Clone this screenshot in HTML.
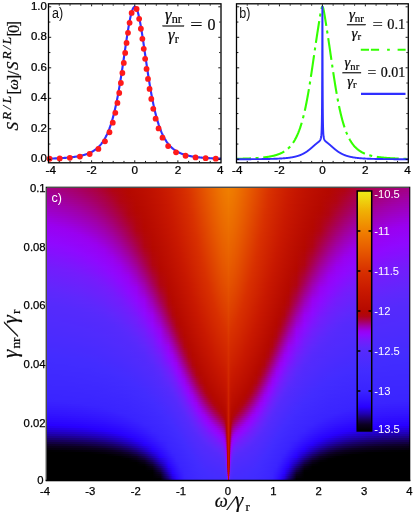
<!DOCTYPE html>
<html><head><meta charset="utf-8"><title>figure</title>
<style>html,body{margin:0;padding:0;background:#fff}body{width:415px;height:514px;position:relative;overflow:hidden}#hm{position:absolute;left:46.5px;top:187.5px;width:363.0px;height:293.0px;overflow:hidden}#hm div{width:100%}</style></head><body>
<div id="hm">
<div style="height:2px;background:linear-gradient(90deg,#a30088 0px,#a40087 1.5px,#a4007f 9.5px,#a50076 17.5px,#a6006b 25.5px,#a8005e 33.5px,#a90150 41.5px,#ab023f 49.5px,#ae032a 57.5px,#b00413 65.5px,#b20609 73.5px,#b50900 81.5px,#b80b00 89.5px,#bc0e00 97.5px,#c01200 105.5px,#c51600 113.5px,#cb1c00 121.5px,#cd2000 125.5px,#d02400 129.5px,#d32900 133.5px,#d62d00 137.5px,#d93400 141.5px,#dc3c00 145.5px,#df4400 149.5px,#e24c00 153.5px,#e55400 157.5px,#e65900 159.5px,#e75d00 161.5px,#e86100 163.5px,#e96500 165.5px,#ea6900 167.5px,#eb6d00 169.5px,#ec7100 171.5px,#ed7200 172.5px,#ed7400 173.5px,#ed7600 174.5px,#ee7700 175.5px,#ee7900 176.5px,#ef7a00 177.5px,#ef7b00 178px,#ef7b00 178.5px,#ef7c00 179px,#ef7c00 179.5px,#ef7d00 180px,#ef7d00 180.5px,#f07e00 181px,#f07f00 181.5px,#f07e00 182px,#ef7d00 182.5px,#ef7d00 183px,#ef7c00 183.5px,#ef7c00 184px,#ef7b00 184.5px,#ef7b00 185px,#ef7a00 185.5px,#ee7900 186.5px,#ee7700 187.5px,#ed7600 188.5px,#ed7400 189.5px,#ed7200 190.5px,#ec7100 191.5px,#eb6d00 193.5px,#ea6900 195.5px,#e96500 197.5px,#e86100 199.5px,#e75d00 201.5px,#e65900 203.5px,#e55400 205.5px,#e24c00 209.5px,#df4400 213.5px,#dc3c00 217.5px,#d93400 221.5px,#d62d00 225.5px,#d32900 229.5px,#d02400 233.5px,#cd2000 237.5px,#cb1c00 241.5px,#c51600 249.5px,#c01200 257.5px,#bc0e00 265.5px,#b80b00 273.5px,#b50900 281.5px,#b20609 289.5px,#b00413 297.5px,#ae032a 305.5px,#ab023f 313.5px,#a90150 321.5px,#a8005e 329.5px,#a6006b 337.5px,#a50076 345.5px,#a4007f 353.5px,#a40087 361.5px,#a30088 363px)"></div>
<div style="height:2px;background:linear-gradient(90deg,#a3008e 0px,#a3008d 1.5px,#a40085 9.5px,#a5007c 17.5px,#a60072 25.5px,#a70065 33.5px,#a90055 41.5px,#ab0144 49.5px,#ad022f 57.5px,#b00415 65.5px,#b2060a 73.5px,#b40800 81.5px,#b80b00 89.5px,#bb0e00 97.5px,#c01100 105.5px,#c51600 113.5px,#ca1c00 121.5px,#cd2000 125.5px,#d02400 129.5px,#d32800 133.5px,#d62d00 137.5px,#d93300 141.5px,#dc3b00 145.5px,#df4300 149.5px,#e24b00 153.5px,#e45400 157.5px,#e65800 159.5px,#e75c00 161.5px,#e86000 163.5px,#e96400 165.5px,#ea6800 167.5px,#eb6c00 169.5px,#ec7000 171.5px,#ec7200 172.5px,#ed7300 173.5px,#ed7500 174.5px,#ee7700 175.5px,#ee7800 176.5px,#ee7900 177.5px,#ee7a00 178px,#ef7a00 178.5px,#ef7b00 179px,#ef7b00 179.5px,#ef7c00 180px,#ef7d00 180.5px,#ef7e00 181px,#f07e00 181.5px,#ef7e00 182px,#ef7d00 182.5px,#ef7c00 183px,#ef7b00 183.5px,#ef7b00 184px,#ef7a00 184.5px,#ee7a00 185px,#ee7900 185.5px,#ee7800 186.5px,#ee7700 187.5px,#ed7500 188.5px,#ed7300 189.5px,#ec7200 190.5px,#ec7000 191.5px,#eb6c00 193.5px,#ea6800 195.5px,#e96400 197.5px,#e86000 199.5px,#e75c00 201.5px,#e65800 203.5px,#e45400 205.5px,#e24b00 209.5px,#df4300 213.5px,#dc3b00 217.5px,#d93300 221.5px,#d62d00 225.5px,#d32800 229.5px,#d02400 233.5px,#cd2000 237.5px,#ca1c00 241.5px,#c51600 249.5px,#c01100 257.5px,#bb0e00 265.5px,#b80b00 273.5px,#b40800 281.5px,#b2060a 289.5px,#b00415 297.5px,#ad022f 305.5px,#ab0144 313.5px,#a90055 321.5px,#a70065 329.5px,#a60072 337.5px,#a5007c 345.5px,#a40085 353.5px,#a3008d 361.5px,#a3008e 363px)"></div>
<div style="height:2px;background:linear-gradient(90deg,#a20094 0px,#a20093 1.5px,#a3008c 9.5px,#a40083 17.5px,#a50078 25.5px,#a6006b 33.5px,#a8005b 41.5px,#aa014a 49.5px,#ac0234 57.5px,#af041b 65.5px,#b2060c 73.5px,#b40800 81.5px,#b70b00 89.5px,#bb0e00 97.5px,#bf1100 105.5px,#c51500 113.5px,#ca1b00 121.5px,#cd1f00 125.5px,#d02400 129.5px,#d32800 133.5px,#d62d00 137.5px,#d93200 141.5px,#dc3a00 145.5px,#de4200 149.5px,#e14b00 153.5px,#e45300 157.5px,#e65700 159.5px,#e75b00 161.5px,#e85f00 163.5px,#e96300 165.5px,#ea6700 167.5px,#eb6b00 169.5px,#ec6f00 171.5px,#ec7100 172.5px,#ed7300 173.5px,#ed7400 174.5px,#ed7600 175.5px,#ee7700 176.5px,#ee7900 177.5px,#ee7900 178px,#ee7a00 178.5px,#ef7a00 179px,#ef7b00 179.5px,#ef7b00 180px,#ef7c00 180.5px,#ef7d00 181px,#ef7e00 181.5px,#ef7d00 182px,#ef7c00 182.5px,#ef7b00 183px,#ef7b00 183.5px,#ef7a00 184px,#ee7a00 184.5px,#ee7900 185px,#ee7900 185.5px,#ee7700 186.5px,#ed7600 187.5px,#ed7400 188.5px,#ed7300 189.5px,#ec7100 190.5px,#ec6f00 191.5px,#eb6b00 193.5px,#ea6700 195.5px,#e96300 197.5px,#e85f00 199.5px,#e75b00 201.5px,#e65700 203.5px,#e45300 205.5px,#e14b00 209.5px,#de4200 213.5px,#dc3a00 217.5px,#d93200 221.5px,#d62d00 225.5px,#d32800 229.5px,#d02400 233.5px,#cd1f00 237.5px,#ca1b00 241.5px,#c51500 249.5px,#bf1100 257.5px,#bb0e00 265.5px,#b70b00 273.5px,#b40800 281.5px,#b2060c 289.5px,#af041b 297.5px,#ac0234 305.5px,#aa014a 313.5px,#a8005b 321.5px,#a6006b 329.5px,#a50078 337.5px,#a40083 345.5px,#a3008c 353.5px,#a20093 361.5px,#a20094 363px)"></div>
<div style="height:2px;background:linear-gradient(90deg,#a2009b 0px,#a20099 1.5px,#a20092 9.5px,#a30089 17.5px,#a4007e 25.5px,#a60071 33.5px,#a70061 41.5px,#a9014f 49.5px,#ac023a 57.5px,#af0320 65.5px,#b1050e 73.5px,#b40802 81.5px,#b70a00 89.5px,#bb0d00 97.5px,#bf1100 105.5px,#c41500 113.5px,#ca1b00 121.5px,#cd1f00 125.5px,#cf2300 129.5px,#d22700 133.5px,#d52c00 137.5px,#d83100 141.5px,#db3900 145.5px,#de4200 149.5px,#e14a00 153.5px,#e45200 157.5px,#e55600 159.5px,#e75a00 161.5px,#e85f00 163.5px,#e96300 165.5px,#ea6700 167.5px,#eb6b00 169.5px,#ec6e00 171.5px,#ec7000 172.5px,#ec7200 173.5px,#ed7400 174.5px,#ed7500 175.5px,#ee7700 176.5px,#ee7800 177.5px,#ee7800 178px,#ee7900 178.5px,#ee7900 179px,#ee7a00 179.5px,#ef7a00 180px,#ef7b00 180.5px,#ef7c00 181px,#ef7d00 181.5px,#ef7c00 182px,#ef7b00 182.5px,#ef7a00 183px,#ee7a00 183.5px,#ee7900 184px,#ee7900 184.5px,#ee7800 185px,#ee7800 185.5px,#ee7700 186.5px,#ed7500 187.5px,#ed7400 188.5px,#ec7200 189.5px,#ec7000 190.5px,#ec6e00 191.5px,#eb6b00 193.5px,#ea6700 195.5px,#e96300 197.5px,#e85f00 199.5px,#e75a00 201.5px,#e55600 203.5px,#e45200 205.5px,#e14a00 209.5px,#de4200 213.5px,#db3900 217.5px,#d83100 221.5px,#d52c00 225.5px,#d22700 229.5px,#cf2300 233.5px,#cd1f00 237.5px,#ca1b00 241.5px,#c41500 249.5px,#bf1100 257.5px,#bb0d00 265.5px,#b70a00 273.5px,#b40802 281.5px,#b1050e 289.5px,#af0320 297.5px,#ac023a 305.5px,#a9014f 313.5px,#a70061 321.5px,#a60071 329.5px,#a4007e 337.5px,#a30089 345.5px,#a20092 353.5px,#a20099 361.5px,#a2009b 363px)"></div>
<div style="height:2px;background:linear-gradient(90deg,#a100a1 0px,#a100a0 1.5px,#a20098 9.5px,#a3008f 17.5px,#a40084 25.5px,#a50077 33.5px,#a70067 41.5px,#a90055 49.5px,#ab0240 57.5px,#ae0326 65.5px,#b10510 73.5px,#b30703 81.5px,#b60a00 89.5px,#ba0d00 97.5px,#bf1100 105.5px,#c41500 113.5px,#ca1a00 121.5px,#cc1e00 125.5px,#cf2300 129.5px,#d22700 133.5px,#d52c00 137.5px,#d83100 141.5px,#db3900 145.5px,#de4100 149.5px,#e14900 153.5px,#e45100 157.5px,#e55600 159.5px,#e65a00 161.5px,#e75e00 163.5px,#e86200 165.5px,#e96600 167.5px,#ea6a00 169.5px,#eb6e00 171.5px,#ec6f00 172.5px,#ec7100 173.5px,#ed7300 174.5px,#ed7400 175.5px,#ed7600 176.5px,#ee7700 177.5px,#ee7800 178px,#ee7800 178.5px,#ee7900 179px,#ee7900 179.5px,#ee7a00 180px,#ef7a00 180.5px,#ef7b00 181px,#ef7c00 181.5px,#ef7b00 182px,#ef7a00 182.5px,#ee7a00 183px,#ee7900 183.5px,#ee7900 184px,#ee7800 184.5px,#ee7800 185px,#ee7700 185.5px,#ed7600 186.5px,#ed7400 187.5px,#ed7300 188.5px,#ec7100 189.5px,#ec6f00 190.5px,#eb6e00 191.5px,#ea6a00 193.5px,#e96600 195.5px,#e86200 197.5px,#e75e00 199.5px,#e65a00 201.5px,#e55600 203.5px,#e45100 205.5px,#e14900 209.5px,#de4100 213.5px,#db3900 217.5px,#d83100 221.5px,#d52c00 225.5px,#d22700 229.5px,#cf2300 233.5px,#cc1e00 237.5px,#ca1a00 241.5px,#c41500 249.5px,#bf1100 257.5px,#ba0d00 265.5px,#b60a00 273.5px,#b30703 281.5px,#b10510 289.5px,#ae0326 297.5px,#ab0240 305.5px,#a90055 313.5px,#a70067 321.5px,#a50077 329.5px,#a40084 337.5px,#a3008f 345.5px,#a20098 353.5px,#a100a0 361.5px,#a100a1 363px)"></div>
<div style="height:2px;background:linear-gradient(90deg,#a000a7 0px,#a000a6 1.5px,#a1009e 9.5px,#a20095 17.5px,#a3008b 25.5px,#a4007e 33.5px,#a6006e 41.5px,#a8005a 49.5px,#aa0145 57.5px,#ad032b 65.5px,#b10511 73.5px,#b30705 81.5px,#b60a00 89.5px,#ba0d00 97.5px,#be1000 105.5px,#c41400 113.5px,#c91a00 121.5px,#cc1e00 125.5px,#cf2200 129.5px,#d22700 133.5px,#d52b00 137.5px,#d83000 141.5px,#db3800 145.5px,#de4000 149.5px,#e14800 153.5px,#e35100 157.5px,#e55500 159.5px,#e65900 161.5px,#e75d00 163.5px,#e86100 165.5px,#e96500 167.5px,#ea6900 169.5px,#eb6d00 171.5px,#ec6f00 172.5px,#ec7000 173.5px,#ec7200 174.5px,#ed7400 175.5px,#ed7500 176.5px,#ee7600 177.5px,#ee7700 178px,#ee7700 178.5px,#ee7800 179px,#ee7800 179.5px,#ee7900 180px,#ee7900 180.5px,#ef7b00 181px,#ef7b00 182px,#ee7900 182.5px,#ee7900 183px,#ee7800 183.5px,#ee7800 184px,#ee7700 184.5px,#ee7700 185px,#ee7600 185.5px,#ed7500 186.5px,#ed7400 187.5px,#ec7200 188.5px,#ec7000 189.5px,#ec6f00 190.5px,#eb6d00 191.5px,#ea6900 193.5px,#e96500 195.5px,#e86100 197.5px,#e75d00 199.5px,#e65900 201.5px,#e55500 203.5px,#e35100 205.5px,#e14800 209.5px,#de4000 213.5px,#db3800 217.5px,#d83000 221.5px,#d52b00 225.5px,#d22700 229.5px,#cf2200 233.5px,#cc1e00 237.5px,#c91a00 241.5px,#c41400 249.5px,#be1000 257.5px,#ba0d00 265.5px,#b60a00 273.5px,#b30705 281.5px,#b10511 289.5px,#ad032b 297.5px,#aa0145 305.5px,#a8005a 313.5px,#a6006e 321.5px,#a4007e 329.5px,#a3008b 337.5px,#a20095 345.5px,#a1009e 353.5px,#a000a6 361.5px,#a000a7 363px)"></div>
<div style="height:2px;background:linear-gradient(90deg,#a000ad 0px,#a000ac 1.5px,#a100a5 9.5px,#a1009c 17.5px,#a20091 25.5px,#a40084 33.5px,#a50074 41.5px,#a70061 49.5px,#aa014b 57.5px,#ad0231 65.5px,#b00413 73.5px,#b30707 81.5px,#b60900 89.5px,#b90c00 97.5px,#be1000 105.5px,#c31400 113.5px,#c91900 121.5px,#cc1d00 125.5px,#ce2200 129.5px,#d12600 133.5px,#d42b00 137.5px,#d82f00 141.5px,#da3700 145.5px,#dd3f00 149.5px,#e04800 153.5px,#e35000 157.5px,#e55400 159.5px,#e65800 161.5px,#e75c00 163.5px,#e86000 165.5px,#e96400 167.5px,#ea6800 169.5px,#eb6c00 171.5px,#eb6e00 172.5px,#ec7000 173.5px,#ec7100 174.5px,#ed7300 175.5px,#ed7400 176.5px,#ed7500 177.5px,#ee7600 178px,#ee7700 178.5px,#ee7700 179.5px,#ee7800 180px,#ee7900 180.5px,#ee7a00 181px,#ef7b00 181.5px,#ee7a00 182px,#ee7900 182.5px,#ee7800 183px,#ee7700 183.5px,#ee7700 184.5px,#ee7600 185px,#ed7500 185.5px,#ed7400 186.5px,#ed7300 187.5px,#ec7100 188.5px,#ec7000 189.5px,#eb6e00 190.5px,#eb6c00 191.5px,#ea6800 193.5px,#e96400 195.5px,#e86000 197.5px,#e75c00 199.5px,#e65800 201.5px,#e55400 203.5px,#e35000 205.5px,#e04800 209.5px,#dd3f00 213.5px,#da3700 217.5px,#d82f00 221.5px,#d42b00 225.5px,#d12600 229.5px,#ce2200 233.5px,#cc1d00 237.5px,#c91900 241.5px,#c31400 249.5px,#be1000 257.5px,#b90c00 265.5px,#b60900 273.5px,#b30707 281.5px,#b00413 289.5px,#ad0231 297.5px,#aa014b 305.5px,#a70061 313.5px,#a50074 321.5px,#a40084 329.5px,#a20091 337.5px,#a1009c 345.5px,#a100a5 353.5px,#a000ac 361.5px,#a000ad 363px)"></div>
<div style="height:2px;background:linear-gradient(90deg,#9f00b3 0px,#9f00b2 1.5px,#a000ab 9.5px,#a100a2 17.5px,#a20097 25.5px,#a3008a 33.5px,#a5007b 41.5px,#a70067 49.5px,#a90151 57.5px,#ac0237 65.5px,#b00417 73.5px,#b20609 81.5px,#b50900 89.5px,#b90c00 97.5px,#be1000 105.5px,#c31400 113.5px,#c91900 121.5px,#cb1d00 125.5px,#ce2100 129.5px,#d12600 133.5px,#d42a00 137.5px,#d72f00 141.5px,#da3600 145.5px,#dd3e00 149.5px,#e04700 153.5px,#e34f00 157.5px,#e45300 159.5px,#e65700 161.5px,#e75b00 163.5px,#e85f00 165.5px,#e96300 167.5px,#ea6700 169.5px,#eb6b00 171.5px,#eb6d00 172.5px,#ec6f00 173.5px,#ec7000 174.5px,#ec7200 175.5px,#ed7300 176.5px,#ed7500 177.5px,#ed7500 178px,#ed7600 178.5px,#ee7600 179px,#ee7700 179.5px,#ee7700 180px,#ee7800 180.5px,#ee7900 181px,#ee7a00 181.5px,#ee7900 182px,#ee7800 182.5px,#ee7700 183px,#ee7700 183.5px,#ee7600 184px,#ed7600 184.5px,#ed7500 185px,#ed7500 185.5px,#ed7300 186.5px,#ec7200 187.5px,#ec7000 188.5px,#ec6f00 189.5px,#eb6d00 190.5px,#eb6b00 191.5px,#ea6700 193.5px,#e96300 195.5px,#e85f00 197.5px,#e75b00 199.5px,#e65700 201.5px,#e45300 203.5px,#e34f00 205.5px,#e04700 209.5px,#dd3e00 213.5px,#da3600 217.5px,#d72f00 221.5px,#d42a00 225.5px,#d12600 229.5px,#ce2100 233.5px,#cb1d00 237.5px,#c91900 241.5px,#c31400 249.5px,#be1000 257.5px,#b90c00 265.5px,#b50900 273.5px,#b20609 281.5px,#b00417 289.5px,#ac0237 297.5px,#a90151 305.5px,#a70067 313.5px,#a5007b 321.5px,#a3008a 329.5px,#a20097 337.5px,#a100a2 345.5px,#a000ab 353.5px,#9f00b2 361.5px,#9f00b3 363px)"></div>
<div style="height:2px;background:linear-gradient(90deg,#9f00b8 0px,#9f00b7 1.5px,#9f00b1 9.5px,#a000a9 17.5px,#a1009e 25.5px,#a30091 33.5px,#a40081 41.5px,#a6006e 49.5px,#a80056 57.5px,#ab023c 65.5px,#af041d 73.5px,#b2060b 81.5px,#b50900 89.5px,#b90c00 97.5px,#bd0f00 105.5px,#c21300 113.5px,#c81800 121.5px,#cb1c00 125.5px,#ce2100 129.5px,#d12500 133.5px,#d42a00 137.5px,#d72e00 141.5px,#da3600 145.5px,#dd3e00 149.5px,#e04600 153.5px,#e34e00 157.5px,#e45200 159.5px,#e55600 161.5px,#e75b00 163.5px,#e85f00 165.5px,#e96300 167.5px,#ea6700 169.5px,#eb6a00 171.5px,#eb6c00 172.5px,#eb6e00 173.5px,#ec7000 174.5px,#ec7100 175.5px,#ed7300 176.5px,#ed7400 177.5px,#ed7400 178px,#ed7500 178.5px,#ed7500 179px,#ed7600 179.5px,#ee7600 180px,#ee7700 180.5px,#ee7800 181px,#ee7900 181.5px,#ee7800 182px,#ee7700 182.5px,#ee7600 183px,#ed7600 183.5px,#ed7500 184px,#ed7500 184.5px,#ed7400 185px,#ed7400 185.5px,#ed7300 186.5px,#ec7100 187.5px,#ec7000 188.5px,#eb6e00 189.5px,#eb6c00 190.5px,#eb6a00 191.5px,#ea6700 193.5px,#e96300 195.5px,#e85f00 197.5px,#e75b00 199.5px,#e55600 201.5px,#e45200 203.5px,#e34e00 205.5px,#e04600 209.5px,#dd3e00 213.5px,#da3600 217.5px,#d72e00 221.5px,#d42a00 225.5px,#d12500 229.5px,#ce2100 233.5px,#cb1c00 237.5px,#c81800 241.5px,#c21300 249.5px,#bd0f00 257.5px,#b90c00 265.5px,#b50900 273.5px,#b2060b 281.5px,#af041d 289.5px,#ab023c 297.5px,#a80056 305.5px,#a6006e 313.5px,#a40081 321.5px,#a30091 329.5px,#a1009e 337.5px,#a000a9 345.5px,#9f00b1 353.5px,#9f00b7 361.5px,#9f00b8 363px)"></div>
<div style="height:2px;background:linear-gradient(90deg,#9e00be 0px,#9e00bd 1.5px,#9f00b6 9.5px,#a000af 17.5px,#a100a5 25.5px,#a20098 33.5px,#a30088 41.5px,#a50074 49.5px,#a8005c 57.5px,#ab0142 65.5px,#ae0322 73.5px,#b2060c 81.5px,#b40800 89.5px,#b80b00 97.5px,#bd0f00 105.5px,#c21300 113.5px,#c81800 121.5px,#cb1c00 125.5px,#cd2000 129.5px,#d02500 133.5px,#d32900 137.5px,#d72e00 141.5px,#da3500 145.5px,#dd3d00 149.5px,#df4500 153.5px,#e24d00 157.5px,#e45200 159.5px,#e55600 161.5px,#e65a00 163.5px,#e75e00 165.5px,#e86200 167.5px,#e96600 169.5px,#ea6a00 171.5px,#eb6b00 172.5px,#eb6d00 173.5px,#ec6f00 174.5px,#ec7000 175.5px,#ec7200 176.5px,#ed7300 177.5px,#ed7400 178px,#ed7400 178.5px,#ed7500 179px,#ed7500 179.5px,#ed7600 180px,#ee7600 180.5px,#ee7700 181px,#ee7800 181.5px,#ee7700 182px,#ee7600 182.5px,#ed7600 183px,#ed7500 183.5px,#ed7500 184px,#ed7400 184.5px,#ed7400 185px,#ed7300 185.5px,#ec7200 186.5px,#ec7000 187.5px,#ec6f00 188.5px,#eb6d00 189.5px,#eb6b00 190.5px,#ea6a00 191.5px,#e96600 193.5px,#e86200 195.5px,#e75e00 197.5px,#e65a00 199.5px,#e55600 201.5px,#e45200 203.5px,#e24d00 205.5px,#df4500 209.5px,#dd3d00 213.5px,#da3500 217.5px,#d72e00 221.5px,#d32900 225.5px,#d02500 229.5px,#cd2000 233.5px,#cb1c00 237.5px,#c81800 241.5px,#c21300 249.5px,#bd0f00 257.5px,#b80b00 265.5px,#b40800 273.5px,#b2060c 281.5px,#ae0322 289.5px,#ab0142 297.5px,#a8005c 305.5px,#a50074 313.5px,#a30088 321.5px,#a20098 329.5px,#a100a5 337.5px,#a000af 345.5px,#9f00b6 353.5px,#9e00bd 361.5px,#9e00be 363px)"></div>
<div style="height:2px;background:linear-gradient(90deg,#9e00c4 0px,#9e00c3 1.5px,#9e00bc 9.5px,#9f00b4 17.5px,#a000ab 25.5px,#a1009e 33.5px,#a3008e 41.5px,#a5007b 49.5px,#a70063 57.5px,#aa0148 65.5px,#ae0328 73.5px,#b1050e 81.5px,#b40800 89.5px,#b80b00 97.5px,#bc0f00 105.5px,#c21300 113.5px,#c81800 121.5px,#ca1b00 125.5px,#cd2000 129.5px,#d02400 133.5px,#d32900 137.5px,#d62d00 141.5px,#d93400 145.5px,#dc3c00 149.5px,#df4400 153.5px,#e24d00 157.5px,#e35100 159.5px,#e55500 161.5px,#e65900 163.5px,#e75d00 165.5px,#e86100 167.5px,#e96500 169.5px,#ea6900 171.5px,#eb6b00 172.5px,#eb6c00 173.5px,#eb6e00 174.5px,#ec7000 175.5px,#ec7100 176.5px,#ed7200 177.5px,#ed7300 178px,#ed7300 178.5px,#ed7400 179px,#ed7400 179.5px,#ed7500 180px,#ed7500 180.5px,#ee7700 181px,#ee7700 182px,#ed7500 182.5px,#ed7500 183px,#ed7400 183.5px,#ed7400 184px,#ed7300 184.5px,#ed7300 185px,#ed7200 185.5px,#ec7100 186.5px,#ec7000 187.5px,#eb6e00 188.5px,#eb6c00 189.5px,#eb6b00 190.5px,#ea6900 191.5px,#e96500 193.5px,#e86100 195.5px,#e75d00 197.5px,#e65900 199.5px,#e55500 201.5px,#e35100 203.5px,#e24d00 205.5px,#df4400 209.5px,#dc3c00 213.5px,#d93400 217.5px,#d62d00 221.5px,#d32900 225.5px,#d02400 229.5px,#cd2000 233.5px,#ca1b00 237.5px,#c81800 241.5px,#c21300 249.5px,#bc0f00 257.5px,#b80b00 265.5px,#b40800 273.5px,#b1050e 281.5px,#ae0328 289.5px,#aa0148 297.5px,#a70063 305.5px,#a5007b 313.5px,#a3008e 321.5px,#a1009e 329.5px,#a000ab 337.5px,#9f00b4 345.5px,#9e00bc 353.5px,#9e00c3 361.5px,#9e00c4 363px)"></div>
<div style="height:2px;background:linear-gradient(90deg,#9d00c9 0px,#9d00c8 1.5px,#9e00c2 9.5px,#9f00ba 17.5px,#9f00b1 25.5px,#a100a5 33.5px,#a20095 41.5px,#a40082 49.5px,#a6006a 57.5px,#a9014e 65.5px,#ad032e 73.5px,#b10510 81.5px,#b40801 89.5px,#b70b00 97.5px,#bc0e00 105.5px,#c11300 113.5px,#c71700 121.5px,#ca1b00 125.5px,#cd1f00 129.5px,#d02400 133.5px,#d32800 137.5px,#d62d00 141.5px,#d93300 145.5px,#dc3b00 149.5px,#df4400 153.5px,#e24c00 157.5px,#e35000 159.5px,#e55400 161.5px,#e65800 163.5px,#e75c00 165.5px,#e86000 167.5px,#e96400 169.5px,#ea6800 171.5px,#ea6a00 172.5px,#eb6b00 173.5px,#eb6d00 174.5px,#ec6f00 175.5px,#ec7000 176.5px,#ec7100 177.5px,#ec7200 178px,#ed7200 178.5px,#ed7300 179px,#ed7300 179.5px,#ed7400 180px,#ed7500 180.5px,#ed7600 181px,#ee7700 181.5px,#ed7600 182px,#ed7500 182.5px,#ed7400 183px,#ed7300 183.5px,#ed7300 184px,#ed7200 184.5px,#ec7200 185px,#ec7100 185.5px,#ec7000 186.5px,#ec6f00 187.5px,#eb6d00 188.5px,#eb6b00 189.5px,#ea6a00 190.5px,#ea6800 191.5px,#e96400 193.5px,#e86000 195.5px,#e75c00 197.5px,#e65800 199.5px,#e55400 201.5px,#e35000 203.5px,#e24c00 205.5px,#df4400 209.5px,#dc3b00 213.5px,#d93300 217.5px,#d62d00 221.5px,#d32800 225.5px,#d02400 229.5px,#cd1f00 233.5px,#ca1b00 237.5px,#c71700 241.5px,#c11300 249.5px,#bc0e00 257.5px,#b70b00 265.5px,#b40801 273.5px,#b10510 281.5px,#ad032e 289.5px,#a9014e 297.5px,#a6006a 305.5px,#a40082 313.5px,#a20095 321.5px,#a100a5 329.5px,#9f00b1 337.5px,#9f00ba 345.5px,#9e00c2 353.5px,#9d00c8 361.5px,#9d00c9 363px)"></div>
<div style="height:2px;background:linear-gradient(90deg,#9d00cf 0px,#9d00ce 1.5px,#9d00c8 9.5px,#9e00c0 17.5px,#9f00b7 25.5px,#a000ab 33.5px,#a1009c 41.5px,#a30088 49.5px,#a60070 57.5px,#a90054 65.5px,#ac0234 73.5px,#b00412 81.5px,#b30703 89.5px,#b70a00 97.5px,#bc0e00 105.5px,#c11200 113.5px,#c71700 121.5px,#ca1a00 125.5px,#cc1f00 129.5px,#cf2300 133.5px,#d32800 137.5px,#d62d00 141.5px,#d93200 145.5px,#dc3a00 149.5px,#df4300 153.5px,#e14b00 157.5px,#e34f00 159.5px,#e45300 161.5px,#e65700 163.5px,#e75b00 165.5px,#e85f00 167.5px,#e96300 169.5px,#ea6700 171.5px,#ea6900 172.5px,#eb6b00 173.5px,#eb6c00 174.5px,#eb6e00 175.5px,#ec6f00 176.5px,#ec7100 177.5px,#ec7100 178px,#ec7200 178.5px,#ed7200 179px,#ed7300 179.5px,#ed7300 180px,#ed7400 180.5px,#ed7500 181px,#ed7600 181.5px,#ed7500 182px,#ed7400 182.5px,#ed7300 183px,#ed7300 183.5px,#ed7200 184px,#ec7200 184.5px,#ec7100 185px,#ec7100 185.5px,#ec6f00 186.5px,#eb6e00 187.5px,#eb6c00 188.5px,#eb6b00 189.5px,#ea6900 190.5px,#ea6700 191.5px,#e96300 193.5px,#e85f00 195.5px,#e75b00 197.5px,#e65700 199.5px,#e45300 201.5px,#e34f00 203.5px,#e14b00 205.5px,#df4300 209.5px,#dc3a00 213.5px,#d93200 217.5px,#d62d00 221.5px,#d32800 225.5px,#cf2300 229.5px,#cc1f00 233.5px,#ca1a00 237.5px,#c71700 241.5px,#c11200 249.5px,#bc0e00 257.5px,#b70a00 265.5px,#b30703 273.5px,#b00412 281.5px,#ac0234 289.5px,#a90054 297.5px,#a60070 305.5px,#a30088 313.5px,#a1009c 321.5px,#a000ab 329.5px,#9f00b7 337.5px,#9e00c0 345.5px,#9d00c8 353.5px,#9d00ce 361.5px,#9d00cf 363px)"></div>
<div style="height:2px;background:linear-gradient(90deg,#9c00d5 0px,#9c00d4 1.5px,#9d00cd 9.5px,#9e00c6 17.5px,#9e00bc 25.5px,#9f00b1 33.5px,#a100a2 41.5px,#a3008f 49.5px,#a50077 57.5px,#a8005a 65.5px,#ac023a 73.5px,#b00414 81.5px,#b30705 89.5px,#b70a00 97.5px,#bb0e00 105.5px,#c01200 113.5px,#c61700 121.5px,#c91a00 125.5px,#cc1e00 129.5px,#cf2300 133.5px,#d22700 137.5px,#d52c00 141.5px,#d83100 145.5px,#db3a00 149.5px,#de4200 153.5px,#e14a00 157.5px,#e34e00 159.5px,#e45200 161.5px,#e55600 163.5px,#e75b00 165.5px,#e85f00 167.5px,#e96200 169.5px,#ea6600 171.5px,#ea6800 172.5px,#ea6a00 173.5px,#eb6b00 174.5px,#eb6d00 175.5px,#ec6e00 176.5px,#ec7000 177.5px,#ec7000 178px,#ec7100 178.5px,#ec7100 179px,#ec7200 179.5px,#ed7200 180px,#ed7300 180.5px,#ed7400 181px,#ed7500 181.5px,#ed7400 182px,#ed7300 182.5px,#ed7200 183px,#ec7200 183.5px,#ec7100 184px,#ec7100 184.5px,#ec7000 185px,#ec7000 185.5px,#ec6e00 186.5px,#eb6d00 187.5px,#eb6b00 188.5px,#ea6a00 189.5px,#ea6800 190.5px,#ea6600 191.5px,#e96200 193.5px,#e85f00 195.5px,#e75b00 197.5px,#e55600 199.5px,#e45200 201.5px,#e34e00 203.5px,#e14a00 205.5px,#de4200 209.5px,#db3a00 213.5px,#d83100 217.5px,#d52c00 221.5px,#d22700 225.5px,#cf2300 229.5px,#cc1e00 233.5px,#c91a00 237.5px,#c61700 241.5px,#c01200 249.5px,#bb0e00 257.5px,#b70a00 265.5px,#b30705 273.5px,#b00414 281.5px,#ac023a 289.5px,#a8005a 297.5px,#a50077 305.5px,#a3008f 313.5px,#a100a2 321.5px,#9f00b1 329.5px,#9e00bc 337.5px,#9e00c6 345.5px,#9d00cd 353.5px,#9c00d4 361.5px,#9c00d5 363px)"></div>
<div style="height:2px;background:linear-gradient(90deg,#9c00db 0px,#9c00da 1.5px,#9c00d3 9.5px,#9d00cc 17.5px,#9e00c2 25.5px,#9f00b7 33.5px,#a000a9 41.5px,#a20096 49.5px,#a4007e 57.5px,#a70061 65.5px,#ab0140 73.5px,#af041a 81.5px,#b30707 89.5px,#b60a00 97.5px,#bb0d00 105.5px,#c01200 113.5px,#c61600 121.5px,#c91900 125.5px,#cc1e00 129.5px,#cf2200 133.5px,#d22700 137.5px,#d52c00 141.5px,#d83100 145.5px,#db3900 149.5px,#de4100 153.5px,#e14900 157.5px,#e24d00 159.5px,#e45200 161.5px,#e55600 163.5px,#e65a00 165.5px,#e75e00 167.5px,#e86200 169.5px,#e96500 171.5px,#ea6700 172.5px,#ea6900 173.5px,#eb6b00 174.5px,#eb6c00 175.5px,#eb6e00 176.5px,#ec6f00 177.5px,#ec6f00 178px,#ec7000 178.5px,#ec7000 179px,#ec7100 179.5px,#ec7100 180px,#ed7200 180.5px,#ed7300 181px,#ed7400 181.5px,#ed7300 182px,#ed7200 182.5px,#ec7100 183px,#ec7100 183.5px,#ec7000 184px,#ec7000 184.5px,#ec6f00 185px,#ec6f00 185.5px,#eb6e00 186.5px,#eb6c00 187.5px,#eb6b00 188.5px,#ea6900 189.5px,#ea6700 190.5px,#e96500 191.5px,#e86200 193.5px,#e75e00 195.5px,#e65a00 197.5px,#e55600 199.5px,#e45200 201.5px,#e24d00 203.5px,#e14900 205.5px,#de4100 209.5px,#db3900 213.5px,#d83100 217.5px,#d52c00 221.5px,#d22700 225.5px,#cf2200 229.5px,#cc1e00 233.5px,#c91900 237.5px,#c61600 241.5px,#c01200 249.5px,#bb0d00 257.5px,#b60a00 265.5px,#b30707 273.5px,#af041a 281.5px,#ab0140 289.5px,#a70061 297.5px,#a4007e 305.5px,#a20096 313.5px,#a000a9 321.5px,#9f00b7 329.5px,#9e00c2 337.5px,#9d00cc 345.5px,#9c00d3 353.5px,#9c00da 361.5px,#9c00db 363px)"></div>
<div style="height:2px;background:linear-gradient(90deg,#9b00e1 0px,#9b00e0 1.5px,#9c00d9 9.5px,#9d00d2 17.5px,#9d00c8 25.5px,#9e00bd 33.5px,#a000af 41.5px,#a1009d 49.5px,#a40085 57.5px,#a70068 65.5px,#aa0146 73.5px,#af0320 81.5px,#b20609 89.5px,#b60900 97.5px,#ba0d00 105.5px,#c01100 113.5px,#c51600 121.5px,#c91900 125.5px,#cb1d00 129.5px,#ce2200 133.5px,#d22600 137.5px,#d52b00 141.5px,#d83000 145.5px,#db3800 149.5px,#de4000 153.5px,#e14800 157.5px,#e24d00 159.5px,#e35100 161.5px,#e55500 163.5px,#e65900 165.5px,#e75d00 167.5px,#e86100 169.5px,#e96500 171.5px,#ea6600 172.5px,#ea6800 173.5px,#ea6a00 174.5px,#eb6b00 175.5px,#eb6d00 176.5px,#ec6e00 177.5px,#ec6f00 178px,#ec6f00 178.5px,#ec7000 179px,#ec7000 179.5px,#ec7100 180px,#ec7100 180.5px,#ed7300 181px,#ed7300 182px,#ec7100 182.5px,#ec7100 183px,#ec7000 183.5px,#ec7000 184px,#ec6f00 184.5px,#ec6f00 185px,#ec6e00 185.5px,#eb6d00 186.5px,#eb6b00 187.5px,#ea6a00 188.5px,#ea6800 189.5px,#ea6600 190.5px,#e96500 191.5px,#e86100 193.5px,#e75d00 195.5px,#e65900 197.5px,#e55500 199.5px,#e35100 201.5px,#e24d00 203.5px,#e14800 205.5px,#de4000 209.5px,#db3800 213.5px,#d83000 217.5px,#d52b00 221.5px,#d22600 225.5px,#ce2200 229.5px,#cb1d00 233.5px,#c91900 237.5px,#c51600 241.5px,#c01100 249.5px,#ba0d00 257.5px,#b60900 265.5px,#b20609 273.5px,#af0320 281.5px,#aa0146 289.5px,#a70068 297.5px,#a40085 305.5px,#a1009d 313.5px,#a000af 321.5px,#9e00bd 329.5px,#9d00c8 337.5px,#9d00d2 345.5px,#9c00d9 353.5px,#9b00e0 361.5px,#9b00e1 363px)"></div>
<div style="height:2px;background:linear-gradient(90deg,#9b00e7 0px,#9b00e6 1.5px,#9b00df 9.5px,#9c00d8 17.5px,#9d00ce 25.5px,#9e00c3 33.5px,#9f00b5 41.5px,#a100a4 49.5px,#a3008c 57.5px,#a6006f 65.5px,#aa014c 73.5px,#ae0326 81.5px,#b2060b 89.5px,#b50900 97.5px,#ba0d00 105.5px,#bf1100 113.5px,#c51600 121.5px,#c81800 125.5px,#cb1d00 129.5px,#ce2100 133.5px,#d12600 137.5px,#d42a00 141.5px,#d82f00 145.5px,#da3700 149.5px,#dd3f00 153.5px,#e04800 157.5px,#e24c00 159.5px,#e35000 161.5px,#e55400 163.5px,#e65800 165.5px,#e75c00 167.5px,#e86000 169.5px,#e96400 171.5px,#e96600 172.5px,#ea6700 173.5px,#ea6900 174.5px,#eb6a00 175.5px,#eb6c00 176.5px,#eb6d00 177.5px,#eb6e00 178px,#ec6e00 178.5px,#ec6f00 179px,#ec6f00 179.5px,#ec7000 180px,#ec7100 180.5px,#ec7200 181px,#ed7300 181.5px,#ec7200 182px,#ec7100 182.5px,#ec7000 183px,#ec6f00 183.5px,#ec6f00 184px,#ec6e00 184.5px,#eb6e00 185px,#eb6d00 185.5px,#eb6c00 186.5px,#eb6a00 187.5px,#ea6900 188.5px,#ea6700 189.5px,#e96600 190.5px,#e96400 191.5px,#e86000 193.5px,#e75c00 195.5px,#e65800 197.5px,#e55400 199.5px,#e35000 201.5px,#e24c00 203.5px,#e04800 205.5px,#dd3f00 209.5px,#da3700 213.5px,#d82f00 217.5px,#d42a00 221.5px,#d12600 225.5px,#ce2100 229.5px,#cb1d00 233.5px,#c81800 237.5px,#c51600 241.5px,#bf1100 249.5px,#ba0d00 257.5px,#b50900 265.5px,#b2060b 273.5px,#ae0326 281.5px,#aa014c 289.5px,#a6006f 297.5px,#a3008c 305.5px,#a100a4 313.5px,#9f00b5 321.5px,#9e00c3 329.5px,#9d00ce 337.5px,#9c00d8 345.5px,#9b00df 353.5px,#9b00e6 361.5px,#9b00e7 363px)"></div>
<div style="height:2px;background:linear-gradient(90deg,#9a00ed 0px,#9a00ec 1.5px,#9b00e5 9.5px,#9c00de 17.5px,#9c00d4 25.5px,#9d00c9 33.5px,#9e00bc 41.5px,#a000ab 49.5px,#a20093 57.5px,#a50076 65.5px,#a90053 73.5px,#ad032c 81.5px,#b1050d 89.5px,#b50900 97.5px,#b90c00 105.5px,#bf1100 113.5px,#c51500 121.5px,#c81800 125.5px,#cb1c00 129.5px,#ce2100 133.5px,#d12500 137.5px,#d42a00 141.5px,#d72f00 145.5px,#da3600 149.5px,#dd3e00 153.5px,#e04700 157.5px,#e14b00 159.5px,#e34f00 161.5px,#e45300 163.5px,#e65700 165.5px,#e75b00 167.5px,#e85f00 169.5px,#e96300 171.5px,#e96500 172.5px,#ea6600 173.5px,#ea6800 174.5px,#ea6a00 175.5px,#eb6b00 176.5px,#eb6c00 177.5px,#eb6d00 178px,#eb6d00 178.5px,#eb6e00 179px,#ec6e00 179.5px,#ec6f00 180px,#ec7000 180.5px,#ec7100 181px,#ec7200 181.5px,#ec7100 182px,#ec7000 182.5px,#ec6f00 183px,#ec6e00 183.5px,#eb6e00 184px,#eb6d00 184.5px,#eb6d00 185px,#eb6c00 185.5px,#eb6b00 186.5px,#ea6a00 187.5px,#ea6800 188.5px,#ea6600 189.5px,#e96500 190.5px,#e96300 191.5px,#e85f00 193.5px,#e75b00 195.5px,#e65700 197.5px,#e45300 199.5px,#e34f00 201.5px,#e14b00 203.5px,#e04700 205.5px,#dd3e00 209.5px,#da3600 213.5px,#d72f00 217.5px,#d42a00 221.5px,#d12500 225.5px,#ce2100 229.5px,#cb1c00 233.5px,#c81800 237.5px,#c51500 241.5px,#bf1100 249.5px,#b90c00 257.5px,#b50900 265.5px,#b1050d 273.5px,#ad032c 281.5px,#a90053 289.5px,#a50076 297.5px,#a20093 305.5px,#a000ab 313.5px,#9e00bc 321.5px,#9d00c9 329.5px,#9c00d4 337.5px,#9c00de 345.5px,#9b00e5 353.5px,#9a00ec 361.5px,#9a00ed 363px)"></div>
<div style="height:2px;background:linear-gradient(90deg,#9900f1 0px,#9a00f1 1.5px,#9a00eb 9.5px,#9b00e4 17.5px,#9c00db 25.5px,#9d00cf 33.5px,#9e00c2 41.5px,#9f00b1 49.5px,#a2009a 57.5px,#a5007d 65.5px,#a80059 73.5px,#ad0232 81.5px,#b1050f 89.5px,#b50800 97.5px,#b90c00 105.5px,#be1000 113.5px,#c41500 121.5px,#c71800 125.5px,#ca1c00 129.5px,#cd2000 133.5px,#d02500 137.5px,#d42900 141.5px,#d72e00 145.5px,#da3500 149.5px,#dd3e00 153.5px,#e04600 157.5px,#e14a00 159.5px,#e34e00 161.5px,#e45200 163.5px,#e55600 165.5px,#e75a00 167.5px,#e85e00 169.5px,#e86200 171.5px,#e96400 172.5px,#e96600 173.5px,#ea6700 174.5px,#ea6900 175.5px,#eb6a00 176.5px,#eb6b00 177.5px,#eb6c00 178px,#eb6d00 178.5px,#eb6d00 179px,#eb6e00 179.5px,#ec6e00 180px,#ec6f00 180.5px,#ec7000 181px,#ec7100 181.5px,#ec7000 182px,#ec6f00 182.5px,#ec6e00 183px,#eb6e00 183.5px,#eb6d00 184px,#eb6d00 184.5px,#eb6c00 185px,#eb6b00 185.5px,#eb6a00 186.5px,#ea6900 187.5px,#ea6700 188.5px,#e96600 189.5px,#e96400 190.5px,#e86200 191.5px,#e85e00 193.5px,#e75a00 195.5px,#e55600 197.5px,#e45200 199.5px,#e34e00 201.5px,#e14a00 203.5px,#e04600 205.5px,#dd3e00 209.5px,#da3500 213.5px,#d72e00 217.5px,#d42900 221.5px,#d02500 225.5px,#cd2000 229.5px,#ca1c00 233.5px,#c71800 237.5px,#c41500 241.5px,#be1000 249.5px,#b90c00 257.5px,#b50800 265.5px,#b1050f 273.5px,#ad0232 281.5px,#a80059 289.5px,#a5007d 297.5px,#a2009a 305.5px,#9f00b1 313.5px,#9e00c2 321.5px,#9d00cf 329.5px,#9c00db 337.5px,#9b00e4 345.5px,#9a00eb 353.5px,#9a00f1 361.5px,#9900f1 363px)"></div>
<div style="height:2px;background:linear-gradient(90deg,#9801f2 0px,#9901f2 1.5px,#9a00f0 9.5px,#9b00ea 17.5px,#9b00e1 25.5px,#9c00d6 33.5px,#9d00c8 41.5px,#9f00b7 49.5px,#a100a1 57.5px,#a40084 65.5px,#a70060 73.5px,#ac0239 81.5px,#b10511 89.5px,#b40800 97.5px,#b90c00 105.5px,#be1000 113.5px,#c41500 121.5px,#c71700 125.5px,#ca1b00 129.5px,#cd2000 133.5px,#d02400 137.5px,#d32900 141.5px,#d72e00 145.5px,#da3400 149.5px,#dc3d00 153.5px,#df4500 157.5px,#e14900 159.5px,#e24d00 161.5px,#e45100 163.5px,#e55500 165.5px,#e65900 167.5px,#e75d00 169.5px,#e86100 171.5px,#e96300 172.5px,#e96500 173.5px,#ea6600 174.5px,#ea6800 175.5px,#ea6900 176.5px,#eb6b00 177.5px,#eb6b00 178px,#eb6c00 178.5px,#eb6c00 179px,#eb6d00 179.5px,#eb6d00 180px,#eb6e00 180.5px,#ec6f00 181px,#ec7000 181.5px,#ec6f00 182px,#eb6e00 182.5px,#eb6d00 183px,#eb6d00 183.5px,#eb6c00 184px,#eb6c00 184.5px,#eb6b00 185px,#eb6b00 185.5px,#ea6900 186.5px,#ea6800 187.5px,#ea6600 188.5px,#e96500 189.5px,#e96300 190.5px,#e86100 191.5px,#e75d00 193.5px,#e65900 195.5px,#e55500 197.5px,#e45100 199.5px,#e24d00 201.5px,#e14900 203.5px,#df4500 205.5px,#dc3d00 209.5px,#da3400 213.5px,#d72e00 217.5px,#d32900 221.5px,#d02400 225.5px,#cd2000 229.5px,#ca1b00 233.5px,#c71700 237.5px,#c41500 241.5px,#be1000 249.5px,#b90c00 257.5px,#b40800 265.5px,#b10511 273.5px,#ac0239 281.5px,#a70060 289.5px,#a40084 297.5px,#a100a1 305.5px,#9f00b7 313.5px,#9d00c8 321.5px,#9c00d6 329.5px,#9b00e1 337.5px,#9b00ea 345.5px,#9a00f0 353.5px,#9901f2 361.5px,#9801f2 363px)"></div>
<div style="height:2px;background:linear-gradient(90deg,#9702f4 0px,#9702f4 1.5px,#9901f2 9.5px,#9a00f0 17.5px,#9b00e7 25.5px,#9c00dc 33.5px,#9d00ce 41.5px,#9e00bd 49.5px,#a000a8 57.5px,#a3008b 65.5px,#a70067 73.5px,#ab023f 81.5px,#b00413 89.5px,#b40801 97.5px,#b80b00 105.5px,#bd1000 113.5px,#c31400 121.5px,#c71700 125.5px,#ca1b00 129.5px,#cd1f00 133.5px,#d02400 137.5px,#d32800 141.5px,#d62d00 145.5px,#d93400 149.5px,#dc3c00 153.5px,#df4400 157.5px,#e04800 159.5px,#e24c00 161.5px,#e35000 163.5px,#e55500 165.5px,#e65900 167.5px,#e75c00 169.5px,#e86000 171.5px,#e96200 172.5px,#e96400 173.5px,#e96500 174.5px,#ea6700 175.5px,#ea6800 176.5px,#ea6a00 177.5px,#eb6a00 178px,#eb6b00 178.5px,#eb6b00 179px,#eb6c00 179.5px,#eb6c00 180px,#eb6d00 180.5px,#ec6e00 181px,#ec6f00 181.5px,#ec6e00 182px,#eb6d00 182.5px,#eb6c00 183px,#eb6c00 183.5px,#eb6b00 184px,#eb6b00 184.5px,#eb6a00 185px,#ea6a00 185.5px,#ea6800 186.5px,#ea6700 187.5px,#e96500 188.5px,#e96400 189.5px,#e96200 190.5px,#e86000 191.5px,#e75c00 193.5px,#e65900 195.5px,#e55500 197.5px,#e35000 199.5px,#e24c00 201.5px,#e04800 203.5px,#df4400 205.5px,#dc3c00 209.5px,#d93400 213.5px,#d62d00 217.5px,#d32800 221.5px,#d02400 225.5px,#cd1f00 229.5px,#ca1b00 233.5px,#c71700 237.5px,#c31400 241.5px,#bd1000 249.5px,#b80b00 257.5px,#b40801 265.5px,#b00413 273.5px,#ab023f 281.5px,#a70067 289.5px,#a3008b 297.5px,#a000a8 305.5px,#9e00bd 313.5px,#9d00ce 321.5px,#9c00dc 329.5px,#9b00e7 337.5px,#9a00f0 345.5px,#9901f2 353.5px,#9702f4 361.5px,#9702f4 363px)"></div>
<div style="height:2px;background:linear-gradient(90deg,#9603f6 0px,#9603f5 1.5px,#9802f4 9.5px,#9901f2 17.5px,#9a00ed 25.5px,#9b00e2 33.5px,#9c00d4 41.5px,#9e00c4 49.5px,#a000af 57.5px,#a20092 65.5px,#a6006f 73.5px,#aa0145 81.5px,#b00416 89.5px,#b30703 97.5px,#b80b00 105.5px,#bd0f00 113.5px,#c31400 121.5px,#c61700 125.5px,#c91a00 129.5px,#cc1e00 133.5px,#cf2300 137.5px,#d32800 141.5px,#d62d00 145.5px,#d93300 149.5px,#dc3b00 153.5px,#df4300 157.5px,#e04700 159.5px,#e24b00 161.5px,#e35000 163.5px,#e45400 165.5px,#e65800 167.5px,#e75c00 169.5px,#e85f00 171.5px,#e86100 172.5px,#e96300 173.5px,#e96500 174.5px,#ea6600 175.5px,#ea6800 176.5px,#ea6900 177.5px,#ea6900 178px,#ea6a00 178.5px,#eb6a00 179px,#eb6b00 179.5px,#eb6b00 180px,#eb6c00 180.5px,#eb6d00 181px,#ec6e00 181.5px,#eb6d00 182px,#eb6c00 182.5px,#eb6b00 183px,#eb6b00 183.5px,#eb6a00 184px,#ea6a00 184.5px,#ea6900 185px,#ea6900 185.5px,#ea6800 186.5px,#ea6600 187.5px,#e96500 188.5px,#e96300 189.5px,#e86100 190.5px,#e85f00 191.5px,#e75c00 193.5px,#e65800 195.5px,#e45400 197.5px,#e35000 199.5px,#e24b00 201.5px,#e04700 203.5px,#df4300 205.5px,#dc3b00 209.5px,#d93300 213.5px,#d62d00 217.5px,#d32800 221.5px,#cf2300 225.5px,#cc1e00 229.5px,#c91a00 233.5px,#c61700 237.5px,#c31400 241.5px,#bd0f00 249.5px,#b80b00 257.5px,#b30703 265.5px,#b00416 273.5px,#aa0145 281.5px,#a6006f 289.5px,#a20092 297.5px,#a000af 305.5px,#9e00c4 313.5px,#9c00d4 321.5px,#9b00e2 329.5px,#9a00ed 337.5px,#9901f2 345.5px,#9802f4 353.5px,#9603f5 361.5px,#9603f6 363px)"></div>
<div style="height:2px;background:linear-gradient(90deg,#9504f7 0px,#9504f7 1.5px,#9603f5 9.5px,#9802f3 17.5px,#9901f1 25.5px,#9b00e8 33.5px,#9c00db 41.5px,#9d00ca 49.5px,#9f00b5 57.5px,#a2009a 65.5px,#a50076 73.5px,#aa014c 81.5px,#af031d 89.5px,#b30705 97.5px,#b70b00 105.5px,#bd0f00 113.5px,#c31400 121.5px,#c61600 125.5px,#c91900 129.5px,#cc1e00 133.5px,#cf2300 137.5px,#d22700 141.5px,#d52c00 145.5px,#d93200 149.5px,#dc3a00 153.5px,#de4200 157.5px,#e04600 159.5px,#e14b00 161.5px,#e34f00 163.5px,#e45300 165.5px,#e65700 167.5px,#e75b00 169.5px,#e85e00 171.5px,#e86000 172.5px,#e86200 173.5px,#e96400 174.5px,#e96500 175.5px,#ea6700 176.5px,#ea6800 177.5px,#ea6800 178px,#ea6900 178.5px,#ea6a00 179px,#eb6a00 179.5px,#eb6b00 180px,#eb6b00 180.5px,#eb6d00 181px,#eb6d00 182px,#eb6b00 182.5px,#eb6b00 183px,#eb6a00 183.5px,#ea6a00 184px,#ea6900 184.5px,#ea6800 185px,#ea6800 185.5px,#ea6700 186.5px,#e96500 187.5px,#e96400 188.5px,#e86200 189.5px,#e86000 190.5px,#e85e00 191.5px,#e75b00 193.5px,#e65700 195.5px,#e45300 197.5px,#e34f00 199.5px,#e14b00 201.5px,#e04600 203.5px,#de4200 205.5px,#dc3a00 209.5px,#d93200 213.5px,#d52c00 217.5px,#d22700 221.5px,#cf2300 225.5px,#cc1e00 229.5px,#c91900 233.5px,#c61600 237.5px,#c31400 241.5px,#bd0f00 249.5px,#b70b00 257.5px,#b30705 265.5px,#af031d 273.5px,#aa014c 281.5px,#a50076 289.5px,#a2009a 297.5px,#9f00b5 305.5px,#9d00ca 313.5px,#9c00db 321.5px,#9b00e8 329.5px,#9901f1 337.5px,#9802f3 345.5px,#9603f5 353.5px,#9504f7 361.5px,#9504f7 363px)"></div>
<div style="height:2px;background:linear-gradient(90deg,#9405f9 0px,#9405f9 1.5px,#9504f7 9.5px,#9703f5 17.5px,#9801f3 25.5px,#9a00ef 33.5px,#9b00e1 41.5px,#9d00d1 49.5px,#9e00bc 57.5px,#a100a1 65.5px,#a4007d 73.5px,#a90052 81.5px,#ae0323 89.5px,#b30707 97.5px,#b70a00 105.5px,#bc0f00 113.5px,#c21300 121.5px,#c51600 125.5px,#c91900 129.5px,#cc1d00 133.5px,#cf2200 137.5px,#d22700 141.5px,#d52c00 145.5px,#d83100 149.5px,#db3900 153.5px,#de4100 157.5px,#e04600 159.5px,#e14a00 161.5px,#e24e00 163.5px,#e45200 165.5px,#e55600 167.5px,#e65a00 169.5px,#e75d00 171.5px,#e85f00 172.5px,#e86100 173.5px,#e96300 174.5px,#e96400 175.5px,#e96600 176.5px,#ea6700 177.5px,#ea6800 178px,#ea6800 178.5px,#ea6900 179px,#ea6900 179.5px,#ea6a00 180px,#eb6a00 180.5px,#eb6c00 181px,#eb6c00 182px,#eb6a00 182.5px,#ea6a00 183px,#ea6900 183.5px,#ea6900 184px,#ea6800 184.5px,#ea6800 185px,#ea6700 185.5px,#e96600 186.5px,#e96400 187.5px,#e96300 188.5px,#e86100 189.5px,#e85f00 190.5px,#e75d00 191.5px,#e65a00 193.5px,#e55600 195.5px,#e45200 197.5px,#e24e00 199.5px,#e14a00 201.5px,#e04600 203.5px,#de4100 205.5px,#db3900 209.5px,#d83100 213.5px,#d52c00 217.5px,#d22700 221.5px,#cf2200 225.5px,#cc1d00 229.5px,#c91900 233.5px,#c51600 237.5px,#c21300 241.5px,#bc0f00 249.5px,#b70a00 257.5px,#b30707 265.5px,#ae0323 273.5px,#a90052 281.5px,#a4007d 289.5px,#a100a1 297.5px,#9e00bc 305.5px,#9d00d1 313.5px,#9b00e1 321.5px,#9a00ef 329.5px,#9801f3 337.5px,#9703f5 345.5px,#9504f7 353.5px,#9405f9 361.5px,#9405f9 363px)"></div>
<div style="height:2px;background:linear-gradient(90deg,#9306fb 0px,#9306fb 1.5px,#9405f9 9.5px,#9504f7 17.5px,#9702f4 25.5px,#9901f1 33.5px,#9b00e8 41.5px,#9c00d7 49.5px,#9e00c2 57.5px,#a000a9 65.5px,#a40085 73.5px,#a80059 81.5px,#ad032a 89.5px,#b20609 97.5px,#b60a00 105.5px,#bc0e00 113.5px,#c21300 121.5px,#c51600 125.5px,#c81800 129.5px,#cb1d00 133.5px,#ce2100 137.5px,#d12600 141.5px,#d52b00 145.5px,#d83000 149.5px,#db3800 153.5px,#de4100 157.5px,#df4500 159.5px,#e14900 161.5px,#e24d00 163.5px,#e45100 165.5px,#e55500 167.5px,#e65900 169.5px,#e75d00 171.5px,#e85e00 172.5px,#e86000 173.5px,#e86200 174.5px,#e96300 175.5px,#e96500 176.5px,#ea6600 177.5px,#ea6700 178px,#ea6700 178.5px,#ea6800 179px,#ea6800 179.5px,#ea6900 180px,#ea6a00 180.5px,#eb6b00 181px,#eb6c00 181.5px,#eb6b00 182px,#ea6a00 182.5px,#ea6900 183px,#ea6800 183.5px,#ea6800 184px,#ea6700 184.5px,#ea6700 185px,#ea6600 185.5px,#e96500 186.5px,#e96300 187.5px,#e86200 188.5px,#e86000 189.5px,#e85e00 190.5px,#e75d00 191.5px,#e65900 193.5px,#e55500 195.5px,#e45100 197.5px,#e24d00 199.5px,#e14900 201.5px,#df4500 203.5px,#de4100 205.5px,#db3800 209.5px,#d83000 213.5px,#d52b00 217.5px,#d12600 221.5px,#ce2100 225.5px,#cb1d00 229.5px,#c81800 233.5px,#c51600 237.5px,#c21300 241.5px,#bc0e00 249.5px,#b60a00 257.5px,#b20609 265.5px,#ad032a 273.5px,#a80059 281.5px,#a40085 289.5px,#a000a9 297.5px,#9e00c2 305.5px,#9c00d7 313.5px,#9b00e8 321.5px,#9901f1 329.5px,#9702f4 337.5px,#9504f7 345.5px,#9405f9 353.5px,#9306fb 361.5px,#9306fb 363px)"></div>
<div style="height:2px;background:linear-gradient(90deg,#9207fd 0px,#9207fc 1.5px,#9306fb 9.5px,#9405f9 17.5px,#9603f6 25.5px,#9802f3 33.5px,#9a00ee 41.5px,#9c00de 49.5px,#9d00c9 57.5px,#a000af 65.5px,#a3008c 73.5px,#a70060 81.5px,#ad0231 89.5px,#b2060b 97.5px,#b60a00 105.5px,#bb0e00 113.5px,#c11300 121.5px,#c41500 125.5px,#c81800 129.5px,#cb1c00 133.5px,#ce2100 137.5px,#d12600 141.5px,#d42b00 145.5px,#d82f00 149.5px,#db3700 153.5px,#dd4000 157.5px,#df4400 159.5px,#e04800 161.5px,#e24c00 163.5px,#e35000 165.5px,#e55400 167.5px,#e65800 169.5px,#e75c00 171.5px,#e75d00 172.5px,#e85f00 173.5px,#e86100 174.5px,#e96200 175.5px,#e96400 176.5px,#e96500 177.5px,#e96600 178px,#ea6600 178.5px,#ea6700 179px,#ea6700 179.5px,#ea6800 180px,#ea6900 180.5px,#ea6a00 181px,#eb6b00 181.5px,#ea6a00 182px,#ea6900 182.5px,#ea6800 183px,#ea6700 183.5px,#ea6700 184px,#ea6600 184.5px,#e96600 185px,#e96500 185.5px,#e96400 186.5px,#e96200 187.5px,#e86100 188.5px,#e85f00 189.5px,#e75d00 190.5px,#e75c00 191.5px,#e65800 193.5px,#e55400 195.5px,#e35000 197.5px,#e24c00 199.5px,#e04800 201.5px,#df4400 203.5px,#dd4000 205.5px,#db3700 209.5px,#d82f00 213.5px,#d42b00 217.5px,#d12600 221.5px,#ce2100 225.5px,#cb1c00 229.5px,#c81800 233.5px,#c41500 237.5px,#c11300 241.5px,#bb0e00 249.5px,#b60a00 257.5px,#b2060b 265.5px,#ad0231 273.5px,#a70060 281.5px,#a3008c 289.5px,#a000af 297.5px,#9d00c9 305.5px,#9c00de 313.5px,#9a00ee 321.5px,#9802f3 329.5px,#9603f6 337.5px,#9405f9 345.5px,#9306fb 353.5px,#9207fc 361.5px,#9207fd 363px)"></div>
<div style="height:2px;background:linear-gradient(90deg,#9108fe 0px,#9107fe 1.5px,#9207fc 9.5px,#9305fa 17.5px,#9504f8 25.5px,#9703f5 33.5px,#9901f1 41.5px,#9b00e4 49.5px,#9d00d0 57.5px,#9f00b6 65.5px,#a20094 73.5px,#a70068 81.5px,#ac0237 89.5px,#b1050e 97.5px,#b60900 105.5px,#bb0d00 113.5px,#c11200 121.5px,#c41500 125.5px,#c71800 129.5px,#cb1c00 133.5px,#ce2000 137.5px,#d12500 141.5px,#d42a00 145.5px,#d72f00 149.5px,#da3600 153.5px,#dd3f00 157.5px,#df4300 159.5px,#e04700 161.5px,#e14b00 163.5px,#e34f00 165.5px,#e45300 167.5px,#e65700 169.5px,#e75b00 171.5px,#e75d00 172.5px,#e85e00 173.5px,#e86000 174.5px,#e86200 175.5px,#e96300 176.5px,#e96400 177.5px,#e96500 178px,#e96500 178.5px,#e96600 179px,#ea6600 179.5px,#ea6700 180px,#ea6800 180.5px,#ea6900 181px,#ea6a00 181.5px,#ea6900 182px,#ea6800 182.5px,#ea6700 183px,#ea6600 183.5px,#e96600 184px,#e96500 184.5px,#e96500 185px,#e96400 185.5px,#e96300 186.5px,#e86200 187.5px,#e86000 188.5px,#e85e00 189.5px,#e75d00 190.5px,#e75b00 191.5px,#e65700 193.5px,#e45300 195.5px,#e34f00 197.5px,#e14b00 199.5px,#e04700 201.5px,#df4300 203.5px,#dd3f00 205.5px,#da3600 209.5px,#d72f00 213.5px,#d42a00 217.5px,#d12500 221.5px,#ce2000 225.5px,#cb1c00 229.5px,#c71800 233.5px,#c41500 237.5px,#c11200 241.5px,#bb0d00 249.5px,#b60900 257.5px,#b1050e 265.5px,#ac0237 273.5px,#a70068 281.5px,#a20094 289.5px,#9f00b6 297.5px,#9d00d0 305.5px,#9b00e4 313.5px,#9901f1 321.5px,#9703f5 329.5px,#9504f8 337.5px,#9305fa 345.5px,#9207fc 353.5px,#9107fe 361.5px,#9108fe 363px)"></div>
<div style="height:2px;background:linear-gradient(90deg,#8f09ff 0px,#8f09ff 1.5px,#9107fe 9.5px,#9206fc 17.5px,#9405fa 25.5px,#9604f7 33.5px,#9802f3 41.5px,#9a00eb 49.5px,#9c00d6 57.5px,#9e00bd 65.5px,#a1009c 73.5px,#a60070 81.5px,#ab023e 89.5px,#b10510 97.5px,#b50900 105.5px,#ba0d00 113.5px,#c01200 121.5px,#c41400 125.5px,#c71700 129.5px,#ca1b00 133.5px,#cd2000 137.5px,#d02500 141.5px,#d42900 145.5px,#d72e00 149.5px,#da3500 153.5px,#dd3e00 157.5px,#de4200 159.5px,#e04600 161.5px,#e14a00 163.5px,#e34e00 165.5px,#e45200 167.5px,#e55600 169.5px,#e65a00 171.5px,#e75c00 172.5px,#e75d00 173.5px,#e85f00 174.5px,#e86100 175.5px,#e86200 176.5px,#e96300 177.5px,#e96400 178px,#e96400 178.5px,#e96500 179px,#e96500 179.5px,#e96600 180px,#ea6700 180.5px,#ea6800 181px,#ea6900 181.5px,#ea6800 182px,#ea6700 182.5px,#e96600 183px,#e96500 183.5px,#e96500 184px,#e96400 184.5px,#e96400 185px,#e96300 185.5px,#e86200 186.5px,#e86100 187.5px,#e85f00 188.5px,#e75d00 189.5px,#e75c00 190.5px,#e65a00 191.5px,#e55600 193.5px,#e45200 195.5px,#e34e00 197.5px,#e14a00 199.5px,#e04600 201.5px,#de4200 203.5px,#dd3e00 205.5px,#da3500 209.5px,#d72e00 213.5px,#d42900 217.5px,#d02500 221.5px,#cd2000 225.5px,#ca1b00 229.5px,#c71700 233.5px,#c41400 237.5px,#c01200 241.5px,#ba0d00 249.5px,#b50900 257.5px,#b10510 265.5px,#ab023e 273.5px,#a60070 281.5px,#a1009c 289.5px,#9e00bd 297.5px,#9c00d6 305.5px,#9a00eb 313.5px,#9802f3 321.5px,#9604f7 329.5px,#9405fa 337.5px,#9206fc 345.5px,#9107fe 353.5px,#8f09ff 361.5px,#8f09ff 363px)"></div>
<div style="height:2px;background:linear-gradient(90deg,#8d0aff 0px,#8d0aff 1.5px,#8f09ff 9.5px,#9107fe 17.5px,#9206fb 25.5px,#9404f8 33.5px,#9703f5 41.5px,#9a00f0 49.5px,#9c00dd 57.5px,#9e00c4 65.5px,#a100a3 73.5px,#a50077 81.5px,#aa0145 89.5px,#b00412 97.5px,#b50900 105.5px,#ba0d00 113.5px,#c01100 121.5px,#c31400 125.5px,#c71700 129.5px,#ca1b00 133.5px,#cd1f00 137.5px,#d02400 141.5px,#d32900 145.5px,#d72e00 149.5px,#da3500 153.5px,#dc3d00 157.5px,#de4100 159.5px,#df4500 161.5px,#e14900 163.5px,#e24d00 165.5px,#e45100 167.5px,#e55500 169.5px,#e65900 171.5px,#e75b00 172.5px,#e75c00 173.5px,#e85e00 174.5px,#e86000 175.5px,#e86100 176.5px,#e96200 177.5px,#e96300 178px,#e96300 178.5px,#e96400 179px,#e96400 179.5px,#e96500 180px,#e96600 180.5px,#ea6700 181px,#ea6800 181.5px,#ea6700 182px,#e96600 182.5px,#e96500 183px,#e96400 183.5px,#e96400 184px,#e96300 184.5px,#e96300 185px,#e96200 185.5px,#e86100 186.5px,#e86000 187.5px,#e85e00 188.5px,#e75c00 189.5px,#e75b00 190.5px,#e65900 191.5px,#e55500 193.5px,#e45100 195.5px,#e24d00 197.5px,#e14900 199.5px,#df4500 201.5px,#de4100 203.5px,#dc3d00 205.5px,#da3500 209.5px,#d72e00 213.5px,#d32900 217.5px,#d02400 221.5px,#cd1f00 225.5px,#ca1b00 229.5px,#c71700 233.5px,#c31400 237.5px,#c01100 241.5px,#ba0d00 249.5px,#b50900 257.5px,#b00412 265.5px,#aa0145 273.5px,#a50077 281.5px,#a100a3 289.5px,#9e00c4 297.5px,#9c00dd 305.5px,#9a00f0 313.5px,#9703f5 321.5px,#9404f8 329.5px,#9206fb 337.5px,#9107fe 345.5px,#8f09ff 353.5px,#8d0aff 361.5px,#8d0aff 363px)"></div>
<div style="height:2px;background:linear-gradient(90deg,#8a0cfe 0px,#8b0cfe 1.5px,#8d0aff 9.5px,#8f09ff 17.5px,#9107fd 25.5px,#9305fa 33.5px,#9604f7 41.5px,#9901f2 49.5px,#9b00e4 57.5px,#9d00ca 65.5px,#a000ab 73.5px,#a4007f 81.5px,#aa014c 89.5px,#b00414 97.5px,#b40800 105.5px,#b90c00 113.5px,#bf1100 121.5px,#c31400 125.5px,#c61600 129.5px,#c91a00 133.5px,#cc1f00 137.5px,#d02300 141.5px,#d32800 145.5px,#d62d00 149.5px,#d93400 153.5px,#dc3c00 157.5px,#de4000 159.5px,#df4400 161.5px,#e04800 163.5px,#e24c00 165.5px,#e35000 167.5px,#e55400 169.5px,#e65800 171.5px,#e65a00 172.5px,#e75b00 173.5px,#e75d00 174.5px,#e85f00 175.5px,#e86000 176.5px,#e86100 177.5px,#e86200 178px,#e96300 178.5px,#e96300 179px,#e96400 179.5px,#e96400 180px,#e96500 180.5px,#ea6600 181px,#ea6700 181.5px,#ea6600 182px,#e96500 182.5px,#e96400 183px,#e96400 183.5px,#e96300 184px,#e96300 184.5px,#e86200 185px,#e86100 185.5px,#e86000 186.5px,#e85f00 187.5px,#e75d00 188.5px,#e75b00 189.5px,#e65a00 190.5px,#e65800 191.5px,#e55400 193.5px,#e35000 195.5px,#e24c00 197.5px,#e04800 199.5px,#df4400 201.5px,#de4000 203.5px,#dc3c00 205.5px,#d93400 209.5px,#d62d00 213.5px,#d32800 217.5px,#d02300 221.5px,#cc1f00 225.5px,#c91a00 229.5px,#c61600 233.5px,#c31400 237.5px,#bf1100 241.5px,#b90c00 249.5px,#b40800 257.5px,#b00414 265.5px,#aa014c 273.5px,#a4007f 281.5px,#a000ab 289.5px,#9d00ca 297.5px,#9b00e4 305.5px,#9901f2 313.5px,#9604f7 321.5px,#9305fa 329.5px,#9107fd 337.5px,#8f09ff 345.5px,#8d0aff 353.5px,#8b0cfe 361.5px,#8a0cfe 363px)"></div>
<div style="height:2px;background:linear-gradient(90deg,#880efe 0px,#880dfe 1.5px,#8a0cfe 9.5px,#8d0aff 17.5px,#9008ff 25.5px,#9206fc 33.5px,#9405f8 41.5px,#9702f4 49.5px,#9a00eb 57.5px,#9d00d1 65.5px,#9f00b2 73.5px,#a30087 81.5px,#a90053 89.5px,#af041b 97.5px,#b40801 105.5px,#b90c00 113.5px,#bf1100 121.5px,#c21300 125.5px,#c61600 129.5px,#c91900 133.5px,#cc1e00 137.5px,#cf2300 141.5px,#d22800 145.5px,#d62d00 149.5px,#d93300 153.5px,#dc3b00 157.5px,#dd3f00 159.5px,#df4300 161.5px,#e04700 163.5px,#e24b00 165.5px,#e34f00 167.5px,#e45300 169.5px,#e65700 171.5px,#e65900 172.5px,#e75a00 173.5px,#e75c00 174.5px,#e75e00 175.5px,#e85f00 176.5px,#e86000 177.5px,#e86100 178px,#e86200 178.5px,#e96200 179px,#e96300 179.5px,#e96300 180px,#e96400 180.5px,#e96500 181px,#ea6600 181.5px,#e96500 182px,#e96400 182.5px,#e96300 183px,#e96300 183.5px,#e96200 184px,#e86200 184.5px,#e86100 185px,#e86000 185.5px,#e85f00 186.5px,#e75e00 187.5px,#e75c00 188.5px,#e75a00 189.5px,#e65900 190.5px,#e65700 191.5px,#e45300 193.5px,#e34f00 195.5px,#e24b00 197.5px,#e04700 199.5px,#df4300 201.5px,#dd3f00 203.5px,#dc3b00 205.5px,#d93300 209.5px,#d62d00 213.5px,#d22800 217.5px,#cf2300 221.5px,#cc1e00 225.5px,#c91900 229.5px,#c61600 233.5px,#c21300 237.5px,#bf1100 241.5px,#b90c00 249.5px,#b40801 257.5px,#af041b 265.5px,#a90053 273.5px,#a30087 281.5px,#9f00b2 289.5px,#9d00d1 297.5px,#9a00eb 305.5px,#9702f4 313.5px,#9405f8 321.5px,#9206fc 329.5px,#9008ff 337.5px,#8d0aff 345.5px,#8a0cfe 353.5px,#880dfe 361.5px,#880efe 363px)"></div>
<div style="height:2px;background:linear-gradient(90deg,#860ffe 0px,#860ffe 1.5px,#880efe 9.5px,#8b0cfe 17.5px,#8e0aff 25.5px,#9107fe 33.5px,#9305fa 41.5px,#9603f6 49.5px,#9a00f0 57.5px,#9c00d8 65.5px,#9f00b9 73.5px,#a3008f 81.5px,#a8005a 89.5px,#ae0322 97.5px,#b30703 105.5px,#b80c00 113.5px,#be1000 121.5px,#c21300 125.5px,#c51600 129.5px,#c91900 133.5px,#cc1e00 137.5px,#cf2200 141.5px,#d22700 145.5px,#d52c00 149.5px,#d93200 153.5px,#db3a00 157.5px,#dd3e00 159.5px,#de4200 161.5px,#e04600 163.5px,#e14a00 165.5px,#e34e00 167.5px,#e45200 169.5px,#e55600 171.5px,#e65800 172.5px,#e65900 173.5px,#e75b00 174.5px,#e75d00 175.5px,#e85e00 176.5px,#e85f00 177.5px,#e86000 178px,#e86100 178.5px,#e86100 179px,#e86200 179.5px,#e96200 180px,#e96300 180.5px,#e96400 181px,#e96500 181.5px,#e96400 182px,#e96300 182.5px,#e96200 183px,#e86200 183.5px,#e86100 184px,#e86100 184.5px,#e86000 185px,#e85f00 185.5px,#e85e00 186.5px,#e75d00 187.5px,#e75b00 188.5px,#e65900 189.5px,#e65800 190.5px,#e55600 191.5px,#e45200 193.5px,#e34e00 195.5px,#e14a00 197.5px,#e04600 199.5px,#de4200 201.5px,#dd3e00 203.5px,#db3a00 205.5px,#d93200 209.5px,#d52c00 213.5px,#d22700 217.5px,#cf2200 221.5px,#cc1e00 225.5px,#c91900 229.5px,#c51600 233.5px,#c21300 237.5px,#be1000 241.5px,#b80c00 249.5px,#b30703 257.5px,#ae0322 265.5px,#a8005a 273.5px,#a3008f 281.5px,#9f00b9 289.5px,#9c00d8 297.5px,#9a00f0 305.5px,#9603f6 313.5px,#9305fa 321.5px,#9107fe 329.5px,#8e0aff 337.5px,#8b0cfe 345.5px,#880efe 353.5px,#860ffe 361.5px,#860ffe 363px)"></div>
<div style="height:2px;background:linear-gradient(90deg,#8311fe 0px,#8411fe 1.5px,#860ffe 9.5px,#880dfe 17.5px,#8b0bff 25.5px,#8f09ff 33.5px,#9206fc 41.5px,#9504f8 49.5px,#9801f2 57.5px,#9b00df 65.5px,#9e00c0 73.5px,#a20097 81.5px,#a70062 89.5px,#ae0329 97.5px,#b30706 105.5px,#b80b00 113.5px,#be1000 121.5px,#c11300 125.5px,#c51500 129.5px,#c81800 133.5px,#cb1d00 137.5px,#ce2200 141.5px,#d22700 145.5px,#d52b00 149.5px,#d83100 153.5px,#db3900 157.5px,#dd3d00 159.5px,#de4100 161.5px,#df4500 163.5px,#e14900 165.5px,#e24d00 167.5px,#e45100 169.5px,#e55500 171.5px,#e65700 172.5px,#e65900 173.5px,#e75a00 174.5px,#e75c00 175.5px,#e75d00 176.5px,#e85e00 177.5px,#e85f00 178px,#e86000 178.5px,#e86000 179px,#e86100 179.5px,#e86100 180px,#e96200 180.5px,#e96300 181px,#e96400 181.5px,#e96300 182px,#e96200 182.5px,#e86100 183px,#e86100 183.5px,#e86000 184px,#e86000 184.5px,#e85f00 185px,#e85e00 185.5px,#e75d00 186.5px,#e75c00 187.5px,#e75a00 188.5px,#e65900 189.5px,#e65700 190.5px,#e55500 191.5px,#e45100 193.5px,#e24d00 195.5px,#e14900 197.5px,#df4500 199.5px,#de4100 201.5px,#dd3d00 203.5px,#db3900 205.5px,#d83100 209.5px,#d52b00 213.5px,#d22700 217.5px,#ce2200 221.5px,#cb1d00 225.5px,#c81800 229.5px,#c51500 233.5px,#c11300 237.5px,#be1000 241.5px,#b80b00 249.5px,#b30706 257.5px,#ae0329 265.5px,#a70062 273.5px,#a20097 281.5px,#9e00c0 289.5px,#9b00df 297.5px,#9801f2 305.5px,#9504f8 313.5px,#9206fc 321.5px,#8f09ff 329.5px,#8b0bff 337.5px,#880dfe 345.5px,#860ffe 353.5px,#8411fe 361.5px,#8311fe 363px)"></div>
<div style="height:2px;background:linear-gradient(90deg,#8113fd 0px,#8112fd 1.5px,#8411fe 9.5px,#860ffe 17.5px,#890dfe 25.5px,#8d0aff 33.5px,#9107fe 41.5px,#9405fa 49.5px,#9702f4 57.5px,#9b00e6 65.5px,#9e00c7 73.5px,#a1009f 81.5px,#a6006a 89.5px,#ad0230 97.5px,#b20608 105.5px,#b80b00 113.5px,#bd1000 121.5px,#c11200 125.5px,#c41500 129.5px,#c81800 133.5px,#cb1c00 137.5px,#ce2100 141.5px,#d12600 145.5px,#d52b00 149.5px,#d83000 153.5px,#db3800 157.5px,#dc3c00 159.5px,#de4000 161.5px,#df4400 163.5px,#e14800 165.5px,#e24c00 167.5px,#e35000 169.5px,#e55400 171.5px,#e55600 172.5px,#e65800 173.5px,#e65900 174.5px,#e75b00 175.5px,#e75c00 176.5px,#e75d00 177.5px,#e85e00 178px,#e85f00 178.5px,#e85f00 179px,#e86000 179.5px,#e86000 180px,#e86100 180.5px,#e96300 181px,#e96300 182px,#e86100 182.5px,#e86000 183px,#e86000 183.5px,#e85f00 184px,#e85f00 184.5px,#e85e00 185px,#e75d00 185.5px,#e75c00 186.5px,#e75b00 187.5px,#e65900 188.5px,#e65800 189.5px,#e55600 190.5px,#e55400 191.5px,#e35000 193.5px,#e24c00 195.5px,#e14800 197.5px,#df4400 199.5px,#de4000 201.5px,#dc3c00 203.5px,#db3800 205.5px,#d83000 209.5px,#d52b00 213.5px,#d12600 217.5px,#ce2100 221.5px,#cb1c00 225.5px,#c81800 229.5px,#c41500 233.5px,#c11200 237.5px,#bd1000 241.5px,#b80b00 249.5px,#b20608 257.5px,#ad0230 265.5px,#a6006a 273.5px,#a1009f 281.5px,#9e00c7 289.5px,#9b00e6 297.5px,#9702f4 305.5px,#9405fa 313.5px,#9107fe 321.5px,#8d0aff 329.5px,#890dfe 337.5px,#860ffe 345.5px,#8411fe 353.5px,#8112fd 361.5px,#8113fd 363px)"></div>
<div style="height:2px;background:linear-gradient(90deg,#7f14fd 0px,#7f14fd 1.5px,#8113fd 9.5px,#8411fe 17.5px,#870ffe 25.5px,#8a0cfe 33.5px,#8f09ff 41.5px,#9206fb 49.5px,#9603f6 57.5px,#9a00ed 65.5px,#9d00ce 73.5px,#a000a8 81.5px,#a60072 89.5px,#ac0237 97.5px,#b2060a 105.5px,#b70a00 113.5px,#bd0f00 121.5px,#c01200 125.5px,#c41500 129.5px,#c71700 133.5px,#cb1c00 137.5px,#ce2100 141.5px,#d12500 145.5px,#d42a00 149.5px,#d72f00 153.5px,#da3700 157.5px,#dc3b00 159.5px,#dd3f00 161.5px,#df4300 163.5px,#e04700 165.5px,#e24b00 167.5px,#e34f00 169.5px,#e45300 171.5px,#e55500 172.5px,#e55700 173.5px,#e65800 174.5px,#e65a00 175.5px,#e75b00 176.5px,#e75c00 177.5px,#e75d00 178px,#e75e00 178.5px,#e85e00 179px,#e85f00 179.5px,#e85f00 180px,#e86000 180.5px,#e86200 181px,#e96200 181.5px,#e86200 182px,#e86000 182.5px,#e85f00 183px,#e85f00 183.5px,#e85e00 184px,#e75e00 184.5px,#e75d00 185px,#e75c00 185.5px,#e75b00 186.5px,#e65a00 187.5px,#e65800 188.5px,#e55700 189.5px,#e55500 190.5px,#e45300 191.5px,#e34f00 193.5px,#e24b00 195.5px,#e04700 197.5px,#df4300 199.5px,#dd3f00 201.5px,#dc3b00 203.5px,#da3700 205.5px,#d72f00 209.5px,#d42a00 213.5px,#d12500 217.5px,#ce2100 221.5px,#cb1c00 225.5px,#c71700 229.5px,#c41500 233.5px,#c01200 237.5px,#bd0f00 241.5px,#b70a00 249.5px,#b2060a 257.5px,#ac0237 265.5px,#a60072 273.5px,#a000a8 281.5px,#9d00ce 289.5px,#9a00ed 297.5px,#9603f6 305.5px,#9206fb 313.5px,#8f09ff 321.5px,#8a0cfe 329.5px,#870ffe 337.5px,#8411fe 345.5px,#8113fd 353.5px,#7f14fd 361.5px,#7f14fd 363px)"></div>
<div style="height:2px;background:linear-gradient(90deg,#7c16fd 0px,#7d16fd 1.5px,#7f14fd 9.5px,#8113fd 17.5px,#8410fe 25.5px,#880efe 33.5px,#8d0aff 41.5px,#9107fd 49.5px,#9504f8 57.5px,#9901f1 65.5px,#9c00d5 73.5px,#a000af 81.5px,#a5007b 89.5px,#ab023e 97.5px,#b2060c 105.5px,#b70a00 113.5px,#bd0f00 121.5px,#c01100 125.5px,#c31400 129.5px,#c71700 133.5px,#ca1b00 137.5px,#cd2000 141.5px,#d12500 145.5px,#d42a00 149.5px,#d72f00 153.5px,#da3600 157.5px,#dc3a00 159.5px,#dd3e00 161.5px,#de4200 163.5px,#e04600 165.5px,#e14a00 167.5px,#e34e00 169.5px,#e45200 171.5px,#e55400 172.5px,#e55500 173.5px,#e65700 174.5px,#e65900 175.5px,#e75a00 176.5px,#e75b00 177.5px,#e75c00 178px,#e75d00 178.5px,#e75d00 179px,#e75e00 179.5px,#e85e00 180px,#e85f00 180.5px,#e86100 181px,#e86100 182px,#e85f00 182.5px,#e85e00 183px,#e75e00 183.5px,#e75d00 184px,#e75d00 184.5px,#e75c00 185px,#e75b00 185.5px,#e75a00 186.5px,#e65900 187.5px,#e65700 188.5px,#e55500 189.5px,#e55400 190.5px,#e45200 191.5px,#e34e00 193.5px,#e14a00 195.5px,#e04600 197.5px,#de4200 199.5px,#dd3e00 201.5px,#dc3a00 203.5px,#da3600 205.5px,#d72f00 209.5px,#d42a00 213.5px,#d12500 217.5px,#cd2000 221.5px,#ca1b00 225.5px,#c71700 229.5px,#c31400 233.5px,#c01100 237.5px,#bd0f00 241.5px,#b70a00 249.5px,#b2060c 257.5px,#ab023e 265.5px,#a5007b 273.5px,#a000af 281.5px,#9c00d5 289.5px,#9901f1 297.5px,#9504f8 305.5px,#9107fd 313.5px,#8d0aff 321.5px,#880efe 329.5px,#8410fe 337.5px,#8113fd 345.5px,#7f14fd 353.5px,#7d16fd 361.5px,#7c16fd 363px)"></div>
<div style="height:2px;background:linear-gradient(90deg,#7a18fd 0px,#7a17fd 1.5px,#7c16fd 9.5px,#7f14fd 17.5px,#8212fd 25.5px,#860ffe 33.5px,#8a0cfe 41.5px,#9008ff 49.5px,#9305fa 57.5px,#9802f3 65.5px,#9c00dd 73.5px,#9f00b6 81.5px,#a40083 89.5px,#aa0146 97.5px,#b1050f 105.5px,#b60a00 113.5px,#bc0e00 121.5px,#bf1100 125.5px,#c31400 129.5px,#c61700 133.5px,#ca1b00 137.5px,#cd1f00 141.5px,#d02400 145.5px,#d32900 149.5px,#d72e00 153.5px,#da3500 157.5px,#db3900 159.5px,#dd3d00 161.5px,#de4100 163.5px,#df4500 165.5px,#e14900 167.5px,#e24d00 169.5px,#e45100 171.5px,#e45300 172.5px,#e55400 173.5px,#e55600 174.5px,#e65800 175.5px,#e65900 176.5px,#e75a00 177.5px,#e75b00 178px,#e75c00 178.5px,#e75c00 179px,#e75d00 179.5px,#e75d00 180px,#e85e00 180.5px,#e86000 181px,#e86000 182px,#e85e00 182.5px,#e75d00 183px,#e75d00 183.5px,#e75c00 184px,#e75c00 184.5px,#e75b00 185px,#e75a00 185.5px,#e65900 186.5px,#e65800 187.5px,#e55600 188.5px,#e55400 189.5px,#e45300 190.5px,#e45100 191.5px,#e24d00 193.5px,#e14900 195.5px,#df4500 197.5px,#de4100 199.5px,#dd3d00 201.5px,#db3900 203.5px,#da3500 205.5px,#d72e00 209.5px,#d32900 213.5px,#d02400 217.5px,#cd1f00 221.5px,#ca1b00 225.5px,#c61700 229.5px,#c31400 233.5px,#bf1100 237.5px,#bc0e00 241.5px,#b60a00 249.5px,#b1050f 257.5px,#aa0146 265.5px,#a40083 273.5px,#9f00b6 281.5px,#9c00dd 289.5px,#9802f3 297.5px,#9305fa 305.5px,#9008ff 313.5px,#8a0cfe 321.5px,#860ffe 329.5px,#8212fd 337.5px,#7f14fd 345.5px,#7c16fd 353.5px,#7a17fd 361.5px,#7a18fd 363px)"></div>
<div style="height:2px;background:linear-gradient(90deg,#7819fc 0px,#7819fc 1.5px,#7a18fd 9.5px,#7c16fd 17.5px,#7f14fd 25.5px,#8311fe 33.5px,#880efe 41.5px,#8d0aff 49.5px,#9206fc 57.5px,#9703f5 65.5px,#9b00e4 73.5px,#9e00be 81.5px,#a3008b 89.5px,#a9014d 97.5px,#b10511 105.5px,#b60900 113.5px,#bc0e00 121.5px,#bf1100 125.5px,#c21300 129.5px,#c61600 133.5px,#c91a00 137.5px,#cc1f00 141.5px,#d02400 145.5px,#d32800 149.5px,#d62d00 153.5px,#d93400 157.5px,#db3800 159.5px,#dc3c00 161.5px,#de4000 163.5px,#df4400 165.5px,#e04800 167.5px,#e24c00 169.5px,#e35000 171.5px,#e45200 172.5px,#e45300 173.5px,#e55500 174.5px,#e65700 175.5px,#e65800 176.5px,#e65900 177.5px,#e65a00 178px,#e75b00 178.5px,#e75b00 179px,#e75c00 179.5px,#e75c00 180px,#e75d00 180.5px,#e85f00 181px,#e86000 181.5px,#e85f00 182px,#e75d00 182.5px,#e75c00 183px,#e75c00 183.5px,#e75b00 184px,#e75b00 184.5px,#e65a00 185px,#e65900 185.5px,#e65800 186.5px,#e65700 187.5px,#e55500 188.5px,#e45300 189.5px,#e45200 190.5px,#e35000 191.5px,#e24c00 193.5px,#e04800 195.5px,#df4400 197.5px,#de4000 199.5px,#dc3c00 201.5px,#db3800 203.5px,#d93400 205.5px,#d62d00 209.5px,#d32800 213.5px,#d02400 217.5px,#cc1f00 221.5px,#c91a00 225.5px,#c61600 229.5px,#c21300 233.5px,#bf1100 237.5px,#bc0e00 241.5px,#b60900 249.5px,#b10511 257.5px,#a9014d 265.5px,#a3008b 273.5px,#9e00be 281.5px,#9b00e4 289.5px,#9703f5 297.5px,#9206fc 305.5px,#8d0aff 313.5px,#880efe 321.5px,#8311fe 329.5px,#7f14fd 337.5px,#7c16fd 345.5px,#7a18fd 353.5px,#7819fc 361.5px,#7819fc 363px)"></div>
<div style="height:2px;background:linear-gradient(90deg,#751bfc 0px,#751bfc 1.5px,#7819fc 9.5px,#7a18fd 17.5px,#7d16fd 25.5px,#8113fd 33.5px,#8510fe 41.5px,#8b0cfe 49.5px,#9107fe 57.5px,#9504f7 65.5px,#9a00eb 73.5px,#9e00c5 81.5px,#a20094 89.5px,#a90055 97.5px,#b00413 105.5px,#b50900 113.5px,#bb0e00 121.5px,#be1000 125.5px,#c21300 129.5px,#c51600 133.5px,#c91900 137.5px,#cc1e00 141.5px,#cf2300 145.5px,#d32800 149.5px,#d62d00 153.5px,#d93300 157.5px,#da3700 159.5px,#dc3b00 161.5px,#dd3f00 163.5px,#df4300 165.5px,#e04700 167.5px,#e14b00 169.5px,#e34f00 171.5px,#e35100 172.5px,#e45200 173.5px,#e55400 174.5px,#e55600 175.5px,#e65700 176.5px,#e65800 177.5px,#e65900 178px,#e65a00 178.5px,#e75a00 179px,#e75b00 179.5px,#e75b00 180px,#e75c00 180.5px,#e75e00 181px,#e85f00 181.5px,#e75e00 182px,#e75c00 182.5px,#e75b00 183px,#e75b00 183.5px,#e75a00 184px,#e65a00 184.5px,#e65900 185px,#e65800 185.5px,#e65700 186.5px,#e55600 187.5px,#e55400 188.5px,#e45200 189.5px,#e35100 190.5px,#e34f00 191.5px,#e14b00 193.5px,#e04700 195.5px,#df4300 197.5px,#dd3f00 199.5px,#dc3b00 201.5px,#da3700 203.5px,#d93300 205.5px,#d62d00 209.5px,#d32800 213.5px,#cf2300 217.5px,#cc1e00 221.5px,#c91900 225.5px,#c51600 229.5px,#c21300 233.5px,#be1000 237.5px,#bb0e00 241.5px,#b50900 249.5px,#b00413 257.5px,#a90055 265.5px,#a20094 273.5px,#9e00c5 281.5px,#9a00eb 289.5px,#9504f7 297.5px,#9107fe 305.5px,#8b0cfe 313.5px,#8510fe 321.5px,#8113fd 329.5px,#7d16fd 337.5px,#7a18fd 345.5px,#7819fc 353.5px,#751bfc 361.5px,#751bfc 363px)"></div>
<div style="height:2px;background:linear-gradient(90deg,#731cfc 0px,#731cfc 1.5px,#751bfc 9.5px,#7819fc 17.5px,#7b17fd 25.5px,#7e15fd 33.5px,#8312fe 41.5px,#880efe 49.5px,#8f09ff 57.5px,#9405f9 65.5px,#9900f1 73.5px,#9d00cd 81.5px,#a1009d 89.5px,#a8005d 97.5px,#af041a 105.5px,#b50800 113.5px,#bb0d00 121.5px,#be1000 125.5px,#c11300 129.5px,#c51500 133.5px,#c81900 137.5px,#cc1d00 141.5px,#cf2200 145.5px,#d22700 149.5px,#d52c00 153.5px,#d93200 157.5px,#da3600 159.5px,#dc3a00 161.5px,#dd3e00 163.5px,#de4200 165.5px,#e04600 167.5px,#e14a00 169.5px,#e24e00 171.5px,#e35000 172.5px,#e45100 173.5px,#e45300 174.5px,#e55500 175.5px,#e55600 176.5px,#e65700 177.5px,#e65800 178px,#e65800 178.5px,#e65900 179px,#e65a00 179.5px,#e75a00 180px,#e75b00 180.5px,#e75d00 181px,#e75e00 181.5px,#e75d00 182px,#e75b00 182.5px,#e75a00 183px,#e65a00 183.5px,#e65900 184px,#e65800 184.5px,#e65800 185px,#e65700 185.5px,#e55600 186.5px,#e55500 187.5px,#e45300 188.5px,#e45100 189.5px,#e35000 190.5px,#e24e00 191.5px,#e14a00 193.5px,#e04600 195.5px,#de4200 197.5px,#dd3e00 199.5px,#dc3a00 201.5px,#da3600 203.5px,#d93200 205.5px,#d52c00 209.5px,#d22700 213.5px,#cf2200 217.5px,#cc1d00 221.5px,#c81900 225.5px,#c51500 229.5px,#c11300 233.5px,#be1000 237.5px,#bb0d00 241.5px,#b50800 249.5px,#af041a 257.5px,#a8005d 265.5px,#a1009d 273.5px,#9d00cd 281.5px,#9900f1 289.5px,#9405f9 297.5px,#8f09ff 305.5px,#880efe 313.5px,#8312fe 321.5px,#7e15fd 329.5px,#7b17fd 337.5px,#7819fc 345.5px,#751bfc 353.5px,#731cfc 361.5px,#731cfc 363px)"></div>
<div style="height:2px;background:linear-gradient(90deg,#721dfc 0px,#721dfc 1.5px,#731dfc 9.5px,#751bfc 17.5px,#7819fc 25.5px,#7c17fd 33.5px,#8013fd 41.5px,#860ffe 49.5px,#8d0aff 57.5px,#9306fb 65.5px,#9801f3 73.5px,#9c00d4 81.5px,#a000a5 89.5px,#a70065 97.5px,#ae0321 105.5px,#b40800 113.5px,#ba0d00 121.5px,#bd0f00 125.5px,#c11200 129.5px,#c41500 133.5px,#c81800 137.5px,#cb1d00 141.5px,#ce2200 145.5px,#d22700 149.5px,#d52c00 153.5px,#d83100 157.5px,#da3500 159.5px,#db3900 161.5px,#dd3d00 163.5px,#de4100 165.5px,#df4500 167.5px,#e14900 169.5px,#e24d00 171.5px,#e34f00 172.5px,#e35000 173.5px,#e45200 174.5px,#e45400 175.5px,#e55500 176.5px,#e55600 177.5px,#e65700 178px,#e65700 178.5px,#e65800 179px,#e65900 179.5px,#e65900 180px,#e75a00 180.5px,#e75c00 181px,#e75d00 181.5px,#e75c00 182px,#e75a00 182.5px,#e65900 183px,#e65900 183.5px,#e65800 184px,#e65700 184.5px,#e65700 185px,#e55600 185.5px,#e55500 186.5px,#e45400 187.5px,#e45200 188.5px,#e35000 189.5px,#e34f00 190.5px,#e24d00 191.5px,#e14900 193.5px,#df4500 195.5px,#de4100 197.5px,#dd3d00 199.5px,#db3900 201.5px,#da3500 203.5px,#d83100 205.5px,#d52c00 209.5px,#d22700 213.5px,#ce2200 217.5px,#cb1d00 221.5px,#c81800 225.5px,#c41500 229.5px,#c11200 233.5px,#bd0f00 237.5px,#ba0d00 241.5px,#b40800 249.5px,#ae0321 257.5px,#a70065 265.5px,#a000a5 273.5px,#9c00d4 281.5px,#9801f3 289.5px,#9306fb 297.5px,#8d0aff 305.5px,#860ffe 313.5px,#8013fd 321.5px,#7c17fd 329.5px,#7819fc 337.5px,#751bfc 345.5px,#731dfc 353.5px,#721dfc 361.5px,#721dfc 363px)"></div>
<div style="height:2px;background:linear-gradient(90deg,#701efc 0px,#701efc 1.5px,#711dfc 9.5px,#731dfc 17.5px,#761bfc 25.5px,#7918fd 33.5px,#7e15fd 41.5px,#8311fe 49.5px,#8a0cfe 57.5px,#9107fd 65.5px,#9703f5 73.5px,#9c00dc 81.5px,#a000ae 89.5px,#a6006e 97.5px,#ae0329 105.5px,#b40802 113.5px,#b90c00 121.5px,#bd0f00 125.5px,#c01200 129.5px,#c41500 133.5px,#c81800 137.5px,#cb1c00 141.5px,#ce2100 145.5px,#d12600 149.5px,#d52b00 153.5px,#d83000 157.5px,#d93400 159.5px,#db3800 161.5px,#dc3c00 163.5px,#de4000 165.5px,#df4400 167.5px,#e04800 169.5px,#e24c00 171.5px,#e24d00 172.5px,#e34f00 173.5px,#e45100 174.5px,#e45200 175.5px,#e55400 176.5px,#e55500 177.5px,#e55600 178px,#e55600 178.5px,#e65700 179px,#e65700 179.5px,#e65800 180px,#e65900 180.5px,#e75b00 181px,#e75c00 181.5px,#e75b00 182px,#e65900 182.5px,#e65800 183px,#e65700 183.5px,#e65700 184px,#e55600 184.5px,#e55600 185px,#e55500 185.5px,#e55400 186.5px,#e45200 187.5px,#e45100 188.5px,#e34f00 189.5px,#e24d00 190.5px,#e24c00 191.5px,#e04800 193.5px,#df4400 195.5px,#de4000 197.5px,#dc3c00 199.5px,#db3800 201.5px,#d93400 203.5px,#d83000 205.5px,#d52b00 209.5px,#d12600 213.5px,#ce2100 217.5px,#cb1c00 221.5px,#c81800 225.5px,#c41500 229.5px,#c01200 233.5px,#bd0f00 237.5px,#b90c00 241.5px,#b40802 249.5px,#ae0329 257.5px,#a6006e 265.5px,#a000ae 273.5px,#9c00dc 281.5px,#9703f5 289.5px,#9107fd 297.5px,#8a0cfe 305.5px,#8311fe 313.5px,#7e15fd 321.5px,#7918fd 329.5px,#761bfc 337.5px,#731dfc 345.5px,#711dfc 353.5px,#701efc 361.5px,#701efc 363px)"></div>
<div style="height:2px;background:linear-gradient(90deg,#6e1ffc 0px,#6e1ffc 1.5px,#701efc 9.5px,#711dfc 17.5px,#731cfc 25.5px,#771afc 33.5px,#7b17fd 41.5px,#8113fd 49.5px,#870efe 57.5px,#9008ff 65.5px,#9504f7 73.5px,#9b00e4 81.5px,#9f00b5 89.5px,#a50077 97.5px,#ad0231 105.5px,#b30705 113.5px,#b90c00 121.5px,#bc0f00 125.5px,#c01100 129.5px,#c31400 133.5px,#c71700 137.5px,#ca1c00 141.5px,#ce2000 145.5px,#d12500 149.5px,#d42a00 153.5px,#d72f00 157.5px,#d93300 159.5px,#da3700 161.5px,#dc3b00 163.5px,#dd3f00 165.5px,#df4300 167.5px,#e04700 169.5px,#e14b00 171.5px,#e24c00 172.5px,#e34e00 173.5px,#e35000 174.5px,#e45100 175.5px,#e45300 176.5px,#e55400 177.5px,#e55500 178px,#e55500 178.5px,#e55600 179px,#e55600 179.5px,#e65700 180px,#e65800 180.5px,#e65a00 181px,#e75b00 181.5px,#e65a00 182px,#e65800 182.5px,#e65700 183px,#e55600 183.5px,#e55600 184px,#e55500 184.5px,#e55500 185px,#e55400 185.5px,#e45300 186.5px,#e45100 187.5px,#e35000 188.5px,#e34e00 189.5px,#e24c00 190.5px,#e14b00 191.5px,#e04700 193.5px,#df4300 195.5px,#dd3f00 197.5px,#dc3b00 199.5px,#da3700 201.5px,#d93300 203.5px,#d72f00 205.5px,#d42a00 209.5px,#d12500 213.5px,#ce2000 217.5px,#ca1c00 221.5px,#c71700 225.5px,#c31400 229.5px,#c01100 233.5px,#bc0f00 237.5px,#b90c00 241.5px,#b30705 249.5px,#ad0231 257.5px,#a50077 265.5px,#9f00b5 273.5px,#9b00e4 281.5px,#9504f7 289.5px,#9008ff 297.5px,#870efe 305.5px,#8113fd 313.5px,#7b17fd 321.5px,#771afc 329.5px,#731cfc 337.5px,#711dfc 345.5px,#701efc 353.5px,#6e1ffc 361.5px,#6e1ffc 363px)"></div>
<div style="height:2px;background:linear-gradient(90deg,#6d20fc 0px,#6d20fc 1.5px,#6e1ffc 9.5px,#701efc 17.5px,#721dfc 25.5px,#741cfc 33.5px,#7819fc 41.5px,#7e15fd 49.5px,#8510fe 57.5px,#8d0aff 65.5px,#9405f9 73.5px,#9a00ec 81.5px,#9e00bd 89.5px,#a40080 97.5px,#ac0239 105.5px,#b30707 113.5px,#b80c00 121.5px,#bc0e00 125.5px,#bf1100 129.5px,#c31400 133.5px,#c61700 137.5px,#ca1b00 141.5px,#cd2000 145.5px,#d02500 149.5px,#d42a00 153.5px,#d72f00 157.5px,#d93200 159.5px,#da3600 161.5px,#db3a00 163.5px,#dd3e00 165.5px,#de4200 167.5px,#e04600 169.5px,#e14900 171.5px,#e24b00 172.5px,#e24d00 173.5px,#e34f00 174.5px,#e35000 175.5px,#e45200 176.5px,#e45300 177.5px,#e45400 178px,#e55400 178.5px,#e55500 179px,#e55500 179.5px,#e55600 180px,#e65700 180.5px,#e65900 181px,#e65a00 181.5px,#e65900 182px,#e65700 182.5px,#e55600 183px,#e55500 183.5px,#e55500 184px,#e55400 184.5px,#e45400 185px,#e45300 185.5px,#e45200 186.5px,#e35000 187.5px,#e34f00 188.5px,#e24d00 189.5px,#e24b00 190.5px,#e14900 191.5px,#e04600 193.5px,#de4200 195.5px,#dd3e00 197.5px,#db3a00 199.5px,#da3600 201.5px,#d93200 203.5px,#d72f00 205.5px,#d42a00 209.5px,#d02500 213.5px,#cd2000 217.5px,#ca1b00 221.5px,#c61700 225.5px,#c31400 229.5px,#bf1100 233.5px,#bc0e00 237.5px,#b80c00 241.5px,#b30707 249.5px,#ac0239 257.5px,#a40080 265.5px,#9e00bd 273.5px,#9a00ec 281.5px,#9405f9 289.5px,#8d0aff 297.5px,#8510fe 305.5px,#7e15fd 313.5px,#7819fc 321.5px,#741cfc 329.5px,#721dfc 337.5px,#701efc 345.5px,#6e1ffc 353.5px,#6d20fc 361.5px,#6d20fc 363px)"></div>
<div style="height:2px;background:linear-gradient(90deg,#6b21fc 0px,#6b21fc 1.5px,#6c20fc 9.5px,#6e1ffc 17.5px,#701efc 25.5px,#721dfc 33.5px,#761bfc 41.5px,#7b17fd 49.5px,#8212fe 57.5px,#8b0cfe 65.5px,#9306fb 73.5px,#9900f1 81.5px,#9e00c5 89.5px,#a30089 97.5px,#ab0141 105.5px,#b2060a 113.5px,#b80b00 121.5px,#bb0e00 125.5px,#bf1100 129.5px,#c21300 133.5px,#c61600 137.5px,#ca1a00 141.5px,#cd1f00 145.5px,#d02400 149.5px,#d32900 153.5px,#d72e00 157.5px,#d83100 159.5px,#da3500 161.5px,#db3900 163.5px,#dc3d00 165.5px,#de4100 167.5px,#df4500 169.5px,#e14800 171.5px,#e14a00 172.5px,#e24c00 173.5px,#e24e00 174.5px,#e34f00 175.5px,#e35100 176.5px,#e45200 177.5px,#e45300 178px,#e45300 178.5px,#e45400 179px,#e55400 179.5px,#e55500 180px,#e55600 180.5px,#e65800 181px,#e65800 182px,#e55600 182.5px,#e55500 183px,#e55400 183.5px,#e45400 184px,#e45300 184.5px,#e45300 185px,#e45200 185.5px,#e35100 186.5px,#e34f00 187.5px,#e24e00 188.5px,#e24c00 189.5px,#e14a00 190.5px,#e14800 191.5px,#df4500 193.5px,#de4100 195.5px,#dc3d00 197.5px,#db3900 199.5px,#da3500 201.5px,#d83100 203.5px,#d72e00 205.5px,#d32900 209.5px,#d02400 213.5px,#cd1f00 217.5px,#ca1a00 221.5px,#c61600 225.5px,#c21300 229.5px,#bf1100 233.5px,#bb0e00 237.5px,#b80b00 241.5px,#b2060a 249.5px,#ab0141 257.5px,#a30089 265.5px,#9e00c5 273.5px,#9900f1 281.5px,#9306fb 289.5px,#8b0cfe 297.5px,#8212fe 305.5px,#7b17fd 313.5px,#761bfc 321.5px,#721dfc 329.5px,#701efc 337.5px,#6e1ffc 345.5px,#6c20fc 353.5px,#6b21fc 361.5px,#6b21fc 363px)"></div>
<div style="height:2px;background:linear-gradient(90deg,#6922fc 0px,#6922fc 1.5px,#6b21fc 9.5px,#6c20fc 17.5px,#6e1ffc 25.5px,#711efc 33.5px,#731cfc 41.5px,#7919fd 49.5px,#7f14fd 57.5px,#880efe 65.5px,#9107fd 73.5px,#9802f3 81.5px,#9d00cd 89.5px,#a20092 97.5px,#aa0149 105.5px,#b2060c 113.5px,#b70b00 121.5px,#bb0d00 125.5px,#be1000 129.5px,#c21300 133.5px,#c51600 137.5px,#c91a00 141.5px,#cc1e00 145.5px,#d02300 149.5px,#d32800 153.5px,#d62d00 157.5px,#d83000 159.5px,#d93400 161.5px,#db3800 163.5px,#dc3c00 165.5px,#dd4000 167.5px,#df4400 169.5px,#e04700 171.5px,#e14900 172.5px,#e14b00 173.5px,#e24c00 174.5px,#e34e00 175.5px,#e34f00 176.5px,#e35100 177.5px,#e45100 178px,#e45200 178.5px,#e45300 179px,#e45300 179.5px,#e55400 180px,#e55500 180.5px,#e55600 181px,#e65700 181.5px,#e55600 182px,#e55500 182.5px,#e55400 183px,#e45300 183.5px,#e45300 184px,#e45200 184.5px,#e45100 185px,#e35100 185.5px,#e34f00 186.5px,#e34e00 187.5px,#e24c00 188.5px,#e14b00 189.5px,#e14900 190.5px,#e04700 191.5px,#df4400 193.5px,#dd4000 195.5px,#dc3c00 197.5px,#db3800 199.5px,#d93400 201.5px,#d83000 203.5px,#d62d00 205.5px,#d32800 209.5px,#d02300 213.5px,#cc1e00 217.5px,#c91a00 221.5px,#c51600 225.5px,#c21300 229.5px,#be1000 233.5px,#bb0d00 237.5px,#b70b00 241.5px,#b2060c 249.5px,#aa0149 257.5px,#a20092 265.5px,#9d00cd 273.5px,#9802f3 281.5px,#9107fd 289.5px,#880efe 297.5px,#7f14fd 305.5px,#7919fd 313.5px,#731cfc 321.5px,#711efc 329.5px,#6e1ffc 337.5px,#6c20fc 345.5px,#6b21fc 353.5px,#6922fc 361.5px,#6922fc 363px)"></div>
<div style="height:2px;background:linear-gradient(90deg,#6823fc 0px,#6823fc 1.5px,#6922fc 9.5px,#6b21fc 17.5px,#6d20fc 25.5px,#6f1ffc 33.5px,#721dfc 41.5px,#761bfc 49.5px,#7d16fd 57.5px,#8510fe 65.5px,#9008ff 73.5px,#9703f5 81.5px,#9c00d5 89.5px,#a1009b 97.5px,#a90151 105.5px,#b1050f 113.5px,#b70a00 121.5px,#ba0d00 125.5px,#be1000 129.5px,#c11300 133.5px,#c51600 137.5px,#c91900 141.5px,#cc1e00 145.5px,#cf2300 149.5px,#d22800 153.5px,#d62d00 157.5px,#d72f00 159.5px,#d93200 161.5px,#da3700 163.5px,#dc3b00 165.5px,#dd3f00 167.5px,#de4200 169.5px,#e04600 171.5px,#e04800 172.5px,#e14a00 173.5px,#e24b00 174.5px,#e24d00 175.5px,#e34e00 176.5px,#e35000 177.5px,#e35000 178px,#e35100 178.5px,#e45100 179px,#e45200 179.5px,#e45300 180px,#e55400 180.5px,#e55500 181px,#e55600 181.5px,#e55500 182px,#e55400 182.5px,#e45300 183px,#e45200 183.5px,#e45100 184px,#e35100 184.5px,#e35000 185px,#e35000 185.5px,#e34e00 186.5px,#e24d00 187.5px,#e24b00 188.5px,#e14a00 189.5px,#e04800 190.5px,#e04600 191.5px,#de4200 193.5px,#dd3f00 195.5px,#dc3b00 197.5px,#da3700 199.5px,#d93200 201.5px,#d72f00 203.5px,#d62d00 205.5px,#d22800 209.5px,#cf2300 213.5px,#cc1e00 217.5px,#c91900 221.5px,#c51600 225.5px,#c11300 229.5px,#be1000 233.5px,#ba0d00 237.5px,#b70a00 241.5px,#b1050f 249.5px,#a90151 257.5px,#a1009b 265.5px,#9c00d5 273.5px,#9703f5 281.5px,#9008ff 289.5px,#8510fe 297.5px,#7d16fd 305.5px,#761bfc 313.5px,#721dfc 321.5px,#6f1ffc 329.5px,#6d20fc 337.5px,#6b21fc 345.5px,#6922fc 353.5px,#6823fc 361.5px,#6823fc 363px)"></div>
<div style="height:2px;background:linear-gradient(90deg,#6624fc 0px,#6624fc 1.5px,#6723fc 9.5px,#6922fc 17.5px,#6b21fc 25.5px,#6d20fc 33.5px,#701efc 41.5px,#741cfc 49.5px,#7a18fd 57.5px,#8212fe 65.5px,#8d0aff 73.5px,#9504f7 81.5px,#9c00dd 89.5px,#a100a5 97.5px,#a80059 105.5px,#b10511 113.5px,#b60a00 121.5px,#ba0c00 125.5px,#bd0f00 129.5px,#c11200 133.5px,#c41500 137.5px,#c81800 141.5px,#cb1d00 145.5px,#cf2200 149.5px,#d22700 153.5px,#d52c00 157.5px,#d72e00 159.5px,#d83100 161.5px,#da3500 163.5px,#db3900 165.5px,#dd3d00 167.5px,#de4100 169.5px,#df4500 171.5px,#e04700 172.5px,#e14900 173.5px,#e14a00 174.5px,#e24c00 175.5px,#e24d00 176.5px,#e34f00 177.5px,#e34f00 178px,#e35000 178.5px,#e35000 179px,#e45100 179.5px,#e45200 180px,#e45300 180.5px,#e55400 181px,#e55500 181.5px,#e55400 182px,#e45300 182.5px,#e45200 183px,#e45100 183.5px,#e35000 184px,#e35000 184.5px,#e34f00 185px,#e34f00 185.5px,#e24d00 186.5px,#e24c00 187.5px,#e14a00 188.5px,#e14900 189.5px,#e04700 190.5px,#df4500 191.5px,#de4100 193.5px,#dd3d00 195.5px,#db3900 197.5px,#da3500 199.5px,#d83100 201.5px,#d72e00 203.5px,#d52c00 205.5px,#d22700 209.5px,#cf2200 213.5px,#cb1d00 217.5px,#c81800 221.5px,#c41500 225.5px,#c11200 229.5px,#bd0f00 233.5px,#ba0c00 237.5px,#b60a00 241.5px,#b10511 249.5px,#a80059 257.5px,#a100a5 265.5px,#9c00dd 273.5px,#9504f7 281.5px,#8d0aff 289.5px,#8212fe 297.5px,#7a18fd 305.5px,#741cfc 313.5px,#701efc 321.5px,#6d20fc 329.5px,#6b21fc 337.5px,#6922fc 345.5px,#6723fc 353.5px,#6624fc 361.5px,#6624fc 363px)"></div>
<div style="height:2px;background:linear-gradient(90deg,#6425fc 0px,#6425fc 1.5px,#6624fc 9.5px,#6723fc 17.5px,#6922fc 25.5px,#6b21fc 33.5px,#6e1ffc 41.5px,#721dfc 49.5px,#771afc 57.5px,#8014fd 65.5px,#8a0cfe 73.5px,#9405fa 81.5px,#9b00e5 89.5px,#a000ae 97.5px,#a70062 105.5px,#b00414 113.5px,#b60900 121.5px,#b90c00 125.5px,#bc0f00 129.5px,#c01200 133.5px,#c41500 137.5px,#c81800 141.5px,#cb1c00 145.5px,#ce2100 149.5px,#d22600 153.5px,#d52b00 157.5px,#d62e00 159.5px,#d83000 161.5px,#d93400 163.5px,#db3800 165.5px,#dc3c00 167.5px,#de4000 169.5px,#df4400 171.5px,#e04600 172.5px,#e04700 173.5px,#e14900 174.5px,#e14b00 175.5px,#e24c00 176.5px,#e24d00 177.5px,#e24e00 178px,#e34f00 178.5px,#e34f00 179px,#e35000 179.5px,#e35100 180px,#e45200 180.5px,#e45300 181px,#e55400 181.5px,#e45300 182px,#e45200 182.5px,#e35100 183px,#e35000 183.5px,#e34f00 184px,#e34f00 184.5px,#e24e00 185px,#e24d00 185.5px,#e24c00 186.5px,#e14b00 187.5px,#e14900 188.5px,#e04700 189.5px,#e04600 190.5px,#df4400 191.5px,#de4000 193.5px,#dc3c00 195.5px,#db3800 197.5px,#d93400 199.5px,#d83000 201.5px,#d62e00 203.5px,#d52b00 205.5px,#d22600 209.5px,#ce2100 213.5px,#cb1c00 217.5px,#c81800 221.5px,#c41500 225.5px,#c01200 229.5px,#bc0f00 233.5px,#b90c00 237.5px,#b60900 241.5px,#b00414 249.5px,#a70062 257.5px,#a000ae 265.5px,#9b00e5 273.5px,#9405fa 281.5px,#8a0cfe 289.5px,#8014fd 297.5px,#771afc 305.5px,#721dfc 313.5px,#6e1ffc 321.5px,#6b21fc 329.5px,#6922fc 337.5px,#6723fc 345.5px,#6624fc 353.5px,#6425fc 361.5px,#6425fc 363px)"></div>
<div style="height:2px;background:linear-gradient(90deg,#6226fc 0px,#6326fc 1.5px,#6425fc 9.5px,#6524fc 17.5px,#6723fc 25.5px,#6a22fc 33.5px,#6c20fc 41.5px,#701efc 49.5px,#751cfc 57.5px,#7d16fd 65.5px,#870efe 73.5px,#9206fc 81.5px,#9a00ee 89.5px,#9f00b6 97.5px,#a6006c 105.5px,#af041b 113.5px,#b50900 121.5px,#b80c00 125.5px,#bc0e00 129.5px,#c01100 133.5px,#c31400 137.5px,#c71700 141.5px,#cb1c00 145.5px,#ce2100 149.5px,#d12600 153.5px,#d42b00 157.5px,#d62d00 159.5px,#d82f00 161.5px,#d93300 163.5px,#da3700 165.5px,#dc3b00 167.5px,#dd3f00 169.5px,#df4300 171.5px,#df4400 172.5px,#e04600 173.5px,#e04800 174.5px,#e14900 175.5px,#e14b00 176.5px,#e24c00 177.5px,#e24d00 178px,#e24d00 178.5px,#e24e00 179px,#e34f00 179.5px,#e34f00 180px,#e35100 180.5px,#e45200 181px,#e45300 181.5px,#e45200 182px,#e35100 182.5px,#e34f00 183px,#e34f00 183.5px,#e24e00 184px,#e24d00 184.5px,#e24d00 185px,#e24c00 185.5px,#e14b00 186.5px,#e14900 187.5px,#e04800 188.5px,#e04600 189.5px,#df4400 190.5px,#df4300 191.5px,#dd3f00 193.5px,#dc3b00 195.5px,#da3700 197.5px,#d93300 199.5px,#d82f00 201.5px,#d62d00 203.5px,#d42b00 205.5px,#d12600 209.5px,#ce2100 213.5px,#cb1c00 217.5px,#c71700 221.5px,#c31400 225.5px,#c01100 229.5px,#bc0e00 233.5px,#b80c00 237.5px,#b50900 241.5px,#af041b 249.5px,#a6006c 257.5px,#9f00b6 265.5px,#9a00ee 273.5px,#9206fc 281.5px,#870efe 289.5px,#7d16fd 297.5px,#751cfc 305.5px,#701efc 313.5px,#6c20fc 321.5px,#6a22fc 329.5px,#6723fc 337.5px,#6524fc 345.5px,#6425fc 353.5px,#6326fc 361.5px,#6226fc 363px)"></div>
<div style="height:2px;background:linear-gradient(90deg,#6127fc 0px,#6126fc 1.5px,#6226fc 9.5px,#6425fc 17.5px,#6624fc 25.5px,#6823fc 33.5px,#6b21fc 41.5px,#6e1ffc 49.5px,#731dfc 57.5px,#7a18fd 65.5px,#8510fe 73.5px,#9107fe 81.5px,#9901f2 89.5px,#9e00be 97.5px,#a50075 105.5px,#ae0324 113.5px,#b50900 121.5px,#b80b00 125.5px,#bb0e00 129.5px,#bf1100 133.5px,#c31400 137.5px,#c71700 141.5px,#ca1b00 145.5px,#cd2000 149.5px,#d12500 153.5px,#d42a00 157.5px,#d62c00 159.5px,#d72f00 161.5px,#d93200 163.5px,#da3600 165.5px,#db3a00 167.5px,#dd3e00 169.5px,#de4200 171.5px,#df4300 172.5px,#df4500 173.5px,#e04700 174.5px,#e04800 175.5px,#e14a00 176.5px,#e14b00 177.5px,#e24c00 178px,#e24c00 178.5px,#e24d00 179px,#e24d00 179.5px,#e34e00 180px,#e34f00 180.5px,#e45100 181px,#e45200 181.5px,#e45100 182px,#e34f00 182.5px,#e34e00 183px,#e24d00 183.5px,#e24d00 184px,#e24c00 184.5px,#e24c00 185px,#e14b00 185.5px,#e14a00 186.5px,#e04800 187.5px,#e04700 188.5px,#df4500 189.5px,#df4300 190.5px,#de4200 191.5px,#dd3e00 193.5px,#db3a00 195.5px,#da3600 197.5px,#d93200 199.5px,#d72f00 201.5px,#d62c00 203.5px,#d42a00 205.5px,#d12500 209.5px,#cd2000 213.5px,#ca1b00 217.5px,#c71700 221.5px,#c31400 225.5px,#bf1100 229.5px,#bb0e00 233.5px,#b80b00 237.5px,#b50900 241.5px,#ae0324 249.5px,#a50075 257.5px,#9e00be 265.5px,#9901f2 273.5px,#9107fe 281.5px,#8510fe 289.5px,#7a18fd 297.5px,#731dfc 305.5px,#6e1ffc 313.5px,#6b21fc 321.5px,#6823fc 329.5px,#6624fc 337.5px,#6425fc 345.5px,#6226fc 353.5px,#6126fc 361.5px,#6127fc 363px)"></div>
<div style="height:2px;background:linear-gradient(90deg,#5f28fc 0px,#5f27fc 1.5px,#6027fc 9.5px,#6226fc 17.5px,#6425fc 25.5px,#6624fc 33.5px,#6922fc 41.5px,#6c20fc 49.5px,#711efc 57.5px,#771afc 65.5px,#8212fd 73.5px,#8e09ff 81.5px,#9702f4 89.5px,#9e00c7 97.5px,#a4007f 105.5px,#ad032c 113.5px,#b40800 121.5px,#b70b00 125.5px,#bb0d00 129.5px,#be1000 133.5px,#c21300 137.5px,#c61600 141.5px,#ca1a00 145.5px,#cd1f00 149.5px,#d02400 153.5px,#d32900 157.5px,#d52c00 159.5px,#d72e00 161.5px,#d83100 163.5px,#da3500 165.5px,#db3900 167.5px,#dc3d00 169.5px,#de4000 171.5px,#de4200 172.5px,#df4400 173.5px,#e04600 174.5px,#e04700 175.5px,#e14900 176.5px,#e14a00 177.5px,#e14a00 178px,#e14b00 178.5px,#e24c00 179px,#e24c00 179.5px,#e24d00 180px,#e34e00 180.5px,#e35000 181px,#e45100 181.5px,#e35000 182px,#e34e00 182.5px,#e24d00 183px,#e24c00 183.5px,#e24c00 184px,#e14b00 184.5px,#e14a00 185px,#e14a00 185.5px,#e14900 186.5px,#e04700 187.5px,#e04600 188.5px,#df4400 189.5px,#de4200 190.5px,#de4000 191.5px,#dc3d00 193.5px,#db3900 195.5px,#da3500 197.5px,#d83100 199.5px,#d72e00 201.5px,#d52c00 203.5px,#d32900 205.5px,#d02400 209.5px,#cd1f00 213.5px,#ca1a00 217.5px,#c61600 221.5px,#c21300 225.5px,#be1000 229.5px,#bb0d00 233.5px,#b70b00 237.5px,#b40800 241.5px,#ad032c 249.5px,#a4007f 257.5px,#9e00c7 265.5px,#9702f4 273.5px,#8e09ff 281.5px,#8212fd 289.5px,#771afc 297.5px,#711efc 305.5px,#6c20fc 313.5px,#6922fc 321.5px,#6624fc 329.5px,#6425fc 337.5px,#6226fc 345.5px,#6027fc 353.5px,#5f27fc 361.5px,#5f28fc 363px)"></div>
<div style="height:2px;background:linear-gradient(90deg,#5d28fc 0px,#5d28fc 1.5px,#5e28fc 9.5px,#6027fc 17.5px,#6226fc 25.5px,#6425fc 33.5px,#6723fc 41.5px,#6b21fc 49.5px,#6f1ffc 57.5px,#741cfc 65.5px,#7f14fd 73.5px,#8c0bff 81.5px,#9603f6 89.5px,#9d00cf 97.5px,#a30089 105.5px,#ac0235 113.5px,#b40802 121.5px,#b70a00 125.5px,#ba0d00 129.5px,#be1000 133.5px,#c21300 137.5px,#c51600 141.5px,#c91a00 145.5px,#cc1f00 149.5px,#d02400 153.5px,#d32800 157.5px,#d52b00 159.5px,#d62d00 161.5px,#d83000 163.5px,#d93400 165.5px,#db3800 167.5px,#dc3b00 169.5px,#dd3f00 171.5px,#de4100 172.5px,#df4300 173.5px,#df4400 174.5px,#e04600 175.5px,#e04700 176.5px,#e14900 177.5px,#e14900 178px,#e14a00 178.5px,#e14a00 179px,#e14b00 179.5px,#e24c00 180px,#e24d00 180.5px,#e34f00 181px,#e35000 181.5px,#e34f00 182px,#e24d00 182.5px,#e24c00 183px,#e14b00 183.5px,#e14a00 184px,#e14a00 184.5px,#e14900 185px,#e14900 185.5px,#e04700 186.5px,#e04600 187.5px,#df4400 188.5px,#df4300 189.5px,#de4100 190.5px,#dd3f00 191.5px,#dc3b00 193.5px,#db3800 195.5px,#d93400 197.5px,#d83000 199.5px,#d62d00 201.5px,#d52b00 203.5px,#d32800 205.5px,#d02400 209.5px,#cc1f00 213.5px,#c91a00 217.5px,#c51600 221.5px,#c21300 225.5px,#be1000 229.5px,#ba0d00 233.5px,#b70a00 237.5px,#b40802 241.5px,#ac0235 249.5px,#a30089 257.5px,#9d00cf 265.5px,#9603f6 273.5px,#8c0bff 281.5px,#7f14fd 289.5px,#741cfc 297.5px,#6f1ffc 305.5px,#6b21fc 313.5px,#6723fc 321.5px,#6425fc 329.5px,#6226fc 337.5px,#6027fc 345.5px,#5e28fc 353.5px,#5d28fc 361.5px,#5d28fc 363px)"></div>
<div style="height:2px;background:linear-gradient(90deg,#5c29fc 0px,#5c28fc 1.5px,#5d28fc 9.5px,#5e28fc 17.5px,#6027fc 25.5px,#6226fc 33.5px,#6524fc 41.5px,#6922fc 49.5px,#6d20fc 57.5px,#721dfc 65.5px,#7c16fd 73.5px,#890dfe 81.5px,#9405f8 89.5px,#9c00d8 97.5px,#a20093 105.5px,#ab023e 113.5px,#b30705 121.5px,#b60a00 125.5px,#ba0d00 129.5px,#bd0f00 133.5px,#c11200 137.5px,#c51500 141.5px,#c91900 145.5px,#cc1e00 149.5px,#cf2300 153.5px,#d22800 157.5px,#d42a00 159.5px,#d62d00 161.5px,#d72f00 163.5px,#d93200 165.5px,#da3600 167.5px,#dc3a00 169.5px,#dd3e00 171.5px,#de4000 172.5px,#de4100 173.5px,#df4300 174.5px,#df4500 175.5px,#e04600 176.5px,#e04700 177.5px,#e04800 178px,#e14900 178.5px,#e14900 179px,#e14a00 179.5px,#e14b00 180px,#e24c00 180.5px,#e24e00 181px,#e34f00 181.5px,#e24e00 182px,#e24c00 182.5px,#e14b00 183px,#e14a00 183.5px,#e14900 184px,#e14900 184.5px,#e04800 185px,#e04700 185.5px,#e04600 186.5px,#df4500 187.5px,#df4300 188.5px,#de4100 189.5px,#de4000 190.5px,#dd3e00 191.5px,#dc3a00 193.5px,#da3600 195.5px,#d93200 197.5px,#d72f00 199.5px,#d62d00 201.5px,#d42a00 203.5px,#d22800 205.5px,#cf2300 209.5px,#cc1e00 213.5px,#c91900 217.5px,#c51500 221.5px,#c11200 225.5px,#bd0f00 229.5px,#ba0d00 233.5px,#b60a00 237.5px,#b30705 241.5px,#ab023e 249.5px,#a20093 257.5px,#9c00d8 265.5px,#9405f8 273.5px,#890dfe 281.5px,#7c16fd 289.5px,#721dfc 297.5px,#6d20fc 305.5px,#6922fc 313.5px,#6524fc 321.5px,#6226fc 329.5px,#6027fc 337.5px,#5e28fc 345.5px,#5d28fc 353.5px,#5c28fc 361.5px,#5c29fc 363px)"></div>
<div style="height:2px;background:linear-gradient(90deg,#5b29fc 0px,#5b29fc 1.5px,#5c29fc 9.5px,#5d28fc 17.5px,#5e28fc 25.5px,#6027fc 33.5px,#6325fc 41.5px,#6723fc 49.5px,#6b21fc 57.5px,#711efc 65.5px,#7918fd 73.5px,#860ffe 81.5px,#9306fb 89.5px,#9b00e1 97.5px,#a1009d 105.5px,#aa0146 113.5px,#b20608 121.5px,#b60900 125.5px,#b90c00 129.5px,#bd0f00 133.5px,#c01200 137.5px,#c41500 141.5px,#c81800 145.5px,#cb1d00 149.5px,#cf2200 153.5px,#d22700 157.5px,#d42900 159.5px,#d52c00 161.5px,#d72e00 163.5px,#d83100 165.5px,#da3500 167.5px,#db3900 169.5px,#dc3d00 171.5px,#dd3e00 172.5px,#de4000 173.5px,#de4200 174.5px,#df4300 175.5px,#df4500 176.5px,#e04600 177.5px,#e04700 178px,#e04700 178.5px,#e04800 179px,#e14900 179.5px,#e14a00 180px,#e14b00 180.5px,#e24d00 181px,#e24e00 181.5px,#e24d00 182px,#e14b00 182.5px,#e14a00 183px,#e14900 183.5px,#e04800 184px,#e04700 184.5px,#e04700 185px,#e04600 185.5px,#df4500 186.5px,#df4300 187.5px,#de4200 188.5px,#de4000 189.5px,#dd3e00 190.5px,#dc3d00 191.5px,#db3900 193.5px,#da3500 195.5px,#d83100 197.5px,#d72e00 199.5px,#d52c00 201.5px,#d42900 203.5px,#d22700 205.5px,#cf2200 209.5px,#cb1d00 213.5px,#c81800 217.5px,#c41500 221.5px,#c01200 225.5px,#bd0f00 229.5px,#b90c00 233.5px,#b60900 237.5px,#b20608 241.5px,#aa0146 249.5px,#a1009d 257.5px,#9b00e1 265.5px,#9306fb 273.5px,#860ffe 281.5px,#7918fd 289.5px,#711efc 297.5px,#6b21fc 305.5px,#6723fc 313.5px,#6325fc 321.5px,#6027fc 329.5px,#5e28fc 337.5px,#5d28fc 345.5px,#5c29fc 353.5px,#5b29fc 361.5px,#5b29fc 363px)"></div>
<div style="height:2px;background:linear-gradient(90deg,#5929fc 0px,#5929fc 1.5px,#5a29fc 9.5px,#5b29fc 17.5px,#5d28fc 25.5px,#5f28fc 33.5px,#6126fc 41.5px,#6524fc 49.5px,#6922fc 57.5px,#6f1ffc 65.5px,#761bfc 73.5px,#8311fe 81.5px,#9107fd 89.5px,#9b00ea 97.5px,#a000a7 105.5px,#a9014f 113.5px,#b2060b 121.5px,#b50900 125.5px,#b80c00 129.5px,#bc0e00 133.5px,#c01100 137.5px,#c41500 141.5px,#c81800 145.5px,#cb1c00 149.5px,#ce2100 153.5px,#d12600 157.5px,#d32900 159.5px,#d52b00 161.5px,#d62e00 163.5px,#d83000 165.5px,#d93400 167.5px,#db3800 169.5px,#dc3b00 171.5px,#dd3d00 172.5px,#dd3f00 173.5px,#de4100 174.5px,#de4200 175.5px,#df4400 176.5px,#df4500 177.5px,#e04600 178px,#e04600 178.5px,#e04700 179px,#e04800 179.5px,#e14800 180px,#e14a00 180.5px,#e24c00 181px,#e24d00 181.5px,#e24c00 182px,#e14a00 182.5px,#e14800 183px,#e04800 183.5px,#e04700 184px,#e04600 184.5px,#e04600 185px,#df4500 185.5px,#df4400 186.5px,#de4200 187.5px,#de4100 188.5px,#dd3f00 189.5px,#dd3d00 190.5px,#dc3b00 191.5px,#db3800 193.5px,#d93400 195.5px,#d83000 197.5px,#d62e00 199.5px,#d52b00 201.5px,#d32900 203.5px,#d12600 205.5px,#ce2100 209.5px,#cb1c00 213.5px,#c81800 217.5px,#c41500 221.5px,#c01100 225.5px,#bc0e00 229.5px,#b80c00 233.5px,#b50900 237.5px,#b2060b 241.5px,#a9014f 249.5px,#a000a7 257.5px,#9b00ea 265.5px,#9107fd 273.5px,#8311fe 281.5px,#761bfc 289.5px,#6f1ffc 297.5px,#6922fc 305.5px,#6524fc 313.5px,#6126fc 321.5px,#5f28fc 329.5px,#5d28fc 337.5px,#5b29fc 345.5px,#5a29fc 353.5px,#5929fc 361.5px,#5929fc 363px)"></div>
<div style="height:2px;background:linear-gradient(90deg,#582afc 0px,#582afc 1.5px,#5929fc 9.5px,#5a29fc 17.5px,#5b29fc 25.5px,#5d28fc 33.5px,#5f27fc 41.5px,#6325fc 49.5px,#6723fc 57.5px,#6d20fc 65.5px,#731cfc 73.5px,#8014fd 81.5px,#8f08ff 89.5px,#9a00f1 97.5px,#9f00b0 105.5px,#a80058 113.5px,#b1050d 121.5px,#b40800 125.5px,#b80b00 129.5px,#bc0e00 133.5px,#bf1100 137.5px,#c31400 141.5px,#c71700 145.5px,#ca1c00 149.5px,#ce2100 153.5px,#d12600 157.5px,#d32800 159.5px,#d42a00 161.5px,#d62d00 163.5px,#d72f00 165.5px,#d93300 167.5px,#da3600 169.5px,#dc3a00 171.5px,#dc3c00 172.5px,#dd3e00 173.5px,#dd3f00 174.5px,#de4100 175.5px,#de4200 176.5px,#df4400 177.5px,#df4400 178px,#df4500 178.5px,#e04600 179px,#e04600 179.5px,#e04700 180px,#e14900 180.5px,#e14b00 181px,#e24c00 181.5px,#e14b00 182px,#e14900 182.5px,#e04700 183px,#e04600 183.5px,#e04600 184px,#df4500 184.5px,#df4400 185px,#df4400 185.5px,#de4200 186.5px,#de4100 187.5px,#dd3f00 188.5px,#dd3e00 189.5px,#dc3c00 190.5px,#dc3a00 191.5px,#da3600 193.5px,#d93300 195.5px,#d72f00 197.5px,#d62d00 199.5px,#d42a00 201.5px,#d32800 203.5px,#d12600 205.5px,#ce2100 209.5px,#ca1c00 213.5px,#c71700 217.5px,#c31400 221.5px,#bf1100 225.5px,#bc0e00 229.5px,#b80b00 233.5px,#b40800 237.5px,#b1050d 241.5px,#a80058 249.5px,#9f00b0 257.5px,#9a00f1 265.5px,#8f08ff 273.5px,#8014fd 281.5px,#731cfc 289.5px,#6d20fc 297.5px,#6723fc 305.5px,#6325fc 313.5px,#5f27fc 321.5px,#5d28fc 329.5px,#5b29fc 337.5px,#5a29fc 345.5px,#5929fc 353.5px,#582afc 361.5px,#582afc 363px)"></div>
<div style="height:2px;background:linear-gradient(90deg,#562afc 0px,#572afc 1.5px,#572afc 9.5px,#5929fc 17.5px,#5a29fc 25.5px,#5c29fc 33.5px,#5e28fc 41.5px,#6126fc 49.5px,#6524fc 57.5px,#6b21fc 65.5px,#711dfc 73.5px,#7d16fd 81.5px,#8c0bff 89.5px,#9802f3 97.5px,#9f00b9 105.5px,#a70062 113.5px,#b10510 121.5px,#b40801 125.5px,#b70b00 129.5px,#bb0e00 133.5px,#bf1100 137.5px,#c31400 141.5px,#c61700 145.5px,#ca1b00 149.5px,#cd2000 153.5px,#d12500 157.5px,#d22700 159.5px,#d42a00 161.5px,#d52c00 163.5px,#d72e00 165.5px,#d83100 167.5px,#da3500 169.5px,#db3900 171.5px,#dc3b00 172.5px,#dc3c00 173.5px,#dd3e00 174.5px,#dd4000 175.5px,#de4100 176.5px,#de4200 177.5px,#df4300 178px,#df4400 178.5px,#df4400 179px,#df4500 179.5px,#e04600 180px,#e04700 180.5px,#e14900 181px,#e14b00 181.5px,#e14900 182px,#e04700 182.5px,#e04600 183px,#df4500 183.5px,#df4400 184px,#df4400 184.5px,#df4300 185px,#de4200 185.5px,#de4100 186.5px,#dd4000 187.5px,#dd3e00 188.5px,#dc3c00 189.5px,#dc3b00 190.5px,#db3900 191.5px,#da3500 193.5px,#d83100 195.5px,#d72e00 197.5px,#d52c00 199.5px,#d42a00 201.5px,#d22700 203.5px,#d12500 205.5px,#cd2000 209.5px,#ca1b00 213.5px,#c61700 217.5px,#c31400 221.5px,#bf1100 225.5px,#bb0e00 229.5px,#b70b00 233.5px,#b40801 237.5px,#b10510 241.5px,#a70062 249.5px,#9f00b9 257.5px,#9802f3 265.5px,#8c0bff 273.5px,#7d16fd 281.5px,#711dfc 289.5px,#6b21fc 297.5px,#6524fc 305.5px,#6126fc 313.5px,#5e28fc 321.5px,#5c29fc 329.5px,#5a29fc 337.5px,#5929fc 345.5px,#572afc 353.5px,#572afc 361.5px,#562afc 363px)"></div>
<div style="height:2px;background:linear-gradient(90deg,#562afc 0px,#562afc 9.5px,#572afc 17.5px,#5929fc 25.5px,#5a29fc 33.5px,#5c28fc 41.5px,#5f27fc 49.5px,#6325fc 57.5px,#6922fc 65.5px,#6f1efc 73.5px,#7a18fd 81.5px,#890dfe 89.5px,#9603f6 97.5px,#9e00c2 105.5px,#a6006d 113.5px,#b00413 121.5px,#b30704 125.5px,#b70a00 129.5px,#ba0d00 133.5px,#be1000 137.5px,#c21300 141.5px,#c61600 145.5px,#c91a00 149.5px,#cd1f00 153.5px,#d02400 157.5px,#d22600 159.5px,#d32900 161.5px,#d52b00 163.5px,#d62e00 165.5px,#d83000 167.5px,#d93400 169.5px,#db3800 171.5px,#db3900 172.5px,#dc3b00 173.5px,#dc3d00 174.5px,#dd3e00 175.5px,#de4000 176.5px,#de4100 177.5px,#de4200 178px,#de4200 178.5px,#df4300 179px,#df4400 179.5px,#df4500 180px,#e04600 180.5px,#e04800 181px,#e14900 181.5px,#e04800 182px,#e04600 182.5px,#df4500 183px,#df4400 183.5px,#df4300 184px,#de4200 184.5px,#de4200 185px,#de4100 185.5px,#de4000 186.5px,#dd3e00 187.5px,#dc3d00 188.5px,#dc3b00 189.5px,#db3900 190.5px,#db3800 191.5px,#d93400 193.5px,#d83000 195.5px,#d62e00 197.5px,#d52b00 199.5px,#d32900 201.5px,#d22600 203.5px,#d02400 205.5px,#cd1f00 209.5px,#c91a00 213.5px,#c61600 217.5px,#c21300 221.5px,#be1000 225.5px,#ba0d00 229.5px,#b70a00 233.5px,#b30704 237.5px,#b00413 241.5px,#a6006d 249.5px,#9e00c2 257.5px,#9603f6 265.5px,#890dfe 273.5px,#7a18fd 281.5px,#6f1efc 289.5px,#6922fc 297.5px,#6325fc 305.5px,#5f27fc 313.5px,#5c28fc 321.5px,#5a29fc 329.5px,#5929fc 337.5px,#572afc 345.5px,#562afc 353.5px,#562afc 363px)"></div>
<div style="height:2px;background:linear-gradient(90deg,#552afc 0px,#552afc 9.5px,#562afc 17.5px,#572afc 25.5px,#5929fc 33.5px,#5b29fc 41.5px,#5d28fc 49.5px,#6126fc 57.5px,#6723fc 65.5px,#6d20fc 73.5px,#771afc 81.5px,#860ffe 89.5px,#9504f8 97.5px,#9d00cc 105.5px,#a50077 113.5px,#af041a 121.5px,#b30707 125.5px,#b60a00 129.5px,#ba0d00 133.5px,#bd1000 137.5px,#c11300 141.5px,#c51600 145.5px,#c91900 149.5px,#cc1e00 153.5px,#cf2300 157.5px,#d12600 159.5px,#d32800 161.5px,#d42b00 163.5px,#d62d00 165.5px,#d82f00 167.5px,#d93300 169.5px,#da3600 171.5px,#db3800 172.5px,#db3a00 173.5px,#dc3c00 174.5px,#dd3d00 175.5px,#dd3f00 176.5px,#de4000 177.5px,#de4100 178px,#de4100 178.5px,#de4200 179px,#de4300 179.5px,#df4400 180px,#df4500 180.5px,#e04700 181px,#e14800 181.5px,#e04700 182px,#df4500 182.5px,#df4400 183px,#de4300 183.5px,#de4200 184px,#de4100 184.5px,#de4100 185px,#de4000 185.5px,#dd3f00 186.5px,#dd3d00 187.5px,#dc3c00 188.5px,#db3a00 189.5px,#db3800 190.5px,#da3600 191.5px,#d93300 193.5px,#d82f00 195.5px,#d62d00 197.5px,#d42b00 199.5px,#d32800 201.5px,#d12600 203.5px,#cf2300 205.5px,#cc1e00 209.5px,#c91900 213.5px,#c51600 217.5px,#c11300 221.5px,#bd1000 225.5px,#ba0d00 229.5px,#b60a00 233.5px,#b30707 237.5px,#af041a 241.5px,#a50077 249.5px,#9d00cc 257.5px,#9504f8 265.5px,#860ffe 273.5px,#771afc 281.5px,#6d20fc 289.5px,#6723fc 297.5px,#6126fc 305.5px,#5d28fc 313.5px,#5b29fc 321.5px,#5929fc 329.5px,#572afc 337.5px,#562afc 345.5px,#552afc 353.5px,#552afc 363px)"></div>
<div style="height:2px;background:linear-gradient(90deg,#542afc 0px,#542afc 1.5px,#552afc 9.5px,#552afc 17.5px,#562afc 25.5px,#572afc 33.5px,#5929fc 41.5px,#5c29fc 49.5px,#5f27fc 57.5px,#6524fc 65.5px,#6b21fc 73.5px,#741cfc 81.5px,#8311fe 89.5px,#9306fb 97.5px,#9c00d5 105.5px,#a40082 113.5px,#ae0323 121.5px,#b20609 125.5px,#b50900 129.5px,#b90c00 133.5px,#bd0f00 137.5px,#c11200 141.5px,#c51500 145.5px,#c81900 149.5px,#cc1e00 153.5px,#cf2200 157.5px,#d12500 159.5px,#d22700 161.5px,#d42a00 163.5px,#d52c00 165.5px,#d72e00 167.5px,#d83100 169.5px,#da3500 171.5px,#da3700 172.5px,#db3900 173.5px,#dc3a00 174.5px,#dc3c00 175.5px,#dd3d00 176.5px,#dd3f00 177.5px,#dd3f00 178px,#de4000 178.5px,#de4100 179px,#de4100 179.5px,#de4200 180px,#df4400 180.5px,#e04600 181px,#e04700 181.5px,#e04600 182px,#df4400 182.5px,#de4200 183px,#de4100 183.5px,#de4100 184px,#de4000 184.5px,#dd3f00 185px,#dd3f00 185.5px,#dd3d00 186.5px,#dc3c00 187.5px,#dc3a00 188.5px,#db3900 189.5px,#da3700 190.5px,#da3500 191.5px,#d83100 193.5px,#d72e00 195.5px,#d52c00 197.5px,#d42a00 199.5px,#d22700 201.5px,#d12500 203.5px,#cf2200 205.5px,#cc1e00 209.5px,#c81900 213.5px,#c51500 217.5px,#c11200 221.5px,#bd0f00 225.5px,#b90c00 229.5px,#b50900 233.5px,#b20609 237.5px,#ae0323 241.5px,#a40082 249.5px,#9c00d5 257.5px,#9306fb 265.5px,#8311fe 273.5px,#741cfc 281.5px,#6b21fc 289.5px,#6524fc 297.5px,#5f27fc 305.5px,#5c29fc 313.5px,#5929fc 321.5px,#572afc 329.5px,#562afc 337.5px,#552afc 345.5px,#552afc 353.5px,#542afc 361.5px,#542afc 363px)"></div>
<div style="height:2px;background:linear-gradient(90deg,#542afc 0px,#542afc 9.5px,#552afc 17.5px,#552afc 25.5px,#562afc 33.5px,#582afc 41.5px,#5a29fc 49.5px,#5e28fc 57.5px,#6325fc 65.5px,#6922fc 73.5px,#721dfc 81.5px,#8014fd 89.5px,#9107fd 97.5px,#9b00df 105.5px,#a3008d 113.5px,#ad032d 121.5px,#b2060c 125.5px,#b50900 129.5px,#b80c00 133.5px,#bc0f00 137.5px,#c01200 141.5px,#c41500 145.5px,#c81800 149.5px,#cb1d00 153.5px,#ce2200 157.5px,#d02400 159.5px,#d22700 161.5px,#d32900 163.5px,#d52b00 165.5px,#d62e00 167.5px,#d83000 169.5px,#d93400 171.5px,#da3600 172.5px,#db3700 173.5px,#db3900 174.5px,#dc3a00 175.5px,#dc3c00 176.5px,#dd3d00 177.5px,#dd3e00 178px,#dd3f00 178.5px,#dd3f00 179px,#de4000 179.5px,#de4100 180px,#de4300 180.5px,#df4500 181px,#e04600 181.5px,#df4500 182px,#de4300 182.5px,#de4100 183px,#de4000 183.5px,#dd3f00 184px,#dd3f00 184.5px,#dd3e00 185px,#dd3d00 185.5px,#dc3c00 186.5px,#dc3a00 187.5px,#db3900 188.5px,#db3700 189.5px,#da3600 190.5px,#d93400 191.5px,#d83000 193.5px,#d62e00 195.5px,#d52b00 197.5px,#d32900 199.5px,#d22700 201.5px,#d02400 203.5px,#ce2200 205.5px,#cb1d00 209.5px,#c81800 213.5px,#c41500 217.5px,#c01200 221.5px,#bc0f00 225.5px,#b80c00 229.5px,#b50900 233.5px,#b2060c 237.5px,#ad032d 241.5px,#a3008d 249.5px,#9b00df 257.5px,#9107fd 265.5px,#8014fd 273.5px,#721dfc 281.5px,#6922fc 289.5px,#6325fc 297.5px,#5e28fc 305.5px,#5a29fc 313.5px,#582afc 321.5px,#562afc 329.5px,#552afc 337.5px,#552afc 345.5px,#542afc 353.5px,#542afc 363px)"></div>
<div style="height:2px;background:linear-gradient(90deg,#532afc 0px,#532afc 1.5px,#542afc 9.5px,#542afc 17.5px,#552afc 25.5px,#552afc 33.5px,#562afc 41.5px,#5929fc 49.5px,#5c28fc 57.5px,#6127fc 65.5px,#6723fc 73.5px,#6f1efc 81.5px,#7c16fd 89.5px,#8f09ff 97.5px,#9b00e8 105.5px,#a20098 113.5px,#ac0236 121.5px,#b1050f 125.5px,#b40800 129.5px,#b80b00 133.5px,#bc0e00 137.5px,#bf1100 141.5px,#c31400 145.5px,#c71700 149.5px,#cb1c00 153.5px,#ce2100 157.5px,#d02300 159.5px,#d12600 161.5px,#d32800 163.5px,#d42b00 165.5px,#d62d00 167.5px,#d72f00 169.5px,#d93200 171.5px,#d93400 172.5px,#da3600 173.5px,#db3800 174.5px,#db3900 175.5px,#dc3b00 176.5px,#dc3c00 177.5px,#dc3d00 178px,#dd3d00 178.5px,#dd3e00 179px,#dd3f00 179.5px,#de4000 180px,#de4100 180.5px,#df4400 181px,#df4500 181.5px,#df4400 182px,#de4100 182.5px,#de4000 183px,#dd3f00 183.5px,#dd3e00 184px,#dd3d00 184.5px,#dc3d00 185px,#dc3c00 185.5px,#dc3b00 186.5px,#db3900 187.5px,#db3800 188.5px,#da3600 189.5px,#d93400 190.5px,#d93200 191.5px,#d72f00 193.5px,#d62d00 195.5px,#d42b00 197.5px,#d32800 199.5px,#d12600 201.5px,#d02300 203.5px,#ce2100 205.5px,#cb1c00 209.5px,#c71700 213.5px,#c31400 217.5px,#bf1100 221.5px,#bc0e00 225.5px,#b80b00 229.5px,#b40800 233.5px,#b1050f 237.5px,#ac0236 241.5px,#a20098 249.5px,#9b00e8 257.5px,#8f09ff 265.5px,#7c16fd 273.5px,#6f1efc 281.5px,#6723fc 289.5px,#6127fc 297.5px,#5c28fc 305.5px,#5929fc 313.5px,#562afc 321.5px,#552afc 329.5px,#552afc 337.5px,#542afc 345.5px,#542afc 353.5px,#532afc 361.5px,#532afc 363px)"></div>
<div style="height:2px;background:linear-gradient(90deg,#522afd 0px,#522afd 1.5px,#532afc 9.5px,#532afc 17.5px,#542afc 25.5px,#552afc 33.5px,#562afc 41.5px,#572afc 49.5px,#5a29fc 57.5px,#5f28fc 65.5px,#6524fc 73.5px,#6d20fc 81.5px,#7918fd 89.5px,#8c0bff 97.5px,#9a00f0 105.5px,#a100a3 113.5px,#ab0140 121.5px,#b00412 125.5px,#b40802 129.5px,#b70b00 133.5px,#bb0e00 137.5px,#bf1100 141.5px,#c31400 145.5px,#c71700 149.5px,#ca1b00 153.5px,#cd2000 157.5px,#cf2300 159.5px,#d12500 161.5px,#d22700 163.5px,#d42a00 165.5px,#d52c00 167.5px,#d72e00 169.5px,#d83100 171.5px,#d93300 172.5px,#da3500 173.5px,#da3600 174.5px,#db3800 175.5px,#db3900 176.5px,#dc3b00 177.5px,#dc3b00 178px,#dc3c00 178.5px,#dc3d00 179px,#dd3d00 179.5px,#dd3e00 180px,#de4000 180.5px,#de4200 181px,#df4400 181.5px,#de4200 182px,#de4000 182.5px,#dd3e00 183px,#dd3d00 183.5px,#dc3d00 184px,#dc3c00 184.5px,#dc3b00 185px,#dc3b00 185.5px,#db3900 186.5px,#db3800 187.5px,#da3600 188.5px,#da3500 189.5px,#d93300 190.5px,#d83100 191.5px,#d72e00 193.5px,#d52c00 195.5px,#d42a00 197.5px,#d22700 199.5px,#d12500 201.5px,#cf2300 203.5px,#cd2000 205.5px,#ca1b00 209.5px,#c71700 213.5px,#c31400 217.5px,#bf1100 221.5px,#bb0e00 225.5px,#b70b00 229.5px,#b40802 233.5px,#b00412 237.5px,#ab0140 241.5px,#a100a3 249.5px,#9a00f0 257.5px,#8c0bff 265.5px,#7918fd 273.5px,#6d20fc 281.5px,#6524fc 289.5px,#5f28fc 297.5px,#5a29fc 305.5px,#572afc 313.5px,#562afc 321.5px,#552afc 329.5px,#542afc 337.5px,#532afc 345.5px,#532afc 353.5px,#522afd 361.5px,#522afd 363px)"></div>
<div style="height:2px;background:linear-gradient(90deg,#522afd 0px,#522afd 9.5px,#532afc 17.5px,#532afc 25.5px,#542afc 33.5px,#552afc 41.5px,#562afc 49.5px,#5929fc 57.5px,#5d28fc 65.5px,#6325fc 73.5px,#6b21fc 81.5px,#761bfc 89.5px,#890dfe 97.5px,#9802f3 105.5px,#a000ae 113.5px,#aa014a 121.5px,#af0418 125.5px,#b30705 129.5px,#b70a00 133.5px,#ba0d00 137.5px,#be1000 141.5px,#c21300 145.5px,#c61600 149.5px,#ca1a00 153.5px,#cd1f00 157.5px,#ce2200 159.5px,#d02400 161.5px,#d22700 163.5px,#d32900 165.5px,#d52b00 167.5px,#d62e00 169.5px,#d83000 171.5px,#d93100 172.5px,#d93300 173.5px,#da3500 174.5px,#da3600 175.5px,#db3800 176.5px,#db3900 177.5px,#db3a00 178px,#dc3b00 178.5px,#dc3b00 179px,#dc3c00 179.5px,#dd3d00 180px,#dd3f00 180.5px,#de4100 181px,#df4300 181.5px,#de4100 182px,#dd3f00 182.5px,#dd3d00 183px,#dc3c00 183.5px,#dc3b00 184px,#dc3b00 184.5px,#db3a00 185px,#db3900 185.5px,#db3800 186.5px,#da3600 187.5px,#da3500 188.5px,#d93300 189.5px,#d93100 190.5px,#d83000 191.5px,#d62e00 193.5px,#d52b00 195.5px,#d32900 197.5px,#d22700 199.5px,#d02400 201.5px,#ce2200 203.5px,#cd1f00 205.5px,#ca1a00 209.5px,#c61600 213.5px,#c21300 217.5px,#be1000 221.5px,#ba0d00 225.5px,#b70a00 229.5px,#b30705 233.5px,#af0418 237.5px,#aa014a 241.5px,#a000ae 249.5px,#9802f3 257.5px,#890dfe 265.5px,#761bfc 273.5px,#6b21fc 281.5px,#6325fc 289.5px,#5d28fc 297.5px,#5929fc 305.5px,#562afc 313.5px,#552afc 321.5px,#542afc 329.5px,#532afc 337.5px,#532afc 345.5px,#522afd 353.5px,#522afd 363px)"></div>
<div style="height:2px;background:linear-gradient(90deg,#512afd 0px,#512afd 1.5px,#522afd 9.5px,#522afd 17.5px,#532afd 25.5px,#532afc 33.5px,#542afc 41.5px,#552afc 49.5px,#572afc 57.5px,#5b29fc 65.5px,#6126fc 73.5px,#6922fc 81.5px,#731dfc 89.5px,#8510fe 97.5px,#9603f6 105.5px,#9f00b8 113.5px,#a90054 121.5px,#ae0322 125.5px,#b20608 129.5px,#b60900 133.5px,#ba0d00 137.5px,#be1000 141.5px,#c11300 145.5px,#c51600 149.5px,#c91a00 153.5px,#cc1e00 157.5px,#ce2100 159.5px,#d02300 161.5px,#d12600 163.5px,#d32800 165.5px,#d42a00 167.5px,#d62d00 169.5px,#d72f00 171.5px,#d83000 172.5px,#d93200 173.5px,#d93300 174.5px,#da3500 175.5px,#da3600 176.5px,#db3800 177.5px,#db3900 178px,#db3900 178.5px,#db3a00 179px,#dc3b00 179.5px,#dc3c00 180px,#dd3e00 180.5px,#de4000 181px,#de4100 181.5px,#de4000 182px,#dd3e00 182.5px,#dc3c00 183px,#dc3b00 183.5px,#db3a00 184px,#db3900 184.5px,#db3900 185px,#db3800 185.5px,#da3600 186.5px,#da3500 187.5px,#d93300 188.5px,#d93200 189.5px,#d83000 190.5px,#d72f00 191.5px,#d62d00 193.5px,#d42a00 195.5px,#d32800 197.5px,#d12600 199.5px,#d02300 201.5px,#ce2100 203.5px,#cc1e00 205.5px,#c91a00 209.5px,#c51600 213.5px,#c11300 217.5px,#be1000 221.5px,#ba0d00 225.5px,#b60900 229.5px,#b20608 233.5px,#ae0322 237.5px,#a90054 241.5px,#9f00b8 249.5px,#9603f6 257.5px,#8510fe 265.5px,#731dfc 273.5px,#6922fc 281.5px,#6126fc 289.5px,#5b29fc 297.5px,#572afc 305.5px,#552afc 313.5px,#542afc 321.5px,#532afc 329.5px,#532afd 337.5px,#522afd 345.5px,#522afd 353.5px,#512afd 361.5px,#512afd 363px)"></div>
<div style="height:2px;background:linear-gradient(90deg,#502bfd 0px,#512bfd 1.5px,#512bfd 9.5px,#512afd 17.5px,#522afd 25.5px,#532afd 33.5px,#542afc 41.5px,#552afc 49.5px,#562afc 57.5px,#5a29fc 65.5px,#5f28fc 73.5px,#6723fc 81.5px,#711efc 89.5px,#8212fd 97.5px,#9404f8 105.5px,#9e00c2 113.5px,#a8005e 121.5px,#ad032c 125.5px,#b2060b 129.5px,#b50900 133.5px,#b90c00 137.5px,#bd0f00 141.5px,#c11200 145.5px,#c51500 149.5px,#c91900 153.5px,#cc1e00 157.5px,#cd2000 159.5px,#cf2200 161.5px,#d12500 163.5px,#d22700 165.5px,#d42a00 167.5px,#d52c00 169.5px,#d72e00 171.5px,#d72f00 172.5px,#d83000 173.5px,#d93200 174.5px,#d93400 175.5px,#da3500 176.5px,#da3600 177.5px,#da3700 178px,#db3800 178.5px,#db3900 179px,#db3900 179.5px,#dc3b00 180px,#dc3c00 180.5px,#dd3f00 181px,#de4000 181.5px,#dd3f00 182px,#dc3c00 182.5px,#dc3b00 183px,#db3900 183.5px,#db3900 184px,#db3800 184.5px,#da3700 185px,#da3600 185.5px,#da3500 186.5px,#d93400 187.5px,#d93200 188.5px,#d83000 189.5px,#d72f00 190.5px,#d72e00 191.5px,#d52c00 193.5px,#d42a00 195.5px,#d22700 197.5px,#d12500 199.5px,#cf2200 201.5px,#cd2000 203.5px,#cc1e00 205.5px,#c91900 209.5px,#c51500 213.5px,#c11200 217.5px,#bd0f00 221.5px,#b90c00 225.5px,#b50900 229.5px,#b2060b 233.5px,#ad032c 237.5px,#a8005e 241.5px,#9e00c2 249.5px,#9404f8 257.5px,#8212fd 265.5px,#711efc 273.5px,#6723fc 281.5px,#5f28fc 289.5px,#5a29fc 297.5px,#562afc 305.5px,#552afc 313.5px,#542afc 321.5px,#532afd 329.5px,#522afd 337.5px,#512afd 345.5px,#512bfd 353.5px,#512bfd 361.5px,#502bfd 363px)"></div>
<div style="height:2px;background:linear-gradient(90deg,#502bfd 0px,#502bfd 9.5px,#512bfd 17.5px,#512afd 25.5px,#522afd 33.5px,#532afc 41.5px,#542afc 49.5px,#552afc 57.5px,#5829fc 65.5px,#5d28fc 73.5px,#6524fc 81.5px,#6f1ffc 89.5px,#7f14fd 97.5px,#9306fb 105.5px,#9d00cc 113.5px,#a6006a 121.5px,#ac0236 125.5px,#b1050e 129.5px,#b50800 133.5px,#b80b00 137.5px,#bc0f00 141.5px,#c01200 145.5px,#c41500 149.5px,#c81800 153.5px,#cb1d00 157.5px,#cd1f00 159.5px,#ce2200 161.5px,#d02400 163.5px,#d22600 165.5px,#d32900 167.5px,#d52b00 169.5px,#d62d00 171.5px,#d72e00 172.5px,#d82f00 173.5px,#d83100 174.5px,#d93200 175.5px,#d93400 176.5px,#da3500 177.5px,#da3600 178px,#da3600 178.5px,#da3700 179px,#db3800 179.5px,#db3900 180px,#dc3b00 180.5px,#dd3e00 181px,#dd3f00 181.5px,#dd3e00 182px,#dc3b00 182.5px,#db3900 183px,#db3800 183.5px,#da3700 184px,#da3600 184.5px,#da3600 185px,#da3500 185.5px,#d93400 186.5px,#d93200 187.5px,#d83100 188.5px,#d82f00 189.5px,#d72e00 190.5px,#d62d00 191.5px,#d52b00 193.5px,#d32900 195.5px,#d22600 197.5px,#d02400 199.5px,#ce2200 201.5px,#cd1f00 203.5px,#cb1d00 205.5px,#c81800 209.5px,#c41500 213.5px,#c01200 217.5px,#bc0f00 221.5px,#b80b00 225.5px,#b50800 229.5px,#b1050e 233.5px,#ac0236 237.5px,#a6006a 241.5px,#9d00cc 249.5px,#9306fb 257.5px,#7f14fd 265.5px,#6f1ffc 273.5px,#6524fc 281.5px,#5d28fc 289.5px,#5829fc 297.5px,#552afc 305.5px,#542afc 313.5px,#532afc 321.5px,#522afd 329.5px,#512afd 337.5px,#512bfd 345.5px,#502bfd 353.5px,#502bfd 363px)"></div>
<div style="height:2px;background:linear-gradient(90deg,#4f2bfd 0px,#4f2bfd 1.5px,#502bfd 9.5px,#502bfd 17.5px,#512bfd 25.5px,#512afd 33.5px,#522afd 41.5px,#532afc 49.5px,#552afc 57.5px,#562afc 65.5px,#5b29fc 73.5px,#6226fc 81.5px,#6c20fc 89.5px,#7b17fd 97.5px,#9107fe 105.5px,#9c00d6 113.5px,#a50075 121.5px,#ab0140 125.5px,#b00412 129.5px,#b40801 133.5px,#b80b00 137.5px,#bc0e00 141.5px,#bf1100 145.5px,#c31400 149.5px,#c71700 153.5px,#cb1c00 157.5px,#cc1e00 159.5px,#ce2100 161.5px,#cf2300 163.5px,#d12600 165.5px,#d32800 167.5px,#d42a00 169.5px,#d62c00 171.5px,#d62d00 172.5px,#d72f00 173.5px,#d83000 174.5px,#d83100 175.5px,#d93200 176.5px,#d93400 177.5px,#da3400 178px,#da3500 178.5px,#da3600 179px,#da3700 179.5px,#db3800 180px,#db3a00 180.5px,#dc3c00 181px,#dd3e00 181.5px,#dc3c00 182px,#db3a00 182.5px,#db3800 183px,#da3700 183.5px,#da3600 184px,#da3500 184.5px,#da3400 185px,#d93400 185.5px,#d93200 186.5px,#d83100 187.5px,#d83000 188.5px,#d72f00 189.5px,#d62d00 190.5px,#d62c00 191.5px,#d42a00 193.5px,#d32800 195.5px,#d12600 197.5px,#cf2300 199.5px,#ce2100 201.5px,#cc1e00 203.5px,#cb1c00 205.5px,#c71700 209.5px,#c31400 213.5px,#bf1100 217.5px,#bc0e00 221.5px,#b80b00 225.5px,#b40801 229.5px,#b00412 233.5px,#ab0140 237.5px,#a50075 241.5px,#9c00d6 249.5px,#9107fe 257.5px,#7b17fd 265.5px,#6c20fc 273.5px,#6226fc 281.5px,#5b29fc 289.5px,#562afc 297.5px,#552afc 305.5px,#532afc 313.5px,#522afd 321.5px,#512afd 329.5px,#512bfd 337.5px,#502bfd 345.5px,#502bfd 353.5px,#4f2bfd 361.5px,#4f2bfd 363px)"></div>
<div style="height:2px;background:linear-gradient(90deg,#4e2bfd 0px,#4f2bfd 1.5px,#4f2bfd 17.5px,#502bfd 25.5px,#512bfd 33.5px,#512afd 41.5px,#532afd 49.5px,#542afc 57.5px,#552afc 65.5px,#5a29fc 73.5px,#6027fc 81.5px,#6a21fc 89.5px,#7819fc 97.5px,#8e09ff 105.5px,#9b00e0 113.5px,#a40081 121.5px,#aa014b 125.5px,#b00417 129.5px,#b30704 133.5px,#b70a00 137.5px,#bb0d00 141.5px,#bf1100 145.5px,#c31400 149.5px,#c71700 153.5px,#ca1b00 157.5px,#cc1e00 159.5px,#cd2000 161.5px,#cf2200 163.5px,#d02500 165.5px,#d22700 167.5px,#d42900 169.5px,#d52c00 171.5px,#d62d00 172.5px,#d62e00 173.5px,#d72f00 174.5px,#d83000 175.5px,#d83100 176.5px,#d93200 177.5px,#d93300 178px,#d93400 178.5px,#da3400 179px,#da3500 179.5px,#da3600 180px,#db3800 180.5px,#dc3b00 181px,#dc3d00 181.5px,#dc3b00 182px,#db3800 182.5px,#da3600 183px,#da3500 183.5px,#da3400 184px,#d93400 184.5px,#d93300 185px,#d93200 185.5px,#d83100 186.5px,#d83000 187.5px,#d72f00 188.5px,#d62e00 189.5px,#d62d00 190.5px,#d52c00 191.5px,#d42900 193.5px,#d22700 195.5px,#d02500 197.5px,#cf2200 199.5px,#cd2000 201.5px,#cc1e00 203.5px,#ca1b00 205.5px,#c71700 209.5px,#c31400 213.5px,#bf1100 217.5px,#bb0d00 221.5px,#b70a00 225.5px,#b30704 229.5px,#b00417 233.5px,#aa014b 237.5px,#a40081 241.5px,#9b00e0 249.5px,#8e09ff 257.5px,#7819fc 265.5px,#6a21fc 273.5px,#6027fc 281.5px,#5a29fc 289.5px,#552afc 297.5px,#542afc 305.5px,#532afd 313.5px,#512afd 321.5px,#512bfd 329.5px,#502bfd 337.5px,#4f2bfd 345.5px,#4f2bfd 361.5px,#4e2bfd 363px)"></div>
<div style="height:2px;background:linear-gradient(90deg,#4e2bfd 0px,#4e2bfd 9.5px,#4f2bfd 17.5px,#4f2bfd 25.5px,#502bfd 33.5px,#512bfd 41.5px,#522afd 49.5px,#532afc 57.5px,#552afc 65.5px,#582afc 73.5px,#5e28fc 81.5px,#6823fc 89.5px,#741cfc 97.5px,#8a0cfe 105.5px,#9a00eb 113.5px,#a3008d 121.5px,#a90055 125.5px,#af0321 129.5px,#b30707 133.5px,#b60a00 137.5px,#ba0d00 141.5px,#be1000 145.5px,#c21300 149.5px,#c61600 153.5px,#c91a00 157.5px,#cb1d00 159.5px,#cd1f00 161.5px,#ce2100 163.5px,#d02400 165.5px,#d12600 167.5px,#d32800 169.5px,#d42b00 171.5px,#d52c00 172.5px,#d62d00 173.5px,#d62e00 174.5px,#d72f00 175.5px,#d83000 176.5px,#d83100 177.5px,#d83100 178px,#d93200 178.5px,#d93300 179px,#d93400 179.5px,#da3500 180px,#db3700 180.5px,#dc3a00 181px,#dc3c00 181.5px,#dc3a00 182px,#db3700 182.5px,#da3500 183px,#d93400 183.5px,#d93300 184px,#d93200 184.5px,#d83100 185px,#d83100 185.5px,#d83000 186.5px,#d72f00 187.5px,#d62e00 188.5px,#d62d00 189.5px,#d52c00 190.5px,#d42b00 191.5px,#d32800 193.5px,#d12600 195.5px,#d02400 197.5px,#ce2100 199.5px,#cd1f00 201.5px,#cb1d00 203.5px,#c91a00 205.5px,#c61600 209.5px,#c21300 213.5px,#be1000 217.5px,#ba0d00 221.5px,#b60a00 225.5px,#b30707 229.5px,#af0321 233.5px,#a90055 237.5px,#a3008d 241.5px,#9a00eb 249.5px,#8a0cfe 257.5px,#741cfc 265.5px,#6823fc 273.5px,#5e28fc 281.5px,#582afc 289.5px,#552afc 297.5px,#532afc 305.5px,#522afd 313.5px,#512bfd 321.5px,#502bfd 329.5px,#4f2bfd 337.5px,#4f2bfd 345.5px,#4e2bfd 353.5px,#4e2bfd 363px)"></div>
<div style="height:2px;background:linear-gradient(90deg,#4d2bfd 0px,#4d2bfd 9.5px,#4e2bfd 17.5px,#4f2bfd 25.5px,#4f2bfd 33.5px,#502bfd 41.5px,#512afd 49.5px,#522afd 57.5px,#542afc 65.5px,#562afc 73.5px,#5c28fc 81.5px,#6624fc 89.5px,#721dfc 97.5px,#870ffe 105.5px,#9901f1 113.5px,#a20099 121.5px,#a70060 125.5px,#ad032b 129.5px,#b2060a 133.5px,#b60900 137.5px,#b90c00 141.5px,#bd0f00 145.5px,#c11300 149.5px,#c51600 153.5px,#c91900 157.5px,#cb1c00 159.5px,#cc1e00 161.5px,#ce2100 163.5px,#cf2300 165.5px,#d12500 167.5px,#d22800 169.5px,#d42a00 171.5px,#d52b00 172.5px,#d52c00 173.5px,#d62d00 174.5px,#d72e00 175.5px,#d72f00 176.5px,#d83000 177.5px,#d83000 178px,#d83100 178.5px,#d83100 179px,#d93200 179.5px,#d93400 180px,#da3600 180.5px,#db3900 181px,#dc3b00 181.5px,#db3900 182px,#da3600 182.5px,#d93400 183px,#d93200 183.5px,#d83100 184px,#d83100 184.5px,#d83000 185px,#d83000 185.5px,#d72f00 186.5px,#d72e00 187.5px,#d62d00 188.5px,#d52c00 189.5px,#d52b00 190.5px,#d42a00 191.5px,#d22800 193.5px,#d12500 195.5px,#cf2300 197.5px,#ce2100 199.5px,#cc1e00 201.5px,#cb1c00 203.5px,#c91900 205.5px,#c51600 209.5px,#c11300 213.5px,#bd0f00 217.5px,#b90c00 221.5px,#b60900 225.5px,#b2060a 229.5px,#ad032b 233.5px,#a70060 237.5px,#a20099 241.5px,#9901f1 249.5px,#870ffe 257.5px,#721dfc 265.5px,#6624fc 273.5px,#5c28fc 281.5px,#562afc 289.5px,#542afc 297.5px,#522afd 305.5px,#512afd 313.5px,#502bfd 321.5px,#4f2bfd 329.5px,#4f2bfd 337.5px,#4e2bfd 345.5px,#4d2bfd 353.5px,#4d2bfd 363px)"></div>
<div style="height:2px;background:linear-gradient(90deg,#4c2bfd 0px,#4c2bfd 1.5px,#4d2bfd 9.5px,#4d2bfd 17.5px,#4e2bfd 25.5px,#4e2bfd 33.5px,#4f2bfd 41.5px,#502bfd 49.5px,#522afd 57.5px,#532afc 65.5px,#552afc 73.5px,#5a29fc 81.5px,#6325fc 89.5px,#6f1ffc 97.5px,#8311fe 105.5px,#9702f4 113.5px,#a000a5 121.5px,#a6006d 125.5px,#ac0236 129.5px,#b1050e 133.5px,#b50900 137.5px,#b90c00 141.5px,#bd0f00 145.5px,#c11200 149.5px,#c41500 153.5px,#c81800 157.5px,#ca1b00 159.5px,#cc1d00 161.5px,#cd2000 163.5px,#cf2200 165.5px,#d02400 167.5px,#d22700 169.5px,#d32900 171.5px,#d42a00 172.5px,#d52b00 173.5px,#d52c00 174.5px,#d62d00 175.5px,#d72e00 176.5px,#d72f00 177.5px,#d72f00 178px,#d82f00 178.5px,#d83000 179px,#d83100 179.5px,#d93200 180px,#da3500 180.5px,#db3800 181px,#db3900 181.5px,#db3800 182px,#da3500 182.5px,#d93200 183px,#d83100 183.5px,#d83000 184px,#d82f00 184.5px,#d72f00 185px,#d72f00 185.5px,#d72e00 186.5px,#d62d00 187.5px,#d52c00 188.5px,#d52b00 189.5px,#d42a00 190.5px,#d32900 191.5px,#d22700 193.5px,#d02400 195.5px,#cf2200 197.5px,#cd2000 199.5px,#cc1d00 201.5px,#ca1b00 203.5px,#c81800 205.5px,#c41500 209.5px,#c11200 213.5px,#bd0f00 217.5px,#b90c00 221.5px,#b50900 225.5px,#b1050e 229.5px,#ac0236 233.5px,#a6006d 237.5px,#a000a5 241.5px,#9702f4 249.5px,#8311fe 257.5px,#6f1ffc 265.5px,#6325fc 273.5px,#5a29fc 281.5px,#552afc 289.5px,#532afc 297.5px,#522afd 305.5px,#502bfd 313.5px,#4f2bfd 321.5px,#4e2bfd 329.5px,#4e2bfd 337.5px,#4d2bfd 345.5px,#4d2bfd 353.5px,#4c2bfd 361.5px,#4c2bfd 363px)"></div>
<div style="height:2px;background:linear-gradient(90deg,#4c2bfe 0px,#4c2bfe 1.5px,#4c2bfd 9.5px,#4d2bfd 17.5px,#4d2bfd 25.5px,#4e2bfd 33.5px,#4f2bfd 41.5px,#502bfd 49.5px,#512bfd 57.5px,#532afd 65.5px,#552afc 73.5px,#5929fc 81.5px,#6126fc 89.5px,#6d20fc 97.5px,#7f14fd 105.5px,#9504f7 113.5px,#9f00b1 121.5px,#a50079 125.5px,#ab0141 129.5px,#b10511 133.5px,#b40800 137.5px,#b80b00 141.5px,#bc0e00 145.5px,#c01100 149.5px,#c41500 153.5px,#c81800 157.5px,#c91a00 159.5px,#cb1c00 161.5px,#cc1f00 163.5px,#ce2100 165.5px,#d02300 167.5px,#d12600 169.5px,#d32800 171.5px,#d32900 172.5px,#d42a00 173.5px,#d52b00 174.5px,#d52c00 175.5px,#d62d00 176.5px,#d62e00 177.5px,#d72e00 178px,#d72f00 178.5px,#d72f00 179px,#d83000 179.5px,#d83100 180px,#d93300 180.5px,#da3600 181px,#db3800 181.5px,#da3600 182px,#d93300 182.5px,#d83100 183px,#d83000 183.5px,#d72f00 184px,#d72f00 184.5px,#d72e00 185px,#d62e00 185.5px,#d62d00 186.5px,#d52c00 187.5px,#d52b00 188.5px,#d42a00 189.5px,#d32900 190.5px,#d32800 191.5px,#d12600 193.5px,#d02300 195.5px,#ce2100 197.5px,#cc1f00 199.5px,#cb1c00 201.5px,#c91a00 203.5px,#c81800 205.5px,#c41500 209.5px,#c01100 213.5px,#bc0e00 217.5px,#b80b00 221.5px,#b40800 225.5px,#b10511 229.5px,#ab0141 233.5px,#a50079 237.5px,#9f00b1 241.5px,#9504f7 249.5px,#7f14fd 257.5px,#6d20fc 265.5px,#6126fc 273.5px,#5929fc 281.5px,#552afc 289.5px,#532afd 297.5px,#512bfd 305.5px,#502bfd 313.5px,#4f2bfd 321.5px,#4e2bfd 329.5px,#4d2bfd 337.5px,#4d2bfd 345.5px,#4c2bfd 353.5px,#4c2bfe 361.5px,#4c2bfe 363px)"></div>
<div style="height:2px;background:linear-gradient(90deg,#4b2bfe 0px,#4b2bfe 9.5px,#4c2bfe 17.5px,#4c2bfd 25.5px,#4d2bfd 33.5px,#4e2bfd 41.5px,#4f2bfd 49.5px,#502bfd 57.5px,#522afd 65.5px,#542afc 73.5px,#572afc 81.5px,#5e28fc 89.5px,#6a21fc 97.5px,#7c16fd 105.5px,#9305fa 113.5px,#9e00bc 121.5px,#a40085 125.5px,#aa014c 129.5px,#b00415 133.5px,#b30703 137.5px,#b70b00 141.5px,#bb0e00 145.5px,#bf1100 149.5px,#c31400 153.5px,#c71700 157.5px,#c91900 159.5px,#ca1b00 161.5px,#cc1e00 163.5px,#cd2000 165.5px,#cf2200 167.5px,#d12500 169.5px,#d22700 171.5px,#d32800 172.5px,#d32900 173.5px,#d42a00 174.5px,#d52b00 175.5px,#d52c00 176.5px,#d62d00 177.5px,#d62d00 178px,#d62e00 178.5px,#d72e00 179px,#d72f00 179.5px,#d83000 180px,#d93200 180.5px,#da3500 181px,#da3700 181.5px,#da3500 182px,#d93200 182.5px,#d83000 183px,#d72f00 183.5px,#d72e00 184px,#d62e00 184.5px,#d62d00 185px,#d62d00 185.5px,#d52c00 186.5px,#d52b00 187.5px,#d42a00 188.5px,#d32900 189.5px,#d32800 190.5px,#d22700 191.5px,#d12500 193.5px,#cf2200 195.5px,#cd2000 197.5px,#cc1e00 199.5px,#ca1b00 201.5px,#c91900 203.5px,#c71700 205.5px,#c31400 209.5px,#bf1100 213.5px,#bb0e00 217.5px,#b70b00 221.5px,#b30703 225.5px,#b00415 229.5px,#aa014c 233.5px,#a40085 237.5px,#9e00bc 241.5px,#9305fa 249.5px,#7c16fd 257.5px,#6a21fc 265.5px,#5e28fc 273.5px,#572afc 281.5px,#542afc 289.5px,#522afd 297.5px,#502bfd 305.5px,#4f2bfd 313.5px,#4e2bfd 321.5px,#4d2bfd 329.5px,#4c2bfd 337.5px,#4c2bfe 345.5px,#4b2bfe 353.5px,#4b2bfe 363px)"></div>
<div style="height:2px;background:linear-gradient(90deg,#4a2bfe 0px,#4a2bfe 1.5px,#4b2bfe 9.5px,#4b2bfe 17.5px,#4c2bfe 25.5px,#4c2bfd 33.5px,#4d2bfd 41.5px,#4e2bfd 49.5px,#4f2bfd 57.5px,#512afd 65.5px,#532afc 73.5px,#562afc 81.5px,#5c28fc 89.5px,#6823fc 97.5px,#7819fc 105.5px,#9107fd 113.5px,#9e00c7 121.5px,#a20092 125.5px,#a80057 129.5px,#af0320 133.5px,#b30706 137.5px,#b70a00 141.5px,#ba0d00 145.5px,#be1000 149.5px,#c21300 153.5px,#c61700 157.5px,#c81800 159.5px,#ca1b00 161.5px,#cb1d00 163.5px,#cd1f00 165.5px,#ce2200 167.5px,#d02400 169.5px,#d12600 171.5px,#d22700 172.5px,#d32800 173.5px,#d32900 174.5px,#d42a00 175.5px,#d52b00 176.5px,#d52c00 177.5px,#d62c00 178px,#d62d00 178.5px,#d62d00 179px,#d72e00 179.5px,#d72f00 180px,#d83100 180.5px,#d93400 181px,#da3600 181.5px,#d93400 182px,#d83100 182.5px,#d72f00 183px,#d72e00 183.5px,#d62d00 184px,#d62d00 184.5px,#d62c00 185px,#d52c00 185.5px,#d52b00 186.5px,#d42a00 187.5px,#d32900 188.5px,#d32800 189.5px,#d22700 190.5px,#d12600 191.5px,#d02400 193.5px,#ce2200 195.5px,#cd1f00 197.5px,#cb1d00 199.5px,#ca1b00 201.5px,#c81800 203.5px,#c61700 205.5px,#c21300 209.5px,#be1000 213.5px,#ba0d00 217.5px,#b70a00 221.5px,#b30706 225.5px,#af0320 229.5px,#a80057 233.5px,#a20092 237.5px,#9e00c7 241.5px,#9107fd 249.5px,#7819fc 257.5px,#6823fc 265.5px,#5c28fc 273.5px,#562afc 281.5px,#532afc 289.5px,#512afd 297.5px,#4f2bfd 305.5px,#4e2bfd 313.5px,#4d2bfd 321.5px,#4c2bfd 329.5px,#4c2bfe 337.5px,#4b2bfe 345.5px,#4b2bfe 353.5px,#4a2bfe 361.5px,#4a2bfe 363px)"></div>
<div style="height:2px;background:linear-gradient(90deg,#492bfe 0px,#4a2bfe 1.5px,#4a2bfe 17.5px,#4b2bfe 25.5px,#4c2bfe 33.5px,#4c2bfd 41.5px,#4d2bfd 49.5px,#4f2bfd 57.5px,#502bfd 65.5px,#522afd 73.5px,#552afc 81.5px,#5b29fc 89.5px,#6624fc 97.5px,#741cfc 105.5px,#8f09ff 113.5px,#9d00d2 121.5px,#a1009f 125.5px,#a70063 129.5px,#ad032b 133.5px,#b2060a 137.5px,#b60900 141.5px,#ba0d00 145.5px,#be1000 149.5px,#c21300 153.5px,#c51600 157.5px,#c71700 159.5px,#c91a00 161.5px,#cb1c00 163.5px,#cc1e00 165.5px,#ce2100 167.5px,#cf2300 169.5px,#d12500 171.5px,#d12600 172.5px,#d22700 173.5px,#d32800 174.5px,#d32900 175.5px,#d42a00 176.5px,#d52b00 177.5px,#d52b00 178px,#d52c00 178.5px,#d62c00 179px,#d62d00 179.5px,#d72e00 180px,#d83000 180.5px,#d93300 181px,#da3500 181.5px,#d93300 182px,#d83000 182.5px,#d72e00 183px,#d62d00 183.5px,#d62c00 184px,#d52c00 184.5px,#d52b00 185px,#d52b00 185.5px,#d42a00 186.5px,#d32900 187.5px,#d32800 188.5px,#d22700 189.5px,#d12600 190.5px,#d12500 191.5px,#cf2300 193.5px,#ce2100 195.5px,#cc1e00 197.5px,#cb1c00 199.5px,#c91a00 201.5px,#c71700 203.5px,#c51600 205.5px,#c21300 209.5px,#be1000 213.5px,#ba0d00 217.5px,#b60900 221.5px,#b2060a 225.5px,#ad032b 229.5px,#a70063 233.5px,#a1009f 237.5px,#9d00d2 241.5px,#8f09ff 249.5px,#741cfc 257.5px,#6624fc 265.5px,#5b29fc 273.5px,#552afc 281.5px,#522afd 289.5px,#502bfd 297.5px,#4f2bfd 305.5px,#4d2bfd 313.5px,#4c2bfd 321.5px,#4c2bfe 329.5px,#4b2bfe 337.5px,#4a2bfe 345.5px,#4a2bfe 361.5px,#492bfe 363px)"></div>
<div style="height:2px;background:linear-gradient(90deg,#492bfe 0px,#492bfe 9.5px,#4a2bfe 17.5px,#4a2bfe 25.5px,#4b2bfe 33.5px,#4c2bfe 41.5px,#4d2bfd 49.5px,#4e2bfd 57.5px,#502bfd 65.5px,#522afd 73.5px,#542afc 81.5px,#5929fc 89.5px,#6325fc 97.5px,#721dfc 105.5px,#8b0cfe 113.5px,#9c00dd 121.5px,#a000ac 125.5px,#a60070 129.5px,#ac0236 133.5px,#b1050d 137.5px,#b50900 141.5px,#b90c00 145.5px,#bd0f00 149.5px,#c11200 153.5px,#c51500 157.5px,#c71700 159.5px,#c81900 161.5px,#ca1b00 163.5px,#cc1d00 165.5px,#cd2000 167.5px,#cf2200 169.5px,#d02400 171.5px,#d12500 172.5px,#d12600 173.5px,#d22700 174.5px,#d32800 175.5px,#d32900 176.5px,#d42a00 177.5px,#d42a00 178px,#d52b00 178.5px,#d52b00 179px,#d52c00 179.5px,#d62d00 180px,#d72f00 180.5px,#d93200 181px,#d93400 181.5px,#d93200 182px,#d72f00 182.5px,#d62d00 183px,#d52c00 183.5px,#d52b00 184px,#d52b00 184.5px,#d42a00 185px,#d42a00 185.5px,#d32900 186.5px,#d32800 187.5px,#d22700 188.5px,#d12600 189.5px,#d12500 190.5px,#d02400 191.5px,#cf2200 193.5px,#cd2000 195.5px,#cc1d00 197.5px,#ca1b00 199.5px,#c81900 201.5px,#c71700 203.5px,#c51500 205.5px,#c11200 209.5px,#bd0f00 213.5px,#b90c00 217.5px,#b50900 221.5px,#b1050d 225.5px,#ac0236 229.5px,#a60070 233.5px,#a000ac 237.5px,#9c00dd 241.5px,#8b0cfe 249.5px,#721dfc 257.5px,#6325fc 265.5px,#5929fc 273.5px,#542afc 281.5px,#522afd 289.5px,#502bfd 297.5px,#4e2bfd 305.5px,#4d2bfd 313.5px,#4c2bfe 321.5px,#4b2bfe 329.5px,#4a2bfe 337.5px,#4a2bfe 345.5px,#492bfe 353.5px,#492bfe 363px)"></div>
<div style="height:2px;background:linear-gradient(90deg,#482bfe 0px,#482bfe 9.5px,#492bfe 17.5px,#492bfe 25.5px,#4a2bfe 33.5px,#4b2bfe 41.5px,#4c2bfe 49.5px,#4d2bfd 57.5px,#4f2bfd 65.5px,#512bfd 73.5px,#532afc 81.5px,#572afc 89.5px,#6127fc 97.5px,#6f1ffc 105.5px,#870ffe 113.5px,#9b00e9 121.5px,#9f00b7 125.5px,#a5007d 129.5px,#ab0142 133.5px,#b10510 137.5px,#b40800 141.5px,#b80b00 145.5px,#bc0f00 149.5px,#c01200 153.5px,#c41500 157.5px,#c61600 159.5px,#c81800 161.5px,#c91a00 163.5px,#cb1c00 165.5px,#cc1f00 167.5px,#ce2100 169.5px,#cf2300 171.5px,#d02400 172.5px,#d12500 173.5px,#d12600 174.5px,#d22700 175.5px,#d32800 176.5px,#d32900 177.5px,#d42900 178px,#d42a00 178.5px,#d42a00 179px,#d52b00 179.5px,#d52c00 180px,#d72e00 180.5px,#d83000 181px,#d93200 181.5px,#d83000 182px,#d72e00 182.5px,#d52c00 183px,#d52b00 183.5px,#d42a00 184px,#d42a00 184.5px,#d42900 185px,#d32900 185.5px,#d32800 186.5px,#d22700 187.5px,#d12600 188.5px,#d12500 189.5px,#d02400 190.5px,#cf2300 191.5px,#ce2100 193.5px,#cc1f00 195.5px,#cb1c00 197.5px,#c91a00 199.5px,#c81800 201.5px,#c61600 203.5px,#c41500 205.5px,#c01200 209.5px,#bc0f00 213.5px,#b80b00 217.5px,#b40800 221.5px,#b10510 225.5px,#ab0142 229.5px,#a5007d 233.5px,#9f00b7 237.5px,#9b00e9 241.5px,#870ffe 249.5px,#6f1ffc 257.5px,#6127fc 265.5px,#572afc 273.5px,#532afc 281.5px,#512bfd 289.5px,#4f2bfd 297.5px,#4d2bfd 305.5px,#4c2bfe 313.5px,#4b2bfe 321.5px,#4a2bfe 329.5px,#492bfe 337.5px,#492bfe 345.5px,#482bfe 353.5px,#482bfe 363px)"></div>
<div style="height:2px;background:linear-gradient(90deg,#472bfe 0px,#472bfe 1.5px,#482bfe 9.5px,#482bfe 17.5px,#492bfe 25.5px,#492bfe 33.5px,#4a2bfe 41.5px,#4b2bfe 49.5px,#4c2bfd 57.5px,#4e2bfd 65.5px,#502bfd 73.5px,#522afd 81.5px,#562afc 89.5px,#5e28fc 97.5px,#6c20fc 105.5px,#8311fe 113.5px,#9901f1 121.5px,#9e00c3 125.5px,#a3008a 129.5px,#a9014d 133.5px,#b00414 137.5px,#b40802 141.5px,#b70b00 145.5px,#bb0e00 149.5px,#bf1100 153.5px,#c31400 157.5px,#c51600 159.5px,#c71700 161.5px,#c91900 163.5px,#ca1b00 165.5px,#cc1e00 167.5px,#cd2000 169.5px,#cf2200 171.5px,#cf2300 172.5px,#d02400 173.5px,#d12500 174.5px,#d12600 175.5px,#d22700 176.5px,#d32800 177.5px,#d32800 178px,#d32900 178.5px,#d42a00 179px,#d42a00 179.5px,#d52b00 180px,#d62d00 180.5px,#d82f00 181px,#d83100 181.5px,#d82f00 182px,#d62d00 182.5px,#d52b00 183px,#d42a00 183.5px,#d42a00 184px,#d32900 184.5px,#d32800 185px,#d32800 185.5px,#d22700 186.5px,#d12600 187.5px,#d12500 188.5px,#d02400 189.5px,#cf2300 190.5px,#cf2200 191.5px,#cd2000 193.5px,#cc1e00 195.5px,#ca1b00 197.5px,#c91900 199.5px,#c71700 201.5px,#c51600 203.5px,#c31400 205.5px,#bf1100 209.5px,#bb0e00 213.5px,#b70b00 217.5px,#b40802 221.5px,#b00414 225.5px,#a9014d 229.5px,#a3008a 233.5px,#9e00c3 237.5px,#9901f1 241.5px,#8311fe 249.5px,#6c20fc 257.5px,#5e28fc 265.5px,#562afc 273.5px,#522afd 281.5px,#502bfd 289.5px,#4e2bfd 297.5px,#4c2bfd 305.5px,#4b2bfe 313.5px,#4a2bfe 321.5px,#492bfe 329.5px,#492bfe 337.5px,#482bfe 345.5px,#482bfe 353.5px,#472bfe 361.5px,#472bfe 363px)"></div>
<div style="height:2px;background:linear-gradient(90deg,#462cfe 0px,#462cfe 1.5px,#472cfe 9.5px,#472bfe 17.5px,#482bfe 25.5px,#482bfe 33.5px,#492bfe 41.5px,#4a2bfe 49.5px,#4c2bfe 57.5px,#4d2bfd 65.5px,#4f2bfd 73.5px,#522afd 81.5px,#552afc 89.5px,#5c28fc 97.5px,#6a22fc 105.5px,#7f14fd 113.5px,#9702f4 121.5px,#9d00ce 125.5px,#a20097 129.5px,#a80059 133.5px,#af0320 137.5px,#b30706 141.5px,#b70a00 145.5px,#bb0d00 149.5px,#bf1000 153.5px,#c21300 157.5px,#c41500 159.5px,#c61700 161.5px,#c81800 163.5px,#ca1a00 165.5px,#cb1d00 167.5px,#cd1f00 169.5px,#ce2100 171.5px,#cf2200 172.5px,#cf2300 173.5px,#d02400 174.5px,#d12500 175.5px,#d12600 176.5px,#d22700 177.5px,#d22700 178px,#d32800 178.5px,#d32900 179px,#d42900 179.5px,#d42a00 180px,#d62c00 180.5px,#d72f00 181px,#d83000 181.5px,#d72f00 182px,#d62c00 182.5px,#d42a00 183px,#d42900 183.5px,#d32900 184px,#d32800 184.5px,#d22700 185px,#d22700 185.5px,#d12600 186.5px,#d12500 187.5px,#d02400 188.5px,#cf2300 189.5px,#cf2200 190.5px,#ce2100 191.5px,#cd1f00 193.5px,#cb1d00 195.5px,#ca1a00 197.5px,#c81800 199.5px,#c61700 201.5px,#c41500 203.5px,#c21300 205.5px,#bf1000 209.5px,#bb0d00 213.5px,#b70a00 217.5px,#b30706 221.5px,#af0320 225.5px,#a80059 229.5px,#a20097 233.5px,#9d00ce 237.5px,#9702f4 241.5px,#7f14fd 249.5px,#6a22fc 257.5px,#5c28fc 265.5px,#552afc 273.5px,#522afd 281.5px,#4f2bfd 289.5px,#4d2bfd 297.5px,#4c2bfe 305.5px,#4a2bfe 313.5px,#492bfe 321.5px,#482bfe 329.5px,#482bfe 337.5px,#472bfe 345.5px,#472cfe 353.5px,#462cfe 361.5px,#462cfe 363px)"></div>
<div style="height:2px;background:linear-gradient(90deg,#462cfe 0px,#462cfe 17.5px,#472cfe 25.5px,#482bfe 33.5px,#482bfe 41.5px,#492bfe 49.5px,#4b2bfe 57.5px,#4c2bfd 65.5px,#4e2bfd 73.5px,#512bfd 81.5px,#542afc 89.5px,#5a29fc 97.5px,#6723fc 105.5px,#7b17fd 113.5px,#9504f8 121.5px,#9c00da 125.5px,#a100a5 129.5px,#a70066 133.5px,#ad032c 137.5px,#b20609 141.5px,#b60a00 145.5px,#ba0d00 149.5px,#be1000 153.5px,#c21300 157.5px,#c31400 159.5px,#c51600 161.5px,#c71700 163.5px,#c91900 165.5px,#ca1c00 167.5px,#cc1e00 169.5px,#cd2000 171.5px,#ce2100 172.5px,#cf2200 173.5px,#cf2300 174.5px,#d02400 175.5px,#d12500 176.5px,#d12600 177.5px,#d22600 178px,#d22700 178.5px,#d22800 179px,#d32800 179.5px,#d42a00 180px,#d52b00 180.5px,#d72e00 181px,#d82f00 181.5px,#d72e00 182px,#d52b00 182.5px,#d42a00 183px,#d32800 183.5px,#d22800 184px,#d22700 184.5px,#d22600 185px,#d12600 185.5px,#d12500 186.5px,#d02400 187.5px,#cf2300 188.5px,#cf2200 189.5px,#ce2100 190.5px,#cd2000 191.5px,#cc1e00 193.5px,#ca1c00 195.5px,#c91900 197.5px,#c71700 199.5px,#c51600 201.5px,#c31400 203.5px,#c21300 205.5px,#be1000 209.5px,#ba0d00 213.5px,#b60a00 217.5px,#b20609 221.5px,#ad032c 225.5px,#a70066 229.5px,#a100a5 233.5px,#9c00da 237.5px,#9504f8 241.5px,#7b17fd 249.5px,#6723fc 257.5px,#5a29fc 265.5px,#542afc 273.5px,#512bfd 281.5px,#4e2bfd 289.5px,#4c2bfd 297.5px,#4b2bfe 305.5px,#492bfe 313.5px,#482bfe 321.5px,#482bfe 329.5px,#472cfe 337.5px,#462cfe 345.5px,#462cfe 363px)"></div>
<div style="height:2px;background:linear-gradient(90deg,#452cff 0px,#452cff 9.5px,#462cfe 17.5px,#462cfe 25.5px,#472cfe 33.5px,#482bfe 41.5px,#492bfe 49.5px,#4a2bfe 57.5px,#4c2bfe 65.5px,#4e2bfd 73.5px,#502bfd 81.5px,#532afc 89.5px,#5829fc 97.5px,#6524fc 105.5px,#771afc 113.5px,#9306fb 121.5px,#9b00e6 125.5px,#9f00b2 129.5px,#a50074 133.5px,#ac0237 137.5px,#b1050d 141.5px,#b50900 145.5px,#b90c00 149.5px,#bd0f00 153.5px,#c11200 157.5px,#c31400 159.5px,#c51500 161.5px,#c61700 163.5px,#c81800 165.5px,#ca1b00 167.5px,#cb1d00 169.5px,#cd1f00 171.5px,#cd2000 172.5px,#ce2100 173.5px,#cf2200 174.5px,#cf2300 175.5px,#d02400 176.5px,#d12500 177.5px,#d12500 178px,#d12600 178.5px,#d22700 179px,#d22700 179.5px,#d32900 180px,#d42b00 180.5px,#d62d00 181px,#d72f00 181.5px,#d62d00 182px,#d42b00 182.5px,#d32900 183px,#d22700 183.5px,#d22700 184px,#d12600 184.5px,#d12500 185px,#d12500 185.5px,#d02400 186.5px,#cf2300 187.5px,#cf2200 188.5px,#ce2100 189.5px,#cd2000 190.5px,#cd1f00 191.5px,#cb1d00 193.5px,#ca1b00 195.5px,#c81800 197.5px,#c61700 199.5px,#c51500 201.5px,#c31400 203.5px,#c11200 205.5px,#bd0f00 209.5px,#b90c00 213.5px,#b50900 217.5px,#b1050d 221.5px,#ac0237 225.5px,#a50074 229.5px,#9f00b2 233.5px,#9b00e6 237.5px,#9306fb 241.5px,#771afc 249.5px,#6524fc 257.5px,#5829fc 265.5px,#532afc 273.5px,#502bfd 281.5px,#4e2bfd 289.5px,#4c2bfe 297.5px,#4a2bfe 305.5px,#492bfe 313.5px,#482bfe 321.5px,#472cfe 329.5px,#462cfe 337.5px,#462cfe 345.5px,#452cff 353.5px,#452cff 363px)"></div>
<div style="height:2px;background:linear-gradient(90deg,#442cff 0px,#442cff 9.5px,#452cff 17.5px,#452cfe 25.5px,#462cfe 33.5px,#472cfe 41.5px,#482bfe 49.5px,#492bfe 57.5px,#4b2bfe 65.5px,#4d2bfd 73.5px,#4f2bfd 81.5px,#522afd 89.5px,#562afc 97.5px,#6226fc 105.5px,#731dfc 113.5px,#9107fe 121.5px,#9a00f1 125.5px,#9e00be 129.5px,#a40081 133.5px,#ab0143 137.5px,#b10511 141.5px,#b40800 145.5px,#b80b00 149.5px,#bc0f00 153.5px,#c01200 157.5px,#c21300 159.5px,#c41500 161.5px,#c61600 163.5px,#c71800 165.5px,#c91a00 167.5px,#cb1c00 169.5px,#cc1e00 171.5px,#cd1f00 172.5px,#cd2000 173.5px,#ce2100 174.5px,#cf2200 175.5px,#cf2300 176.5px,#d02400 177.5px,#d02400 178px,#d12500 178.5px,#d12600 179px,#d22600 179.5px,#d22800 180px,#d42a00 180.5px,#d62d00 181px,#d72e00 181.5px,#d62d00 182px,#d42a00 182.5px,#d22800 183px,#d22600 183.5px,#d12600 184px,#d12500 184.5px,#d02400 185px,#d02400 185.5px,#cf2300 186.5px,#cf2200 187.5px,#ce2100 188.5px,#cd2000 189.5px,#cd1f00 190.5px,#cc1e00 191.5px,#cb1c00 193.5px,#c91a00 195.5px,#c71800 197.5px,#c61600 199.5px,#c41500 201.5px,#c21300 203.5px,#c01200 205.5px,#bc0f00 209.5px,#b80b00 213.5px,#b40800 217.5px,#b10511 221.5px,#ab0143 225.5px,#a40081 229.5px,#9e00be 233.5px,#9a00f1 237.5px,#9107fe 241.5px,#731dfc 249.5px,#6226fc 257.5px,#562afc 265.5px,#522afd 273.5px,#4f2bfd 281.5px,#4d2bfd 289.5px,#4b2bfe 297.5px,#492bfe 305.5px,#482bfe 313.5px,#472cfe 321.5px,#462cfe 329.5px,#452cfe 337.5px,#452cff 345.5px,#442cff 353.5px,#442cff 363px)"></div>
<div style="height:2px;background:linear-gradient(90deg,#432cff 0px,#432cff 1.5px,#442cff 9.5px,#442cff 17.5px,#452cff 25.5px,#452cff 33.5px,#462cfe 41.5px,#472cfe 49.5px,#482bfe 57.5px,#4a2bfe 65.5px,#4c2bfe 73.5px,#4e2bfd 81.5px,#512afd 89.5px,#552afc 97.5px,#5f27fc 105.5px,#701efc 113.5px,#8d0aff 121.5px,#9702f4 125.5px,#9d00ca 129.5px,#a3008f 133.5px,#a90150 137.5px,#b00415 141.5px,#b40802 145.5px,#b70b00 149.5px,#bb0e00 153.5px,#bf1100 157.5px,#c11200 159.5px,#c31400 161.5px,#c51500 163.5px,#c71700 165.5px,#c81900 167.5px,#ca1b00 169.5px,#cb1d00 171.5px,#cc1e00 172.5px,#cd1f00 173.5px,#cd2000 174.5px,#ce2100 175.5px,#cf2200 176.5px,#cf2300 177.5px,#d02300 178px,#d02400 178.5px,#d02500 179px,#d12500 179.5px,#d22700 180px,#d32900 180.5px,#d52c00 181px,#d62d00 181.5px,#d52c00 182px,#d32900 182.5px,#d22700 183px,#d12500 183.5px,#d02500 184px,#d02400 184.5px,#d02300 185px,#cf2300 185.5px,#cf2200 186.5px,#ce2100 187.5px,#cd2000 188.5px,#cd1f00 189.5px,#cc1e00 190.5px,#cb1d00 191.5px,#ca1b00 193.5px,#c81900 195.5px,#c71700 197.5px,#c51500 199.5px,#c31400 201.5px,#c11200 203.5px,#bf1100 205.5px,#bb0e00 209.5px,#b70b00 213.5px,#b40802 217.5px,#b00415 221.5px,#a90150 225.5px,#a3008f 229.5px,#9d00ca 233.5px,#9702f4 237.5px,#8d0aff 241.5px,#701efc 249.5px,#5f27fc 257.5px,#552afc 265.5px,#512afd 273.5px,#4e2bfd 281.5px,#4c2bfe 289.5px,#4a2bfe 297.5px,#482bfe 305.5px,#472cfe 313.5px,#462cfe 321.5px,#452cff 329.5px,#452cff 337.5px,#442cff 345.5px,#442cff 353.5px,#432cff 361.5px,#432cff 363px)"></div>
<div style="height:2px;background:linear-gradient(90deg,#422cff 0px,#422cff 1.5px,#432cff 9.5px,#432cff 17.5px,#442cff 25.5px,#442cff 33.5px,#452cff 41.5px,#462cfe 49.5px,#472bfe 57.5px,#492bfe 65.5px,#4b2bfe 73.5px,#4d2bfd 81.5px,#512bfd 89.5px,#542afc 97.5px,#5d28fc 105.5px,#6d20fc 113.5px,#890dfe 121.5px,#9504f7 125.5px,#9c00d7 129.5px,#a1009e 133.5px,#a8005c 137.5px,#ae0322 141.5px,#b30706 145.5px,#b70a00 149.5px,#ba0d00 153.5px,#be1000 157.5px,#c01200 159.5px,#c21300 161.5px,#c41500 163.5px,#c61600 165.5px,#c81800 167.5px,#c91a00 169.5px,#cb1c00 171.5px,#cb1d00 172.5px,#cc1e00 173.5px,#cd1f00 174.5px,#cd2000 175.5px,#ce2100 176.5px,#cf2200 177.5px,#cf2200 178px,#cf2300 178.5px,#d02400 179px,#d02500 179.5px,#d12600 180px,#d32800 180.5px,#d52b00 181px,#d62d00 181.5px,#d52b00 182px,#d32800 182.5px,#d12600 183px,#d02500 183.5px,#d02400 184px,#cf2300 184.5px,#cf2200 185px,#cf2200 185.5px,#ce2100 186.5px,#cd2000 187.5px,#cd1f00 188.5px,#cc1e00 189.5px,#cb1d00 190.5px,#cb1c00 191.5px,#c91a00 193.5px,#c81800 195.5px,#c61600 197.5px,#c41500 199.5px,#c21300 201.5px,#c01200 203.5px,#be1000 205.5px,#ba0d00 209.5px,#b70a00 213.5px,#b30706 217.5px,#ae0322 221.5px,#a8005c 225.5px,#a1009e 229.5px,#9c00d7 233.5px,#9504f7 237.5px,#890dfe 241.5px,#6d20fc 249.5px,#5d28fc 257.5px,#542afc 265.5px,#512bfd 273.5px,#4d2bfd 281.5px,#4b2bfe 289.5px,#492bfe 297.5px,#472bfe 305.5px,#462cfe 313.5px,#452cff 321.5px,#442cff 329.5px,#442cff 337.5px,#432cff 345.5px,#432cff 353.5px,#422cff 361.5px,#422cff 363px)"></div>
<div style="height:2px;background:linear-gradient(90deg,#422cff 0px,#422cff 17.5px,#432cff 25.5px,#432cff 33.5px,#442cff 41.5px,#452cff 49.5px,#472cfe 57.5px,#482bfe 65.5px,#4a2bfe 73.5px,#4d2bfd 81.5px,#502bfd 89.5px,#532afc 97.5px,#5b29fc 105.5px,#6b21fc 113.5px,#8410fe 121.5px,#9306fb 125.5px,#9b00e3 129.5px,#a000ac 133.5px,#a6006b 137.5px,#ad032e 141.5px,#b2060a 145.5px,#b60900 149.5px,#ba0d00 153.5px,#bd1000 157.5px,#bf1100 159.5px,#c11300 161.5px,#c31400 163.5px,#c51600 165.5px,#c71700 167.5px,#c81900 169.5px,#ca1b00 171.5px,#cb1c00 172.5px,#cb1d00 173.5px,#cc1e00 174.5px,#cd1f00 175.5px,#cd2000 176.5px,#ce2100 177.5px,#ce2100 178px,#cf2200 178.5px,#cf2300 179px,#d02400 179.5px,#d12500 180px,#d22700 180.5px,#d42a00 181px,#d52c00 181.5px,#d42a00 182px,#d22700 182.5px,#d12500 183px,#d02400 183.5px,#cf2300 184px,#cf2200 184.5px,#ce2100 185px,#ce2100 185.5px,#cd2000 186.5px,#cd1f00 187.5px,#cc1e00 188.5px,#cb1d00 189.5px,#cb1c00 190.5px,#ca1b00 191.5px,#c81900 193.5px,#c71700 195.5px,#c51600 197.5px,#c31400 199.5px,#c11300 201.5px,#bf1100 203.5px,#bd1000 205.5px,#ba0d00 209.5px,#b60900 213.5px,#b2060a 217.5px,#ad032e 221.5px,#a6006b 225.5px,#a000ac 229.5px,#9b00e3 233.5px,#9306fb 237.5px,#8410fe 241.5px,#6b21fc 249.5px,#5b29fc 257.5px,#532afc 265.5px,#502bfd 273.5px,#4d2bfd 281.5px,#4a2bfe 289.5px,#482bfe 297.5px,#472cfe 305.5px,#452cff 313.5px,#442cff 321.5px,#432cff 329.5px,#432cff 337.5px,#422cff 345.5px,#422cff 363px)"></div>
<div style="height:2px;background:linear-gradient(90deg,#412bff 0px,#412bff 1.5px,#422cff 9.5px,#422cff 25.5px,#432cff 33.5px,#432cff 41.5px,#442cff 49.5px,#462cfe 57.5px,#472bfe 65.5px,#492bfe 73.5px,#4c2bfe 81.5px,#4f2bfd 89.5px,#522afd 97.5px,#5929fc 105.5px,#6823fc 113.5px,#8013fd 121.5px,#9108fe 125.5px,#9a00f0 129.5px,#9f00b8 133.5px,#a50079 137.5px,#ac023b 141.5px,#b1050e 145.5px,#b50900 149.5px,#b90c00 153.5px,#bd0f00 157.5px,#be1000 159.5px,#c01200 161.5px,#c21300 163.5px,#c41500 165.5px,#c61600 167.5px,#c81800 169.5px,#c91a00 171.5px,#ca1b00 172.5px,#cb1c00 173.5px,#cb1d00 174.5px,#cc1e00 175.5px,#cc1f00 176.5px,#cd2000 177.5px,#cd2000 178px,#ce2100 178.5px,#ce2200 179px,#cf2300 179.5px,#d02400 180px,#d22600 180.5px,#d42a00 181px,#d52b00 181.5px,#d42a00 182px,#d22600 182.5px,#d02400 183px,#cf2300 183.5px,#ce2200 184px,#ce2100 184.5px,#cd2000 185px,#cd2000 185.5px,#cc1f00 186.5px,#cc1e00 187.5px,#cb1d00 188.5px,#cb1c00 189.5px,#ca1b00 190.5px,#c91a00 191.5px,#c81800 193.5px,#c61600 195.5px,#c41500 197.5px,#c21300 199.5px,#c01200 201.5px,#be1000 203.5px,#bd0f00 205.5px,#b90c00 209.5px,#b50900 213.5px,#b1050e 217.5px,#ac023b 221.5px,#a50079 225.5px,#9f00b8 229.5px,#9a00f0 233.5px,#9108fe 237.5px,#8013fd 241.5px,#6823fc 249.5px,#5929fc 257.5px,#522afd 265.5px,#4f2bfd 273.5px,#4c2bfe 281.5px,#492bfe 289.5px,#472bfe 297.5px,#462cfe 305.5px,#442cff 313.5px,#432cff 321.5px,#432cff 329.5px,#422cff 337.5px,#422cff 353.5px,#412bff 361.5px,#412bff 363px)"></div>
<div style="height:2px;background:linear-gradient(90deg,#412bff 0px,#412bff 17.5px,#422cff 25.5px,#422cff 33.5px,#432cff 41.5px,#432cff 49.5px,#452cff 57.5px,#462cfe 65.5px,#482bfe 73.5px,#4b2bfe 81.5px,#4e2bfd 89.5px,#522afd 97.5px,#562afc 105.5px,#6524fc 113.5px,#7c17fd 121.5px,#8d0aff 125.5px,#9802f3 129.5px,#9e00c5 133.5px,#a30088 137.5px,#aa0147 141.5px,#b00412 145.5px,#b40800 149.5px,#b80b00 153.5px,#bc0e00 157.5px,#be1000 159.5px,#bf1100 161.5px,#c11300 163.5px,#c31400 165.5px,#c51600 167.5px,#c71700 169.5px,#c81900 171.5px,#c91a00 172.5px,#ca1b00 173.5px,#ca1c00 174.5px,#cb1d00 175.5px,#cc1e00 176.5px,#cc1f00 177.5px,#cd1f00 178px,#cd2000 178.5px,#ce2000 179px,#ce2100 179.5px,#cf2300 180px,#d12600 180.5px,#d32900 181px,#d52b00 181.5px,#d32900 182px,#d12600 182.5px,#cf2300 183px,#ce2100 183.5px,#ce2000 184px,#cd2000 184.5px,#cd1f00 185px,#cc1f00 185.5px,#cc1e00 186.5px,#cb1d00 187.5px,#ca1c00 188.5px,#ca1b00 189.5px,#c91a00 190.5px,#c81900 191.5px,#c71700 193.5px,#c51600 195.5px,#c31400 197.5px,#c11300 199.5px,#bf1100 201.5px,#be1000 203.5px,#bc0e00 205.5px,#b80b00 209.5px,#b40800 213.5px,#b00412 217.5px,#aa0147 221.5px,#a30088 225.5px,#9e00c5 229.5px,#9802f3 233.5px,#8d0aff 237.5px,#7c17fd 241.5px,#6524fc 249.5px,#562afc 257.5px,#522afd 265.5px,#4e2bfd 273.5px,#4b2bfe 281.5px,#482bfe 289.5px,#462cfe 297.5px,#452cff 305.5px,#432cff 313.5px,#432cff 321.5px,#422cff 329.5px,#422cff 337.5px,#412bff 345.5px,#412bff 363px)"></div>
<div style="height:2px;background:linear-gradient(90deg,#412bff 0px,#412bff 25.5px,#422cff 33.5px,#422cff 41.5px,#432cff 49.5px,#442cff 57.5px,#452cfe 65.5px,#472bfe 73.5px,#4a2bfe 81.5px,#4d2bfd 89.5px,#512bfd 97.5px,#552afc 105.5px,#6226fc 113.5px,#771afc 121.5px,#880efe 125.5px,#9504f7 129.5px,#9d00d2 133.5px,#a20096 137.5px,#a90054 141.5px,#af041a 145.5px,#b30704 149.5px,#b70a00 153.5px,#bb0d00 157.5px,#bd0f00 159.5px,#bf1000 161.5px,#c01200 163.5px,#c21300 165.5px,#c41500 167.5px,#c61600 169.5px,#c81800 171.5px,#c81800 172.5px,#c91900 173.5px,#ca1b00 174.5px,#ca1b00 175.5px,#cb1c00 176.5px,#cc1d00 177.5px,#cc1e00 178px,#cc1f00 178.5px,#cd1f00 179px,#ce2000 179.5px,#cf2200 180px,#d12500 180.5px,#d32800 181px,#d42a00 181.5px,#d32800 182px,#d12500 182.5px,#cf2200 183px,#ce2000 183.5px,#cd1f00 184px,#cc1f00 184.5px,#cc1e00 185px,#cc1d00 185.5px,#cb1c00 186.5px,#ca1b00 187.5px,#ca1b00 188.5px,#c91900 189.5px,#c81800 190.5px,#c81800 191.5px,#c61600 193.5px,#c41500 195.5px,#c21300 197.5px,#c01200 199.5px,#bf1000 201.5px,#bd0f00 203.5px,#bb0d00 205.5px,#b70a00 209.5px,#b30704 213.5px,#af041a 217.5px,#a90054 221.5px,#a20096 225.5px,#9d00d2 229.5px,#9504f7 233.5px,#880efe 237.5px,#771afc 241.5px,#6226fc 249.5px,#552afc 257.5px,#512bfd 265.5px,#4d2bfd 273.5px,#4a2bfe 281.5px,#472bfe 289.5px,#452cfe 297.5px,#442cff 305.5px,#432cff 313.5px,#422cff 321.5px,#422cff 329.5px,#412bff 337.5px,#412bff 363px)"></div>
<div style="height:2px;background:linear-gradient(90deg,#402aff 0px,#402aff 1.5px,#412bff 9.5px,#412bff 41.5px,#422cff 49.5px,#432cff 57.5px,#442cff 65.5px,#462cfe 73.5px,#492bfe 81.5px,#4c2bfe 89.5px,#502bfd 97.5px,#542afc 105.5px,#5f28fc 113.5px,#731dfc 121.5px,#8411fe 125.5px,#9306fa 129.5px,#9b00e0 133.5px,#a000a6 137.5px,#a70063 141.5px,#ae0327 145.5px,#b20608 149.5px,#b60a00 153.5px,#ba0d00 157.5px,#bc0e00 159.5px,#be1000 161.5px,#bf1100 163.5px,#c11300 165.5px,#c31400 167.5px,#c51500 169.5px,#c71700 171.5px,#c71800 172.5px,#c81800 173.5px,#c91900 174.5px,#ca1a00 175.5px,#ca1b00 176.5px,#cb1c00 177.5px,#cb1d00 178px,#cc1e00 178.5px,#cc1e00 179px,#cd1f00 179.5px,#ce2100 180px,#d02400 180.5px,#d22800 181px,#d42a00 181.5px,#d22800 182px,#d02400 182.5px,#ce2100 183px,#cd1f00 183.5px,#cc1e00 184px,#cc1e00 184.5px,#cb1d00 185px,#cb1c00 185.5px,#ca1b00 186.5px,#ca1a00 187.5px,#c91900 188.5px,#c81800 189.5px,#c71800 190.5px,#c71700 191.5px,#c51500 193.5px,#c31400 195.5px,#c11300 197.5px,#bf1100 199.5px,#be1000 201.5px,#bc0e00 203.5px,#ba0d00 205.5px,#b60a00 209.5px,#b20608 213.5px,#ae0327 217.5px,#a70063 221.5px,#a000a6 225.5px,#9b00e0 229.5px,#9306fa 233.5px,#8411fe 237.5px,#731dfc 241.5px,#5f28fc 249.5px,#542afc 257.5px,#502bfd 265.5px,#4c2bfe 273.5px,#492bfe 281.5px,#462cfe 289.5px,#442cff 297.5px,#432cff 305.5px,#422cff 313.5px,#412bff 321.5px,#412bff 353.5px,#402aff 361.5px,#402aff 363px)"></div>
<div style="height:2px;background:linear-gradient(90deg,#402aff 0px,#402aff 17.5px,#412bff 25.5px,#412bff 41.5px,#422cff 49.5px,#422cff 57.5px,#442cff 65.5px,#452cfe 73.5px,#482bfe 81.5px,#4b2bfe 89.5px,#4f2bfd 97.5px,#532afc 105.5px,#5c28fc 113.5px,#701efc 121.5px,#7f14fd 125.5px,#9108fe 129.5px,#9a00ed 133.5px,#9f00b3 137.5px,#a60072 141.5px,#ac0234 145.5px,#b2060c 149.5px,#b50900 153.5px,#b90c00 157.5px,#bb0e00 159.5px,#bd0f00 161.5px,#bf1000 163.5px,#c01200 165.5px,#c21300 167.5px,#c41500 169.5px,#c61600 171.5px,#c71700 172.5px,#c71700 173.5px,#c81800 174.5px,#c91900 175.5px,#c91a00 176.5px,#ca1b00 177.5px,#ca1c00 178px,#cb1c00 178.5px,#cb1d00 179px,#cc1e00 179.5px,#cd2000 180px,#cf2300 180.5px,#d22700 181px,#d32900 181.5px,#d22700 182px,#cf2300 182.5px,#cd2000 183px,#cc1e00 183.5px,#cb1d00 184px,#cb1c00 184.5px,#ca1c00 185px,#ca1b00 185.5px,#c91a00 186.5px,#c91900 187.5px,#c81800 188.5px,#c71700 189.5px,#c71700 190.5px,#c61600 191.5px,#c41500 193.5px,#c21300 195.5px,#c01200 197.5px,#bf1000 199.5px,#bd0f00 201.5px,#bb0e00 203.5px,#b90c00 205.5px,#b50900 209.5px,#b2060c 213.5px,#ac0234 217.5px,#a60072 221.5px,#9f00b3 225.5px,#9a00ed 229.5px,#9108fe 233.5px,#7f14fd 237.5px,#701efc 241.5px,#5c28fc 249.5px,#532afc 257.5px,#4f2bfd 265.5px,#4b2bfe 273.5px,#482bfe 281.5px,#452cfe 289.5px,#442cff 297.5px,#422cff 305.5px,#422cff 313.5px,#412bff 321.5px,#412bff 337.5px,#402aff 345.5px,#402aff 363px)"></div>
<div style="height:2px;background:linear-gradient(90deg,#402aff 0px,#402aff 33.5px,#412bff 41.5px,#412bff 49.5px,#422cff 57.5px,#432cff 65.5px,#452cff 73.5px,#472cfe 81.5px,#4a2bfe 89.5px,#4e2bfd 97.5px,#522afd 105.5px,#5a29fc 113.5px,#6d20fc 121.5px,#7a17fd 125.5px,#8d0aff 129.5px,#9802f3 133.5px,#9e00c1 137.5px,#a40081 141.5px,#ab0141 145.5px,#b10510 149.5px,#b40800 153.5px,#b80b00 157.5px,#ba0d00 159.5px,#bc0e00 161.5px,#be1000 163.5px,#bf1100 165.5px,#c11300 167.5px,#c31400 169.5px,#c51500 171.5px,#c61600 172.5px,#c61700 173.5px,#c71700 174.5px,#c81800 175.5px,#c91900 176.5px,#c91a00 177.5px,#ca1b00 178px,#ca1b00 178.5px,#cb1c00 179px,#cc1d00 179.5px,#cd1f00 180px,#cf2200 180.5px,#d22600 181px,#d32800 181.5px,#d22600 182px,#cf2200 182.5px,#cd1f00 183px,#cc1d00 183.5px,#cb1c00 184px,#ca1b00 184.5px,#ca1b00 185px,#c91a00 185.5px,#c91900 186.5px,#c81800 187.5px,#c71700 188.5px,#c61700 189.5px,#c61600 190.5px,#c51500 191.5px,#c31400 193.5px,#c11300 195.5px,#bf1100 197.5px,#be1000 199.5px,#bc0e00 201.5px,#ba0d00 203.5px,#b80b00 205.5px,#b40800 209.5px,#b10510 213.5px,#ab0141 217.5px,#a40081 221.5px,#9e00c1 225.5px,#9802f3 229.5px,#8d0aff 233.5px,#7a17fd 237.5px,#6d20fc 241.5px,#5a29fc 249.5px,#522afd 257.5px,#4e2bfd 265.5px,#4a2bfe 273.5px,#472cfe 281.5px,#452cff 289.5px,#432cff 297.5px,#422cff 305.5px,#412bff 313.5px,#412bff 321.5px,#402aff 329.5px,#402aff 363px)"></div>
<div style="height:2px;background:linear-gradient(90deg,#3f29ff 0px,#3f29ff 9.5px,#402aff 17.5px,#402aff 41.5px,#412bff 49.5px,#412bff 57.5px,#422cff 65.5px,#442cff 73.5px,#462cfe 81.5px,#492bfe 89.5px,#4d2bfd 97.5px,#512afd 105.5px,#582afc 113.5px,#6a22fc 121.5px,#761bfc 125.5px,#880efe 129.5px,#9603f7 133.5px,#9d00cf 137.5px,#a30091 141.5px,#a9014f 145.5px,#b00415 149.5px,#b30703 153.5px,#b70b00 157.5px,#b90c00 159.5px,#bb0d00 161.5px,#bd0f00 163.5px,#be1000 165.5px,#c01200 167.5px,#c21300 169.5px,#c41500 171.5px,#c51500 172.5px,#c51600 173.5px,#c61700 174.5px,#c71700 175.5px,#c81800 176.5px,#c91900 177.5px,#c91900 178px,#c91a00 178.5px,#ca1b00 179px,#cb1c00 179.5px,#cc1e00 180px,#ce2100 180.5px,#d12600 181px,#d22800 181.5px,#d12600 182px,#ce2100 182.5px,#cc1e00 183px,#cb1c00 183.5px,#ca1b00 184px,#c91a00 184.5px,#c91900 185px,#c91900 185.5px,#c81800 186.5px,#c71700 187.5px,#c61700 188.5px,#c51600 189.5px,#c51500 190.5px,#c41500 191.5px,#c21300 193.5px,#c01200 195.5px,#be1000 197.5px,#bd0f00 199.5px,#bb0d00 201.5px,#b90c00 203.5px,#b70b00 205.5px,#b30703 209.5px,#b00415 213.5px,#a9014f 217.5px,#a30091 221.5px,#9d00cf 225.5px,#9603f7 229.5px,#880efe 233.5px,#761bfc 237.5px,#6a22fc 241.5px,#582afc 249.5px,#512afd 257.5px,#4d2bfd 265.5px,#492bfe 273.5px,#462cfe 281.5px,#442cff 289.5px,#422cff 297.5px,#412bff 305.5px,#412bff 313.5px,#402aff 321.5px,#402aff 345.5px,#3f29ff 353.5px,#3f29ff 363px)"></div>
<div style="height:2px;background:linear-gradient(90deg,#3f29ff 0px,#3f29ff 25.5px,#402aff 33.5px,#402aff 49.5px,#412bff 57.5px,#412bff 65.5px,#432cff 73.5px,#452cff 81.5px,#482bfe 89.5px,#4c2bfe 97.5px,#502bfd 105.5px,#562afc 113.5px,#6723fc 121.5px,#721dfc 125.5px,#8311fe 129.5px,#9305fa 133.5px,#9c00dc 137.5px,#a100a0 141.5px,#a8005d 145.5px,#ae0323 149.5px,#b30707 153.5px,#b60a00 157.5px,#b80b00 159.5px,#ba0d00 161.5px,#bc0e00 163.5px,#be1000 165.5px,#bf1100 167.5px,#c11200 169.5px,#c31400 171.5px,#c41400 172.5px,#c41500 173.5px,#c51600 174.5px,#c61600 175.5px,#c71700 176.5px,#c81800 177.5px,#c81800 178px,#c91900 178.5px,#c91a00 179px,#ca1b00 179.5px,#cc1d00 180px,#ce2100 180.5px,#d12500 181px,#d22700 181.5px,#d12500 182px,#ce2100 182.5px,#cc1d00 183px,#ca1b00 183.5px,#c91a00 184px,#c91900 184.5px,#c81800 185px,#c81800 185.5px,#c71700 186.5px,#c61600 187.5px,#c51600 188.5px,#c41500 189.5px,#c41400 190.5px,#c31400 191.5px,#c11200 193.5px,#bf1100 195.5px,#be1000 197.5px,#bc0e00 199.5px,#ba0d00 201.5px,#b80b00 203.5px,#b60a00 205.5px,#b30707 209.5px,#ae0323 213.5px,#a8005d 217.5px,#a100a0 221.5px,#9c00dc 225.5px,#9305fa 229.5px,#8311fe 233.5px,#721dfc 237.5px,#6723fc 241.5px,#562afc 249.5px,#502bfd 257.5px,#4c2bfe 265.5px,#482bfe 273.5px,#452cff 281.5px,#432cff 289.5px,#412bff 297.5px,#412bff 305.5px,#402aff 313.5px,#402aff 329.5px,#3f29ff 337.5px,#3f29ff 363px)"></div>
<div style="height:2px;background:linear-gradient(90deg,#3f29ff 0px,#3f29ff 33.5px,#402aff 41.5px,#402aff 57.5px,#412bff 65.5px,#422cff 73.5px,#442cff 81.5px,#472bfe 89.5px,#4b2bfe 97.5px,#4f2bfd 105.5px,#552afc 113.5px,#6425fc 121.5px,#6f1ffc 125.5px,#7e15fd 129.5px,#9107fe 133.5px,#9a00ea 137.5px,#a000b0 141.5px,#a6006d 145.5px,#ad0231 149.5px,#b2060b 153.5px,#b50900 157.5px,#b70a00 159.5px,#b90c00 161.5px,#bb0d00 163.5px,#bd0f00 165.5px,#be1000 167.5px,#c01200 169.5px,#c21300 171.5px,#c31400 172.5px,#c31400 173.5px,#c41500 174.5px,#c51600 175.5px,#c61600 176.5px,#c71700 177.5px,#c71700 178px,#c81800 178.5px,#c81900 179px,#c91a00 179.5px,#cb1c00 180px,#cd2000 180.5px,#d02400 181px,#d22700 181.5px,#d02400 182px,#cd2000 182.5px,#cb1c00 183px,#c91a00 183.5px,#c81900 184px,#c81800 184.5px,#c71700 185px,#c71700 185.5px,#c61600 186.5px,#c51600 187.5px,#c41500 188.5px,#c31400 189.5px,#c31400 190.5px,#c21300 191.5px,#c01200 193.5px,#be1000 195.5px,#bd0f00 197.5px,#bb0d00 199.5px,#b90c00 201.5px,#b70a00 203.5px,#b50900 205.5px,#b2060b 209.5px,#ad0231 213.5px,#a6006d 217.5px,#a000b0 221.5px,#9a00ea 225.5px,#9107fe 229.5px,#7e15fd 233.5px,#6f1ffc 237.5px,#6425fc 241.5px,#552afc 249.5px,#4f2bfd 257.5px,#4b2bfe 265.5px,#472bfe 273.5px,#442cff 281.5px,#422cff 289.5px,#412bff 297.5px,#402aff 305.5px,#402aff 321.5px,#3f29ff 329.5px,#3f29ff 363px)"></div>
<div style="height:2px;background:linear-gradient(90deg,#3e28ff 0px,#3e28ff 17.5px,#3f29ff 25.5px,#3f29ff 41.5px,#402aff 49.5px,#402aff 57.5px,#412bff 65.5px,#412bff 73.5px,#432cff 81.5px,#462cfe 89.5px,#4a2bfe 97.5px,#4e2bfd 105.5px,#542afc 113.5px,#6027fc 121.5px,#6c21fc 125.5px,#7918fd 129.5px,#8c0bff 133.5px,#9801f2 137.5px,#9e00be 141.5px,#a4007d 145.5px,#ab023f 149.5px,#b10510 153.5px,#b40800 157.5px,#b60a00 159.5px,#b80b00 161.5px,#ba0d00 163.5px,#bc0e00 165.5px,#bd0f00 167.5px,#bf1100 169.5px,#c11200 171.5px,#c21300 172.5px,#c21400 173.5px,#c31400 174.5px,#c41500 175.5px,#c51500 176.5px,#c61600 177.5px,#c61700 178px,#c71700 178.5px,#c81800 179px,#c91900 179.5px,#ca1b00 180px,#cd1f00 180.5px,#d02400 181px,#d12600 181.5px,#d02400 182px,#cd1f00 182.5px,#ca1b00 183px,#c91900 183.5px,#c81800 184px,#c71700 184.5px,#c61700 185px,#c61600 185.5px,#c51500 186.5px,#c41500 187.5px,#c31400 188.5px,#c21400 189.5px,#c21300 190.5px,#c11200 191.5px,#bf1100 193.5px,#bd0f00 195.5px,#bc0e00 197.5px,#ba0d00 199.5px,#b80b00 201.5px,#b60a00 203.5px,#b40800 205.5px,#b10510 209.5px,#ab023f 213.5px,#a4007d 217.5px,#9e00be 221.5px,#9801f2 225.5px,#8c0bff 229.5px,#7918fd 233.5px,#6c21fc 237.5px,#6027fc 241.5px,#542afc 249.5px,#4e2bfd 257.5px,#4a2bfe 265.5px,#462cfe 273.5px,#432cff 281.5px,#412bff 289.5px,#412bff 297.5px,#402aff 305.5px,#402aff 313.5px,#3f29ff 321.5px,#3f29ff 337.5px,#3e28ff 345.5px,#3e28ff 363px)"></div>
<div style="height:2px;background:linear-gradient(90deg,#3e28ff 0px,#3e28ff 25.5px,#3f29ff 33.5px,#3f29ff 49.5px,#402aff 57.5px,#402aff 65.5px,#412bff 73.5px,#422cff 81.5px,#452cff 89.5px,#492bfe 97.5px,#4d2bfd 105.5px,#532afc 113.5px,#5d28fc 121.5px,#6822fc 125.5px,#741cfc 129.5px,#870efe 133.5px,#9603f6 137.5px,#9d00cc 141.5px,#a3008e 145.5px,#a9014d 149.5px,#b00415 153.5px,#b30703 157.5px,#b50900 159.5px,#b70a00 161.5px,#b90c00 163.5px,#bb0d00 165.5px,#bc0f00 167.5px,#be1000 169.5px,#c01100 171.5px,#c11200 172.5px,#c11300 173.5px,#c21300 174.5px,#c31400 175.5px,#c41500 176.5px,#c51500 177.5px,#c51600 178px,#c61600 178.5px,#c71700 179px,#c81800 179.5px,#ca1a00 180px,#cc1e00 180.5px,#cf2300 181px,#d12600 181.5px,#cf2300 182px,#cc1e00 182.5px,#ca1a00 183px,#c81800 183.5px,#c71700 184px,#c61600 184.5px,#c51600 185px,#c51500 185.5px,#c41500 186.5px,#c31400 187.5px,#c21300 188.5px,#c11300 189.5px,#c11200 190.5px,#c01100 191.5px,#be1000 193.5px,#bc0f00 195.5px,#bb0d00 197.5px,#b90c00 199.5px,#b70a00 201.5px,#b50900 203.5px,#b30703 205.5px,#b00415 209.5px,#a9014d 213.5px,#a3008e 217.5px,#9d00cc 221.5px,#9603f6 225.5px,#870efe 229.5px,#741cfc 233.5px,#6822fc 237.5px,#5d28fc 241.5px,#532afc 249.5px,#4d2bfd 257.5px,#492bfe 265.5px,#452cff 273.5px,#422cff 281.5px,#412bff 289.5px,#402aff 297.5px,#402aff 305.5px,#3f29ff 313.5px,#3f29ff 329.5px,#3e28ff 337.5px,#3e28ff 363px)"></div>
<div style="height:2px;background:linear-gradient(90deg,#3d27ff 0px,#3d27ff 1.5px,#3e28ff 9.5px,#3e28ff 41.5px,#3f29ff 49.5px,#3f29ff 57.5px,#402aff 65.5px,#412bff 73.5px,#422cff 81.5px,#442cff 89.5px,#482bfe 97.5px,#4c2bfd 105.5px,#522afd 113.5px,#5b29fc 121.5px,#6524fc 125.5px,#711efc 129.5px,#8312fe 133.5px,#9305fa 137.5px,#9c00db 141.5px,#a1009e 145.5px,#a8005c 149.5px,#ae0324 153.5px,#b20608 157.5px,#b40800 159.5px,#b60a00 161.5px,#b80b00 163.5px,#b90c00 165.5px,#bb0e00 167.5px,#bd0f00 169.5px,#bf1100 171.5px,#bf1100 172.5px,#c01200 173.5px,#c11200 174.5px,#c21300 175.5px,#c31400 176.5px,#c41500 177.5px,#c41500 178px,#c51600 178.5px,#c61600 179px,#c71700 179.5px,#c91900 180px,#cc1d00 180.5px,#cf2200 181px,#d12500 181.5px,#cf2200 182px,#cc1d00 182.5px,#c91900 183px,#c71700 183.5px,#c61600 184px,#c51600 184.5px,#c41500 185px,#c41500 185.5px,#c31400 186.5px,#c21300 187.5px,#c11200 188.5px,#c01200 189.5px,#bf1100 190.5px,#bf1100 191.5px,#bd0f00 193.5px,#bb0e00 195.5px,#b90c00 197.5px,#b80b00 199.5px,#b60a00 201.5px,#b40800 203.5px,#b20608 205.5px,#ae0324 209.5px,#a8005c 213.5px,#a1009e 217.5px,#9c00db 221.5px,#9305fa 225.5px,#8312fe 229.5px,#711efc 233.5px,#6524fc 237.5px,#5b29fc 241.5px,#522afd 249.5px,#4c2bfd 257.5px,#482bfe 265.5px,#442cff 273.5px,#422cff 281.5px,#412bff 289.5px,#402aff 297.5px,#3f29ff 305.5px,#3f29ff 313.5px,#3e28ff 321.5px,#3e28ff 353.5px,#3d27ff 361.5px,#3d27ff 363px)"></div>
<div style="height:2px;background:linear-gradient(90deg,#3d27ff 0px,#3d27ff 25.5px,#3e28ff 33.5px,#3e28ff 49.5px,#3f29ff 57.5px,#3f29ff 65.5px,#402aff 73.5px,#412bff 81.5px,#432cff 89.5px,#472cfe 97.5px,#4b2bfe 105.5px,#512bfd 113.5px,#5829fc 121.5px,#6226fc 125.5px,#6e1ffc 129.5px,#7d15fd 133.5px,#9107fe 137.5px,#9b00e9 141.5px,#a000af 145.5px,#a6006d 149.5px,#ad0233 153.5px,#b2060c 157.5px,#b30704 159.5px,#b50900 161.5px,#b70a00 163.5px,#b80c00 165.5px,#ba0d00 167.5px,#bc0e00 169.5px,#be1000 171.5px,#be1000 172.5px,#bf1100 173.5px,#c01200 174.5px,#c11200 175.5px,#c21300 176.5px,#c31400 177.5px,#c31400 178px,#c41500 178.5px,#c51500 179px,#c61700 179.5px,#c81800 180px,#cb1d00 180.5px,#cf2200 181px,#d02500 181.5px,#cf2200 182px,#cb1d00 182.5px,#c81800 183px,#c61700 183.5px,#c51500 184px,#c41500 184.5px,#c31400 185px,#c31400 185.5px,#c21300 186.5px,#c11200 187.5px,#c01200 188.5px,#bf1100 189.5px,#be1000 190.5px,#be1000 191.5px,#bc0e00 193.5px,#ba0d00 195.5px,#b80c00 197.5px,#b70a00 199.5px,#b50900 201.5px,#b30704 203.5px,#b2060c 205.5px,#ad0233 209.5px,#a6006d 213.5px,#a000af 217.5px,#9b00e9 221.5px,#9107fe 225.5px,#7d15fd 229.5px,#6e1ffc 233.5px,#6226fc 237.5px,#5829fc 241.5px,#512bfd 249.5px,#4b2bfe 257.5px,#472cfe 265.5px,#432cff 273.5px,#412bff 281.5px,#402aff 289.5px,#3f29ff 297.5px,#3f29ff 305.5px,#3e28ff 313.5px,#3e28ff 329.5px,#3d27ff 337.5px,#3d27ff 363px)"></div>
<div style="height:2px;background:linear-gradient(90deg,#3d27ff 0px,#3d27ff 33.5px,#3e28ff 41.5px,#3e28ff 57.5px,#3f29ff 65.5px,#402aff 73.5px,#412bff 81.5px,#422cff 89.5px,#452cfe 97.5px,#4a2bfe 105.5px,#4f2bfd 113.5px,#562afc 121.5px,#5e28fc 125.5px,#6a21fc 129.5px,#7819fc 133.5px,#8c0bff 137.5px,#9901f2 141.5px,#9e00be 145.5px,#a4007e 149.5px,#ab0142 153.5px,#b10511 157.5px,#b20609 159.5px,#b40801 161.5px,#b60900 163.5px,#b70b00 165.5px,#b90c00 167.5px,#bb0d00 169.5px,#bd0f00 171.5px,#bd0f00 172.5px,#be1000 173.5px,#bf1100 174.5px,#c01100 175.5px,#c11200 176.5px,#c21300 177.5px,#c21300 178px,#c31400 178.5px,#c41500 179px,#c51600 179.5px,#c71800 180px,#ca1c00 180.5px,#ce2100 181px,#d02400 181.5px,#ce2100 182px,#ca1c00 182.5px,#c71800 183px,#c51600 183.5px,#c41500 184px,#c31400 184.5px,#c21300 185px,#c21300 185.5px,#c11200 186.5px,#c01100 187.5px,#bf1100 188.5px,#be1000 189.5px,#bd0f00 190.5px,#bd0f00 191.5px,#bb0d00 193.5px,#b90c00 195.5px,#b70b00 197.5px,#b60900 199.5px,#b40801 201.5px,#b20609 203.5px,#b10511 205.5px,#ab0142 209.5px,#a4007e 213.5px,#9e00be 217.5px,#9901f2 221.5px,#8c0bff 225.5px,#7819fc 229.5px,#6a21fc 233.5px,#5e28fc 237.5px,#562afc 241.5px,#4f2bfd 249.5px,#4a2bfe 257.5px,#452cfe 265.5px,#422cff 273.5px,#412bff 281.5px,#402aff 289.5px,#3f29ff 297.5px,#3e28ff 305.5px,#3e28ff 321.5px,#3d27ff 329.5px,#3d27ff 363px)"></div>
<div style="height:2px;background:linear-gradient(90deg,#3c26ff 0px,#3c26ff 17.5px,#3d27ff 25.5px,#3d27ff 49.5px,#3e28ff 57.5px,#3f29ff 65.5px,#3f29ff 73.5px,#402aff 81.5px,#412bff 89.5px,#442cff 97.5px,#492bfe 105.5px,#4e2bfd 113.5px,#552afc 121.5px,#5c29fc 125.5px,#6723fc 129.5px,#731cfc 133.5px,#870efe 137.5px,#9603f6 141.5px,#9d00cd 145.5px,#a30090 149.5px,#a90151 153.5px,#af041b 157.5px,#b1050e 159.5px,#b30706 161.5px,#b50800 163.5px,#b60a00 165.5px,#b80b00 167.5px,#ba0d00 169.5px,#bb0e00 171.5px,#bc0f00 172.5px,#bd0f00 173.5px,#be1000 174.5px,#bf1100 175.5px,#c01100 176.5px,#c11200 177.5px,#c11300 178px,#c21300 178.5px,#c31400 179px,#c41500 179.5px,#c71700 180px,#ca1b00 180.5px,#ce2100 181px,#d02400 181.5px,#ce2100 182px,#ca1b00 182.5px,#c71700 183px,#c41500 183.5px,#c31400 184px,#c21300 184.5px,#c11300 185px,#c11200 185.5px,#c01100 186.5px,#bf1100 187.5px,#be1000 188.5px,#bd0f00 189.5px,#bc0f00 190.5px,#bb0e00 191.5px,#ba0d00 193.5px,#b80b00 195.5px,#b60a00 197.5px,#b50800 199.5px,#b30706 201.5px,#b1050e 203.5px,#af041b 205.5px,#a90151 209.5px,#a30090 213.5px,#9d00cd 217.5px,#9603f6 221.5px,#870efe 225.5px,#731cfc 229.5px,#6723fc 233.5px,#5c29fc 237.5px,#552afc 241.5px,#4e2bfd 249.5px,#492bfe 257.5px,#442cff 265.5px,#412bff 273.5px,#402aff 281.5px,#3f29ff 289.5px,#3f29ff 297.5px,#3e28ff 305.5px,#3d27ff 313.5px,#3d27ff 337.5px,#3c26ff 345.5px,#3c26ff 363px)"></div>
<div style="height:2px;background:linear-gradient(90deg,#3c26ff 0px,#3c26ff 33.5px,#3d27ff 41.5px,#3d27ff 49.5px,#3e28ff 57.5px,#3e28ff 65.5px,#3f29ff 73.5px,#402aff 81.5px,#412bff 89.5px,#432cff 97.5px,#482bfe 105.5px,#4d2bfd 113.5px,#542afc 121.5px,#5929fc 125.5px,#6325fc 129.5px,#701efc 133.5px,#8212fd 137.5px,#9306fa 141.5px,#9c00dc 145.5px,#a100a1 149.5px,#a70061 153.5px,#ad032a 157.5px,#b00413 159.5px,#b2060b 161.5px,#b40802 163.5px,#b50900 165.5px,#b70a00 167.5px,#b90c00 169.5px,#ba0d00 171.5px,#bb0e00 172.5px,#bc0e00 173.5px,#bd0f00 174.5px,#be1000 175.5px,#be1000 176.5px,#bf1100 177.5px,#c01200 178px,#c11200 178.5px,#c21300 179px,#c31400 179.5px,#c61600 180px,#c91a00 180.5px,#cd2000 181px,#cf2300 181.5px,#cd2000 182px,#c91a00 182.5px,#c61600 183px,#c31400 183.5px,#c21300 184px,#c11200 184.5px,#c01200 185px,#bf1100 185.5px,#be1000 186.5px,#be1000 187.5px,#bd0f00 188.5px,#bc0e00 189.5px,#bb0e00 190.5px,#ba0d00 191.5px,#b90c00 193.5px,#b70a00 195.5px,#b50900 197.5px,#b40802 199.5px,#b2060b 201.5px,#b00413 203.5px,#ad032a 205.5px,#a70061 209.5px,#a100a1 213.5px,#9c00dc 217.5px,#9306fa 221.5px,#8212fd 225.5px,#701efc 229.5px,#6325fc 233.5px,#5929fc 237.5px,#542afc 241.5px,#4d2bfd 249.5px,#482bfe 257.5px,#432cff 265.5px,#412bff 273.5px,#402aff 281.5px,#3f29ff 289.5px,#3e28ff 297.5px,#3e28ff 305.5px,#3d27ff 313.5px,#3d27ff 321.5px,#3c26ff 329.5px,#3c26ff 363px)"></div>
<div style="height:2px;background:linear-gradient(90deg,#3b25ff 0px,#3b25ff 9.5px,#3c26ff 17.5px,#3c26ff 41.5px,#3d27ff 49.5px,#3d27ff 57.5px,#3e28ff 65.5px,#3e28ff 73.5px,#3f29ff 81.5px,#412bff 89.5px,#422cff 97.5px,#472cfe 105.5px,#4c2bfd 113.5px,#532afd 121.5px,#572afc 125.5px,#6027fc 129.5px,#6d20fc 133.5px,#7c16fd 137.5px,#9008ff 141.5px,#9a00eb 145.5px,#9f00b2 149.5px,#a50073 153.5px,#ac023a 157.5px,#af0320 159.5px,#b10510 161.5px,#b20608 163.5px,#b40800 165.5px,#b60900 167.5px,#b70b00 169.5px,#b90c00 171.5px,#ba0d00 172.5px,#bb0d00 173.5px,#bc0e00 174.5px,#bc0f00 175.5px,#bd0f00 176.5px,#be1000 177.5px,#bf1100 178px,#c01100 178.5px,#c11200 179px,#c31400 179.5px,#c51600 180px,#c91900 180.5px,#cd2000 181px,#cf2300 181.5px,#cd2000 182px,#c91900 182.5px,#c51600 183px,#c31400 183.5px,#c11200 184px,#c01100 184.5px,#bf1100 185px,#be1000 185.5px,#bd0f00 186.5px,#bc0f00 187.5px,#bc0e00 188.5px,#bb0d00 189.5px,#ba0d00 190.5px,#b90c00 191.5px,#b70b00 193.5px,#b60900 195.5px,#b40800 197.5px,#b20608 199.5px,#b10510 201.5px,#af0320 203.5px,#ac023a 205.5px,#a50073 209.5px,#9f00b2 213.5px,#9a00eb 217.5px,#9008ff 221.5px,#7c16fd 225.5px,#6d20fc 229.5px,#6027fc 233.5px,#572afc 237.5px,#532afd 241.5px,#4c2bfd 249.5px,#472cfe 257.5px,#422cff 265.5px,#412bff 273.5px,#3f29ff 281.5px,#3e28ff 289.5px,#3e28ff 297.5px,#3d27ff 305.5px,#3d27ff 313.5px,#3c26ff 321.5px,#3c26ff 345.5px,#3b25ff 353.5px,#3b25ff 363px)"></div>
<div style="height:2px;background:linear-gradient(90deg,#3b25ff 0px,#3b25ff 25.5px,#3c26ff 33.5px,#3c26ff 49.5px,#3d27ff 57.5px,#3d27ff 65.5px,#3e28ff 73.5px,#3f29ff 81.5px,#402aff 89.5px,#422cff 97.5px,#452cfe 105.5px,#4b2bfe 113.5px,#512afd 121.5px,#552afc 125.5px,#5d28fc 129.5px,#6922fc 133.5px,#771afc 137.5px,#8b0bfe 141.5px,#9802f3 145.5px,#9e00c2 149.5px,#a40086 153.5px,#aa014a 157.5px,#ad0230 159.5px,#b00416 161.5px,#b1050d 163.5px,#b30705 165.5px,#b50900 167.5px,#b60a00 169.5px,#b80b00 171.5px,#b90c00 172.5px,#ba0d00 173.5px,#ba0d00 174.5px,#bb0e00 175.5px,#bc0f00 176.5px,#bd0f00 177.5px,#be1000 178px,#bf1100 178.5px,#c01200 179px,#c21300 179.5px,#c41500 180px,#c81900 180.5px,#cd1f00 181px,#cf2200 181.5px,#cd1f00 182px,#c81900 182.5px,#c41500 183px,#c21300 183.5px,#c01200 184px,#bf1100 184.5px,#be1000 185px,#bd0f00 185.5px,#bc0f00 186.5px,#bb0e00 187.5px,#ba0d00 188.5px,#ba0d00 189.5px,#b90c00 190.5px,#b80b00 191.5px,#b60a00 193.5px,#b50900 195.5px,#b30705 197.5px,#b1050d 199.5px,#b00416 201.5px,#ad0230 203.5px,#aa014a 205.5px,#a40086 209.5px,#9e00c2 213.5px,#9802f3 217.5px,#8b0bfe 221.5px,#771afc 225.5px,#6922fc 229.5px,#5d28fc 233.5px,#552afc 237.5px,#512afd 241.5px,#4b2bfe 249.5px,#452cfe 257.5px,#422cff 265.5px,#402aff 273.5px,#3f29ff 281.5px,#3e28ff 289.5px,#3d27ff 297.5px,#3d27ff 305.5px,#3c26ff 313.5px,#3c26ff 329.5px,#3b25ff 337.5px,#3b25ff 363px)"></div>
<div style="height:2px;background:linear-gradient(90deg,#3a24ff 0px,#3a24ff 1.5px,#3b25ff 9.5px,#3b25ff 41.5px,#3c26ff 49.5px,#3c26ff 57.5px,#3d27ff 65.5px,#3d27ff 73.5px,#3e28ff 81.5px,#402aff 89.5px,#412bff 97.5px,#442cff 105.5px,#4a2bfe 113.5px,#502bfd 121.5px,#542afc 125.5px,#5a29fc 129.5px,#6524fc 133.5px,#721dfc 137.5px,#860ffe 141.5px,#9504f7 145.5px,#9d00d2 149.5px,#a20098 153.5px,#a8005b 157.5px,#ab0141 159.5px,#ae0327 161.5px,#b00412 163.5px,#b2060a 165.5px,#b40802 167.5px,#b50900 169.5px,#b70a00 171.5px,#b80b00 172.5px,#b80c00 173.5px,#b90c00 174.5px,#ba0d00 175.5px,#bb0e00 176.5px,#bc0f00 177.5px,#bd0f00 178px,#be1000 178.5px,#bf1100 179px,#c11200 179.5px,#c31400 180px,#c81800 180.5px,#cc1e00 181px,#cf2200 181.5px,#cc1e00 182px,#c81800 182.5px,#c31400 183px,#c11200 183.5px,#bf1100 184px,#be1000 184.5px,#bd0f00 185px,#bc0f00 185.5px,#bb0e00 186.5px,#ba0d00 187.5px,#b90c00 188.5px,#b80c00 189.5px,#b80b00 190.5px,#b70a00 191.5px,#b50900 193.5px,#b40802 195.5px,#b2060a 197.5px,#b00412 199.5px,#ae0327 201.5px,#ab0141 203.5px,#a8005b 205.5px,#a20098 209.5px,#9d00d2 213.5px,#9504f7 217.5px,#860ffe 221.5px,#721dfc 225.5px,#6524fc 229.5px,#5a29fc 233.5px,#542afc 237.5px,#502bfd 241.5px,#4a2bfe 249.5px,#442cff 257.5px,#412bff 265.5px,#402aff 273.5px,#3e28ff 281.5px,#3d27ff 289.5px,#3d27ff 297.5px,#3c26ff 305.5px,#3c26ff 313.5px,#3b25ff 321.5px,#3b25ff 353.5px,#3a24ff 361.5px,#3a24ff 363px)"></div>
<div style="height:2px;background:linear-gradient(90deg,#3a24ff 0px,#3a24ff 25.5px,#3b25ff 33.5px,#3b25ff 49.5px,#3c26ff 57.5px,#3c26ff 65.5px,#3d27ff 73.5px,#3e28ff 81.5px,#3f29ff 89.5px,#412bff 97.5px,#432cff 105.5px,#492bfe 113.5px,#4f2bfd 121.5px,#532afc 125.5px,#572afc 129.5px,#6226fc 133.5px,#6f1ffc 137.5px,#8013fd 141.5px,#9206fc 145.5px,#9b00e2 149.5px,#a000ab 153.5px,#a6006e 157.5px,#a90052 159.5px,#ac0238 161.5px,#af031f 163.5px,#b1050f 165.5px,#b20608 167.5px,#b40800 169.5px,#b60900 171.5px,#b60a00 172.5px,#b70b00 173.5px,#b80b00 174.5px,#b90c00 175.5px,#ba0d00 176.5px,#bb0e00 177.5px,#bc0e00 178px,#bd0f00 178.5px,#be1000 179px,#c01100 179.5px,#c31400 180px,#c71700 180.5px,#cc1e00 181px,#ce2100 181.5px,#cc1e00 182px,#c71700 182.5px,#c31400 183px,#c01100 183.5px,#be1000 184px,#bd0f00 184.5px,#bc0e00 185px,#bb0e00 185.5px,#ba0d00 186.5px,#b90c00 187.5px,#b80b00 188.5px,#b70b00 189.5px,#b60a00 190.5px,#b60900 191.5px,#b40800 193.5px,#b20608 195.5px,#b1050f 197.5px,#af031f 199.5px,#ac0238 201.5px,#a90052 203.5px,#a6006e 205.5px,#a000ab 209.5px,#9b00e2 213.5px,#9206fc 217.5px,#8013fd 221.5px,#6f1ffc 225.5px,#6226fc 229.5px,#572afc 233.5px,#532afc 237.5px,#4f2bfd 241.5px,#492bfe 249.5px,#432cff 257.5px,#412bff 265.5px,#3f29ff 273.5px,#3e28ff 281.5px,#3d27ff 289.5px,#3c26ff 297.5px,#3c26ff 305.5px,#3b25ff 313.5px,#3b25ff 329.5px,#3a24ff 337.5px,#3a24ff 363px)"></div>
<div style="height:2px;background:linear-gradient(90deg,#3921ff 0px,#3921ff 1.5px,#3922ff 9.5px,#3923ff 17.5px,#3a24ff 25.5px,#3a24ff 41.5px,#3b25ff 49.5px,#3b25ff 57.5px,#3c26ff 65.5px,#3d27ff 73.5px,#3d27ff 81.5px,#3f29ff 89.5px,#402aff 97.5px,#422cff 105.5px,#472bfe 113.5px,#4e2bfd 121.5px,#522afd 125.5px,#552afc 129.5px,#5e28fc 133.5px,#6b21fc 137.5px,#7b17fd 141.5px,#8f09ff 145.5px,#9a00f1 149.5px,#9f00bb 153.5px,#a40081 157.5px,#a70064 159.5px,#aa0149 161.5px,#ad0230 163.5px,#b00417 165.5px,#b1050d 167.5px,#b30706 169.5px,#b40800 171.5px,#b50900 172.5px,#b60a00 173.5px,#b70a00 174.5px,#b80b00 175.5px,#b90c00 176.5px,#ba0d00 177.5px,#bb0d00 178px,#bc0e00 178.5px,#bd0f00 179px,#bf1100 179.5px,#c21300 180px,#c71700 180.5px,#cc1d00 181px,#ce2100 181.5px,#cc1d00 182px,#c71700 182.5px,#c21300 183px,#bf1100 183.5px,#bd0f00 184px,#bc0e00 184.5px,#bb0d00 185px,#ba0d00 185.5px,#b90c00 186.5px,#b80b00 187.5px,#b70a00 188.5px,#b60a00 189.5px,#b50900 190.5px,#b40800 191.5px,#b30706 193.5px,#b1050d 195.5px,#b00417 197.5px,#ad0230 199.5px,#aa0149 201.5px,#a70064 203.5px,#a40081 205.5px,#9f00bb 209.5px,#9a00f1 213.5px,#8f09ff 217.5px,#7b17fd 221.5px,#6b21fc 225.5px,#5e28fc 229.5px,#552afc 233.5px,#522afd 237.5px,#4e2bfd 241.5px,#472bfe 249.5px,#422cff 257.5px,#402aff 265.5px,#3f29ff 273.5px,#3d27ff 281.5px,#3d27ff 289.5px,#3c26ff 297.5px,#3b25ff 305.5px,#3b25ff 313.5px,#3a24ff 321.5px,#3a24ff 337.5px,#3923ff 345.5px,#3922ff 353.5px,#3921ff 361.5px,#3921ff 363px)"></div>
<div style="height:2px;background:linear-gradient(90deg,#371fff 0px,#381fff 1.5px,#3820ff 9.5px,#3820ff 17.5px,#3921ff 25.5px,#3922ff 33.5px,#3a24ff 41.5px,#3a24ff 49.5px,#3b25ff 57.5px,#3b25ff 65.5px,#3c26ff 73.5px,#3d27ff 81.5px,#3e28ff 89.5px,#402aff 97.5px,#412bff 105.5px,#462cfe 113.5px,#4d2bfd 121.5px,#502bfd 125.5px,#542afc 129.5px,#5b29fc 133.5px,#6823fc 137.5px,#751bfc 141.5px,#890dfe 145.5px,#9703f5 149.5px,#9d00cc 153.5px,#a20095 157.5px,#a50078 159.5px,#a8005b 161.5px,#ab0142 163.5px,#ae0329 165.5px,#b00413 167.5px,#b2060b 169.5px,#b30704 171.5px,#b40800 172.5px,#b50900 173.5px,#b60900 174.5px,#b70a00 175.5px,#b70b00 176.5px,#b90c00 177.5px,#b90c00 178px,#ba0d00 178.5px,#bc0e00 179px,#be1000 179.5px,#c11200 180px,#c61600 180.5px,#cb1d00 181px,#ce2100 181.5px,#cb1d00 182px,#c61600 182.5px,#c11200 183px,#be1000 183.5px,#bc0e00 184px,#ba0d00 184.5px,#b90c00 185px,#b90c00 185.5px,#b70b00 186.5px,#b70a00 187.5px,#b60900 188.5px,#b50900 189.5px,#b40800 190.5px,#b30704 191.5px,#b2060b 193.5px,#b00413 195.5px,#ae0329 197.5px,#ab0142 199.5px,#a8005b 201.5px,#a50078 203.5px,#a20095 205.5px,#9d00cc 209.5px,#9703f5 213.5px,#890dfe 217.5px,#751bfc 221.5px,#6823fc 225.5px,#5b29fc 229.5px,#542afc 233.5px,#502bfd 237.5px,#4d2bfd 241.5px,#462cfe 249.5px,#412bff 257.5px,#402aff 265.5px,#3e28ff 273.5px,#3d27ff 281.5px,#3c26ff 289.5px,#3b25ff 297.5px,#3b25ff 305.5px,#3a24ff 313.5px,#3a24ff 321.5px,#3922ff 329.5px,#3921ff 337.5px,#3820ff 345.5px,#3820ff 353.5px,#381fff 361.5px,#371fff 363px)"></div>
<div style="height:2px;background:linear-gradient(90deg,#361dff 0px,#361dff 1.5px,#371dff 9.5px,#371eff 17.5px,#371fff 25.5px,#3820ff 33.5px,#3921ff 41.5px,#3923ff 49.5px,#3a24ff 57.5px,#3b25ff 65.5px,#3c26ff 73.5px,#3c26ff 81.5px,#3e28ff 89.5px,#3f29ff 97.5px,#412bff 105.5px,#452cff 113.5px,#4b2bfe 121.5px,#4f2bfd 125.5px,#532afc 129.5px,#5929fc 133.5px,#6425fc 137.5px,#711efc 141.5px,#8411fe 145.5px,#9405fa 149.5px,#9c00dd 153.5px,#a000a9 157.5px,#a3008c 159.5px,#a6006f 161.5px,#a90054 163.5px,#ac023b 165.5px,#ae0323 167.5px,#b10511 169.5px,#b20609 171.5px,#b30706 172.5px,#b40802 173.5px,#b40800 174.5px,#b50900 175.5px,#b60a00 176.5px,#b70b00 177.5px,#b80b00 178px,#b90c00 178.5px,#bb0d00 179px,#bd0f00 179.5px,#c01200 180px,#c51600 180.5px,#cb1c00 181px,#cd2000 181.5px,#cb1c00 182px,#c51600 182.5px,#c01200 183px,#bd0f00 183.5px,#bb0d00 184px,#b90c00 184.5px,#b80b00 185px,#b70b00 185.5px,#b60a00 186.5px,#b50900 187.5px,#b40800 188.5px,#b40802 189.5px,#b30706 190.5px,#b20609 191.5px,#b10511 193.5px,#ae0323 195.5px,#ac023b 197.5px,#a90054 199.5px,#a6006f 201.5px,#a3008c 203.5px,#a000a9 205.5px,#9c00dd 209.5px,#9405fa 213.5px,#8411fe 217.5px,#711efc 221.5px,#6425fc 225.5px,#5929fc 229.5px,#532afc 233.5px,#4f2bfd 237.5px,#4b2bfe 241.5px,#452cff 249.5px,#412bff 257.5px,#3f29ff 265.5px,#3e28ff 273.5px,#3c26ff 281.5px,#3c26ff 289.5px,#3b25ff 297.5px,#3a24ff 305.5px,#3923ff 313.5px,#3921ff 321.5px,#3820ff 329.5px,#371fff 337.5px,#371eff 345.5px,#371dff 353.5px,#361dff 361.5px,#361dff 363px)"></div>
<div style="height:2px;background:linear-gradient(90deg,#351aff 0px,#351aff 1.5px,#351bff 9.5px,#361bff 17.5px,#361cff 25.5px,#371dff 33.5px,#371fff 41.5px,#3820ff 49.5px,#3923ff 57.5px,#3a24ff 65.5px,#3b25ff 73.5px,#3c26ff 81.5px,#3d27ff 89.5px,#3f29ff 97.5px,#402aff 105.5px,#442cff 113.5px,#4a2bfe 121.5px,#4e2bfd 125.5px,#522afd 129.5px,#562afc 133.5px,#6027fc 137.5px,#6d20fc 141.5px,#7e15fd 145.5px,#9108fe 149.5px,#9a00ee 153.5px,#9f00ba 157.5px,#a100a0 159.5px,#a40084 161.5px,#a70068 163.5px,#a9014e 165.5px,#ac0235 167.5px,#af031d 169.5px,#b1050f 171.5px,#b2060c 172.5px,#b20608 173.5px,#b30704 174.5px,#b40800 175.5px,#b50900 176.5px,#b60a00 177.5px,#b70a00 178px,#b80b00 178.5px,#ba0c00 179px,#bc0e00 179.5px,#bf1100 180px,#c51500 180.5px,#cb1c00 181px,#cd2000 181.5px,#cb1c00 182px,#c51500 182.5px,#bf1100 183px,#bc0e00 183.5px,#ba0c00 184px,#b80b00 184.5px,#b70a00 185px,#b60a00 185.5px,#b50900 186.5px,#b40800 187.5px,#b30704 188.5px,#b20608 189.5px,#b2060c 190.5px,#b1050f 191.5px,#af031d 193.5px,#ac0235 195.5px,#a9014e 197.5px,#a70068 199.5px,#a40084 201.5px,#a100a0 203.5px,#9f00ba 205.5px,#9a00ee 209.5px,#9108fe 213.5px,#7e15fd 217.5px,#6d20fc 221.5px,#6027fc 225.5px,#562afc 229.5px,#522afd 233.5px,#4e2bfd 237.5px,#4a2bfe 241.5px,#442cff 249.5px,#402aff 257.5px,#3f29ff 265.5px,#3d27ff 273.5px,#3c26ff 281.5px,#3b25ff 289.5px,#3a24ff 297.5px,#3923ff 305.5px,#3820ff 313.5px,#371fff 321.5px,#371dff 329.5px,#361cff 337.5px,#361bff 345.5px,#351bff 353.5px,#351aff 361.5px,#351aff 363px)"></div>
<div style="height:2px;background:linear-gradient(90deg,#3418ff 0px,#3418ff 9.5px,#3419ff 17.5px,#351aff 25.5px,#351bff 33.5px,#361cff 41.5px,#371eff 49.5px,#3820ff 57.5px,#3923ff 65.5px,#3a24ff 73.5px,#3b25ff 81.5px,#3d27ff 89.5px,#3e28ff 97.5px,#402aff 105.5px,#422cff 113.5px,#492bfe 121.5px,#4d2bfd 125.5px,#512bfd 129.5px,#552afc 133.5px,#5d28fc 137.5px,#6a22fc 141.5px,#7819fc 145.5px,#8b0bfe 149.5px,#9702f4 153.5px,#9d00cc 157.5px,#9f00b3 159.5px,#a20098 161.5px,#a5007d 163.5px,#a70061 165.5px,#aa0148 167.5px,#ad0230 169.5px,#af0418 171.5px,#b00412 172.5px,#b1050e 173.5px,#b2060a 174.5px,#b30706 175.5px,#b40801 176.5px,#b50900 177.5px,#b60900 178px,#b70a00 178.5px,#b90c00 179px,#bb0d00 179.5px,#be1000 180px,#c41500 180.5px,#ca1b00 181px,#cd2000 181.5px,#ca1b00 182px,#c41500 182.5px,#be1000 183px,#bb0d00 183.5px,#b90c00 184px,#b70a00 184.5px,#b60900 185px,#b50900 185.5px,#b40801 186.5px,#b30706 187.5px,#b2060a 188.5px,#b1050e 189.5px,#b00412 190.5px,#af0418 191.5px,#ad0230 193.5px,#aa0148 195.5px,#a70061 197.5px,#a5007d 199.5px,#a20098 201.5px,#9f00b3 203.5px,#9d00cc 205.5px,#9702f4 209.5px,#8b0bfe 213.5px,#7819fc 217.5px,#6a22fc 221.5px,#5d28fc 225.5px,#552afc 229.5px,#512bfd 233.5px,#4d2bfd 237.5px,#492bfe 241.5px,#422cff 249.5px,#402aff 257.5px,#3e28ff 265.5px,#3d27ff 273.5px,#3b25ff 281.5px,#3a24ff 289.5px,#3923ff 297.5px,#3820ff 305.5px,#371eff 313.5px,#361cff 321.5px,#351bff 329.5px,#351aff 337.5px,#3419ff 345.5px,#3418ff 353.5px,#3418ff 363px)"></div>
<div style="height:2px;background:linear-gradient(90deg,#3315ff 0px,#3315ff 1.5px,#3316ff 9.5px,#3316ff 17.5px,#3417ff 25.5px,#3418ff 33.5px,#351aff 41.5px,#361bff 49.5px,#371dff 57.5px,#3820ff 65.5px,#3a24ff 73.5px,#3b25ff 81.5px,#3c26ff 89.5px,#3e28ff 97.5px,#3f29ff 105.5px,#422cff 113.5px,#482bfe 121.5px,#4b2bfe 125.5px,#4f2bfd 129.5px,#532afc 133.5px,#5a29fc 137.5px,#6624fc 141.5px,#731dfc 145.5px,#8510fe 149.5px,#9405f9 153.5px,#9c00de 157.5px,#9e00c6 159.5px,#a000ad 161.5px,#a20092 163.5px,#a50077 165.5px,#a8005c 167.5px,#ab0144 169.5px,#ad032c 171.5px,#af0320 172.5px,#b00414 173.5px,#b10510 174.5px,#b2060c 175.5px,#b30707 176.5px,#b40801 177.5px,#b50900 178px,#b60900 178.5px,#b70b00 179px,#ba0d00 179.5px,#be1000 180px,#c31400 180.5px,#ca1b00 181px,#cd1f00 181.5px,#ca1b00 182px,#c31400 182.5px,#be1000 183px,#ba0d00 183.5px,#b70b00 184px,#b60900 184.5px,#b50900 185px,#b40801 185.5px,#b30707 186.5px,#b2060c 187.5px,#b10510 188.5px,#b00414 189.5px,#af0320 190.5px,#ad032c 191.5px,#ab0144 193.5px,#a8005c 195.5px,#a50077 197.5px,#a20092 199.5px,#a000ad 201.5px,#9e00c6 203.5px,#9c00de 205.5px,#9405f9 209.5px,#8510fe 213.5px,#731dfc 217.5px,#6624fc 221.5px,#5a29fc 225.5px,#532afc 229.5px,#4f2bfd 233.5px,#4b2bfe 237.5px,#482bfe 241.5px,#422cff 249.5px,#3f29ff 257.5px,#3e28ff 265.5px,#3c26ff 273.5px,#3b25ff 281.5px,#3a24ff 289.5px,#3820ff 297.5px,#371dff 305.5px,#361bff 313.5px,#351aff 321.5px,#3418ff 329.5px,#3417ff 337.5px,#3316ff 345.5px,#3316ff 353.5px,#3315ff 361.5px,#3315ff 363px)"></div>
<div style="height:2px;background:linear-gradient(90deg,#3112ff 0px,#3112ff 1.5px,#3113ff 9.5px,#3214ff 17.5px,#3215ff 25.5px,#3316ff 33.5px,#3317ff 41.5px,#3419ff 49.5px,#351bff 57.5px,#371dff 65.5px,#3921ff 73.5px,#3a24ff 81.5px,#3b25ff 89.5px,#3d27ff 97.5px,#3f29ff 105.5px,#412bff 113.5px,#462cfe 121.5px,#4a2bfe 125.5px,#4e2bfd 129.5px,#522afd 133.5px,#572afc 137.5px,#6226fc 141.5px,#6f1ffc 145.5px,#7f14fd 149.5px,#9107fe 153.5px,#9a00f0 157.5px,#9c00d8 159.5px,#9e00c0 161.5px,#a000a8 163.5px,#a3008d 165.5px,#a60072 167.5px,#a80058 169.5px,#ab0140 171.5px,#ac0234 172.5px,#ae0328 173.5px,#af041b 174.5px,#b00412 175.5px,#b1050d 176.5px,#b30707 177.5px,#b30703 178px,#b50800 178.5px,#b60a00 179px,#b90c00 179.5px,#bd0f00 180px,#c31400 180.5px,#ca1b00 181px,#cd1f00 181.5px,#ca1b00 182px,#c31400 182.5px,#bd0f00 183px,#b90c00 183.5px,#b60a00 184px,#b50800 184.5px,#b30703 185px,#b30707 185.5px,#b1050d 186.5px,#b00412 187.5px,#af041b 188.5px,#ae0328 189.5px,#ac0234 190.5px,#ab0140 191.5px,#a80058 193.5px,#a60072 195.5px,#a3008d 197.5px,#a000a8 199.5px,#9e00c0 201.5px,#9c00d8 203.5px,#9a00f0 205.5px,#9107fe 209.5px,#7f14fd 213.5px,#6f1ffc 217.5px,#6226fc 221.5px,#572afc 225.5px,#522afd 229.5px,#4e2bfd 233.5px,#4a2bfe 237.5px,#462cfe 241.5px,#412bff 249.5px,#3f29ff 257.5px,#3d27ff 265.5px,#3b25ff 273.5px,#3a24ff 281.5px,#3921ff 289.5px,#371dff 297.5px,#351bff 305.5px,#3419ff 313.5px,#3317ff 321.5px,#3316ff 329.5px,#3215ff 337.5px,#3214ff 345.5px,#3113ff 353.5px,#3112ff 361.5px,#3112ff 363px)"></div>
<div style="height:2px;background:linear-gradient(90deg,#2f0fff 0px,#2f0fff 1.5px,#300fff 9.5px,#3010ff 17.5px,#3111ff 25.5px,#3113ff 33.5px,#3214ff 41.5px,#3316ff 49.5px,#3418ff 57.5px,#351bff 65.5px,#371eff 73.5px,#3923ff 81.5px,#3b25ff 89.5px,#3c26ff 97.5px,#3e28ff 105.5px,#402aff 113.5px,#452cff 121.5px,#492bfe 125.5px,#4d2bfd 129.5px,#512bfd 133.5px,#552afc 137.5px,#5e28fc 141.5px,#6b21fc 145.5px,#7918fd 149.5px,#8b0bff 153.5px,#9703f5 157.5px,#9a00eb 159.5px,#9c00d3 161.5px,#9f00bb 163.5px,#a100a3 165.5px,#a30089 167.5px,#a6006e 169.5px,#a90054 171.5px,#aa0148 172.5px,#ab023c 173.5px,#ad022f 174.5px,#ae0322 175.5px,#b00413 176.5px,#b1050d 177.5px,#b20609 178px,#b30703 178.5px,#b50900 179px,#b80b00 179.5px,#bc0e00 180px,#c21300 180.5px,#c91a00 181px,#cc1f00 181.5px,#c91a00 182px,#c21300 182.5px,#bc0e00 183px,#b80b00 183.5px,#b50900 184px,#b30703 184.5px,#b20609 185px,#b1050d 185.5px,#b00413 186.5px,#ae0322 187.5px,#ad022f 188.5px,#ab023c 189.5px,#aa0148 190.5px,#a90054 191.5px,#a6006e 193.5px,#a30089 195.5px,#a100a3 197.5px,#9f00bb 199.5px,#9c00d3 201.5px,#9a00eb 203.5px,#9703f5 205.5px,#8b0bff 209.5px,#7918fd 213.5px,#6b21fc 217.5px,#5e28fc 221.5px,#552afc 225.5px,#512bfd 229.5px,#4d2bfd 233.5px,#492bfe 237.5px,#452cff 241.5px,#402aff 249.5px,#3e28ff 257.5px,#3c26ff 265.5px,#3b25ff 273.5px,#3923ff 281.5px,#371eff 289.5px,#351bff 297.5px,#3418ff 305.5px,#3316ff 313.5px,#3214ff 321.5px,#3113ff 329.5px,#3111ff 337.5px,#3010ff 345.5px,#300fff 353.5px,#2f0fff 361.5px,#2f0fff 363px)"></div>
<div style="height:2px;background:linear-gradient(90deg,#2e0bff 0px,#2e0bff 1.5px,#2e0cff 9.5px,#2e0dff 17.5px,#2f0eff 25.5px,#300fff 33.5px,#3011ff 41.5px,#3113ff 49.5px,#3315ff 57.5px,#3418ff 65.5px,#361bff 73.5px,#3820ff 81.5px,#3a24ff 89.5px,#3c26ff 97.5px,#3e28ff 105.5px,#402aff 113.5px,#442cff 121.5px,#472bfe 125.5px,#4b2bfe 129.5px,#502bfd 133.5px,#542afc 137.5px,#5b29fc 141.5px,#6723fc 145.5px,#741cfc 149.5px,#8510fe 153.5px,#9305fa 157.5px,#9802f4 159.5px,#9b00e6 161.5px,#9d00cf 163.5px,#9f00b8 165.5px,#a100a0 167.5px,#a40085 169.5px,#a6006b 171.5px,#a8005d 172.5px,#a90151 173.5px,#ab0144 174.5px,#ac0236 175.5px,#ae0326 176.5px,#b00413 177.5px,#b1050e 178px,#b20608 178.5px,#b40800 179px,#b70a00 179.5px,#bb0e00 180px,#c21300 180.5px,#c91a00 181px,#cc1e00 181.5px,#c91a00 182px,#c21300 182.5px,#bb0e00 183px,#b70a00 183.5px,#b40800 184px,#b20608 184.5px,#b1050e 185px,#b00413 185.5px,#ae0326 186.5px,#ac0236 187.5px,#ab0144 188.5px,#a90151 189.5px,#a8005d 190.5px,#a6006b 191.5px,#a40085 193.5px,#a100a0 195.5px,#9f00b8 197.5px,#9d00cf 199.5px,#9b00e6 201.5px,#9802f4 203.5px,#9305fa 205.5px,#8510fe 209.5px,#741cfc 213.5px,#6723fc 217.5px,#5b29fc 221.5px,#542afc 225.5px,#502bfd 229.5px,#4b2bfe 233.5px,#472bfe 237.5px,#442cff 241.5px,#402aff 249.5px,#3e28ff 257.5px,#3c26ff 265.5px,#3a24ff 273.5px,#3820ff 281.5px,#361bff 289.5px,#3418ff 297.5px,#3315ff 305.5px,#3113ff 313.5px,#3011ff 321.5px,#300fff 329.5px,#2f0eff 337.5px,#2e0dff 345.5px,#2e0cff 353.5px,#2e0bff 361.5px,#2e0bff 363px)"></div>
<div style="height:2px;background:linear-gradient(90deg,#2c08ff 0px,#2c08ff 1.5px,#2c09ff 9.5px,#2d09ff 17.5px,#2d0aff 25.5px,#2e0cff 33.5px,#2f0dff 41.5px,#300fff 49.5px,#3112ff 57.5px,#3315ff 65.5px,#3419ff 73.5px,#371dff 81.5px,#3923ff 89.5px,#3b25ff 97.5px,#3d27ff 105.5px,#3f29ff 113.5px,#422cff 121.5px,#462cfe 125.5px,#4a2bfe 129.5px,#4e2bfd 133.5px,#532afd 137.5px,#5829fc 141.5px,#6325fc 145.5px,#6f1efc 149.5px,#7f14fd 153.5px,#9008ff 157.5px,#9405f9 159.5px,#9801f3 161.5px,#9b00e3 163.5px,#9d00cc 165.5px,#9f00b5 167.5px,#a1009d 169.5px,#a40083 171.5px,#a50075 172.5px,#a70067 173.5px,#a80059 174.5px,#aa014b 175.5px,#ac023a 176.5px,#ae0325 177.5px,#b00415 178px,#b1050e 178.5px,#b30705 179px,#b60900 179.5px,#ba0d00 180px,#c11200 180.5px,#c91900 181px,#cc1e00 181.5px,#c91900 182px,#c11200 182.5px,#ba0d00 183px,#b60900 183.5px,#b30705 184px,#b1050e 184.5px,#b00415 185px,#ae0325 185.5px,#ac023a 186.5px,#aa014b 187.5px,#a80059 188.5px,#a70067 189.5px,#a50075 190.5px,#a40083 191.5px,#a1009d 193.5px,#9f00b5 195.5px,#9d00cc 197.5px,#9b00e3 199.5px,#9801f3 201.5px,#9405f9 203.5px,#9008ff 205.5px,#7f14fd 209.5px,#6f1efc 213.5px,#6325fc 217.5px,#5829fc 221.5px,#532afd 225.5px,#4e2bfd 229.5px,#4a2bfe 233.5px,#462cfe 237.5px,#422cff 241.5px,#3f29ff 249.5px,#3d27ff 257.5px,#3b25ff 265.5px,#3923ff 273.5px,#371dff 281.5px,#3419ff 289.5px,#3315ff 297.5px,#3112ff 305.5px,#300fff 313.5px,#2f0dff 321.5px,#2e0cff 329.5px,#2d0aff 337.5px,#2d09ff 345.5px,#2c09ff 353.5px,#2c08ff 361.5px,#2c08ff 363px)"></div>
<div style="height:2px;background:linear-gradient(90deg,#2a04ff 0px,#2a04ff 1.5px,#2a05ff 9.5px,#2b06ff 17.5px,#2b07ff 25.5px,#2c08ff 33.5px,#2d0aff 41.5px,#2e0cff 49.5px,#2f0eff 57.5px,#3112ff 65.5px,#3316ff 73.5px,#351aff 81.5px,#3820ff 89.5px,#3b25ff 97.5px,#3d27ff 105.5px,#3f29ff 113.5px,#422cff 121.5px,#452cff 125.5px,#492bfe 129.5px,#4d2bfd 133.5px,#512afd 137.5px,#562afc 141.5px,#5f27fc 145.5px,#6b21fc 149.5px,#7919fc 153.5px,#890dfe 157.5px,#9107fe 159.5px,#9504f8 161.5px,#9901f2 163.5px,#9b00e0 165.5px,#9d00ca 167.5px,#9f00b4 169.5px,#a2009b 171.5px,#a3008d 172.5px,#a40080 173.5px,#a60071 174.5px,#a70061 175.5px,#a9014f 176.5px,#ac0239 177.5px,#ae0329 178px,#b00414 178.5px,#b2060b 179px,#b50900 179.5px,#b90c00 180px,#c01200 180.5px,#c91900 181px,#cc1e00 181.5px,#c91900 182px,#c01200 182.5px,#b90c00 183px,#b50900 183.5px,#b2060b 184px,#b00414 184.5px,#ae0329 185px,#ac0239 185.5px,#a9014f 186.5px,#a70061 187.5px,#a60071 188.5px,#a40080 189.5px,#a3008d 190.5px,#a2009b 191.5px,#9f00b4 193.5px,#9d00ca 195.5px,#9b00e0 197.5px,#9901f2 199.5px,#9504f8 201.5px,#9107fe 203.5px,#890dfe 205.5px,#7919fc 209.5px,#6b21fc 213.5px,#5f27fc 217.5px,#562afc 221.5px,#512afd 225.5px,#4d2bfd 229.5px,#492bfe 233.5px,#452cff 237.5px,#422cff 241.5px,#3f29ff 249.5px,#3d27ff 257.5px,#3b25ff 265.5px,#3820ff 273.5px,#351aff 281.5px,#3316ff 289.5px,#3112ff 297.5px,#2f0eff 305.5px,#2e0cff 313.5px,#2d0aff 321.5px,#2c08ff 329.5px,#2b07ff 337.5px,#2b06ff 345.5px,#2a05ff 353.5px,#2a04ff 361.5px,#2a04ff 363px)"></div>
<div style="height:2px;background:linear-gradient(90deg,#2801ff 0px,#2801ff 1.5px,#2901ff 9.5px,#2902ff 17.5px,#2903ff 25.5px,#2a04ff 33.5px,#2b06ff 41.5px,#2c08ff 49.5px,#2d0aff 57.5px,#2f0eff 65.5px,#3112ff 73.5px,#3417ff 81.5px,#361dff 89.5px,#3a24ff 97.5px,#3c26ff 105.5px,#3e28ff 113.5px,#412bff 121.5px,#432cff 125.5px,#472bfe 129.5px,#4c2bfe 133.5px,#502bfd 137.5px,#542afc 141.5px,#5c29fc 145.5px,#6723fc 149.5px,#731dfc 153.5px,#8311fe 157.5px,#8b0cfe 159.5px,#9107fd 161.5px,#9504f7 163.5px,#9901f1 165.5px,#9b00df 167.5px,#9d00c9 169.5px,#9f00b2 171.5px,#a000a6 172.5px,#a20098 173.5px,#a3008a 174.5px,#a50079 175.5px,#a70066 176.5px,#a9014d 177.5px,#ab023d 178px,#ae0327 178.5px,#b10510 179px,#b40802 179.5px,#b90c00 180px,#c01100 180.5px,#c81800 181px,#cc1d00 181.5px,#c81800 182px,#c01100 182.5px,#b90c00 183px,#b40802 183.5px,#b10510 184px,#ae0327 184.5px,#ab023d 185px,#a9014d 185.5px,#a70066 186.5px,#a50079 187.5px,#a3008a 188.5px,#a20098 189.5px,#a000a6 190.5px,#9f00b2 191.5px,#9d00c9 193.5px,#9b00df 195.5px,#9901f1 197.5px,#9504f7 199.5px,#9107fd 201.5px,#8b0cfe 203.5px,#8311fe 205.5px,#731dfc 209.5px,#6723fc 213.5px,#5c29fc 217.5px,#542afc 221.5px,#502bfd 225.5px,#4c2bfe 229.5px,#472bfe 233.5px,#432cff 237.5px,#412bff 241.5px,#3e28ff 249.5px,#3c26ff 257.5px,#3a24ff 265.5px,#361dff 273.5px,#3417ff 281.5px,#3112ff 289.5px,#2f0eff 297.5px,#2d0aff 305.5px,#2c08ff 313.5px,#2b06ff 321.5px,#2a04ff 329.5px,#2903ff 337.5px,#2902ff 345.5px,#2901ff 353.5px,#2801ff 361.5px,#2801ff 363px)"></div>
<div style="height:2px;background:linear-gradient(90deg,#2600f0 0px,#2600f0 1.5px,#2700f3 9.5px,#2700f7 17.5px,#2800fb 25.5px,#2800ff 33.5px,#2902ff 41.5px,#2a04ff 49.5px,#2b07ff 57.5px,#2d0aff 65.5px,#2f0eff 73.5px,#3214ff 81.5px,#351aff 89.5px,#3921ff 97.5px,#3b25ff 105.5px,#3e28ff 113.5px,#402aff 121.5px,#422cff 125.5px,#462cfe 129.5px,#4a2bfe 133.5px,#4f2bfd 137.5px,#532afc 141.5px,#5929fc 145.5px,#6325fc 149.5px,#6f1ffc 153.5px,#7c16fd 157.5px,#8411fe 159.5px,#8b0bff 161.5px,#9207fd 163.5px,#9504f7 165.5px,#9901f1 167.5px,#9c00de 169.5px,#9d00c8 171.5px,#9e00bd 172.5px,#9f00b1 173.5px,#a100a3 174.5px,#a20092 175.5px,#a4007e 176.5px,#a70063 177.5px,#a90151 178px,#ac023a 178.5px,#af041a 179px,#b30707 179.5px,#b80b00 180px,#bf1100 180.5px,#c81800 181px,#cb1d00 181.5px,#c81800 182px,#bf1100 182.5px,#b80b00 183px,#b30707 183.5px,#af041a 184px,#ac023a 184.5px,#a90151 185px,#a70063 185.5px,#a4007e 186.5px,#a20092 187.5px,#a100a3 188.5px,#9f00b1 189.5px,#9e00bd 190.5px,#9d00c8 191.5px,#9c00de 193.5px,#9901f1 195.5px,#9504f7 197.5px,#9207fd 199.5px,#8b0bff 201.5px,#8411fe 203.5px,#7c16fd 205.5px,#6f1ffc 209.5px,#6325fc 213.5px,#5929fc 217.5px,#532afc 221.5px,#4f2bfd 225.5px,#4a2bfe 229.5px,#462cfe 233.5px,#422cff 237.5px,#402aff 241.5px,#3e28ff 249.5px,#3b25ff 257.5px,#3921ff 265.5px,#351aff 273.5px,#3214ff 281.5px,#2f0eff 289.5px,#2d0aff 297.5px,#2b07ff 305.5px,#2a04ff 313.5px,#2902ff 321.5px,#2800ff 329.5px,#2800fb 337.5px,#2700f7 345.5px,#2700f3 353.5px,#2600f0 361.5px,#2600f0 363px)"></div>
<div style="height:2px;background:linear-gradient(90deg,#2400de 0px,#2400de 1.5px,#2500e1 9.5px,#2500e5 17.5px,#2600e9 25.5px,#2600ef 33.5px,#2700f6 41.5px,#2800ff 49.5px,#2903ff 57.5px,#2b06ff 65.5px,#2d0aff 73.5px,#3010ff 81.5px,#3317ff 89.5px,#371eff 97.5px,#3b25ff 105.5px,#3d27ff 113.5px,#402aff 121.5px,#412bff 125.5px,#452cff 129.5px,#492bfe 133.5px,#4d2bfd 137.5px,#522afd 141.5px,#562afc 145.5px,#5f27fc 149.5px,#6a21fc 153.5px,#751bfc 157.5px,#7d16fd 159.5px,#8410fe 161.5px,#8c0bff 163.5px,#9207fd 165.5px,#9504f7 167.5px,#9901f1 169.5px,#9c00de 171.5px,#9c00d3 172.5px,#9e00c7 173.5px,#9f00ba 174.5px,#a000ab 175.5px,#a20097 176.5px,#a5007b 177.5px,#a70067 178px,#a9014e 178.5px,#ad032c 179px,#b2060c 179.5px,#b70a00 180px,#bf1000 180.5px,#c81800 181px,#cb1d00 181.5px,#c81800 182px,#bf1000 182.5px,#b70a00 183px,#b2060c 183.5px,#ad032c 184px,#a9014e 184.5px,#a70067 185px,#a5007b 185.5px,#a20097 186.5px,#a000ab 187.5px,#9f00ba 188.5px,#9e00c7 189.5px,#9c00d3 190.5px,#9c00de 191.5px,#9901f1 193.5px,#9504f7 195.5px,#9207fd 197.5px,#8c0bff 199.5px,#8410fe 201.5px,#7d16fd 203.5px,#751bfc 205.5px,#6a21fc 209.5px,#5f27fc 213.5px,#562afc 217.5px,#522afd 221.5px,#4d2bfd 225.5px,#492bfe 229.5px,#452cff 233.5px,#412bff 237.5px,#402aff 241.5px,#3d27ff 249.5px,#3b25ff 257.5px,#371eff 265.5px,#3317ff 273.5px,#3010ff 281.5px,#2d0aff 289.5px,#2b06ff 297.5px,#2903ff 305.5px,#2800ff 313.5px,#2700f6 321.5px,#2600ef 329.5px,#2600e9 337.5px,#2500e5 345.5px,#2500e1 353.5px,#2400de 361.5px,#2400de 363px)"></div>
<div style="height:2px;background:linear-gradient(90deg,#2200cb 0px,#2300cc 1.5px,#2300ce 9.5px,#2300d2 17.5px,#2400d6 25.5px,#2400dc 33.5px,#2500e3 41.5px,#2600ed 49.5px,#2700f9 57.5px,#2902ff 65.5px,#2b06ff 73.5px,#2e0cff 81.5px,#3213ff 89.5px,#351bff 97.5px,#3a24ff 105.5px,#3c26ff 113.5px,#3f29ff 121.5px,#412bff 125.5px,#432cff 129.5px,#482bfe 133.5px,#4c2bfe 137.5px,#502bfd 141.5px,#552afc 145.5px,#5c29fc 149.5px,#6624fc 153.5px,#701efc 157.5px,#761afc 159.5px,#7d15fd 161.5px,#8510fe 163.5px,#8c0bff 165.5px,#9207fd 167.5px,#9504f7 169.5px,#9901f1 171.5px,#9b00ea 172.5px,#9c00de 173.5px,#9d00d1 174.5px,#9e00c2 175.5px,#a000b0 176.5px,#a20093 177.5px,#a4007f 178px,#a70063 178.5px,#ab023e 179px,#b10511 179.5px,#b60900 180px,#be1000 180.5px,#c71700 181px,#cb1c00 181.5px,#c71700 182px,#be1000 182.5px,#b60900 183px,#b10511 183.5px,#ab023e 184px,#a70063 184.5px,#a4007f 185px,#a20093 185.5px,#a000b0 186.5px,#9e00c2 187.5px,#9d00d1 188.5px,#9c00de 189.5px,#9b00ea 190.5px,#9901f1 191.5px,#9504f7 193.5px,#9207fd 195.5px,#8c0bff 197.5px,#8510fe 199.5px,#7d15fd 201.5px,#761afc 203.5px,#701efc 205.5px,#6624fc 209.5px,#5c29fc 213.5px,#552afc 217.5px,#502bfd 221.5px,#4c2bfe 225.5px,#482bfe 229.5px,#432cff 233.5px,#412bff 237.5px,#3f29ff 241.5px,#3c26ff 249.5px,#3a24ff 257.5px,#351bff 265.5px,#3213ff 273.5px,#2e0cff 281.5px,#2b06ff 289.5px,#2902ff 297.5px,#2700f9 305.5px,#2600ed 313.5px,#2500e3 321.5px,#2400dc 329.5px,#2400d6 337.5px,#2300d2 345.5px,#2300ce 353.5px,#2300cc 361.5px,#2200cb 363px)"></div>
<div style="height:2px;background:linear-gradient(90deg,#2000b8 0px,#2000b8 1.5px,#2100bb 9.5px,#2100bf 17.5px,#2200c3 25.5px,#2200c9 33.5px,#2300d0 41.5px,#2400d9 49.5px,#2500e5 57.5px,#2700f5 65.5px,#2902ff 73.5px,#2c08ff 81.5px,#300fff 89.5px,#3418ff 97.5px,#3921ff 105.5px,#3c26ff 113.5px,#3f29ff 121.5px,#402aff 125.5px,#422cff 129.5px,#462cfe 133.5px,#4b2bfe 137.5px,#4f2bfd 141.5px,#532afc 145.5px,#5929fc 149.5px,#6226fc 153.5px,#6c20fc 157.5px,#711efc 159.5px,#761afc 161.5px,#7d15fd 163.5px,#8410fe 165.5px,#8b0bff 167.5px,#9107fd 169.5px,#9504f7 171.5px,#9702f4 172.5px,#9901f1 173.5px,#9b00e8 174.5px,#9c00d9 175.5px,#9e00c6 176.5px,#a000ac 177.5px,#a20097 178px,#a50079 178.5px,#a90151 179px,#af041a 179.5px,#b50900 180px,#bd0f00 180.5px,#c71700 181px,#cb1c00 181.5px,#c71700 182px,#bd0f00 182.5px,#b50900 183px,#af041a 183.5px,#a90151 184px,#a50079 184.5px,#a20097 185px,#a000ac 185.5px,#9e00c6 186.5px,#9c00d9 187.5px,#9b00e8 188.5px,#9901f1 189.5px,#9702f4 190.5px,#9504f7 191.5px,#9107fd 193.5px,#8b0bff 195.5px,#8410fe 197.5px,#7d15fd 199.5px,#761afc 201.5px,#711efc 203.5px,#6c20fc 205.5px,#6226fc 209.5px,#5929fc 213.5px,#532afc 217.5px,#4f2bfd 221.5px,#4b2bfe 225.5px,#462cfe 229.5px,#422cff 233.5px,#402aff 237.5px,#3f29ff 241.5px,#3c26ff 249.5px,#3921ff 257.5px,#3418ff 265.5px,#300fff 273.5px,#2c08ff 281.5px,#2902ff 289.5px,#2700f5 297.5px,#2500e5 305.5px,#2400d9 313.5px,#2300d0 321.5px,#2200c9 329.5px,#2200c3 337.5px,#2100bf 345.5px,#2100bb 353.5px,#2000b8 361.5px,#2000b8 363px)"></div>
<div style="height:2px;background:linear-gradient(90deg,#1e00a1 0px,#1e00a1 1.5px,#1e00a5 9.5px,#1f00a9 17.5px,#1f00ae 25.5px,#2000b5 33.5px,#2100bc 41.5px,#2200c5 49.5px,#2300d2 57.5px,#2500e1 65.5px,#2700f6 73.5px,#2a04ff 81.5px,#2d0bff 89.5px,#3214ff 97.5px,#371eff 105.5px,#3b25ff 113.5px,#3e28ff 121.5px,#402aff 125.5px,#412bff 129.5px,#452cff 133.5px,#492bfe 137.5px,#4e2bfd 141.5px,#522afd 145.5px,#562afc 149.5px,#5e28fc 153.5px,#6823fc 157.5px,#6c20fc 159.5px,#711efc 161.5px,#761afc 163.5px,#7d16fd 165.5px,#8411fe 167.5px,#8b0cfe 169.5px,#9107fe 171.5px,#9306fb 172.5px,#9504f7 173.5px,#9702f4 174.5px,#9a00f0 175.5px,#9c00dd 176.5px,#9e00c2 177.5px,#a000ae 178px,#a30091 178.5px,#a70065 179px,#ad032b 179.5px,#b40800 180px,#bd0f00 180.5px,#c61700 181px,#ca1c00 181.5px,#c61700 182px,#bd0f00 182.5px,#b40800 183px,#ad032b 183.5px,#a70065 184px,#a30091 184.5px,#a000ae 185px,#9e00c2 185.5px,#9c00dd 186.5px,#9a00f0 187.5px,#9702f4 188.5px,#9504f7 189.5px,#9306fb 190.5px,#9107fe 191.5px,#8b0cfe 193.5px,#8411fe 195.5px,#7d16fd 197.5px,#761afc 199.5px,#711efc 201.5px,#6c20fc 203.5px,#6823fc 205.5px,#5e28fc 209.5px,#562afc 213.5px,#522afd 217.5px,#4e2bfd 221.5px,#492bfe 225.5px,#452cff 229.5px,#412bff 233.5px,#402aff 237.5px,#3e28ff 241.5px,#3b25ff 249.5px,#371eff 257.5px,#3214ff 265.5px,#2d0bff 273.5px,#2a04ff 281.5px,#2700f6 289.5px,#2500e1 297.5px,#2300d2 305.5px,#2200c5 313.5px,#2100bc 321.5px,#2000b5 329.5px,#1f00ae 337.5px,#1f00a9 345.5px,#1e00a5 353.5px,#1e00a1 361.5px,#1e00a1 363px)"></div>
<div style="height:2px;background:linear-gradient(90deg,#1c0088 0px,#1c0088 1.5px,#1c008c 9.5px,#1c0090 17.5px,#1d0095 25.5px,#1e009c 33.5px,#1f00a5 41.5px,#2000b0 49.5px,#2100bd 57.5px,#2300cd 65.5px,#2500e1 73.5px,#2800fc 81.5px,#2b07ff 89.5px,#3010ff 97.5px,#351bff 105.5px,#3a24ff 113.5px,#3d27ff 121.5px,#3f29ff 125.5px,#412bff 129.5px,#432cff 133.5px,#482bfe 137.5px,#4c2bfd 141.5px,#502bfd 145.5px,#542afc 149.5px,#5a29fc 153.5px,#6325fc 157.5px,#6823fc 159.5px,#6c20fc 161.5px,#711efc 163.5px,#751bfc 165.5px,#7c16fd 167.5px,#8311fe 169.5px,#8a0cfe 171.5px,#8e0aff 172.5px,#9107fe 173.5px,#9305fa 174.5px,#9603f6 175.5px,#9901f1 176.5px,#9c00d8 177.5px,#9e00c4 178px,#a000a8 178.5px,#a5007b 179px,#ab023c 179.5px,#b30704 180px,#bc0e00 180.5px,#c61600 181px,#ca1b00 181.5px,#c61600 182px,#bc0e00 182.5px,#b30704 183px,#ab023c 183.5px,#a5007b 184px,#a000a8 184.5px,#9e00c4 185px,#9c00d8 185.5px,#9901f1 186.5px,#9603f6 187.5px,#9305fa 188.5px,#9107fe 189.5px,#8e0aff 190.5px,#8a0cfe 191.5px,#8311fe 193.5px,#7c16fd 195.5px,#751bfc 197.5px,#711efc 199.5px,#6c20fc 201.5px,#6823fc 203.5px,#6325fc 205.5px,#5a29fc 209.5px,#542afc 213.5px,#502bfd 217.5px,#4c2bfd 221.5px,#482bfe 225.5px,#432cff 229.5px,#412bff 233.5px,#3f29ff 237.5px,#3d27ff 241.5px,#3a24ff 249.5px,#351bff 257.5px,#3010ff 265.5px,#2b07ff 273.5px,#2800fc 281.5px,#2500e1 289.5px,#2300cd 297.5px,#2100bd 305.5px,#2000b0 313.5px,#1f00a5 321.5px,#1e009c 329.5px,#1d0095 337.5px,#1c0090 345.5px,#1c008c 353.5px,#1c0088 361.5px,#1c0088 363px)"></div>
<div style="height:2px;background:linear-gradient(90deg,#19006e 0px,#19006f 1.5px,#190072 9.5px,#1a0076 17.5px,#1a007c 25.5px,#1b0083 33.5px,#1c008b 41.5px,#1d0097 49.5px,#1f00a5 57.5px,#2000b8 65.5px,#2300cc 73.5px,#2500e7 81.5px,#2902ff 89.5px,#2e0cff 97.5px,#3417ff 105.5px,#3a23ff 113.5px,#3d27ff 121.5px,#3e28ff 125.5px,#402aff 129.5px,#422cff 133.5px,#462cfe 137.5px,#4b2bfe 141.5px,#4f2bfd 145.5px,#532afc 149.5px,#572afc 153.5px,#5f28fc 157.5px,#6325fc 159.5px,#6823fc 161.5px,#6c20fc 163.5px,#701efc 165.5px,#741cfc 167.5px,#7b17fd 169.5px,#8212fd 171.5px,#860ffe 172.5px,#8a0dfe 173.5px,#8e09ff 174.5px,#9207fd 175.5px,#9504f7 176.5px,#9a00ef 177.5px,#9c00da 178px,#9e00bd 178.5px,#a20091 179px,#a9014d 179.5px,#b20609 180px,#bb0e00 180.5px,#c61600 181px,#ca1b00 181.5px,#c61600 182px,#bb0e00 182.5px,#b20609 183px,#a9014d 183.5px,#a20091 184px,#9e00bd 184.5px,#9c00da 185px,#9a00ef 185.5px,#9504f7 186.5px,#9207fd 187.5px,#8e09ff 188.5px,#8a0dfe 189.5px,#860ffe 190.5px,#8212fd 191.5px,#7b17fd 193.5px,#741cfc 195.5px,#701efc 197.5px,#6c20fc 199.5px,#6823fc 201.5px,#6325fc 203.5px,#5f28fc 205.5px,#572afc 209.5px,#532afc 213.5px,#4f2bfd 217.5px,#4b2bfe 221.5px,#462cfe 225.5px,#422cff 229.5px,#402aff 233.5px,#3e28ff 237.5px,#3d27ff 241.5px,#3a23ff 249.5px,#3417ff 257.5px,#2e0cff 265.5px,#2902ff 273.5px,#2500e7 281.5px,#2300cc 289.5px,#2000b8 297.5px,#1f00a5 305.5px,#1d0097 313.5px,#1c008b 321.5px,#1b0083 329.5px,#1a007c 337.5px,#1a0076 345.5px,#190072 353.5px,#19006f 361.5px,#19006e 363px)"></div>
<div style="height:2px;background:linear-gradient(90deg,#160057 0px,#160057 1.5px,#16005a 9.5px,#17005d 17.5px,#180062 25.5px,#180068 33.5px,#190071 41.5px,#1a007c 49.5px,#1c008b 57.5px,#1e009e 65.5px,#2000b7 73.5px,#2300d1 81.5px,#2700f4 89.5px,#2c07ff 97.5px,#3214ff 105.5px,#3820ff 113.5px,#3c26ff 121.5px,#3e28ff 125.5px,#402aff 129.5px,#412bff 133.5px,#452cff 137.5px,#4a2bfe 141.5px,#4e2bfd 145.5px,#522afd 149.5px,#552afc 153.5px,#5b29fc 157.5px,#5f28fc 159.5px,#6325fc 161.5px,#6723fc 163.5px,#6b21fc 165.5px,#6f1ffc 167.5px,#731cfc 169.5px,#7a18fd 171.5px,#7d15fd 172.5px,#8112fd 173.5px,#860ffe 174.5px,#8b0cfe 175.5px,#9107fe 176.5px,#9603f6 177.5px,#9a00f0 178px,#9d00d2 178.5px,#a000a8 179px,#a70060 179.5px,#b1050d 180px,#bb0d00 180.5px,#c51600 181px,#ca1b00 181.5px,#c51600 182px,#bb0d00 182.5px,#b1050d 183px,#a70060 183.5px,#a000a8 184px,#9d00d2 184.5px,#9a00f0 185px,#9603f6 185.5px,#9107fe 186.5px,#8b0cfe 187.5px,#860ffe 188.5px,#8112fd 189.5px,#7d15fd 190.5px,#7a18fd 191.5px,#731cfc 193.5px,#6f1ffc 195.5px,#6b21fc 197.5px,#6723fc 199.5px,#6325fc 201.5px,#5f28fc 203.5px,#5b29fc 205.5px,#552afc 209.5px,#522afd 213.5px,#4e2bfd 217.5px,#4a2bfe 221.5px,#452cff 225.5px,#412bff 229.5px,#402aff 233.5px,#3e28ff 237.5px,#3c26ff 241.5px,#3820ff 249.5px,#3214ff 257.5px,#2c07ff 265.5px,#2700f4 273.5px,#2300d1 281.5px,#2000b7 289.5px,#1e009e 297.5px,#1c008b 305.5px,#1a007c 313.5px,#190071 321.5px,#180068 329.5px,#180062 337.5px,#17005d 345.5px,#16005a 353.5px,#160057 361.5px,#160057 363px)"></div>
<div style="height:2px;background:linear-gradient(90deg,#110040 0px,#120040 1.5px,#120043 9.5px,#130047 17.5px,#13004b 25.5px,#140051 33.5px,#160058 41.5px,#170061 49.5px,#19006f 57.5px,#1b0083 65.5px,#1e009c 73.5px,#2100bb 81.5px,#2500de 89.5px,#2903ff 97.5px,#300fff 105.5px,#361cff 113.5px,#3b25ff 121.5px,#3d27ff 125.5px,#3f29ff 129.5px,#412bff 133.5px,#442cff 137.5px,#482bfe 141.5px,#4c2bfd 145.5px,#502bfd 149.5px,#542afc 153.5px,#582afc 157.5px,#5b29fc 159.5px,#5e28fc 161.5px,#6226fc 163.5px,#6624fc 165.5px,#6a21fc 167.5px,#6e1ffc 169.5px,#721dfc 171.5px,#751bfc 172.5px,#7918fd 173.5px,#7d15fd 174.5px,#8311fe 175.5px,#8a0dfe 176.5px,#9206fc 177.5px,#9603f6 178px,#9b00e8 178.5px,#9e00bc 179px,#a50074 179.5px,#b00412 180px,#ba0d00 180.5px,#c51600 181px,#ca1a00 181.5px,#c51600 182px,#ba0d00 182.5px,#b00412 183px,#a50074 183.5px,#9e00bc 184px,#9b00e8 184.5px,#9603f6 185px,#9206fc 185.5px,#8a0dfe 186.5px,#8311fe 187.5px,#7d15fd 188.5px,#7918fd 189.5px,#751bfc 190.5px,#721dfc 191.5px,#6e1ffc 193.5px,#6a21fc 195.5px,#6624fc 197.5px,#6226fc 199.5px,#5e28fc 201.5px,#5b29fc 203.5px,#582afc 205.5px,#542afc 209.5px,#502bfd 213.5px,#4c2bfd 217.5px,#482bfe 221.5px,#442cff 225.5px,#412bff 229.5px,#3f29ff 233.5px,#3d27ff 237.5px,#3b25ff 241.5px,#361cff 249.5px,#300fff 257.5px,#2903ff 265.5px,#2500de 273.5px,#2100bb 281.5px,#1e009c 289.5px,#1b0083 297.5px,#19006f 305.5px,#170061 313.5px,#160058 321.5px,#140051 329.5px,#13004b 337.5px,#130047 345.5px,#120043 353.5px,#120040 361.5px,#110040 363px)"></div>
<div style="height:2px;background:linear-gradient(90deg,#0d0028 0px,#0d0029 1.5px,#0e002c 9.5px,#0e002f 17.5px,#0f0033 25.5px,#100039 33.5px,#120040 41.5px,#13004a 49.5px,#150056 57.5px,#180066 65.5px,#1b0080 73.5px,#1e00a1 81.5px,#2200c8 89.5px,#2700f6 97.5px,#2d0bff 105.5px,#3519ff 113.5px,#3b25ff 121.5px,#3d27ff 125.5px,#3e28ff 129.5px,#402aff 133.5px,#422cff 137.5px,#472cfe 141.5px,#4b2bfe 145.5px,#4f2bfd 149.5px,#522afd 153.5px,#552afc 157.5px,#582afc 159.5px,#5b29fc 161.5px,#5d28fc 163.5px,#6126fc 165.5px,#6524fc 167.5px,#6922fc 169.5px,#6d20fc 171.5px,#6f1ffc 172.5px,#721dfc 173.5px,#751bfc 174.5px,#7a17fd 175.5px,#8112fd 176.5px,#8c0bff 177.5px,#9206fc 178px,#9802f4 178.5px,#9d00d0 179px,#a30089 179.5px,#af041c 180px,#b90c00 180.5px,#c51500 181px,#c91a00 181.5px,#c51500 182px,#b90c00 182.5px,#af041c 183px,#a30089 183.5px,#9d00d0 184px,#9802f4 184.5px,#9206fc 185px,#8c0bff 185.5px,#8112fd 186.5px,#7a17fd 187.5px,#751bfc 188.5px,#721dfc 189.5px,#6f1ffc 190.5px,#6d20fc 191.5px,#6922fc 193.5px,#6524fc 195.5px,#6126fc 197.5px,#5d28fc 199.5px,#5b29fc 201.5px,#582afc 203.5px,#552afc 205.5px,#522afd 209.5px,#4f2bfd 213.5px,#4b2bfe 217.5px,#472cfe 221.5px,#422cff 225.5px,#402aff 229.5px,#3e28ff 233.5px,#3d27ff 237.5px,#3b25ff 241.5px,#3519ff 249.5px,#2d0bff 257.5px,#2700f6 265.5px,#2200c8 273.5px,#1e00a1 281.5px,#1b0080 289.5px,#180066 297.5px,#150056 305.5px,#13004a 313.5px,#120040 321.5px,#100039 329.5px,#0f0033 337.5px,#0e002f 345.5px,#0e002c 353.5px,#0d0029 361.5px,#0d0028 363px)"></div>
<div style="height:2px;background:linear-gradient(90deg,#09001a 0px,#09001a 1.5px,#0a001b 9.5px,#0a001d 17.5px,#0b001f 25.5px,#0c0021 33.5px,#0d0028 41.5px,#0f0031 49.5px,#11003e 57.5px,#14004e 65.5px,#180063 73.5px,#1b0084 81.5px,#2000b0 89.5px,#2500df 97.5px,#2b06ff 105.5px,#3316ff 113.5px,#3a24ff 121.5px,#3c26ff 125.5px,#3e28ff 129.5px,#402aff 133.5px,#422cff 137.5px,#452cfe 141.5px,#4a2bfe 145.5px,#4e2bfd 149.5px,#512bfd 153.5px,#542afc 157.5px,#552afc 159.5px,#572afc 161.5px,#5a29fc 163.5px,#5d28fc 165.5px,#6027fc 167.5px,#6425fc 169.5px,#6823fc 171.5px,#6a22fc 172.5px,#6c20fc 173.5px,#6f1ffc 174.5px,#731dfc 175.5px,#7918fd 176.5px,#8411fe 177.5px,#8c0bff 178px,#9405fa 178.5px,#9b00e5 179px,#a1009e 179.5px,#ad032b 180px,#b90c00 180.5px,#c41500 181px,#c91a00 181.5px,#c41500 182px,#b90c00 182.5px,#ad032b 183px,#a1009e 183.5px,#9b00e5 184px,#9405fa 184.5px,#8c0bff 185px,#8411fe 185.5px,#7918fd 186.5px,#731dfc 187.5px,#6f1ffc 188.5px,#6c20fc 189.5px,#6a22fc 190.5px,#6823fc 191.5px,#6425fc 193.5px,#6027fc 195.5px,#5d28fc 197.5px,#5a29fc 199.5px,#572afc 201.5px,#552afc 203.5px,#542afc 205.5px,#512bfd 209.5px,#4e2bfd 213.5px,#4a2bfe 217.5px,#452cfe 221.5px,#422cff 225.5px,#402aff 229.5px,#3e28ff 233.5px,#3c26ff 237.5px,#3a24ff 241.5px,#3316ff 249.5px,#2b06ff 257.5px,#2500df 265.5px,#2000b0 273.5px,#1b0084 281.5px,#180063 289.5px,#14004e 297.5px,#11003e 305.5px,#0f0031 313.5px,#0d0028 321.5px,#0c0021 329.5px,#0b001f 337.5px,#0a001d 345.5px,#0a001b 353.5px,#09001a 361.5px,#09001a 363px)"></div>
<div style="height:2px;background:linear-gradient(90deg,#05000e 0px,#05000e 1.5px,#060010 9.5px,#060011 17.5px,#070013 25.5px,#080016 33.5px,#090019 41.5px,#0a001e 49.5px,#0c0025 57.5px,#0f0035 65.5px,#13004a 73.5px,#180067 81.5px,#1d0093 89.5px,#2200c8 97.5px,#2901ff 105.5px,#3111ff 113.5px,#3922ff 121.5px,#3b25ff 125.5px,#3d27ff 129.5px,#3f29ff 133.5px,#412bff 137.5px,#442cff 141.5px,#482bfe 145.5px,#4c2bfd 149.5px,#502bfd 153.5px,#522afd 157.5px,#542afc 159.5px,#552afc 161.5px,#562afc 163.5px,#5929fc 165.5px,#5c29fc 167.5px,#5e28fc 169.5px,#6226fc 171.5px,#6424fc 172.5px,#6723fc 173.5px,#6a22fc 174.5px,#6d20fc 175.5px,#721dfc 176.5px,#7c16fd 177.5px,#8411fe 178px,#8f08ff 178.5px,#9801f3 179px,#9f00b2 179.5px,#ac023b 180px,#b80b00 180.5px,#c41500 181px,#c91900 181.5px,#c41500 182px,#b80b00 182.5px,#ac023b 183px,#9f00b2 183.5px,#9801f3 184px,#8f08ff 184.5px,#8411fe 185px,#7c16fd 185.5px,#721dfc 186.5px,#6d20fc 187.5px,#6a22fc 188.5px,#6723fc 189.5px,#6424fc 190.5px,#6226fc 191.5px,#5e28fc 193.5px,#5c29fc 195.5px,#5929fc 197.5px,#562afc 199.5px,#552afc 201.5px,#542afc 203.5px,#522afd 205.5px,#502bfd 209.5px,#4c2bfd 213.5px,#482bfe 217.5px,#442cff 221.5px,#412bff 225.5px,#3f29ff 229.5px,#3d27ff 233.5px,#3b25ff 237.5px,#3922ff 241.5px,#3111ff 249.5px,#2901ff 257.5px,#2200c8 265.5px,#1d0093 273.5px,#180067 281.5px,#13004a 289.5px,#0f0035 297.5px,#0c0025 305.5px,#0a001e 313.5px,#090019 321.5px,#080016 329.5px,#070013 337.5px,#060011 345.5px,#060010 353.5px,#05000e 361.5px,#05000e 363px)"></div>
<div style="height:2px;background:linear-gradient(90deg,#010002 0px,#010002 1.5px,#010004 9.5px,#020005 17.5px,#030007 25.5px,#04000a 33.5px,#05000d 41.5px,#060012 49.5px,#080017 57.5px,#0b001f 65.5px,#0f0031 73.5px,#14004d 81.5px,#1a0075 89.5px,#2000b0 97.5px,#2600ee 105.5px,#2e0dff 113.5px,#371eff 121.5px,#3b25ff 125.5px,#3d27ff 129.5px,#3e28ff 133.5px,#402aff 137.5px,#432cff 141.5px,#472bfe 145.5px,#4b2bfe 149.5px,#4e2bfd 153.5px,#512afd 157.5px,#522afd 159.5px,#532afc 161.5px,#552afc 163.5px,#562afc 165.5px,#582afc 167.5px,#5a29fc 169.5px,#5d28fc 171.5px,#5f27fc 172.5px,#6126fc 173.5px,#6425fc 174.5px,#6823fc 175.5px,#6c20fc 176.5px,#741cfc 177.5px,#7c16fd 178px,#880efe 178.5px,#9404f8 179px,#9e00c5 179.5px,#aa014b 180px,#b70a00 180.5px,#c31400 181px,#c91900 181.5px,#c31400 182px,#b70a00 182.5px,#aa014b 183px,#9e00c5 183.5px,#9404f8 184px,#880efe 184.5px,#7c16fd 185px,#741cfc 185.5px,#6c20fc 186.5px,#6823fc 187.5px,#6425fc 188.5px,#6126fc 189.5px,#5f27fc 190.5px,#5d28fc 191.5px,#5a29fc 193.5px,#582afc 195.5px,#562afc 197.5px,#552afc 199.5px,#532afc 201.5px,#522afd 203.5px,#512afd 205.5px,#4e2bfd 209.5px,#4b2bfe 213.5px,#472bfe 217.5px,#432cff 221.5px,#402aff 225.5px,#3e28ff 229.5px,#3d27ff 233.5px,#3b25ff 237.5px,#371eff 241.5px,#2e0dff 249.5px,#2600ee 257.5px,#2000b0 265.5px,#1a0075 273.5px,#14004d 281.5px,#0f0031 289.5px,#0b001f 297.5px,#080017 305.5px,#060012 313.5px,#05000d 321.5px,#04000a 329.5px,#030007 337.5px,#020005 345.5px,#010004 353.5px,#010002 361.5px,#010002 363px)"></div>
<div style="height:2px;background:linear-gradient(90deg,#000000 0px,#000000 33.5px,#000001 41.5px,#020005 49.5px,#04000b 57.5px,#070013 65.5px,#0a001c 73.5px,#0f0033 81.5px,#160059 89.5px,#1d0092 97.5px,#2400d7 105.5px,#2c08ff 113.5px,#351bff 121.5px,#3a24ff 125.5px,#3c26ff 129.5px,#3e28ff 133.5px,#402aff 137.5px,#422cff 141.5px,#462cfe 145.5px,#4a2bfe 149.5px,#4d2bfd 153.5px,#502bfd 157.5px,#512bfd 159.5px,#522afd 161.5px,#532afc 163.5px,#542afc 165.5px,#552afc 167.5px,#562afc 169.5px,#5929fc 171.5px,#5b29fc 172.5px,#5c28fc 173.5px,#5f28fc 174.5px,#6226fc 175.5px,#6723fc 176.5px,#6e1ffc 177.5px,#741cfc 178px,#8013fd 178.5px,#9108fe 179px,#9c00d9 179.5px,#a8005c 180px,#b60a00 180.5px,#c31400 181px,#c81900 181.5px,#c31400 182px,#b60a00 182.5px,#a8005c 183px,#9c00d9 183.5px,#9108fe 184px,#8013fd 184.5px,#741cfc 185px,#6e1ffc 185.5px,#6723fc 186.5px,#6226fc 187.5px,#5f28fc 188.5px,#5c28fc 189.5px,#5b29fc 190.5px,#5929fc 191.5px,#562afc 193.5px,#552afc 195.5px,#542afc 197.5px,#532afc 199.5px,#522afd 201.5px,#512bfd 203.5px,#502bfd 205.5px,#4d2bfd 209.5px,#4a2bfe 213.5px,#462cfe 217.5px,#422cff 221.5px,#402aff 225.5px,#3e28ff 229.5px,#3c26ff 233.5px,#3a24ff 237.5px,#351bff 241.5px,#2c08ff 249.5px,#2400d7 257.5px,#1d0092 265.5px,#160059 273.5px,#0f0033 281.5px,#0a001c 289.5px,#070013 297.5px,#04000b 305.5px,#020005 313.5px,#000001 321.5px,#000000 329.5px,#000000 363px)"></div>
<div style="height:2px;background:linear-gradient(90deg,#000000 0px,#000000 57.5px,#020006 65.5px,#060010 73.5px,#0a001d 81.5px,#11003e 89.5px,#1a0073 97.5px,#2100bf 105.5px,#2a04ff 113.5px,#3418ff 121.5px,#3821ff 125.5px,#3b25ff 129.5px,#3d27ff 133.5px,#3f29ff 137.5px,#412bff 141.5px,#442cff 145.5px,#482bfe 149.5px,#4c2bfe 153.5px,#4e2bfd 157.5px,#4f2bfd 159.5px,#502bfd 161.5px,#522afd 163.5px,#532afd 165.5px,#542afc 167.5px,#552afc 169.5px,#562afc 171.5px,#572afc 172.5px,#5829fc 173.5px,#5a29fc 174.5px,#5d28fc 175.5px,#6126fc 176.5px,#6922fc 177.5px,#6f1ffc 178px,#7819fc 178.5px,#8a0dfe 179px,#9a00ed 179.5px,#a60070 180px,#b50900 180.5px,#c21300 181px,#c81800 181.5px,#c21300 182px,#b50900 182.5px,#a60070 183px,#9a00ed 183.5px,#8a0dfe 184px,#7819fc 184.5px,#6f1ffc 185px,#6922fc 185.5px,#6126fc 186.5px,#5d28fc 187.5px,#5a29fc 188.5px,#5829fc 189.5px,#572afc 190.5px,#562afc 191.5px,#552afc 193.5px,#542afc 195.5px,#532afd 197.5px,#522afd 199.5px,#502bfd 201.5px,#4f2bfd 203.5px,#4e2bfd 205.5px,#4c2bfe 209.5px,#482bfe 213.5px,#442cff 217.5px,#412bff 221.5px,#3f29ff 225.5px,#3d27ff 229.5px,#3b25ff 233.5px,#3821ff 237.5px,#3418ff 241.5px,#2a04ff 249.5px,#2100bf 257.5px,#1a0073 265.5px,#11003e 273.5px,#0a001d 281.5px,#060010 289.5px,#020006 297.5px,#000000 305.5px,#000000 363px)"></div>
<div style="height:2px;background:linear-gradient(90deg,#000000 0px,#000000 65.5px,#010003 73.5px,#060011 81.5px,#0c0023 89.5px,#160057 97.5px,#1e00a4 105.5px,#2700fa 113.5px,#3214ff 121.5px,#371eff 125.5px,#3b25ff 129.5px,#3d27ff 133.5px,#3f29ff 137.5px,#412bff 141.5px,#432cff 145.5px,#472cfe 149.5px,#4a2bfe 153.5px,#4d2bfd 157.5px,#4e2bfd 159.5px,#4f2bfd 161.5px,#502bfd 163.5px,#512bfd 165.5px,#522afd 167.5px,#532afc 169.5px,#542afc 171.5px,#552afc 172.5px,#552afc 173.5px,#562afc 174.5px,#5929fc 175.5px,#5c28fc 176.5px,#6425fc 177.5px,#6922fc 178px,#711dfc 178.5px,#8212fd 179px,#9703f5 179.5px,#a40084 180px,#b40800 180.5px,#c21300 181px,#c81800 181.5px,#c21300 182px,#b40800 182.5px,#a40084 183px,#9703f5 183.5px,#8212fd 184px,#711dfc 184.5px,#6922fc 185px,#6425fc 185.5px,#5c28fc 186.5px,#5929fc 187.5px,#562afc 188.5px,#552afc 189.5px,#552afc 190.5px,#542afc 191.5px,#532afc 193.5px,#522afd 195.5px,#512bfd 197.5px,#502bfd 199.5px,#4f2bfd 201.5px,#4e2bfd 203.5px,#4d2bfd 205.5px,#4a2bfe 209.5px,#472cfe 213.5px,#432cff 217.5px,#412bff 221.5px,#3f29ff 225.5px,#3d27ff 229.5px,#3b25ff 233.5px,#371eff 237.5px,#3214ff 241.5px,#2700fa 249.5px,#1e00a4 257.5px,#160057 265.5px,#0c0023 273.5px,#060011 281.5px,#010003 289.5px,#000000 297.5px,#000000 363px)"></div>
<div style="height:2px;background:linear-gradient(90deg,#000000 0px,#000000 73.5px,#010003 81.5px,#080016 89.5px,#11003c 97.5px,#1b0086 105.5px,#2500e3 113.5px,#3010ff 121.5px,#351aff 125.5px,#3a24ff 129.5px,#3c26ff 133.5px,#3e28ff 137.5px,#402aff 141.5px,#422cff 145.5px,#462cfe 149.5px,#492bfe 153.5px,#4c2bfe 157.5px,#4d2bfd 159.5px,#4e2bfd 161.5px,#4f2bfd 163.5px,#4f2bfd 165.5px,#502bfd 167.5px,#512afd 169.5px,#522afd 171.5px,#532afc 172.5px,#542afc 173.5px,#542afc 174.5px,#552afc 175.5px,#5829fc 176.5px,#5e28fc 177.5px,#6425fc 178px,#6c20fc 178.5px,#7a18fd 179px,#9306fb 179.5px,#a2009a 180px,#b40802 180.5px,#c11300 181px,#c81800 181.5px,#c11300 182px,#b40802 182.5px,#a2009a 183px,#9306fb 183.5px,#7a18fd 184px,#6c20fc 184.5px,#6425fc 185px,#5e28fc 185.5px,#5829fc 186.5px,#552afc 187.5px,#542afc 188.5px,#542afc 189.5px,#532afc 190.5px,#522afd 191.5px,#512afd 193.5px,#502bfd 195.5px,#4f2bfd 197.5px,#4f2bfd 199.5px,#4e2bfd 201.5px,#4d2bfd 203.5px,#4c2bfe 205.5px,#492bfe 209.5px,#462cfe 213.5px,#422cff 217.5px,#402aff 221.5px,#3e28ff 225.5px,#3c26ff 229.5px,#3a24ff 233.5px,#351aff 237.5px,#3010ff 241.5px,#2500e3 249.5px,#1b0086 257.5px,#11003c 265.5px,#080016 273.5px,#010003 281.5px,#000000 289.5px,#000000 363px)"></div>
<div style="height:2px;background:linear-gradient(90deg,#000000 0px,#000000 81.5px,#030008 89.5px,#0c0021 97.5px,#180067 105.5px,#2300cc 113.5px,#2e0cff 121.5px,#3417ff 125.5px,#3922ff 129.5px,#3c26ff 133.5px,#3e28ff 137.5px,#402aff 141.5px,#412bff 145.5px,#442cff 149.5px,#482bfe 153.5px,#4a2bfe 157.5px,#4b2bfe 159.5px,#4c2bfd 161.5px,#4d2bfd 163.5px,#4e2bfd 165.5px,#4f2bfd 167.5px,#502bfd 169.5px,#512bfd 171.5px,#512afd 172.5px,#522afd 173.5px,#532afd 174.5px,#542afc 175.5px,#552afc 176.5px,#5a29fc 177.5px,#5e28fc 178px,#6723fc 178.5px,#731dfc 179px,#8e0aff 179.5px,#9f00b0 180px,#b30707 180.5px,#c11200 181px,#c71700 181.5px,#c11200 182px,#b30707 182.5px,#9f00b0 183px,#8e0aff 183.5px,#731dfc 184px,#6723fc 184.5px,#5e28fc 185px,#5a29fc 185.5px,#552afc 186.5px,#542afc 187.5px,#532afd 188.5px,#522afd 189.5px,#512afd 190.5px,#512bfd 191.5px,#502bfd 193.5px,#4f2bfd 195.5px,#4e2bfd 197.5px,#4d2bfd 199.5px,#4c2bfd 201.5px,#4b2bfe 203.5px,#4a2bfe 205.5px,#482bfe 209.5px,#442cff 213.5px,#412bff 217.5px,#402aff 221.5px,#3e28ff 225.5px,#3c26ff 229.5px,#3922ff 233.5px,#3417ff 237.5px,#2e0cff 241.5px,#2300cc 249.5px,#180067 257.5px,#0c0021 265.5px,#030008 273.5px,#000000 281.5px,#000000 363px)"></div>
<div style="height:2px;background:linear-gradient(90deg,#000000 0px,#000000 89.5px,#070014 97.5px,#14004c 105.5px,#2000b5 113.5px,#2c07ff 121.5px,#3214ff 125.5px,#371fff 129.5px,#3b25ff 133.5px,#3d27ff 137.5px,#3f29ff 141.5px,#412bff 145.5px,#432cff 149.5px,#462cfe 153.5px,#492bfe 157.5px,#4a2bfe 159.5px,#4b2bfe 161.5px,#4c2bfe 163.5px,#4d2bfd 165.5px,#4d2bfd 167.5px,#4e2bfd 169.5px,#4f2bfd 171.5px,#4f2bfd 172.5px,#502bfd 173.5px,#512bfd 174.5px,#522afd 175.5px,#532afc 176.5px,#562afc 177.5px,#5a29fc 178px,#6126fc 178.5px,#6d20fc 179px,#860ffe 179.5px,#9e00c6 180px,#b2060c 180.5px,#c01200 181px,#c71700 181.5px,#c01200 182px,#b2060c 182.5px,#9e00c6 183px,#860ffe 183.5px,#6d20fc 184px,#6126fc 184.5px,#5a29fc 185px,#562afc 185.5px,#532afc 186.5px,#522afd 187.5px,#512bfd 188.5px,#502bfd 189.5px,#4f2bfd 190.5px,#4f2bfd 191.5px,#4e2bfd 193.5px,#4d2bfd 195.5px,#4d2bfd 197.5px,#4c2bfe 199.5px,#4b2bfe 201.5px,#4a2bfe 203.5px,#492bfe 205.5px,#462cfe 209.5px,#432cff 213.5px,#412bff 217.5px,#3f29ff 221.5px,#3d27ff 225.5px,#3b25ff 229.5px,#371fff 233.5px,#3214ff 237.5px,#2c07ff 241.5px,#2000b5 249.5px,#14004c 257.5px,#070014 265.5px,#000000 273.5px,#000000 363px)"></div>
<div style="height:2px;background:linear-gradient(90deg,#000000 0px,#000000 89.5px,#020007 97.5px,#0f0032 105.5px,#1d0099 113.5px,#2903ff 121.5px,#3010ff 125.5px,#361cff 129.5px,#3b25ff 133.5px,#3d27ff 137.5px,#3f29ff 141.5px,#402aff 145.5px,#422cff 149.5px,#452cff 153.5px,#482bfe 157.5px,#492bfe 159.5px,#4a2bfe 161.5px,#4a2bfe 163.5px,#4b2bfe 165.5px,#4c2bfe 167.5px,#4d2bfd 169.5px,#4d2bfd 171.5px,#4e2bfd 172.5px,#4e2bfd 173.5px,#4f2bfd 174.5px,#502bfd 175.5px,#522afd 176.5px,#542afc 177.5px,#562afc 178px,#5c28fc 178.5px,#6823fc 179px,#7d16fd 179.5px,#9c00de 180px,#b00412 180.5px,#c01100 181px,#c71700 181.5px,#c01100 182px,#b00412 182.5px,#9c00de 183px,#7d16fd 183.5px,#6823fc 184px,#5c28fc 184.5px,#562afc 185px,#542afc 185.5px,#522afd 186.5px,#502bfd 187.5px,#4f2bfd 188.5px,#4e2bfd 189.5px,#4e2bfd 190.5px,#4d2bfd 191.5px,#4d2bfd 193.5px,#4c2bfe 195.5px,#4b2bfe 197.5px,#4a2bfe 199.5px,#4a2bfe 201.5px,#492bfe 203.5px,#482bfe 205.5px,#452cff 209.5px,#422cff 213.5px,#402aff 217.5px,#3f29ff 221.5px,#3d27ff 225.5px,#3b25ff 229.5px,#361cff 233.5px,#3010ff 237.5px,#2903ff 241.5px,#1d0099 249.5px,#0f0032 257.5px,#020007 265.5px,#000000 273.5px,#000000 363px)"></div>
<div style="height:2px;background:linear-gradient(90deg,#000000 0px,#000000 97.5px,#0a001d 105.5px,#1a007c 113.5px,#2700f9 121.5px,#2e0cff 125.5px,#3419ff 129.5px,#3a24ff 133.5px,#3c26ff 137.5px,#3e28ff 141.5px,#402aff 145.5px,#422cff 149.5px,#442cff 153.5px,#472cfe 157.5px,#472bfe 159.5px,#482bfe 161.5px,#492bfe 163.5px,#4a2bfe 165.5px,#4a2bfe 167.5px,#4b2bfe 169.5px,#4c2bfe 171.5px,#4c2bfd 172.5px,#4d2bfd 173.5px,#4e2bfd 174.5px,#4f2bfd 175.5px,#502bfd 176.5px,#522afd 177.5px,#542afc 178px,#582afc 178.5px,#6226fc 179px,#741cfc 179.5px,#9901f2 180px,#ae0324 180.5px,#bf1100 181px,#c61600 181.5px,#bf1100 182px,#ae0324 182.5px,#9901f2 183px,#741cfc 183.5px,#6226fc 184px,#582afc 184.5px,#542afc 185px,#522afd 185.5px,#502bfd 186.5px,#4f2bfd 187.5px,#4e2bfd 188.5px,#4d2bfd 189.5px,#4c2bfd 190.5px,#4c2bfe 191.5px,#4b2bfe 193.5px,#4a2bfe 195.5px,#4a2bfe 197.5px,#492bfe 199.5px,#482bfe 201.5px,#472bfe 203.5px,#472cfe 205.5px,#442cff 209.5px,#422cff 213.5px,#402aff 217.5px,#3e28ff 221.5px,#3c26ff 225.5px,#3a24ff 229.5px,#3419ff 233.5px,#2e0cff 237.5px,#2700f9 241.5px,#1a007c 249.5px,#0a001d 257.5px,#000000 265.5px,#000000 363px)"></div>
<div style="height:2px;background:linear-gradient(90deg,#000000 0px,#000000 97.5px,#060010 105.5px,#170060 113.5px,#2500e5 121.5px,#2c08ff 125.5px,#3316ff 129.5px,#3921ff 133.5px,#3c26ff 137.5px,#3e28ff 141.5px,#402aff 145.5px,#412bff 149.5px,#432cff 153.5px,#452cfe 157.5px,#462cfe 159.5px,#472bfe 161.5px,#482bfe 163.5px,#482bfe 165.5px,#492bfe 167.5px,#4a2bfe 169.5px,#4a2bfe 171.5px,#4b2bfe 172.5px,#4b2bfe 173.5px,#4c2bfe 174.5px,#4d2bfd 175.5px,#4e2bfd 176.5px,#502bfd 177.5px,#522afd 178px,#552afc 178.5px,#5c29fc 179px,#6d20fc 179.5px,#9305fa 180px,#ab023d 180.5px,#be1000 181px,#c61600 181.5px,#be1000 182px,#ab023d 182.5px,#9305fa 183px,#6d20fc 183.5px,#5c29fc 184px,#552afc 184.5px,#522afd 185px,#502bfd 185.5px,#4e2bfd 186.5px,#4d2bfd 187.5px,#4c2bfe 188.5px,#4b2bfe 189.5px,#4b2bfe 190.5px,#4a2bfe 191.5px,#4a2bfe 193.5px,#492bfe 195.5px,#482bfe 197.5px,#482bfe 199.5px,#472bfe 201.5px,#462cfe 203.5px,#452cfe 205.5px,#432cff 209.5px,#412bff 213.5px,#402aff 217.5px,#3e28ff 221.5px,#3c26ff 225.5px,#3921ff 229.5px,#3316ff 233.5px,#2c08ff 237.5px,#2500e5 241.5px,#170060 249.5px,#060010 257.5px,#000000 265.5px,#000000 363px)"></div>
<div style="height:2px;background:linear-gradient(90deg,#000000 0px,#000000 97.5px,#010003 105.5px,#130047 113.5px,#2300d1 121.5px,#2a04ff 125.5px,#3113ff 129.5px,#371fff 133.5px,#3b25ff 137.5px,#3d27ff 141.5px,#3f29ff 145.5px,#412bff 149.5px,#422cff 153.5px,#442cff 157.5px,#452cff 159.5px,#462cfe 161.5px,#472cfe 163.5px,#472bfe 165.5px,#482bfe 167.5px,#482bfe 169.5px,#492bfe 171.5px,#492bfe 172.5px,#4a2bfe 173.5px,#4a2bfe 174.5px,#4b2bfe 175.5px,#4c2bfd 176.5px,#4f2bfd 177.5px,#502bfd 178px,#532afc 178.5px,#572afc 179px,#6624fc 179.5px,#8a0cfe 180px,#a8005b 180.5px,#bd0f00 181px,#c51600 181.5px,#bd0f00 182px,#a8005b 182.5px,#8a0cfe 183px,#6624fc 183.5px,#572afc 184px,#532afc 184.5px,#502bfd 185px,#4f2bfd 185.5px,#4c2bfd 186.5px,#4b2bfe 187.5px,#4a2bfe 188.5px,#4a2bfe 189.5px,#492bfe 190.5px,#492bfe 191.5px,#482bfe 193.5px,#482bfe 195.5px,#472bfe 197.5px,#472cfe 199.5px,#462cfe 201.5px,#452cff 203.5px,#442cff 205.5px,#422cff 209.5px,#412bff 213.5px,#3f29ff 217.5px,#3d27ff 221.5px,#3b25ff 225.5px,#371fff 229.5px,#3113ff 233.5px,#2a04ff 237.5px,#2300d1 241.5px,#130047 249.5px,#010003 257.5px,#000000 265.5px,#000000 363px)"></div>
<div style="height:2px;background:linear-gradient(90deg,#000000 0px,#000000 105.5px,#0e002e 113.5px,#2100bd 121.5px,#2801ff 125.5px,#3010ff 129.5px,#361cff 133.5px,#3b25ff 137.5px,#3d27ff 141.5px,#3f29ff 145.5px,#402aff 149.5px,#422cff 153.5px,#432cff 157.5px,#442cff 159.5px,#452cff 161.5px,#462cfe 163.5px,#462cfe 165.5px,#472cfe 167.5px,#472bfe 169.5px,#482bfe 171.5px,#482bfe 173.5px,#492bfe 174.5px,#4a2bfe 175.5px,#4b2bfe 176.5px,#4d2bfd 177.5px,#4e2bfd 178px,#512bfd 178.5px,#542afc 179px,#5e28fc 179.5px,#7d16fd 180px,#a40086 180.5px,#bc0e00 181px,#c41500 181.5px,#bc0e00 182px,#a40086 182.5px,#7d16fd 183px,#5e28fc 183.5px,#542afc 184px,#512bfd 184.5px,#4e2bfd 185px,#4d2bfd 185.5px,#4b2bfe 186.5px,#4a2bfe 187.5px,#492bfe 188.5px,#482bfe 189.5px,#482bfe 191.5px,#472bfe 193.5px,#472cfe 195.5px,#462cfe 197.5px,#462cfe 199.5px,#452cff 201.5px,#442cff 203.5px,#432cff 205.5px,#422cff 209.5px,#402aff 213.5px,#3f29ff 217.5px,#3d27ff 221.5px,#3b25ff 225.5px,#361cff 229.5px,#3010ff 233.5px,#2801ff 237.5px,#2100bd 241.5px,#0e002e 249.5px,#000000 257.5px,#000000 363px)"></div>
<div style="height:2px;background:linear-gradient(90deg,#000000 0px,#000000 105.5px,#0a001c 113.5px,#1f00a7 121.5px,#2600f0 125.5px,#2e0cff 129.5px,#351aff 133.5px,#3a24ff 137.5px,#3d27ff 141.5px,#3e28ff 145.5px,#402aff 149.5px,#412bff 153.5px,#422cff 157.5px,#432cff 159.5px,#442cff 161.5px,#452cff 163.5px,#452cff 165.5px,#462cfe 167.5px,#462cfe 171.5px,#472cfe 172.5px,#472cfe 173.5px,#472bfe 174.5px,#482bfe 175.5px,#492bfe 176.5px,#4b2bfe 177.5px,#4c2bfd 178px,#4e2bfd 178.5px,#512afd 179px,#562afc 179.5px,#6e1ffc 180px,#9e00bc 180.5px,#ba0d00 181px,#c31400 181.5px,#ba0d00 182px,#9e00bc 182.5px,#6e1ffc 183px,#562afc 183.5px,#512afd 184px,#4e2bfd 184.5px,#4c2bfd 185px,#4b2bfe 185.5px,#492bfe 186.5px,#482bfe 187.5px,#472bfe 188.5px,#472cfe 189.5px,#472cfe 190.5px,#462cfe 191.5px,#462cfe 195.5px,#452cff 197.5px,#452cff 199.5px,#442cff 201.5px,#432cff 203.5px,#422cff 205.5px,#412bff 209.5px,#402aff 213.5px,#3e28ff 217.5px,#3d27ff 221.5px,#3a24ff 225.5px,#351aff 229.5px,#2e0cff 233.5px,#2600f0 237.5px,#1f00a7 241.5px,#0a001c 249.5px,#000000 257.5px,#000000 363px)"></div>
<div style="height:2px;background:linear-gradient(90deg,#000000 0px,#000000 105.5px,#060011 113.5px,#1c0090 121.5px,#2500e0 125.5px,#2d09ff 129.5px,#3418ff 133.5px,#3a24ff 137.5px,#3c26ff 141.5px,#3e28ff 145.5px,#402aff 149.5px,#412bff 153.5px,#422cff 157.5px,#422cff 159.5px,#432cff 161.5px,#442cff 163.5px,#442cff 165.5px,#452cff 167.5px,#452cff 171.5px,#452cfe 172.5px,#462cfe 173.5px,#462cfe 174.5px,#472cfe 175.5px,#472bfe 176.5px,#492bfe 177.5px,#4a2bfe 178px,#4c2bfe 178.5px,#4e2bfd 179px,#522afd 179.5px,#6027fc 180px,#9702f4 180.5px,#b70b00 181px,#c21300 181.5px,#b70b00 182px,#9702f4 182.5px,#6027fc 183px,#522afd 183.5px,#4e2bfd 184px,#4c2bfe 184.5px,#4a2bfe 185px,#492bfe 185.5px,#472bfe 186.5px,#472cfe 187.5px,#462cfe 188.5px,#462cfe 189.5px,#452cfe 190.5px,#452cff 191.5px,#452cff 195.5px,#442cff 197.5px,#442cff 199.5px,#432cff 201.5px,#422cff 203.5px,#422cff 205.5px,#412bff 209.5px,#402aff 213.5px,#3e28ff 217.5px,#3c26ff 221.5px,#3a24ff 225.5px,#3418ff 229.5px,#2d09ff 233.5px,#2500e0 237.5px,#1c0090 241.5px,#060011 249.5px,#000000 257.5px,#000000 363px)"></div>
<div style="height:2px;background:linear-gradient(90deg,#000000 0px,#000000 105.5px,#020005 113.5px,#1a0079 121.5px,#2300cf 125.5px,#2b06ff 129.5px,#3316ff 133.5px,#3922ff 137.5px,#3c26ff 141.5px,#3e28ff 145.5px,#3f29ff 149.5px,#412bff 153.5px,#422cff 157.5px,#422cff 161.5px,#432cff 163.5px,#432cff 165.5px,#442cff 167.5px,#442cff 173.5px,#452cff 174.5px,#452cff 175.5px,#462cfe 176.5px,#472cfe 177.5px,#472bfe 178px,#492bfe 178.5px,#4b2bfe 179px,#4e2bfd 179.5px,#542afc 180px,#7c16fd 180.5px,#b30703 181px,#bf1100 181.5px,#b30703 182px,#7c16fd 182.5px,#542afc 183px,#4e2bfd 183.5px,#4b2bfe 184px,#492bfe 184.5px,#472bfe 185px,#472cfe 185.5px,#462cfe 186.5px,#452cff 187.5px,#452cff 188.5px,#442cff 189.5px,#442cff 195.5px,#432cff 197.5px,#432cff 199.5px,#422cff 201.5px,#422cff 205.5px,#412bff 209.5px,#3f29ff 213.5px,#3e28ff 217.5px,#3c26ff 221.5px,#3922ff 225.5px,#3316ff 229.5px,#2b06ff 233.5px,#2300cf 237.5px,#1a0079 241.5px,#020005 249.5px,#000000 257.5px,#000000 363px)"></div>
<div style="height:1px;background:linear-gradient(90deg,#000000 0px,#000000 113.5px,#180068 121.5px,#2200c4 125.5px,#2a04ff 129.5px,#3214ff 133.5px,#3821ff 137.5px,#3c26ff 141.5px,#3e28ff 145.5px,#3f29ff 149.5px,#402aff 153.5px,#412bff 157.5px,#422cff 159.5px,#422cff 163.5px,#432cff 165.5px,#432cff 171.5px,#442cff 172.5px,#442cff 176.5px,#452cff 177.5px,#462cfe 178px,#462cfe 178.5px,#482bfe 179px,#4a2bfe 179.5px,#4f2bfd 180px,#6126fc 180.5px,#ae0328 181px,#bc0e00 181.5px,#ae0328 182px,#6126fc 182.5px,#4f2bfd 183px,#4a2bfe 183.5px,#482bfe 184px,#462cfe 184.5px,#462cfe 185px,#452cff 185.5px,#442cff 186.5px,#442cff 190.5px,#432cff 191.5px,#432cff 197.5px,#422cff 199.5px,#422cff 203.5px,#412bff 205.5px,#402aff 209.5px,#3f29ff 213.5px,#3e28ff 217.5px,#3c26ff 221.5px,#3821ff 225.5px,#3214ff 229.5px,#2a04ff 233.5px,#2200c4 237.5px,#180068 241.5px,#000000 249.5px,#000000 363px)"></div>
</div>
<svg width="415" height="514" viewBox="0 0 415 514" style="position:absolute;left:0;top:0">
<defs><clipPath id="ca"><rect x="48.5" y="3.8" width="172.5" height="159.0"/></clipPath><clipPath id="cb"><rect x="236.5" y="3.8" width="171.8" height="159.0"/></clipPath></defs>
<g clip-path="url(#ca)">
<path d="M48.50 158.64 L48.72 158.64 L48.93 158.63 L49.15 158.62 L49.36 158.62 L49.58 158.61 L49.79 158.61 L50.01 158.60 L50.23 158.59 L50.44 158.59 L50.66 158.58 L50.87 158.57 L51.09 158.56 L51.30 158.56 L51.52 158.55 L51.73 158.54 L51.95 158.54 L52.17 158.53 L52.38 158.52 L52.60 158.51 L52.81 158.51 L53.03 158.50 L53.24 158.49 L53.46 158.48 L53.68 158.47 L53.89 158.47 L54.11 158.46 L54.32 158.45 L54.54 158.44 L54.75 158.43 L54.97 158.42 L55.18 158.41 L55.40 158.40 L55.62 158.40 L55.83 158.39 L56.05 158.38 L56.26 158.37 L56.48 158.36 L56.69 158.35 L56.91 158.34 L57.12 158.33 L57.34 158.32 L57.56 158.31 L57.77 158.30 L57.99 158.29 L58.20 158.28 L58.42 158.27 L58.63 158.26 L58.85 158.25 L59.07 158.23 L59.28 158.22 L59.50 158.21 L59.71 158.20 L59.93 158.19 L60.14 158.18 L60.36 158.17 L60.58 158.15 L60.79 158.14 L61.01 158.13 L61.22 158.12 L61.44 158.10 L61.65 158.09 L61.87 158.08 L62.08 158.06 L62.30 158.05 L62.52 158.04 L62.73 158.02 L62.95 158.01 L63.16 157.99 L63.38 157.98 L63.59 157.97 L63.81 157.95 L64.02 157.94 L64.24 157.92 L64.46 157.91 L64.67 157.89 L64.89 157.87 L65.10 157.86 L65.32 157.84 L65.53 157.83 L65.75 157.81 L65.97 157.79 L66.18 157.78 L66.40 157.76 L66.61 157.74 L66.83 157.72 L67.04 157.70 L67.26 157.69 L67.47 157.67 L67.69 157.65 L67.91 157.63 L68.12 157.61 L68.34 157.59 L68.55 157.57 L68.77 157.55 L68.98 157.53 L69.20 157.51 L69.42 157.49 L69.63 157.47 L69.85 157.44 L70.06 157.42 L70.28 157.40 L70.49 157.38 L70.71 157.35 L70.92 157.33 L71.14 157.31 L71.36 157.28 L71.57 157.26 L71.79 157.23 L72.00 157.21 L72.22 157.18 L72.43 157.16 L72.65 157.13 L72.87 157.10 L73.08 157.08 L73.30 157.05 L73.51 157.02 L73.73 156.99 L73.94 156.96 L74.16 156.93 L74.38 156.90 L74.59 156.87 L74.81 156.84 L75.02 156.81 L75.24 156.78 L75.45 156.75 L75.67 156.72 L75.88 156.68 L76.10 156.65 L76.32 156.61 L76.53 156.58 L76.75 156.55 L76.96 156.51 L77.18 156.47 L77.39 156.44 L77.61 156.40 L77.83 156.36 L78.04 156.32 L78.26 156.28 L78.47 156.24 L78.69 156.20 L78.90 156.16 L79.12 156.12 L79.33 156.08 L79.55 156.03 L79.77 155.99 L79.98 155.94 L80.20 155.90 L80.41 155.85 L80.63 155.81 L80.84 155.76 L81.06 155.71 L81.28 155.66 L81.49 155.61 L81.71 155.56 L81.92 155.51 L82.14 155.46 L82.35 155.40 L82.57 155.35 L82.78 155.29 L83.00 155.24 L83.22 155.18 L83.43 155.12 L83.65 155.06 L83.86 155.00 L84.08 154.94 L84.29 154.88 L84.51 154.82 L84.72 154.75 L84.94 154.69 L85.16 154.62 L85.37 154.55 L85.59 154.48 L85.80 154.41 L86.02 154.34 L86.23 154.27 L86.45 154.20 L86.67 154.12 L86.88 154.04 L87.10 153.97 L87.31 153.89 L87.53 153.81 L87.74 153.72 L87.96 153.64 L88.17 153.56 L88.39 153.47 L88.61 153.38 L88.82 153.29 L89.04 153.20 L89.25 153.11 L89.47 153.01 L89.68 152.92 L89.90 152.82 L90.12 152.72 L90.33 152.62 L90.55 152.51 L90.76 152.41 L90.98 152.30 L91.19 152.19 L91.41 152.08 L91.62 151.97 L91.84 151.85 L92.06 151.73 L92.27 151.61 L92.49 151.49 L92.70 151.37 L92.92 151.24 L93.13 151.11 L93.35 150.98 L93.57 150.84 L93.78 150.71 L94.00 150.57 L94.21 150.43 L94.43 150.28 L94.64 150.13 L94.86 149.98 L95.08 149.83 L95.29 149.68 L95.51 149.52 L95.72 149.35 L95.94 149.19 L96.15 149.02 L96.37 148.85 L96.58 148.67 L96.80 148.50 L97.02 148.31 L97.23 148.13 L97.45 147.94 L97.66 147.75 L97.88 147.55 L98.09 147.35 L98.31 147.14 L98.53 146.94 L98.74 146.72 L98.96 146.51 L99.17 146.28 L99.39 146.06 L99.60 145.83 L99.82 145.59 L100.03 145.36 L100.25 145.11 L100.47 144.86 L100.68 144.61 L100.90 144.35 L101.11 144.08 L101.33 143.82 L101.54 143.54 L101.76 143.26 L101.97 142.97 L102.19 142.68 L102.41 142.38 L102.62 142.08 L102.84 141.77 L103.05 141.45 L103.27 141.13 L103.48 140.80 L103.70 140.47 L103.92 140.12 L104.13 139.77 L104.35 139.42 L104.56 139.05 L104.78 138.68 L104.99 138.30 L105.21 137.92 L105.43 137.52 L105.64 137.12 L105.86 136.71 L106.07 136.29 L106.29 135.86 L106.50 135.42 L106.72 134.98 L106.93 134.53 L107.15 134.06 L107.37 133.59 L107.58 133.11 L107.80 132.62 L108.01 132.11 L108.23 131.60 L108.44 131.08 L108.66 130.55 L108.88 130.01 L109.09 129.45 L109.31 128.89 L109.52 128.31 L109.74 127.72 L109.95 127.12 L110.17 126.51 L110.38 125.89 L110.60 125.25 L110.82 124.61 L111.03 123.95 L111.25 123.27 L111.46 122.59 L111.68 121.89 L111.89 121.18 L112.11 120.45 L112.32 119.71 L112.54 118.96 L112.76 118.19 L112.97 117.40 L113.19 116.61 L113.40 115.80 L113.62 114.97 L113.83 114.13 L114.05 113.27 L114.27 112.40 L114.48 111.51 L114.70 110.61 L114.91 109.69 L115.13 108.76 L115.34 107.81 L115.56 106.84 L115.78 105.86 L115.99 104.86 L116.21 103.84 L116.42 102.81 L116.64 101.76 L116.85 100.69 L117.07 99.61 L117.28 98.51 L117.50 97.40 L117.72 96.27 L117.93 95.12 L118.15 93.96 L118.36 92.78 L118.58 91.58 L118.79 90.37 L119.01 89.14 L119.22 87.89 L119.44 86.63 L119.66 85.36 L119.87 84.07 L120.09 82.76 L120.30 81.44 L120.52 80.11 L120.73 78.76 L120.95 77.40 L121.17 76.02 L121.38 74.64 L121.60 73.24 L121.81 71.83 L122.03 70.41 L122.24 68.98 L122.46 67.54 L122.67 66.09 L122.89 64.63 L123.11 63.17 L123.32 61.70 L123.54 60.22 L123.75 58.74 L123.97 57.26 L124.18 55.77 L124.40 54.28 L124.62 52.79 L124.83 51.31 L125.05 49.82 L125.26 48.33 L125.48 46.85 L125.69 45.38 L125.91 43.91 L126.12 42.45 L126.34 41.00 L126.56 39.56 L126.77 38.13 L126.99 36.71 L127.20 35.31 L127.42 33.93 L127.63 32.56 L127.85 31.21 L128.07 29.88 L128.28 28.58 L128.50 27.30 L128.71 26.04 L128.93 24.82 L129.14 23.62 L129.36 22.45 L129.57 21.31 L129.79 20.21 L130.01 19.14 L130.22 18.10 L130.44 17.10 L130.65 16.15 L130.87 15.23 L131.08 14.35 L131.30 13.52 L131.52 12.73 L131.73 11.98 L131.95 11.29 L132.16 10.63 L132.38 10.03 L132.59 9.48 L132.81 8.98 L133.02 8.52 L133.24 8.12 L133.46 7.77 L133.67 7.48 L133.89 7.23 L134.10 7.04 L134.32 6.91 L134.53 6.83 L134.75 6.80 L134.97 6.83 L135.18 6.91 L135.40 7.04 L135.61 7.23 L135.83 7.48 L136.04 7.77 L136.26 8.12 L136.48 8.52 L136.69 8.98 L136.91 9.48 L137.12 10.03 L137.34 10.63 L137.55 11.29 L137.77 11.98 L137.98 12.73 L138.20 13.52 L138.42 14.35 L138.63 15.23 L138.85 16.15 L139.06 17.10 L139.28 18.10 L139.49 19.14 L139.71 20.21 L139.93 21.31 L140.14 22.45 L140.36 23.62 L140.57 24.82 L140.79 26.04 L141.00 27.30 L141.22 28.58 L141.43 29.88 L141.65 31.21 L141.87 32.56 L142.08 33.93 L142.30 35.31 L142.51 36.71 L142.73 38.13 L142.94 39.56 L143.16 41.00 L143.38 42.45 L143.59 43.91 L143.81 45.38 L144.02 46.85 L144.24 48.33 L144.45 49.82 L144.67 51.31 L144.88 52.79 L145.10 54.28 L145.32 55.77 L145.53 57.26 L145.75 58.74 L145.96 60.22 L146.18 61.70 L146.39 63.17 L146.61 64.63 L146.82 66.09 L147.04 67.54 L147.26 68.98 L147.47 70.41 L147.69 71.83 L147.90 73.24 L148.12 74.64 L148.33 76.02 L148.55 77.40 L148.77 78.76 L148.98 80.11 L149.20 81.44 L149.41 82.76 L149.63 84.07 L149.84 85.36 L150.06 86.63 L150.27 87.89 L150.49 89.14 L150.71 90.37 L150.92 91.58 L151.14 92.78 L151.35 93.96 L151.57 95.12 L151.78 96.27 L152.00 97.40 L152.22 98.51 L152.43 99.61 L152.65 100.69 L152.86 101.76 L153.08 102.81 L153.29 103.84 L153.51 104.86 L153.72 105.86 L153.94 106.84 L154.16 107.81 L154.37 108.76 L154.59 109.69 L154.80 110.61 L155.02 111.51 L155.23 112.40 L155.45 113.27 L155.67 114.13 L155.88 114.97 L156.10 115.80 L156.31 116.61 L156.53 117.40 L156.74 118.19 L156.96 118.96 L157.18 119.71 L157.39 120.45 L157.61 121.17 L157.82 121.89 L158.04 122.59 L158.25 123.27 L158.47 123.95 L158.68 124.61 L158.90 125.25 L159.12 125.89 L159.33 126.51 L159.55 127.12 L159.76 127.72 L159.98 128.31 L160.19 128.89 L160.41 129.45 L160.62 130.01 L160.84 130.55 L161.06 131.08 L161.27 131.60 L161.49 132.11 L161.70 132.62 L161.92 133.11 L162.13 133.59 L162.35 134.06 L162.57 134.53 L162.78 134.98 L163.00 135.42 L163.21 135.86 L163.43 136.29 L163.64 136.71 L163.86 137.12 L164.07 137.52 L164.29 137.92 L164.51 138.30 L164.72 138.68 L164.94 139.05 L165.15 139.42 L165.37 139.77 L165.58 140.12 L165.80 140.47 L166.02 140.80 L166.23 141.13 L166.45 141.45 L166.66 141.77 L166.88 142.08 L167.09 142.38 L167.31 142.68 L167.52 142.97 L167.74 143.26 L167.96 143.54 L168.17 143.82 L168.39 144.08 L168.60 144.35 L168.82 144.61 L169.03 144.86 L169.25 145.11 L169.47 145.36 L169.68 145.59 L169.90 145.83 L170.11 146.06 L170.33 146.28 L170.54 146.51 L170.76 146.72 L170.97 146.94 L171.19 147.14 L171.41 147.35 L171.62 147.55 L171.84 147.75 L172.05 147.94 L172.27 148.13 L172.48 148.31 L172.70 148.50 L172.92 148.67 L173.13 148.85 L173.35 149.02 L173.56 149.19 L173.78 149.35 L173.99 149.52 L174.21 149.68 L174.43 149.83 L174.64 149.98 L174.86 150.13 L175.07 150.28 L175.29 150.43 L175.50 150.57 L175.72 150.71 L175.93 150.84 L176.15 150.98 L176.37 151.11 L176.58 151.24 L176.80 151.37 L177.01 151.49 L177.23 151.61 L177.44 151.73 L177.66 151.85 L177.88 151.97 L178.09 152.08 L178.31 152.19 L178.52 152.30 L178.74 152.41 L178.95 152.51 L179.17 152.62 L179.38 152.72 L179.60 152.82 L179.82 152.92 L180.03 153.01 L180.25 153.11 L180.46 153.20 L180.68 153.29 L180.89 153.38 L181.11 153.47 L181.33 153.56 L181.54 153.64 L181.76 153.72 L181.97 153.81 L182.19 153.89 L182.40 153.97 L182.62 154.04 L182.83 154.12 L183.05 154.20 L183.27 154.27 L183.48 154.34 L183.70 154.41 L183.91 154.48 L184.13 154.55 L184.34 154.62 L184.56 154.69 L184.78 154.75 L184.99 154.82 L185.21 154.88 L185.42 154.94 L185.64 155.00 L185.85 155.06 L186.07 155.12 L186.28 155.18 L186.50 155.24 L186.72 155.29 L186.93 155.35 L187.15 155.40 L187.36 155.46 L187.58 155.51 L187.79 155.56 L188.01 155.61 L188.23 155.66 L188.44 155.71 L188.66 155.76 L188.87 155.81 L189.09 155.85 L189.30 155.90 L189.52 155.94 L189.73 155.99 L189.95 156.03 L190.17 156.08 L190.38 156.12 L190.60 156.16 L190.81 156.20 L191.03 156.24 L191.24 156.28 L191.46 156.32 L191.67 156.36 L191.89 156.40 L192.11 156.44 L192.32 156.47 L192.54 156.51 L192.75 156.55 L192.97 156.58 L193.18 156.61 L193.40 156.65 L193.62 156.68 L193.83 156.72 L194.05 156.75 L194.26 156.78 L194.48 156.81 L194.69 156.84 L194.91 156.87 L195.12 156.90 L195.34 156.93 L195.56 156.96 L195.77 156.99 L195.99 157.02 L196.20 157.05 L196.42 157.08 L196.63 157.10 L196.85 157.13 L197.07 157.16 L197.28 157.18 L197.50 157.21 L197.71 157.23 L197.93 157.26 L198.14 157.28 L198.36 157.31 L198.57 157.33 L198.79 157.35 L199.01 157.38 L199.22 157.40 L199.44 157.42 L199.65 157.44 L199.87 157.47 L200.08 157.49 L200.30 157.51 L200.52 157.53 L200.73 157.55 L200.95 157.57 L201.16 157.59 L201.38 157.61 L201.59 157.63 L201.81 157.65 L202.03 157.67 L202.24 157.69 L202.46 157.70 L202.67 157.72 L202.89 157.74 L203.10 157.76 L203.32 157.78 L203.53 157.79 L203.75 157.81 L203.97 157.83 L204.18 157.84 L204.40 157.86 L204.61 157.87 L204.83 157.89 L205.04 157.91 L205.26 157.92 L205.47 157.94 L205.69 157.95 L205.91 157.97 L206.12 157.98 L206.34 157.99 L206.55 158.01 L206.77 158.02 L206.98 158.04 L207.20 158.05 L207.42 158.06 L207.63 158.08 L207.85 158.09 L208.06 158.10 L208.28 158.12 L208.49 158.13 L208.71 158.14 L208.93 158.15 L209.14 158.17 L209.36 158.18 L209.57 158.19 L209.79 158.20 L210.00 158.21 L210.22 158.22 L210.43 158.23 L210.65 158.25 L210.87 158.26 L211.08 158.27 L211.30 158.28 L211.51 158.29 L211.73 158.30 L211.94 158.31 L212.16 158.32 L212.38 158.33 L212.59 158.34 L212.81 158.35 L213.02 158.36 L213.24 158.37 L213.45 158.38 L213.67 158.39 L213.88 158.40 L214.10 158.40 L214.32 158.41 L214.53 158.42 L214.75 158.43 L214.96 158.44 L215.18 158.45 L215.39 158.46 L215.61 158.47 L215.82 158.47 L216.04 158.48 L216.26 158.49 L216.47 158.50 L216.69 158.51 L216.90 158.51 L217.12 158.52 L217.33 158.53 L217.55 158.54 L217.77 158.54 L217.98 158.55 L218.20 158.56 L218.41 158.56 L218.63 158.57 L218.84 158.58 L219.06 158.59 L219.28 158.59 L219.49 158.60 L219.71 158.61 L219.92 158.61 L220.14 158.62 L220.35 158.62 L220.57 158.63 L220.78 158.64 L221.00 158.64" fill="none" stroke="#2f2fff" stroke-width="2.15"/>
</g>
<g fill="#ff1a1a">
<circle cx="49.60" cy="158.75" r="2.9"/>
<circle cx="59.72" cy="158.41" r="2.9"/>
<circle cx="69.83" cy="157.79" r="2.9"/>
<circle cx="79.89" cy="156.57" r="2.9"/>
<circle cx="89.67" cy="154.01" r="2.9"/>
<circle cx="98.40" cy="148.97" r="2.9"/>
<circle cx="104.95" cy="141.29" r="2.9"/>
<circle cx="109.47" cy="132.24" r="2.9"/>
<circle cx="112.76" cy="122.66" r="2.9"/>
<circle cx="115.32" cy="112.86" r="2.9"/>
<circle cx="117.43" cy="102.96" r="2.9"/>
<circle cx="119.25" cy="92.99" r="2.9"/>
<circle cx="120.88" cy="83.00" r="2.9"/>
<circle cx="122.38" cy="72.98" r="2.9"/>
<circle cx="123.80" cy="62.95" r="2.9"/>
<circle cx="125.17" cy="52.91" r="2.9"/>
<circle cx="126.55" cy="42.88" r="2.9"/>
<circle cx="127.99" cy="32.85" r="2.9"/>
<circle cx="129.59" cy="22.85" r="2.9"/>
<circle cx="131.65" cy="12.93" r="2.9"/>
<circle cx="136.59" cy="9.00" r="2.9"/>
<circle cx="139.16" cy="18.78" r="2.9"/>
<circle cx="140.88" cy="28.76" r="2.9"/>
<circle cx="142.37" cy="38.78" r="2.9"/>
<circle cx="143.77" cy="48.82" r="2.9"/>
<circle cx="145.14" cy="58.85" r="2.9"/>
<circle cx="146.54" cy="68.89" r="2.9"/>
<circle cx="148.00" cy="78.91" r="2.9"/>
<circle cx="149.56" cy="88.92" r="2.9"/>
<circle cx="151.30" cy="98.90" r="2.9"/>
<circle cx="153.28" cy="108.83" r="2.9"/>
<circle cx="155.63" cy="118.69" r="2.9"/>
<circle cx="158.57" cy="128.38" r="2.9"/>
<circle cx="162.51" cy="137.70" r="2.9"/>
<circle cx="168.14" cy="146.09" r="2.9"/>
<circle cx="176.07" cy="152.31" r="2.9"/>
<circle cx="185.56" cy="155.75" r="2.9"/>
<circle cx="195.55" cy="157.40" r="2.9"/>
<circle cx="205.65" cy="158.21" r="2.9"/>
<circle cx="215.77" cy="158.63" r="2.9"/>
</g>
<g clip-path="url(#cb)">
<path d="M236.50 158.83 L236.71 158.83 L236.93 158.82 L237.14 158.82 L237.36 158.81 L237.57 158.81 L237.79 158.80 L238.00 158.80 L238.22 158.79 L238.43 158.79 L238.65 158.78 L238.86 158.78 L239.08 158.77 L239.29 158.77 L239.51 158.76 L239.72 158.76 L239.94 158.75 L240.15 158.75 L240.37 158.74 L240.58 158.74 L240.80 158.73 L241.01 158.73 L241.22 158.72 L241.44 158.71 L241.65 158.71 L241.87 158.70 L242.08 158.70 L242.30 158.69 L242.51 158.68 L242.73 158.68 L242.94 158.67 L243.16 158.67 L243.37 158.66 L243.59 158.65 L243.80 158.65 L244.02 158.64 L244.23 158.63 L244.45 158.63 L244.66 158.62 L244.88 158.61 L245.09 158.60 L245.30 158.60 L245.52 158.59 L245.73 158.58 L245.95 158.57 L246.16 158.57 L246.38 158.56 L246.59 158.55 L246.81 158.54 L247.02 158.54 L247.24 158.53 L247.45 158.52 L247.67 158.51 L247.88 158.50 L248.10 158.49 L248.31 158.49 L248.53 158.48 L248.74 158.47 L248.96 158.46 L249.17 158.45 L249.38 158.44 L249.60 158.43 L249.81 158.42 L250.03 158.41 L250.24 158.40 L250.46 158.39 L250.67 158.38 L250.89 158.37 L251.10 158.36 L251.32 158.35 L251.53 158.34 L251.75 158.33 L251.96 158.32 L252.18 158.31 L252.39 158.30 L252.61 158.29 L252.82 158.27 L253.04 158.26 L253.25 158.25 L253.47 158.24 L253.68 158.23 L253.89 158.21 L254.11 158.20 L254.32 158.19 L254.54 158.18 L254.75 158.16 L254.97 158.15 L255.18 158.14 L255.40 158.12 L255.61 158.11 L255.83 158.10 L256.04 158.08 L256.26 158.07 L256.47 158.05 L256.69 158.04 L256.90 158.02 L257.12 158.01 L257.33 157.99 L257.55 157.98 L257.76 157.96 L257.98 157.94 L258.19 157.93 L258.40 157.91 L258.62 157.89 L258.83 157.88 L259.05 157.86 L259.26 157.84 L259.48 157.82 L259.69 157.81 L259.91 157.79 L260.12 157.77 L260.34 157.75 L260.55 157.73 L260.77 157.71 L260.98 157.69 L261.20 157.67 L261.41 157.65 L261.63 157.63 L261.84 157.61 L262.06 157.59 L262.27 157.56 L262.48 157.54 L262.70 157.52 L262.91 157.50 L263.13 157.47 L263.34 157.45 L263.56 157.43 L263.77 157.40 L263.99 157.38 L264.20 157.35 L264.42 157.33 L264.63 157.30 L264.85 157.27 L265.06 157.25 L265.28 157.22 L265.49 157.19 L265.71 157.16 L265.92 157.14 L266.14 157.11 L266.35 157.08 L266.56 157.05 L266.78 157.02 L266.99 156.99 L267.21 156.96 L267.42 156.92 L267.64 156.89 L267.85 156.86 L268.07 156.82 L268.28 156.79 L268.50 156.76 L268.71 156.72 L268.93 156.68 L269.14 156.65 L269.36 156.61 L269.57 156.57 L269.79 156.53 L270.00 156.50 L270.22 156.46 L270.43 156.42 L270.65 156.37 L270.86 156.33 L271.07 156.29 L271.29 156.25 L271.50 156.20 L271.72 156.16 L271.93 156.11 L272.15 156.07 L272.36 156.02 L272.58 155.97 L272.79 155.92 L273.01 155.87 L273.22 155.82 L273.44 155.77 L273.65 155.72 L273.87 155.66 L274.08 155.61 L274.30 155.55 L274.51 155.50 L274.73 155.44 L274.94 155.38 L275.15 155.32 L275.37 155.26 L275.58 155.20 L275.80 155.14 L276.01 155.07 L276.23 155.01 L276.44 154.94 L276.66 154.88 L276.87 154.81 L277.09 154.74 L277.30 154.67 L277.52 154.59 L277.73 154.52 L277.95 154.44 L278.16 154.37 L278.38 154.29 L278.59 154.21 L278.81 154.13 L279.02 154.04 L279.24 153.96 L279.45 153.87 L279.66 153.79 L279.88 153.70 L280.09 153.61 L280.31 153.51 L280.52 153.42 L280.74 153.32 L280.95 153.22 L281.17 153.12 L281.38 153.02 L281.60 152.92 L281.81 152.81 L282.03 152.70 L282.24 152.59 L282.46 152.48 L282.67 152.36 L282.89 152.25 L283.10 152.13 L283.32 152.00 L283.53 151.88 L283.75 151.75 L283.96 151.62 L284.17 151.49 L284.39 151.36 L284.60 151.22 L284.82 151.08 L285.03 150.94 L285.25 150.79 L285.46 150.64 L285.68 150.49 L285.89 150.33 L286.11 150.17 L286.32 150.01 L286.54 149.85 L286.75 149.68 L286.97 149.51 L287.18 149.33 L287.40 149.15 L287.61 148.97 L287.83 148.78 L288.04 148.59 L288.25 148.40 L288.47 148.20 L288.68 148.00 L288.90 147.79 L289.11 147.58 L289.33 147.36 L289.54 147.14 L289.76 146.92 L289.97 146.69 L290.19 146.45 L290.40 146.21 L290.62 145.97 L290.83 145.72 L291.05 145.46 L291.26 145.20 L291.48 144.93 L291.69 144.66 L291.91 144.38 L292.12 144.10 L292.34 143.81 L292.55 143.51 L292.76 143.21 L292.98 142.90 L293.19 142.58 L293.41 142.26 L293.62 141.93 L293.84 141.59 L294.05 141.25 L294.27 140.90 L294.48 140.54 L294.70 140.17 L294.91 139.79 L295.13 139.41 L295.34 139.02 L295.56 138.62 L295.77 138.21 L295.99 137.79 L296.20 137.37 L296.42 136.93 L296.63 136.49 L296.84 136.03 L297.06 135.57 L297.27 135.10 L297.49 134.61 L297.70 134.12 L297.92 133.61 L298.13 133.10 L298.35 132.57 L298.56 132.03 L298.78 131.48 L298.99 130.92 L299.21 130.35 L299.42 129.76 L299.64 129.17 L299.85 128.56 L300.07 127.94 L300.28 127.30 L300.50 126.65 L300.71 125.99 L300.93 125.32 L301.14 124.63 L301.35 123.93 L301.57 123.21 L301.78 122.48 L302.00 121.73 L302.21 120.97 L302.43 120.20 L302.64 119.41 L302.86 118.60 L303.07 117.78 L303.29 116.95 L303.50 116.09 L303.72 115.23 L303.93 114.34 L304.15 113.44 L304.36 112.52 L304.58 111.59 L304.79 110.64 L305.01 109.67 L305.22 108.69 L305.43 107.68 L305.65 106.67 L305.86 105.63 L306.08 104.58 L306.29 103.51 L306.51 102.42 L306.72 101.32 L306.94 100.20 L307.15 99.06 L307.37 97.91 L307.58 96.74 L307.80 95.55 L308.01 94.34 L308.23 93.12 L308.44 91.89 L308.66 90.63 L308.87 89.37 L309.09 88.08 L309.30 86.78 L309.51 85.47 L309.73 84.15 L309.94 82.80 L310.16 81.45 L310.37 80.08 L310.59 78.71 L310.80 77.32 L311.02 75.91 L311.23 74.50 L311.45 73.08 L311.66 71.65 L311.88 70.21 L312.09 68.76 L312.31 67.31 L312.52 65.85 L312.74 64.38 L312.95 62.91 L313.17 61.44 L313.38 59.96 L313.60 58.49 L313.81 57.01 L314.02 55.53 L314.24 54.05 L314.45 52.57 L314.67 51.10 L314.88 49.63 L315.10 48.16 L315.31 46.70 L315.53 45.25 L315.74 43.80 L315.96 42.35 L316.17 40.92 L316.39 39.49 L316.60 38.07 L316.82 36.66 L317.03 35.25 L317.25 33.85 L317.46 32.46 L317.68 31.08 L317.89 29.70 L318.11 28.33 L318.32 26.97 L318.53 25.60 L318.75 24.25 L318.96 22.89 L319.18 21.54 L319.39 20.19 L319.61 18.86 L319.82 17.52 L320.04 16.21 L320.25 14.92 L320.47 13.65 L320.68 12.44 L320.90 11.28 L321.11 10.21 L321.33 9.25 L321.54 8.41 L321.76 7.72 L321.97 7.22 L322.19 6.91 L322.40 6.80 L322.61 6.91 L322.83 7.22 L323.04 7.72 L323.26 8.41 L323.47 9.25 L323.69 10.21 L323.90 11.28 L324.12 12.44 L324.33 13.65 L324.55 14.92 L324.76 16.21 L324.98 17.52 L325.19 18.86 L325.41 20.19 L325.62 21.54 L325.84 22.89 L326.05 24.25 L326.27 25.60 L326.48 26.97 L326.69 28.33 L326.91 29.70 L327.12 31.08 L327.34 32.46 L327.55 33.85 L327.77 35.25 L327.98 36.66 L328.20 38.07 L328.41 39.49 L328.63 40.92 L328.84 42.35 L329.06 43.80 L329.27 45.25 L329.49 46.70 L329.70 48.16 L329.92 49.63 L330.13 51.10 L330.35 52.57 L330.56 54.05 L330.78 55.53 L330.99 57.01 L331.20 58.49 L331.42 59.96 L331.63 61.44 L331.85 62.91 L332.06 64.38 L332.28 65.85 L332.49 67.31 L332.71 68.76 L332.92 70.21 L333.14 71.65 L333.35 73.08 L333.57 74.50 L333.78 75.91 L334.00 77.32 L334.21 78.71 L334.43 80.08 L334.64 81.45 L334.86 82.80 L335.07 84.15 L335.28 85.47 L335.50 86.78 L335.71 88.08 L335.93 89.37 L336.14 90.63 L336.36 91.89 L336.57 93.12 L336.79 94.34 L337.00 95.55 L337.22 96.74 L337.43 97.91 L337.65 99.06 L337.86 100.20 L338.08 101.32 L338.29 102.42 L338.51 103.51 L338.72 104.58 L338.94 105.63 L339.15 106.67 L339.37 107.68 L339.58 108.69 L339.79 109.67 L340.01 110.64 L340.22 111.59 L340.44 112.52 L340.65 113.44 L340.87 114.34 L341.08 115.23 L341.30 116.09 L341.51 116.95 L341.73 117.78 L341.94 118.60 L342.16 119.41 L342.37 120.20 L342.59 120.97 L342.80 121.73 L343.02 122.48 L343.23 123.21 L343.45 123.93 L343.66 124.63 L343.88 125.32 L344.09 125.99 L344.30 126.65 L344.52 127.30 L344.73 127.94 L344.95 128.56 L345.16 129.17 L345.38 129.76 L345.59 130.35 L345.81 130.92 L346.02 131.48 L346.24 132.03 L346.45 132.57 L346.67 133.10 L346.88 133.61 L347.10 134.12 L347.31 134.61 L347.53 135.10 L347.74 135.57 L347.96 136.03 L348.17 136.49 L348.38 136.93 L348.60 137.37 L348.81 137.79 L349.03 138.21 L349.24 138.62 L349.46 139.02 L349.67 139.41 L349.89 139.79 L350.10 140.17 L350.32 140.54 L350.53 140.90 L350.75 141.25 L350.96 141.59 L351.18 141.93 L351.39 142.26 L351.61 142.58 L351.82 142.90 L352.04 143.21 L352.25 143.51 L352.47 143.81 L352.68 144.10 L352.89 144.38 L353.11 144.66 L353.32 144.93 L353.54 145.20 L353.75 145.46 L353.97 145.72 L354.18 145.97 L354.40 146.21 L354.61 146.45 L354.83 146.69 L355.04 146.92 L355.26 147.14 L355.47 147.36 L355.69 147.58 L355.90 147.79 L356.12 148.00 L356.33 148.20 L356.55 148.40 L356.76 148.59 L356.97 148.78 L357.19 148.97 L357.40 149.15 L357.62 149.33 L357.83 149.51 L358.05 149.68 L358.26 149.85 L358.48 150.01 L358.69 150.17 L358.91 150.33 L359.12 150.49 L359.34 150.64 L359.55 150.79 L359.77 150.94 L359.98 151.08 L360.20 151.22 L360.41 151.36 L360.63 151.49 L360.84 151.62 L361.06 151.75 L361.27 151.88 L361.48 152.00 L361.70 152.13 L361.91 152.25 L362.13 152.36 L362.34 152.48 L362.56 152.59 L362.77 152.70 L362.99 152.81 L363.20 152.92 L363.42 153.02 L363.63 153.12 L363.85 153.22 L364.06 153.32 L364.28 153.42 L364.49 153.51 L364.71 153.61 L364.92 153.70 L365.14 153.79 L365.35 153.87 L365.56 153.96 L365.78 154.04 L365.99 154.13 L366.21 154.21 L366.42 154.29 L366.64 154.37 L366.85 154.44 L367.07 154.52 L367.28 154.59 L367.50 154.67 L367.71 154.74 L367.93 154.81 L368.14 154.88 L368.36 154.94 L368.57 155.01 L368.79 155.07 L369.00 155.14 L369.22 155.20 L369.43 155.26 L369.64 155.32 L369.86 155.38 L370.07 155.44 L370.29 155.50 L370.50 155.55 L370.72 155.61 L370.93 155.66 L371.15 155.72 L371.36 155.77 L371.58 155.82 L371.79 155.87 L372.01 155.92 L372.22 155.97 L372.44 156.02 L372.65 156.07 L372.87 156.11 L373.08 156.16 L373.30 156.20 L373.51 156.25 L373.73 156.29 L373.94 156.33 L374.15 156.37 L374.37 156.42 L374.58 156.46 L374.80 156.50 L375.01 156.53 L375.23 156.57 L375.44 156.61 L375.66 156.65 L375.87 156.68 L376.09 156.72 L376.30 156.76 L376.52 156.79 L376.73 156.82 L376.95 156.86 L377.16 156.89 L377.38 156.92 L377.59 156.96 L377.81 156.99 L378.02 157.02 L378.24 157.05 L378.45 157.08 L378.66 157.11 L378.88 157.14 L379.09 157.16 L379.31 157.19 L379.52 157.22 L379.74 157.25 L379.95 157.27 L380.17 157.30 L380.38 157.33 L380.60 157.35 L380.81 157.38 L381.03 157.40 L381.24 157.43 L381.46 157.45 L381.67 157.47 L381.89 157.50 L382.10 157.52 L382.32 157.54 L382.53 157.56 L382.74 157.59 L382.96 157.61 L383.17 157.63 L383.39 157.65 L383.60 157.67 L383.82 157.69 L384.03 157.71 L384.25 157.73 L384.46 157.75 L384.68 157.77 L384.89 157.79 L385.11 157.81 L385.32 157.82 L385.54 157.84 L385.75 157.86 L385.97 157.88 L386.18 157.89 L386.40 157.91 L386.61 157.93 L386.83 157.94 L387.04 157.96 L387.25 157.98 L387.47 157.99 L387.68 158.01 L387.90 158.02 L388.11 158.04 L388.33 158.05 L388.54 158.07 L388.76 158.08 L388.97 158.10 L389.19 158.11 L389.40 158.12 L389.62 158.14 L389.83 158.15 L390.05 158.16 L390.26 158.18 L390.48 158.19 L390.69 158.20 L390.91 158.21 L391.12 158.23 L391.33 158.24 L391.55 158.25 L391.76 158.26 L391.98 158.27 L392.19 158.29 L392.41 158.30 L392.62 158.31 L392.84 158.32 L393.05 158.33 L393.27 158.34 L393.48 158.35 L393.70 158.36 L393.91 158.37 L394.13 158.38 L394.34 158.39 L394.56 158.40 L394.77 158.41 L394.99 158.42 L395.20 158.43 L395.42 158.44 L395.63 158.45 L395.84 158.46 L396.06 158.47 L396.27 158.48 L396.49 158.49 L396.70 158.49 L396.92 158.50 L397.13 158.51 L397.35 158.52 L397.56 158.53 L397.78 158.54 L397.99 158.54 L398.21 158.55 L398.42 158.56 L398.64 158.57 L398.85 158.57 L399.07 158.58 L399.28 158.59 L399.50 158.60 L399.71 158.60 L399.92 158.61 L400.14 158.62 L400.35 158.63 L400.57 158.63 L400.78 158.64 L401.00 158.65 L401.21 158.65 L401.43 158.66 L401.64 158.67 L401.86 158.67 L402.07 158.68 L402.29 158.68 L402.50 158.69 L402.72 158.70 L402.93 158.70 L403.15 158.71 L403.36 158.71 L403.58 158.72 L403.79 158.73 L404.00 158.73 L404.22 158.74 L404.43 158.74 L404.65 158.75 L404.86 158.75 L405.08 158.76 L405.29 158.76 L405.51 158.77 L405.72 158.77 L405.94 158.78 L406.15 158.78 L406.37 158.79 L406.58 158.79 L406.80 158.80 L407.01 158.80 L407.23 158.81 L407.44 158.81 L407.66 158.82 L407.87 158.82 L408.09 158.83 L408.30 158.83" fill="none" stroke="#33ff00" stroke-width="2.1" stroke-dasharray="22 4.7 3 4.7" stroke-dashoffset="7.6"/>
<path d="M236.50 159.24 L236.54 159.24 L236.57 159.24 L236.61 159.24 L236.64 159.24 L236.68 159.24 L236.71 159.24 L236.75 159.24 L236.79 159.24 L236.82 159.24 L236.86 159.24 L236.89 159.24 L236.93 159.24 L236.97 159.24 L237.00 159.24 L237.04 159.24 L237.07 159.24 L237.11 159.24 L237.14 159.24 L237.18 159.24 L237.22 159.24 L237.25 159.24 L237.29 159.24 L237.32 159.24 L237.36 159.24 L237.39 159.24 L237.43 159.24 L237.47 159.23 L237.50 159.23 L237.54 159.23 L237.57 159.23 L237.61 159.23 L237.65 159.23 L237.68 159.23 L237.72 159.23 L237.75 159.23 L237.79 159.23 L237.82 159.23 L237.86 159.23 L237.90 159.23 L237.93 159.23 L237.97 159.23 L238.00 159.23 L238.04 159.23 L238.07 159.23 L238.11 159.23 L238.15 159.23 L238.18 159.23 L238.22 159.23 L238.25 159.23 L238.29 159.23 L238.33 159.23 L238.36 159.23 L238.40 159.23 L238.43 159.23 L238.47 159.23 L238.50 159.23 L238.54 159.23 L238.58 159.23 L238.61 159.23 L238.65 159.23 L238.68 159.23 L238.72 159.23 L238.75 159.23 L238.79 159.23 L238.83 159.23 L238.86 159.23 L238.90 159.23 L238.93 159.23 L238.97 159.23 L239.01 159.23 L239.04 159.23 L239.08 159.23 L239.11 159.23 L239.15 159.23 L239.18 159.23 L239.22 159.23 L239.26 159.23 L239.29 159.23 L239.33 159.23 L239.36 159.23 L239.40 159.23 L239.43 159.23 L239.47 159.23 L239.51 159.23 L239.54 159.23 L239.58 159.23 L239.61 159.23 L239.65 159.23 L239.69 159.23 L239.72 159.23 L239.76 159.23 L239.79 159.23 L239.83 159.23 L239.86 159.23 L239.90 159.23 L239.94 159.23 L239.97 159.23 L240.01 159.23 L240.04 159.23 L240.08 159.23 L240.11 159.23 L240.15 159.23 L240.19 159.23 L240.22 159.23 L240.26 159.23 L240.29 159.23 L240.33 159.23 L240.37 159.23 L240.40 159.23 L240.44 159.23 L240.47 159.23 L240.51 159.23 L240.54 159.23 L240.58 159.23 L240.62 159.23 L240.65 159.22 L240.69 159.22 L240.72 159.22 L240.76 159.22 L240.80 159.22 L240.83 159.22 L240.87 159.22 L240.90 159.22 L240.94 159.22 L240.97 159.22 L241.01 159.22 L241.05 159.22 L241.08 159.22 L241.12 159.22 L241.15 159.22 L241.19 159.22 L241.22 159.22 L241.26 159.22 L241.30 159.22 L241.33 159.22 L241.37 159.22 L241.40 159.22 L241.44 159.22 L241.48 159.22 L241.51 159.22 L241.55 159.22 L241.58 159.22 L241.62 159.22 L241.65 159.22 L241.69 159.22 L241.73 159.22 L241.76 159.22 L241.80 159.22 L241.83 159.22 L241.87 159.22 L241.90 159.22 L241.94 159.22 L241.98 159.22 L242.01 159.22 L242.05 159.22 L242.08 159.22 L242.12 159.22 L242.16 159.22 L242.19 159.22 L242.23 159.22 L242.26 159.22 L242.30 159.22 L242.33 159.22 L242.37 159.22 L242.41 159.22 L242.44 159.22 L242.48 159.22 L242.51 159.22 L242.55 159.22 L242.58 159.22 L242.62 159.22 L242.66 159.22 L242.69 159.22 L242.73 159.22 L242.76 159.22 L242.80 159.22 L242.84 159.22 L242.87 159.22 L242.91 159.22 L242.94 159.22 L242.98 159.22 L243.01 159.22 L243.05 159.22 L243.09 159.22 L243.12 159.22 L243.16 159.22 L243.19 159.22 L243.23 159.22 L243.26 159.22 L243.30 159.22 L243.34 159.21 L243.37 159.21 L243.41 159.21 L243.44 159.21 L243.48 159.21 L243.52 159.21 L243.55 159.21 L243.59 159.21 L243.62 159.21 L243.66 159.21 L243.69 159.21 L243.73 159.21 L243.77 159.21 L243.80 159.21 L243.84 159.21 L243.87 159.21 L243.91 159.21 L243.94 159.21 L243.98 159.21 L244.02 159.21 L244.05 159.21 L244.09 159.21 L244.12 159.21 L244.16 159.21 L244.20 159.21 L244.23 159.21 L244.27 159.21 L244.30 159.21 L244.34 159.21 L244.37 159.21 L244.41 159.21 L244.45 159.21 L244.48 159.21 L244.52 159.21 L244.55 159.21 L244.59 159.21 L244.62 159.21 L244.66 159.21 L244.70 159.21 L244.73 159.21 L244.77 159.21 L244.80 159.21 L244.84 159.21 L244.88 159.21 L244.91 159.21 L244.95 159.21 L244.98 159.21 L245.02 159.21 L245.05 159.21 L245.09 159.21 L245.13 159.21 L245.16 159.21 L245.20 159.21 L245.23 159.21 L245.27 159.21 L245.30 159.21 L245.34 159.21 L245.38 159.21 L245.41 159.21 L245.45 159.21 L245.48 159.21 L245.52 159.21 L245.56 159.21 L245.59 159.21 L245.63 159.21 L245.66 159.20 L245.70 159.20 L245.73 159.20 L245.77 159.20 L245.81 159.20 L245.84 159.20 L245.88 159.20 L245.91 159.20 L245.95 159.20 L245.98 159.20 L246.02 159.20 L246.06 159.20 L246.09 159.20 L246.13 159.20 L246.16 159.20 L246.20 159.20 L246.24 159.20 L246.27 159.20 L246.31 159.20 L246.34 159.20 L246.38 159.20 L246.41 159.20 L246.45 159.20 L246.49 159.20 L246.52 159.20 L246.56 159.20 L246.59 159.20 L246.63 159.20 L246.66 159.20 L246.70 159.20 L246.74 159.20 L246.77 159.20 L246.81 159.20 L246.84 159.20 L246.88 159.20 L246.92 159.20 L246.95 159.20 L246.99 159.20 L247.02 159.20 L247.06 159.20 L247.09 159.20 L247.13 159.20 L247.17 159.20 L247.20 159.20 L247.24 159.20 L247.27 159.20 L247.31 159.20 L247.34 159.20 L247.38 159.20 L247.42 159.20 L247.45 159.20 L247.49 159.20 L247.52 159.20 L247.56 159.20 L247.60 159.20 L247.63 159.20 L247.67 159.20 L247.70 159.19 L247.74 159.19 L247.77 159.19 L247.81 159.19 L247.85 159.19 L247.88 159.19 L247.92 159.19 L247.95 159.19 L247.99 159.19 L248.02 159.19 L248.06 159.19 L248.10 159.19 L248.13 159.19 L248.17 159.19 L248.20 159.19 L248.24 159.19 L248.28 159.19 L248.31 159.19 L248.35 159.19 L248.38 159.19 L248.42 159.19 L248.45 159.19 L248.49 159.19 L248.53 159.19 L248.56 159.19 L248.60 159.19 L248.63 159.19 L248.67 159.19 L248.70 159.19 L248.74 159.19 L248.78 159.19 L248.81 159.19 L248.85 159.19 L248.88 159.19 L248.92 159.19 L248.96 159.19 L248.99 159.19 L249.03 159.19 L249.06 159.19 L249.10 159.19 L249.13 159.19 L249.17 159.19 L249.21 159.19 L249.24 159.19 L249.28 159.19 L249.31 159.19 L249.35 159.19 L249.38 159.19 L249.42 159.19 L249.46 159.19 L249.49 159.19 L249.53 159.18 L249.56 159.18 L249.60 159.18 L249.64 159.18 L249.67 159.18 L249.71 159.18 L249.74 159.18 L249.78 159.18 L249.81 159.18 L249.85 159.18 L249.89 159.18 L249.92 159.18 L249.96 159.18 L249.99 159.18 L250.03 159.18 L250.07 159.18 L250.10 159.18 L250.14 159.18 L250.17 159.18 L250.21 159.18 L250.24 159.18 L250.28 159.18 L250.32 159.18 L250.35 159.18 L250.39 159.18 L250.42 159.18 L250.46 159.18 L250.49 159.18 L250.53 159.18 L250.57 159.18 L250.60 159.18 L250.64 159.18 L250.67 159.18 L250.71 159.18 L250.75 159.18 L250.78 159.18 L250.82 159.18 L250.85 159.18 L250.89 159.18 L250.92 159.18 L250.96 159.18 L251.00 159.18 L251.03 159.18 L251.07 159.18 L251.10 159.18 L251.14 159.18 L251.17 159.17 L251.21 159.17 L251.25 159.17 L251.28 159.17 L251.32 159.17 L251.35 159.17 L251.39 159.17 L251.43 159.17 L251.46 159.17 L251.50 159.17 L251.53 159.17 L251.57 159.17 L251.60 159.17 L251.64 159.17 L251.68 159.17 L251.71 159.17 L251.75 159.17 L251.78 159.17 L251.82 159.17 L251.85 159.17 L251.89 159.17 L251.93 159.17 L251.96 159.17 L252.00 159.17 L252.03 159.17 L252.07 159.17 L252.11 159.17 L252.14 159.17 L252.18 159.17 L252.21 159.17 L252.25 159.17 L252.28 159.17 L252.32 159.17 L252.36 159.17 L252.39 159.17 L252.43 159.17 L252.46 159.17 L252.50 159.17 L252.53 159.17 L252.57 159.17 L252.61 159.17 L252.64 159.16 L252.68 159.16 L252.71 159.16 L252.75 159.16 L252.79 159.16 L252.82 159.16 L252.86 159.16 L252.89 159.16 L252.93 159.16 L252.96 159.16 L253.00 159.16 L253.04 159.16 L253.07 159.16 L253.11 159.16 L253.14 159.16 L253.18 159.16 L253.21 159.16 L253.25 159.16 L253.29 159.16 L253.32 159.16 L253.36 159.16 L253.39 159.16 L253.43 159.16 L253.47 159.16 L253.50 159.16 L253.54 159.16 L253.57 159.16 L253.61 159.16 L253.64 159.16 L253.68 159.16 L253.72 159.16 L253.75 159.16 L253.79 159.16 L253.82 159.16 L253.86 159.16 L253.89 159.16 L253.93 159.16 L253.97 159.16 L254.00 159.15 L254.04 159.15 L254.07 159.15 L254.11 159.15 L254.15 159.15 L254.18 159.15 L254.22 159.15 L254.25 159.15 L254.29 159.15 L254.32 159.15 L254.36 159.15 L254.40 159.15 L254.43 159.15 L254.47 159.15 L254.50 159.15 L254.54 159.15 L254.57 159.15 L254.61 159.15 L254.65 159.15 L254.68 159.15 L254.72 159.15 L254.75 159.15 L254.79 159.15 L254.83 159.15 L254.86 159.15 L254.90 159.15 L254.93 159.15 L254.97 159.15 L255.00 159.15 L255.04 159.15 L255.08 159.15 L255.11 159.15 L255.15 159.15 L255.18 159.15 L255.22 159.15 L255.25 159.14 L255.29 159.14 L255.33 159.14 L255.36 159.14 L255.40 159.14 L255.43 159.14 L255.47 159.14 L255.51 159.14 L255.54 159.14 L255.58 159.14 L255.61 159.14 L255.65 159.14 L255.68 159.14 L255.72 159.14 L255.76 159.14 L255.79 159.14 L255.83 159.14 L255.86 159.14 L255.90 159.14 L255.93 159.14 L255.97 159.14 L256.01 159.14 L256.04 159.14 L256.08 159.14 L256.11 159.14 L256.15 159.14 L256.19 159.14 L256.22 159.14 L256.26 159.14 L256.29 159.14 L256.33 159.14 L256.36 159.14 L256.40 159.13 L256.44 159.13 L256.47 159.13 L256.51 159.13 L256.54 159.13 L256.58 159.13 L256.61 159.13 L256.65 159.13 L256.69 159.13 L256.72 159.13 L256.76 159.13 L256.79 159.13 L256.83 159.13 L256.87 159.13 L256.90 159.13 L256.94 159.13 L256.97 159.13 L257.01 159.13 L257.04 159.13 L257.08 159.13 L257.12 159.13 L257.15 159.13 L257.19 159.13 L257.22 159.13 L257.26 159.13 L257.29 159.13 L257.33 159.13 L257.37 159.13 L257.40 159.13 L257.44 159.13 L257.47 159.12 L257.51 159.12 L257.55 159.12 L257.58 159.12 L257.62 159.12 L257.65 159.12 L257.69 159.12 L257.72 159.12 L257.76 159.12 L257.80 159.12 L257.83 159.12 L257.87 159.12 L257.90 159.12 L257.94 159.12 L257.98 159.12 L258.01 159.12 L258.05 159.12 L258.08 159.12 L258.12 159.12 L258.15 159.12 L258.19 159.12 L258.23 159.12 L258.26 159.12 L258.30 159.12 L258.33 159.12 L258.37 159.12 L258.40 159.12 L258.44 159.12 L258.48 159.11 L258.51 159.11 L258.55 159.11 L258.58 159.11 L258.62 159.11 L258.66 159.11 L258.69 159.11 L258.73 159.11 L258.76 159.11 L258.80 159.11 L258.83 159.11 L258.87 159.11 L258.91 159.11 L258.94 159.11 L258.98 159.11 L259.01 159.11 L259.05 159.11 L259.08 159.11 L259.12 159.11 L259.16 159.11 L259.19 159.11 L259.23 159.11 L259.26 159.11 L259.30 159.11 L259.34 159.11 L259.37 159.11 L259.41 159.10 L259.44 159.10 L259.48 159.10 L259.51 159.10 L259.55 159.10 L259.59 159.10 L259.62 159.10 L259.66 159.10 L259.69 159.10 L259.73 159.10 L259.76 159.10 L259.80 159.10 L259.84 159.10 L259.87 159.10 L259.91 159.10 L259.94 159.10 L259.98 159.10 L260.02 159.10 L260.05 159.10 L260.09 159.10 L260.12 159.10 L260.16 159.10 L260.19 159.10 L260.23 159.10 L260.27 159.09 L260.30 159.09 L260.34 159.09 L260.37 159.09 L260.41 159.09 L260.44 159.09 L260.48 159.09 L260.52 159.09 L260.55 159.09 L260.59 159.09 L260.62 159.09 L260.66 159.09 L260.70 159.09 L260.73 159.09 L260.77 159.09 L260.80 159.09 L260.84 159.09 L260.87 159.09 L260.91 159.09 L260.95 159.09 L260.98 159.09 L261.02 159.09 L261.05 159.09 L261.09 159.08 L261.12 159.08 L261.16 159.08 L261.20 159.08 L261.23 159.08 L261.27 159.08 L261.30 159.08 L261.34 159.08 L261.38 159.08 L261.41 159.08 L261.45 159.08 L261.48 159.08 L261.52 159.08 L261.55 159.08 L261.59 159.08 L261.63 159.08 L261.66 159.08 L261.70 159.08 L261.73 159.08 L261.77 159.08 L261.80 159.08 L261.84 159.08 L261.88 159.07 L261.91 159.07 L261.95 159.07 L261.98 159.07 L262.02 159.07 L262.06 159.07 L262.09 159.07 L262.13 159.07 L262.16 159.07 L262.20 159.07 L262.23 159.07 L262.27 159.07 L262.31 159.07 L262.34 159.07 L262.38 159.07 L262.41 159.07 L262.45 159.07 L262.48 159.07 L262.52 159.07 L262.56 159.07 L262.59 159.06 L262.63 159.06 L262.66 159.06 L262.70 159.06 L262.74 159.06 L262.77 159.06 L262.81 159.06 L262.84 159.06 L262.88 159.06 L262.91 159.06 L262.95 159.06 L262.99 159.06 L263.02 159.06 L263.06 159.06 L263.09 159.06 L263.13 159.06 L263.16 159.06 L263.20 159.06 L263.24 159.06 L263.27 159.06 L263.31 159.05 L263.34 159.05 L263.38 159.05 L263.42 159.05 L263.45 159.05 L263.49 159.05 L263.52 159.05 L263.56 159.05 L263.59 159.05 L263.63 159.05 L263.67 159.05 L263.70 159.05 L263.74 159.05 L263.77 159.05 L263.81 159.05 L263.84 159.05 L263.88 159.05 L263.92 159.05 L263.95 159.05 L263.99 159.04 L264.02 159.04 L264.06 159.04 L264.10 159.04 L264.13 159.04 L264.17 159.04 L264.20 159.04 L264.24 159.04 L264.27 159.04 L264.31 159.04 L264.35 159.04 L264.38 159.04 L264.42 159.04 L264.45 159.04 L264.49 159.04 L264.52 159.04 L264.56 159.04 L264.60 159.03 L264.63 159.03 L264.67 159.03 L264.70 159.03 L264.74 159.03 L264.78 159.03 L264.81 159.03 L264.85 159.03 L264.88 159.03 L264.92 159.03 L264.95 159.03 L264.99 159.03 L265.03 159.03 L265.06 159.03 L265.10 159.03 L265.13 159.03 L265.17 159.03 L265.20 159.02 L265.24 159.02 L265.28 159.02 L265.31 159.02 L265.35 159.02 L265.38 159.02 L265.42 159.02 L265.46 159.02 L265.49 159.02 L265.53 159.02 L265.56 159.02 L265.60 159.02 L265.63 159.02 L265.67 159.02 L265.71 159.02 L265.74 159.02 L265.78 159.01 L265.81 159.01 L265.85 159.01 L265.88 159.01 L265.92 159.01 L265.96 159.01 L265.99 159.01 L266.03 159.01 L266.06 159.01 L266.10 159.01 L266.14 159.01 L266.17 159.01 L266.21 159.01 L266.24 159.01 L266.28 159.01 L266.31 159.01 L266.35 159.00 L266.39 159.00 L266.42 159.00 L266.46 159.00 L266.49 159.00 L266.53 159.00 L266.56 159.00 L266.60 159.00 L266.64 159.00 L266.67 159.00 L266.71 159.00 L266.74 159.00 L266.78 159.00 L266.82 159.00 L266.85 159.00 L266.89 158.99 L266.92 158.99 L266.96 158.99 L266.99 158.99 L267.03 158.99 L267.07 158.99 L267.10 158.99 L267.14 158.99 L267.17 158.99 L267.21 158.99 L267.25 158.99 L267.28 158.99 L267.32 158.99 L267.35 158.99 L267.39 158.98 L267.42 158.98 L267.46 158.98 L267.50 158.98 L267.53 158.98 L267.57 158.98 L267.60 158.98 L267.64 158.98 L267.67 158.98 L267.71 158.98 L267.75 158.98 L267.78 158.98 L267.82 158.98 L267.85 158.98 L267.89 158.97 L267.93 158.97 L267.96 158.97 L268.00 158.97 L268.03 158.97 L268.07 158.97 L268.10 158.97 L268.14 158.97 L268.18 158.97 L268.21 158.97 L268.25 158.97 L268.28 158.97 L268.32 158.97 L268.35 158.96 L268.39 158.96 L268.43 158.96 L268.46 158.96 L268.50 158.96 L268.53 158.96 L268.57 158.96 L268.61 158.96 L268.64 158.96 L268.68 158.96 L268.71 158.96 L268.75 158.96 L268.78 158.96 L268.82 158.95 L268.86 158.95 L268.89 158.95 L268.93 158.95 L268.96 158.95 L269.00 158.95 L269.03 158.95 L269.07 158.95 L269.11 158.95 L269.14 158.95 L269.18 158.95 L269.21 158.95 L269.25 158.95 L269.29 158.94 L269.32 158.94 L269.36 158.94 L269.39 158.94 L269.43 158.94 L269.46 158.94 L269.50 158.94 L269.54 158.94 L269.57 158.94 L269.61 158.94 L269.64 158.94 L269.68 158.94 L269.71 158.93 L269.75 158.93 L269.79 158.93 L269.82 158.93 L269.86 158.93 L269.89 158.93 L269.93 158.93 L269.97 158.93 L270.00 158.93 L270.04 158.93 L270.07 158.93 L270.11 158.92 L270.14 158.92 L270.18 158.92 L270.22 158.92 L270.25 158.92 L270.29 158.92 L270.32 158.92 L270.36 158.92 L270.39 158.92 L270.43 158.92 L270.47 158.92 L270.50 158.91 L270.54 158.91 L270.57 158.91 L270.61 158.91 L270.65 158.91 L270.68 158.91 L270.72 158.91 L270.75 158.91 L270.79 158.91 L270.82 158.91 L270.86 158.91 L270.90 158.90 L270.93 158.90 L270.97 158.90 L271.00 158.90 L271.04 158.90 L271.07 158.90 L271.11 158.90 L271.15 158.90 L271.18 158.90 L271.22 158.90 L271.25 158.90 L271.29 158.89 L271.33 158.89 L271.36 158.89 L271.40 158.89 L271.43 158.89 L271.47 158.89 L271.50 158.89 L271.54 158.89 L271.58 158.89 L271.61 158.89 L271.65 158.88 L271.68 158.88 L271.72 158.88 L271.75 158.88 L271.79 158.88 L271.83 158.88 L271.86 158.88 L271.90 158.88 L271.93 158.88 L271.97 158.88 L272.01 158.87 L272.04 158.87 L272.08 158.87 L272.11 158.87 L272.15 158.87 L272.18 158.87 L272.22 158.87 L272.26 158.87 L272.29 158.87 L272.33 158.86 L272.36 158.86 L272.40 158.86 L272.43 158.86 L272.47 158.86 L272.51 158.86 L272.54 158.86 L272.58 158.86 L272.61 158.86 L272.65 158.86 L272.69 158.85 L272.72 158.85 L272.76 158.85 L272.79 158.85 L272.83 158.85 L272.86 158.85 L272.90 158.85 L272.94 158.85 L272.97 158.85 L273.01 158.84 L273.04 158.84 L273.08 158.84 L273.11 158.84 L273.15 158.84 L273.19 158.84 L273.22 158.84 L273.26 158.84 L273.29 158.84 L273.33 158.83 L273.37 158.83 L273.40 158.83 L273.44 158.83 L273.47 158.83 L273.51 158.83 L273.54 158.83 L273.58 158.83 L273.62 158.83 L273.65 158.82 L273.69 158.82 L273.72 158.82 L273.76 158.82 L273.79 158.82 L273.83 158.82 L273.87 158.82 L273.90 158.82 L273.94 158.81 L273.97 158.81 L274.01 158.81 L274.05 158.81 L274.08 158.81 L274.12 158.81 L274.15 158.81 L274.19 158.81 L274.22 158.80 L274.26 158.80 L274.30 158.80 L274.33 158.80 L274.37 158.80 L274.40 158.80 L274.44 158.80 L274.47 158.80 L274.51 158.79 L274.55 158.79 L274.58 158.79 L274.62 158.79 L274.65 158.79 L274.69 158.79 L274.73 158.79 L274.76 158.79 L274.80 158.78 L274.83 158.78 L274.87 158.78 L274.90 158.78 L274.94 158.78 L274.98 158.78 L275.01 158.78 L275.05 158.78 L275.08 158.77 L275.12 158.77 L275.15 158.77 L275.19 158.77 L275.23 158.77 L275.26 158.77 L275.30 158.77 L275.33 158.76 L275.37 158.76 L275.41 158.76 L275.44 158.76 L275.48 158.76 L275.51 158.76 L275.55 158.76 L275.58 158.76 L275.62 158.75 L275.66 158.75 L275.69 158.75 L275.73 158.75 L275.76 158.75 L275.80 158.75 L275.84 158.75 L275.87 158.74 L275.91 158.74 L275.94 158.74 L275.98 158.74 L276.01 158.74 L276.05 158.74 L276.09 158.74 L276.12 158.73 L276.16 158.73 L276.19 158.73 L276.23 158.73 L276.26 158.73 L276.30 158.73 L276.34 158.73 L276.37 158.72 L276.41 158.72 L276.44 158.72 L276.48 158.72 L276.52 158.72 L276.55 158.72 L276.59 158.72 L276.62 158.71 L276.66 158.71 L276.69 158.71 L276.73 158.71 L276.77 158.71 L276.80 158.71 L276.84 158.70 L276.87 158.70 L276.91 158.70 L276.94 158.70 L276.98 158.70 L277.02 158.70 L277.05 158.70 L277.09 158.69 L277.12 158.69 L277.16 158.69 L277.20 158.69 L277.23 158.69 L277.27 158.69 L277.30 158.68 L277.34 158.68 L277.37 158.68 L277.41 158.68 L277.45 158.68 L277.48 158.68 L277.52 158.67 L277.55 158.67 L277.59 158.67 L277.62 158.67 L277.66 158.67 L277.70 158.67 L277.73 158.66 L277.77 158.66 L277.80 158.66 L277.84 158.66 L277.88 158.66 L277.91 158.66 L277.95 158.65 L277.98 158.65 L278.02 158.65 L278.05 158.65 L278.09 158.65 L278.13 158.65 L278.16 158.64 L278.20 158.64 L278.23 158.64 L278.27 158.64 L278.30 158.64 L278.34 158.64 L278.38 158.63 L278.41 158.63 L278.45 158.63 L278.48 158.63 L278.52 158.63 L278.56 158.63 L278.59 158.62 L278.63 158.62 L278.66 158.62 L278.70 158.62 L278.73 158.62 L278.77 158.61 L278.81 158.61 L278.84 158.61 L278.88 158.61 L278.91 158.61 L278.95 158.61 L278.98 158.60 L279.02 158.60 L279.06 158.60 L279.09 158.60 L279.13 158.60 L279.16 158.59 L279.20 158.59 L279.24 158.59 L279.27 158.59 L279.31 158.59 L279.34 158.58 L279.38 158.58 L279.41 158.58 L279.45 158.58 L279.49 158.58 L279.52 158.58 L279.56 158.57 L279.59 158.57 L279.63 158.57 L279.66 158.57 L279.70 158.57 L279.74 158.56 L279.77 158.56 L279.81 158.56 L279.84 158.56 L279.88 158.56 L279.92 158.55 L279.95 158.55 L279.99 158.55 L280.02 158.55 L280.06 158.55 L280.09 158.54 L280.13 158.54 L280.17 158.54 L280.20 158.54 L280.24 158.54 L280.27 158.53 L280.31 158.53 L280.34 158.53 L280.38 158.53 L280.42 158.52 L280.45 158.52 L280.49 158.52 L280.52 158.52 L280.56 158.52 L280.60 158.51 L280.63 158.51 L280.67 158.51 L280.70 158.51 L280.74 158.51 L280.77 158.50 L280.81 158.50 L280.85 158.50 L280.88 158.50 L280.92 158.49 L280.95 158.49 L280.99 158.49 L281.02 158.49 L281.06 158.49 L281.10 158.48 L281.13 158.48 L281.17 158.48 L281.20 158.48 L281.24 158.47 L281.28 158.47 L281.31 158.47 L281.35 158.47 L281.38 158.47 L281.42 158.46 L281.45 158.46 L281.49 158.46 L281.53 158.46 L281.56 158.45 L281.60 158.45 L281.63 158.45 L281.67 158.45 L281.70 158.44 L281.74 158.44 L281.78 158.44 L281.81 158.44 L281.85 158.44 L281.88 158.43 L281.92 158.43 L281.96 158.43 L281.99 158.43 L282.03 158.42 L282.06 158.42 L282.10 158.42 L282.13 158.42 L282.17 158.41 L282.21 158.41 L282.24 158.41 L282.28 158.41 L282.31 158.40 L282.35 158.40 L282.38 158.40 L282.42 158.40 L282.46 158.39 L282.49 158.39 L282.53 158.39 L282.56 158.39 L282.60 158.38 L282.64 158.38 L282.67 158.38 L282.71 158.38 L282.74 158.37 L282.78 158.37 L282.81 158.37 L282.85 158.37 L282.89 158.36 L282.92 158.36 L282.96 158.36 L282.99 158.35 L283.03 158.35 L283.06 158.35 L283.10 158.35 L283.14 158.34 L283.17 158.34 L283.21 158.34 L283.24 158.34 L283.28 158.33 L283.32 158.33 L283.35 158.33 L283.39 158.33 L283.42 158.32 L283.46 158.32 L283.49 158.32 L283.53 158.31 L283.57 158.31 L283.60 158.31 L283.64 158.31 L283.67 158.30 L283.71 158.30 L283.75 158.30 L283.78 158.29 L283.82 158.29 L283.85 158.29 L283.89 158.29 L283.92 158.28 L283.96 158.28 L284.00 158.28 L284.03 158.27 L284.07 158.27 L284.10 158.27 L284.14 158.27 L284.17 158.26 L284.21 158.26 L284.25 158.26 L284.28 158.25 L284.32 158.25 L284.35 158.25 L284.39 158.24 L284.43 158.24 L284.46 158.24 L284.50 158.24 L284.53 158.23 L284.57 158.23 L284.60 158.23 L284.64 158.22 L284.68 158.22 L284.71 158.22 L284.75 158.21 L284.78 158.21 L284.82 158.21 L284.85 158.20 L284.89 158.20 L284.93 158.20 L284.96 158.20 L285.00 158.19 L285.03 158.19 L285.07 158.19 L285.11 158.18 L285.14 158.18 L285.18 158.18 L285.21 158.17 L285.25 158.17 L285.28 158.17 L285.32 158.16 L285.36 158.16 L285.39 158.16 L285.43 158.15 L285.46 158.15 L285.50 158.15 L285.53 158.14 L285.57 158.14 L285.61 158.14 L285.64 158.13 L285.68 158.13 L285.71 158.13 L285.75 158.12 L285.79 158.12 L285.82 158.12 L285.86 158.11 L285.89 158.11 L285.93 158.11 L285.96 158.10 L286.00 158.10 L286.04 158.09 L286.07 158.09 L286.11 158.09 L286.14 158.08 L286.18 158.08 L286.21 158.08 L286.25 158.07 L286.29 158.07 L286.32 158.07 L286.36 158.06 L286.39 158.06 L286.43 158.06 L286.47 158.05 L286.50 158.05 L286.54 158.04 L286.57 158.04 L286.61 158.04 L286.64 158.03 L286.68 158.03 L286.72 158.03 L286.75 158.02 L286.79 158.02 L286.82 158.01 L286.86 158.01 L286.89 158.01 L286.93 158.00 L286.97 158.00 L287.00 158.00 L287.04 157.99 L287.07 157.99 L287.11 157.98 L287.15 157.98 L287.18 157.98 L287.22 157.97 L287.25 157.97 L287.29 157.96 L287.32 157.96 L287.36 157.96 L287.40 157.95 L287.43 157.95 L287.47 157.94 L287.50 157.94 L287.54 157.94 L287.57 157.93 L287.61 157.93 L287.65 157.92 L287.68 157.92 L287.72 157.92 L287.75 157.91 L287.79 157.91 L287.83 157.90 L287.86 157.90 L287.90 157.89 L287.93 157.89 L287.97 157.89 L288.00 157.88 L288.04 157.88 L288.08 157.87 L288.11 157.87 L288.15 157.86 L288.18 157.86 L288.22 157.86 L288.25 157.85 L288.29 157.85 L288.33 157.84 L288.36 157.84 L288.40 157.83 L288.43 157.83 L288.47 157.83 L288.51 157.82 L288.54 157.82 L288.58 157.81 L288.61 157.81 L288.65 157.80 L288.68 157.80 L288.72 157.79 L288.76 157.79 L288.79 157.78 L288.83 157.78 L288.86 157.78 L288.90 157.77 L288.93 157.77 L288.97 157.76 L289.01 157.76 L289.04 157.75 L289.08 157.75 L289.11 157.74 L289.15 157.74 L289.19 157.73 L289.22 157.73 L289.26 157.72 L289.29 157.72 L289.33 157.71 L289.36 157.71 L289.40 157.70 L289.44 157.70 L289.47 157.69 L289.51 157.69 L289.54 157.68 L289.58 157.68 L289.61 157.67 L289.65 157.67 L289.69 157.67 L289.72 157.66 L289.76 157.65 L289.79 157.65 L289.83 157.64 L289.87 157.64 L289.90 157.63 L289.94 157.63 L289.97 157.62 L290.01 157.62 L290.04 157.61 L290.08 157.61 L290.12 157.60 L290.15 157.60 L290.19 157.59 L290.22 157.59 L290.26 157.58 L290.29 157.58 L290.33 157.57 L290.37 157.57 L290.40 157.56 L290.44 157.56 L290.47 157.55 L290.51 157.55 L290.55 157.54 L290.58 157.53 L290.62 157.53 L290.65 157.52 L290.69 157.52 L290.72 157.51 L290.76 157.51 L290.80 157.50 L290.83 157.50 L290.87 157.49 L290.90 157.48 L290.94 157.48 L290.97 157.47 L291.01 157.47 L291.05 157.46 L291.08 157.46 L291.12 157.45 L291.15 157.44 L291.19 157.44 L291.23 157.43 L291.26 157.43 L291.30 157.42 L291.33 157.42 L291.37 157.41 L291.40 157.40 L291.44 157.40 L291.48 157.39 L291.51 157.39 L291.55 157.38 L291.58 157.37 L291.62 157.37 L291.65 157.36 L291.69 157.36 L291.73 157.35 L291.76 157.34 L291.80 157.34 L291.83 157.33 L291.87 157.32 L291.91 157.32 L291.94 157.31 L291.98 157.31 L292.01 157.30 L292.05 157.29 L292.08 157.29 L292.12 157.28 L292.16 157.27 L292.19 157.27 L292.23 157.26 L292.26 157.26 L292.30 157.25 L292.34 157.24 L292.37 157.24 L292.41 157.23 L292.44 157.22 L292.48 157.22 L292.51 157.21 L292.55 157.20 L292.59 157.20 L292.62 157.19 L292.66 157.18 L292.69 157.18 L292.73 157.17 L292.76 157.16 L292.80 157.16 L292.84 157.15 L292.87 157.14 L292.91 157.14 L292.94 157.13 L292.98 157.12 L293.02 157.11 L293.05 157.11 L293.09 157.10 L293.12 157.09 L293.16 157.09 L293.19 157.08 L293.23 157.07 L293.27 157.07 L293.30 157.06 L293.34 157.05 L293.37 157.04 L293.41 157.04 L293.44 157.03 L293.48 157.02 L293.52 157.02 L293.55 157.01 L293.59 157.00 L293.62 156.99 L293.66 156.99 L293.70 156.98 L293.73 156.97 L293.77 156.96 L293.80 156.96 L293.84 156.95 L293.87 156.94 L293.91 156.93 L293.95 156.93 L293.98 156.92 L294.02 156.91 L294.05 156.90 L294.09 156.89 L294.12 156.89 L294.16 156.88 L294.20 156.87 L294.23 156.86 L294.27 156.86 L294.30 156.85 L294.34 156.84 L294.38 156.83 L294.41 156.82 L294.45 156.82 L294.48 156.81 L294.52 156.80 L294.55 156.79 L294.59 156.78 L294.63 156.78 L294.66 156.77 L294.70 156.76 L294.73 156.75 L294.77 156.74 L294.80 156.73 L294.84 156.73 L294.88 156.72 L294.91 156.71 L294.95 156.70 L294.98 156.69 L295.02 156.68 L295.06 156.68 L295.09 156.67 L295.13 156.66 L295.16 156.65 L295.20 156.64 L295.23 156.63 L295.27 156.62 L295.31 156.62 L295.34 156.61 L295.38 156.60 L295.41 156.59 L295.45 156.58 L295.48 156.57 L295.52 156.56 L295.56 156.55 L295.59 156.55 L295.63 156.54 L295.66 156.53 L295.70 156.52 L295.74 156.51 L295.77 156.50 L295.81 156.49 L295.84 156.48 L295.88 156.47 L295.91 156.46 L295.95 156.45 L295.99 156.44 L296.02 156.44 L296.06 156.43 L296.09 156.42 L296.13 156.41 L296.16 156.40 L296.20 156.39 L296.24 156.38 L296.27 156.37 L296.31 156.36 L296.34 156.35 L296.38 156.34 L296.42 156.33 L296.45 156.32 L296.49 156.31 L296.52 156.30 L296.56 156.29 L296.59 156.28 L296.63 156.27 L296.67 156.26 L296.70 156.25 L296.74 156.24 L296.77 156.23 L296.81 156.22 L296.84 156.21 L296.88 156.20 L296.92 156.19 L296.95 156.18 L296.99 156.17 L297.02 156.16 L297.06 156.15 L297.10 156.14 L297.13 156.13 L297.17 156.12 L297.20 156.11 L297.24 156.10 L297.27 156.09 L297.31 156.08 L297.35 156.07 L297.38 156.05 L297.42 156.04 L297.45 156.03 L297.49 156.02 L297.52 156.01 L297.56 156.00 L297.60 155.99 L297.63 155.98 L297.67 155.97 L297.70 155.96 L297.74 155.95 L297.78 155.93 L297.81 155.92 L297.85 155.91 L297.88 155.90 L297.92 155.89 L297.95 155.88 L297.99 155.87 L298.03 155.86 L298.06 155.84 L298.10 155.83 L298.13 155.82 L298.17 155.81 L298.20 155.80 L298.24 155.79 L298.28 155.78 L298.31 155.76 L298.35 155.75 L298.38 155.74 L298.42 155.73 L298.46 155.72 L298.49 155.70 L298.53 155.69 L298.56 155.68 L298.60 155.67 L298.63 155.66 L298.67 155.64 L298.71 155.63 L298.74 155.62 L298.78 155.61 L298.81 155.60 L298.85 155.58 L298.88 155.57 L298.92 155.56 L298.96 155.55 L298.99 155.53 L299.03 155.52 L299.06 155.51 L299.10 155.50 L299.14 155.48 L299.17 155.47 L299.21 155.46 L299.24 155.44 L299.28 155.43 L299.31 155.42 L299.35 155.41 L299.39 155.39 L299.42 155.38 L299.46 155.37 L299.49 155.35 L299.53 155.34 L299.56 155.33 L299.60 155.31 L299.64 155.30 L299.67 155.29 L299.71 155.27 L299.74 155.26 L299.78 155.25 L299.82 155.23 L299.85 155.22 L299.89 155.21 L299.92 155.19 L299.96 155.18 L299.99 155.17 L300.03 155.15 L300.07 155.14 L300.10 155.12 L300.14 155.11 L300.17 155.10 L300.21 155.08 L300.24 155.07 L300.28 155.05 L300.32 155.04 L300.35 155.03 L300.39 155.01 L300.42 155.00 L300.46 154.98 L300.50 154.97 L300.53 154.95 L300.57 154.94 L300.60 154.92 L300.64 154.91 L300.67 154.89 L300.71 154.88 L300.75 154.87 L300.78 154.85 L300.82 154.84 L300.85 154.82 L300.89 154.81 L300.93 154.79 L300.96 154.78 L301.00 154.76 L301.03 154.75 L301.07 154.73 L301.10 154.72 L301.14 154.70 L301.18 154.68 L301.21 154.67 L301.25 154.65 L301.28 154.64 L301.32 154.62 L301.35 154.61 L301.39 154.59 L301.43 154.58 L301.46 154.56 L301.50 154.54 L301.53 154.53 L301.57 154.51 L301.61 154.50 L301.64 154.48 L301.68 154.46 L301.71 154.45 L301.75 154.43 L301.78 154.42 L301.82 154.40 L301.86 154.38 L301.89 154.37 L301.93 154.35 L301.96 154.33 L302.00 154.32 L302.03 154.30 L302.07 154.28 L302.11 154.27 L302.14 154.25 L302.18 154.23 L302.21 154.22 L302.25 154.20 L302.29 154.18 L302.32 154.16 L302.36 154.15 L302.39 154.13 L302.43 154.11 L302.46 154.10 L302.50 154.08 L302.54 154.06 L302.57 154.04 L302.61 154.03 L302.64 154.01 L302.68 153.99 L302.71 153.97 L302.75 153.96 L302.79 153.94 L302.82 153.92 L302.86 153.90 L302.89 153.88 L302.93 153.87 L302.97 153.85 L303.00 153.83 L303.04 153.81 L303.07 153.79 L303.11 153.78 L303.14 153.76 L303.18 153.74 L303.22 153.72 L303.25 153.70 L303.29 153.68 L303.32 153.66 L303.36 153.65 L303.39 153.63 L303.43 153.61 L303.47 153.59 L303.50 153.57 L303.54 153.55 L303.57 153.53 L303.61 153.51 L303.65 153.49 L303.68 153.47 L303.72 153.45 L303.75 153.44 L303.79 153.42 L303.82 153.40 L303.86 153.38 L303.90 153.36 L303.93 153.34 L303.97 153.32 L304.00 153.30 L304.04 153.28 L304.07 153.26 L304.11 153.24 L304.15 153.22 L304.18 153.20 L304.22 153.18 L304.25 153.16 L304.29 153.14 L304.33 153.12 L304.36 153.10 L304.40 153.08 L304.43 153.06 L304.47 153.04 L304.50 153.02 L304.54 152.99 L304.58 152.97 L304.61 152.95 L304.65 152.93 L304.68 152.91 L304.72 152.89 L304.75 152.87 L304.79 152.85 L304.83 152.83 L304.86 152.81 L304.90 152.78 L304.93 152.76 L304.97 152.74 L305.01 152.72 L305.04 152.70 L305.08 152.68 L305.11 152.66 L305.15 152.63 L305.18 152.61 L305.22 152.59 L305.26 152.57 L305.29 152.55 L305.33 152.52 L305.36 152.50 L305.40 152.48 L305.43 152.46 L305.47 152.44 L305.51 152.41 L305.54 152.39 L305.58 152.37 L305.61 152.35 L305.65 152.32 L305.69 152.30 L305.72 152.28 L305.76 152.26 L305.79 152.23 L305.83 152.21 L305.86 152.19 L305.90 152.16 L305.94 152.14 L305.97 152.12 L306.01 152.09 L306.04 152.07 L306.08 152.05 L306.11 152.02 L306.15 152.00 L306.19 151.98 L306.22 151.95 L306.26 151.93 L306.29 151.91 L306.33 151.88 L306.37 151.86 L306.40 151.84 L306.44 151.81 L306.47 151.79 L306.51 151.76 L306.54 151.74 L306.58 151.72 L306.62 151.69 L306.65 151.67 L306.69 151.64 L306.72 151.62 L306.76 151.59 L306.79 151.57 L306.83 151.54 L306.87 151.52 L306.90 151.50 L306.94 151.47 L306.97 151.45 L307.01 151.42 L307.05 151.40 L307.08 151.37 L307.12 151.35 L307.15 151.32 L307.19 151.30 L307.22 151.27 L307.26 151.24 L307.30 151.22 L307.33 151.19 L307.37 151.17 L307.40 151.14 L307.44 151.12 L307.47 151.09 L307.51 151.07 L307.55 151.04 L307.58 151.01 L307.62 150.99 L307.65 150.96 L307.69 150.94 L307.73 150.91 L307.76 150.88 L307.80 150.86 L307.83 150.83 L307.87 150.80 L307.90 150.78 L307.94 150.75 L307.98 150.73 L308.01 150.70 L308.05 150.67 L308.08 150.65 L308.12 150.62 L308.15 150.59 L308.19 150.57 L308.23 150.54 L308.26 150.51 L308.30 150.48 L308.33 150.46 L308.37 150.43 L308.41 150.40 L308.44 150.38 L308.48 150.35 L308.51 150.32 L308.55 150.29 L308.58 150.27 L308.62 150.24 L308.66 150.21 L308.69 150.18 L308.73 150.16 L308.76 150.13 L308.80 150.10 L308.83 150.07 L308.87 150.04 L308.91 150.02 L308.94 149.99 L308.98 149.96 L309.01 149.93 L309.05 149.90 L309.09 149.88 L309.12 149.85 L309.16 149.82 L309.19 149.79 L309.23 149.76 L309.26 149.73 L309.30 149.71 L309.34 149.68 L309.37 149.65 L309.41 149.62 L309.44 149.59 L309.48 149.56 L309.51 149.53 L309.55 149.50 L309.59 149.47 L309.62 149.45 L309.66 149.42 L309.69 149.39 L309.73 149.36 L309.77 149.33 L309.80 149.30 L309.84 149.27 L309.87 149.24 L309.91 149.21 L309.94 149.18 L309.98 149.15 L310.02 149.12 L310.05 149.09 L310.09 149.06 L310.12 149.04 L310.16 149.01 L310.20 148.98 L310.23 148.95 L310.27 148.92 L310.30 148.89 L310.34 148.86 L310.37 148.83 L310.41 148.80 L310.45 148.77 L310.48 148.74 L310.52 148.71 L310.55 148.68 L310.59 148.65 L310.62 148.62 L310.66 148.59 L310.70 148.56 L310.73 148.53 L310.77 148.49 L310.80 148.46 L310.84 148.43 L310.88 148.40 L310.91 148.37 L310.95 148.34 L310.98 148.31 L311.02 148.28 L311.05 148.25 L311.09 148.22 L311.13 148.19 L311.16 148.16 L311.20 148.13 L311.23 148.10 L311.27 148.07 L311.30 148.04 L311.34 148.00 L311.38 147.97 L311.41 147.94 L311.45 147.91 L311.48 147.88 L311.52 147.85 L311.56 147.82 L311.59 147.79 L311.63 147.76 L311.66 147.73 L311.70 147.69 L311.73 147.66 L311.77 147.63 L311.81 147.60 L311.84 147.57 L311.88 147.54 L311.91 147.51 L311.95 147.48 L311.98 147.44 L312.02 147.41 L312.06 147.38 L312.09 147.35 L312.13 147.32 L312.16 147.29 L312.20 147.26 L312.24 147.22 L312.27 147.19 L312.31 147.16 L312.34 147.13 L312.38 147.10 L312.41 147.07 L312.45 147.04 L312.49 147.00 L312.52 146.97 L312.56 146.94 L312.59 146.91 L312.63 146.88 L312.66 146.85 L312.70 146.81 L312.74 146.78 L312.77 146.75 L312.81 146.72 L312.84 146.69 L312.88 146.66 L312.92 146.62 L312.95 146.59 L312.99 146.56 L313.02 146.53 L313.06 146.50 L313.09 146.47 L313.13 146.43 L313.17 146.40 L313.20 146.37 L313.24 146.34 L313.27 146.31 L313.31 146.28 L313.34 146.24 L313.38 146.21 L313.42 146.18 L313.45 146.15 L313.49 146.12 L313.52 146.09 L313.56 146.05 L313.60 146.02 L313.63 145.99 L313.67 145.96 L313.70 145.93 L313.74 145.90 L313.77 145.86 L313.81 145.83 L313.85 145.80 L313.88 145.77 L313.92 145.74 L313.95 145.71 L313.99 145.67 L314.02 145.64 L314.06 145.61 L314.10 145.58 L314.13 145.55 L314.17 145.52 L314.20 145.49 L314.24 145.45 L314.28 145.42 L314.31 145.39 L314.35 145.36 L314.38 145.33 L314.42 145.30 L314.45 145.27 L314.49 145.24 L314.53 145.20 L314.56 145.17 L314.60 145.14 L314.63 145.11 L314.67 145.08 L314.70 145.05 L314.74 145.02 L314.78 144.99 L314.81 144.95 L314.85 144.92 L314.88 144.89 L314.92 144.86 L314.96 144.83 L314.99 144.80 L315.03 144.77 L315.06 144.74 L315.10 144.71 L315.13 144.68 L315.17 144.65 L315.21 144.62 L315.24 144.59 L315.28 144.55 L315.31 144.52 L315.35 144.49 L315.38 144.46 L315.42 144.43 L315.46 144.40 L315.49 144.37 L315.53 144.34 L315.56 144.31 L315.60 144.28 L315.64 144.25 L315.67 144.22 L315.71 144.19 L315.74 144.16 L315.78 144.13 L315.81 144.10 L315.85 144.07 L315.89 144.04 L315.92 144.01 L315.96 143.98 L315.99 143.95 L316.03 143.92 L316.06 143.89 L316.10 143.86 L316.14 143.83 L316.17 143.80 L316.21 143.77 L316.24 143.74 L316.28 143.71 L316.32 143.69 L316.35 143.66 L316.39 143.63 L316.42 143.60 L316.46 143.57 L316.49 143.54 L316.53 143.51 L316.57 143.48 L316.60 143.45 L316.64 143.42 L316.67 143.39 L316.71 143.37 L316.74 143.34 L316.78 143.31 L316.82 143.28 L316.85 143.25 L316.89 143.22 L316.92 143.19 L316.96 143.16 L317.00 143.14 L317.03 143.11 L317.07 143.08 L317.10 143.05 L317.14 143.02 L317.17 142.99 L317.21 142.97 L317.25 142.94 L317.28 142.91 L317.32 142.88 L317.35 142.85 L317.39 142.82 L317.42 142.80 L317.46 142.77 L317.50 142.74 L317.53 142.71 L317.57 142.68 L317.60 142.66 L317.64 142.63 L317.68 142.60 L317.71 142.57 L317.75 142.54 L317.78 142.52 L317.82 142.49 L317.85 142.46 L317.89 142.43 L317.93 142.40 L317.96 142.38 L318.00 142.35 L318.03 142.32 L318.07 142.29 L318.11 142.26 L318.14 142.24 L318.18 142.21 L318.21 142.18 L318.25 142.15 L318.28 142.12 L318.32 142.10 L318.36 142.07 L318.39 142.04 L318.43 142.01 L318.46 141.98 L318.50 141.95 L318.53 141.92 L318.57 141.89 L318.61 141.87 L318.64 141.84 L318.68 141.81 L318.71 141.78 L318.75 141.75 L318.79 141.72 L318.82 141.69 L318.86 141.66 L318.89 141.63 L318.93 141.60 L318.96 141.57 L319.00 141.54 L319.04 141.50 L319.07 141.47 L319.11 141.44 L319.14 141.41 L319.18 141.38 L319.21 141.34 L319.25 141.31 L319.29 141.28 L319.32 141.24 L319.36 141.21 L319.39 141.17 L319.43 141.14 L319.47 141.10 L319.50 141.06 L319.54 141.03 L319.57 140.99 L319.61 140.95 L319.64 140.91 L319.68 140.87 L319.72 140.83 L319.75 140.79 L319.79 140.74 L319.82 140.70 L319.86 140.65 L319.89 140.61 L319.93 140.56 L319.97 140.51 L320.00 140.46 L320.04 140.41 L320.07 140.35 L320.11 140.30 L320.15 140.24 L320.18 140.18 L320.22 140.12 L320.25 140.06 L320.29 139.99 L320.32 139.92 L320.36 139.85 L320.40 139.78 L320.43 139.70 L320.47 139.62 L320.50 139.54 L320.54 139.45 L320.57 139.35 L320.61 139.26 L320.65 139.15 L320.68 139.04 L320.72 138.93 L320.75 138.81 L320.79 138.68 L320.83 138.54 L320.86 138.40 L320.90 138.25 L320.93 138.08 L320.97 137.91 L321.00 137.72 L321.04 137.52 L321.08 137.30 L321.11 137.07 L321.15 136.82 L321.18 136.54 L321.22 136.25 L321.25 135.93 L321.29 135.58 L321.33 135.19 L321.36 134.77 L321.40 134.31 L321.43 133.80 L321.47 133.24 L321.51 132.61 L321.54 131.91 L321.58 131.13 L321.61 130.25 L321.65 129.26 L321.68 128.14 L321.72 126.87 L321.76 125.40 L321.79 123.72 L321.83 121.78 L321.86 119.52 L321.90 116.87 L321.93 113.76 L321.97 110.09 L322.01 105.72 L322.04 100.51 L322.08 94.28 L322.11 86.84 L322.15 78.01 L322.19 67.67 L322.22 55.85 L322.26 42.94 L322.29 29.83 L322.33 18.11 L322.36 9.82 L322.40 6.80 L322.44 9.82 L322.47 18.11 L322.51 29.83 L322.54 42.94 L322.58 55.85 L322.61 67.67 L322.65 78.01 L322.69 86.84 L322.72 94.28 L322.76 100.51 L322.79 105.72 L322.83 110.09 L322.87 113.76 L322.90 116.87 L322.94 119.52 L322.97 121.78 L323.01 123.72 L323.04 125.40 L323.08 126.87 L323.12 128.14 L323.15 129.26 L323.19 130.25 L323.22 131.13 L323.26 131.91 L323.29 132.61 L323.33 133.24 L323.37 133.80 L323.40 134.31 L323.44 134.77 L323.47 135.19 L323.51 135.58 L323.55 135.93 L323.58 136.25 L323.62 136.54 L323.65 136.82 L323.69 137.07 L323.72 137.30 L323.76 137.52 L323.80 137.72 L323.83 137.91 L323.87 138.08 L323.90 138.25 L323.94 138.40 L323.97 138.54 L324.01 138.68 L324.05 138.81 L324.08 138.93 L324.12 139.04 L324.15 139.15 L324.19 139.26 L324.23 139.35 L324.26 139.45 L324.30 139.54 L324.33 139.62 L324.37 139.70 L324.40 139.78 L324.44 139.85 L324.48 139.92 L324.51 139.99 L324.55 140.06 L324.58 140.12 L324.62 140.18 L324.65 140.24 L324.69 140.30 L324.73 140.35 L324.76 140.41 L324.80 140.46 L324.83 140.51 L324.87 140.56 L324.91 140.61 L324.94 140.65 L324.98 140.70 L325.01 140.74 L325.05 140.79 L325.08 140.83 L325.12 140.87 L325.16 140.91 L325.19 140.95 L325.23 140.99 L325.26 141.03 L325.30 141.06 L325.33 141.10 L325.37 141.14 L325.41 141.17 L325.44 141.21 L325.48 141.24 L325.51 141.28 L325.55 141.31 L325.59 141.34 L325.62 141.38 L325.66 141.41 L325.69 141.44 L325.73 141.47 L325.76 141.50 L325.80 141.54 L325.84 141.57 L325.87 141.60 L325.91 141.63 L325.94 141.66 L325.98 141.69 L326.01 141.72 L326.05 141.75 L326.09 141.78 L326.12 141.81 L326.16 141.84 L326.19 141.87 L326.23 141.89 L326.27 141.92 L326.30 141.95 L326.34 141.98 L326.37 142.01 L326.41 142.04 L326.44 142.07 L326.48 142.10 L326.52 142.12 L326.55 142.15 L326.59 142.18 L326.62 142.21 L326.66 142.24 L326.69 142.26 L326.73 142.29 L326.77 142.32 L326.80 142.35 L326.84 142.38 L326.87 142.40 L326.91 142.43 L326.95 142.46 L326.98 142.49 L327.02 142.52 L327.05 142.54 L327.09 142.57 L327.12 142.60 L327.16 142.63 L327.20 142.66 L327.23 142.68 L327.27 142.71 L327.30 142.74 L327.34 142.77 L327.38 142.80 L327.41 142.82 L327.45 142.85 L327.48 142.88 L327.52 142.91 L327.55 142.94 L327.59 142.97 L327.63 142.99 L327.66 143.02 L327.70 143.05 L327.73 143.08 L327.77 143.11 L327.80 143.14 L327.84 143.16 L327.88 143.19 L327.91 143.22 L327.95 143.25 L327.98 143.28 L328.02 143.31 L328.06 143.34 L328.09 143.37 L328.13 143.39 L328.16 143.42 L328.20 143.45 L328.23 143.48 L328.27 143.51 L328.31 143.54 L328.34 143.57 L328.38 143.60 L328.41 143.63 L328.45 143.66 L328.48 143.69 L328.52 143.71 L328.56 143.74 L328.59 143.77 L328.63 143.80 L328.66 143.83 L328.70 143.86 L328.74 143.89 L328.77 143.92 L328.81 143.95 L328.84 143.98 L328.88 144.01 L328.91 144.04 L328.95 144.07 L328.99 144.10 L329.02 144.13 L329.06 144.16 L329.09 144.19 L329.13 144.22 L329.16 144.25 L329.20 144.28 L329.24 144.31 L329.27 144.34 L329.31 144.37 L329.34 144.40 L329.38 144.43 L329.42 144.46 L329.45 144.49 L329.49 144.52 L329.52 144.55 L329.56 144.59 L329.59 144.62 L329.63 144.65 L329.67 144.68 L329.70 144.71 L329.74 144.74 L329.77 144.77 L329.81 144.80 L329.84 144.83 L329.88 144.86 L329.92 144.89 L329.95 144.92 L329.99 144.95 L330.02 144.99 L330.06 145.02 L330.10 145.05 L330.13 145.08 L330.17 145.11 L330.20 145.14 L330.24 145.17 L330.27 145.20 L330.31 145.24 L330.35 145.27 L330.38 145.30 L330.42 145.33 L330.45 145.36 L330.49 145.39 L330.52 145.42 L330.56 145.45 L330.60 145.49 L330.63 145.52 L330.67 145.55 L330.70 145.58 L330.74 145.61 L330.78 145.64 L330.81 145.67 L330.85 145.71 L330.88 145.74 L330.92 145.77 L330.95 145.80 L330.99 145.83 L331.03 145.86 L331.06 145.90 L331.10 145.93 L331.13 145.96 L331.17 145.99 L331.20 146.02 L331.24 146.05 L331.28 146.09 L331.31 146.12 L331.35 146.15 L331.38 146.18 L331.42 146.21 L331.46 146.24 L331.49 146.28 L331.53 146.31 L331.56 146.34 L331.60 146.37 L331.63 146.40 L331.67 146.43 L331.71 146.47 L331.74 146.50 L331.78 146.53 L331.81 146.56 L331.85 146.59 L331.88 146.62 L331.92 146.66 L331.96 146.69 L331.99 146.72 L332.03 146.75 L332.06 146.78 L332.10 146.81 L332.14 146.85 L332.17 146.88 L332.21 146.91 L332.24 146.94 L332.28 146.97 L332.31 147.00 L332.35 147.04 L332.39 147.07 L332.42 147.10 L332.46 147.13 L332.49 147.16 L332.53 147.19 L332.56 147.22 L332.60 147.26 L332.64 147.29 L332.67 147.32 L332.71 147.35 L332.74 147.38 L332.78 147.41 L332.82 147.44 L332.85 147.48 L332.89 147.51 L332.92 147.54 L332.96 147.57 L332.99 147.60 L333.03 147.63 L333.07 147.66 L333.10 147.69 L333.14 147.73 L333.17 147.76 L333.21 147.79 L333.24 147.82 L333.28 147.85 L333.32 147.88 L333.35 147.91 L333.39 147.94 L333.42 147.97 L333.46 148.00 L333.50 148.04 L333.53 148.07 L333.57 148.10 L333.60 148.13 L333.64 148.16 L333.67 148.19 L333.71 148.22 L333.75 148.25 L333.78 148.28 L333.82 148.31 L333.85 148.34 L333.89 148.37 L333.92 148.40 L333.96 148.43 L334.00 148.46 L334.03 148.49 L334.07 148.53 L334.10 148.56 L334.14 148.59 L334.18 148.62 L334.21 148.65 L334.25 148.68 L334.28 148.71 L334.32 148.74 L334.35 148.77 L334.39 148.80 L334.43 148.83 L334.46 148.86 L334.50 148.89 L334.53 148.92 L334.57 148.95 L334.60 148.98 L334.64 149.01 L334.68 149.04 L334.71 149.06 L334.75 149.09 L334.78 149.12 L334.82 149.15 L334.86 149.18 L334.89 149.21 L334.93 149.24 L334.96 149.27 L335.00 149.30 L335.03 149.33 L335.07 149.36 L335.11 149.39 L335.14 149.42 L335.18 149.45 L335.21 149.47 L335.25 149.50 L335.28 149.53 L335.32 149.56 L335.36 149.59 L335.39 149.62 L335.43 149.65 L335.46 149.68 L335.50 149.71 L335.54 149.73 L335.57 149.76 L335.61 149.79 L335.64 149.82 L335.68 149.85 L335.71 149.88 L335.75 149.90 L335.79 149.93 L335.82 149.96 L335.86 149.99 L335.89 150.02 L335.93 150.04 L335.97 150.07 L336.00 150.10 L336.04 150.13 L336.07 150.16 L336.11 150.18 L336.14 150.21 L336.18 150.24 L336.22 150.27 L336.25 150.29 L336.29 150.32 L336.32 150.35 L336.36 150.38 L336.39 150.40 L336.43 150.43 L336.47 150.46 L336.50 150.48 L336.54 150.51 L336.57 150.54 L336.61 150.57 L336.65 150.59 L336.68 150.62 L336.72 150.65 L336.75 150.67 L336.79 150.70 L336.82 150.73 L336.86 150.75 L336.90 150.78 L336.93 150.80 L336.97 150.83 L337.00 150.86 L337.04 150.88 L337.07 150.91 L337.11 150.94 L337.15 150.96 L337.18 150.99 L337.22 151.01 L337.25 151.04 L337.29 151.07 L337.33 151.09 L337.36 151.12 L337.40 151.14 L337.43 151.17 L337.47 151.19 L337.50 151.22 L337.54 151.24 L337.58 151.27 L337.61 151.30 L337.65 151.32 L337.68 151.35 L337.72 151.37 L337.75 151.40 L337.79 151.42 L337.83 151.45 L337.86 151.47 L337.90 151.50 L337.93 151.52 L337.97 151.54 L338.01 151.57 L338.04 151.59 L338.08 151.62 L338.11 151.64 L338.15 151.67 L338.18 151.69 L338.22 151.72 L338.26 151.74 L338.29 151.76 L338.33 151.79 L338.36 151.81 L338.40 151.84 L338.43 151.86 L338.47 151.88 L338.51 151.91 L338.54 151.93 L338.58 151.95 L338.61 151.98 L338.65 152.00 L338.69 152.02 L338.72 152.05 L338.76 152.07 L338.79 152.09 L338.83 152.12 L338.86 152.14 L338.90 152.16 L338.94 152.19 L338.97 152.21 L339.01 152.23 L339.04 152.26 L339.08 152.28 L339.11 152.30 L339.15 152.32 L339.19 152.35 L339.22 152.37 L339.26 152.39 L339.29 152.41 L339.33 152.44 L339.37 152.46 L339.40 152.48 L339.44 152.50 L339.47 152.52 L339.51 152.55 L339.54 152.57 L339.58 152.59 L339.62 152.61 L339.65 152.63 L339.69 152.66 L339.72 152.68 L339.76 152.70 L339.79 152.72 L339.83 152.74 L339.87 152.76 L339.90 152.78 L339.94 152.81 L339.97 152.83 L340.01 152.85 L340.05 152.87 L340.08 152.89 L340.12 152.91 L340.15 152.93 L340.19 152.95 L340.22 152.97 L340.26 152.99 L340.30 153.02 L340.33 153.04 L340.37 153.06 L340.40 153.08 L340.44 153.10 L340.47 153.12 L340.51 153.14 L340.55 153.16 L340.58 153.18 L340.62 153.20 L340.65 153.22 L340.69 153.24 L340.73 153.26 L340.76 153.28 L340.80 153.30 L340.83 153.32 L340.87 153.34 L340.90 153.36 L340.94 153.38 L340.98 153.40 L341.01 153.42 L341.05 153.44 L341.08 153.45 L341.12 153.47 L341.15 153.49 L341.19 153.51 L341.23 153.53 L341.26 153.55 L341.30 153.57 L341.33 153.59 L341.37 153.61 L341.41 153.63 L341.44 153.65 L341.48 153.66 L341.51 153.68 L341.55 153.70 L341.58 153.72 L341.62 153.74 L341.66 153.76 L341.69 153.78 L341.73 153.79 L341.76 153.81 L341.80 153.83 L341.83 153.85 L341.87 153.87 L341.91 153.88 L341.94 153.90 L341.98 153.92 L342.01 153.94 L342.05 153.96 L342.09 153.97 L342.12 153.99 L342.16 154.01 L342.19 154.03 L342.23 154.04 L342.26 154.06 L342.30 154.08 L342.34 154.10 L342.37 154.11 L342.41 154.13 L342.44 154.15 L342.48 154.16 L342.51 154.18 L342.55 154.20 L342.59 154.22 L342.62 154.23 L342.66 154.25 L342.69 154.27 L342.73 154.28 L342.77 154.30 L342.80 154.32 L342.84 154.33 L342.87 154.35 L342.91 154.37 L342.94 154.38 L342.98 154.40 L343.02 154.42 L343.05 154.43 L343.09 154.45 L343.12 154.46 L343.16 154.48 L343.19 154.50 L343.23 154.51 L343.27 154.53 L343.30 154.54 L343.34 154.56 L343.37 154.58 L343.41 154.59 L343.45 154.61 L343.48 154.62 L343.52 154.64 L343.55 154.65 L343.59 154.67 L343.62 154.68 L343.66 154.70 L343.70 154.72 L343.73 154.73 L343.77 154.75 L343.80 154.76 L343.84 154.78 L343.88 154.79 L343.91 154.81 L343.95 154.82 L343.98 154.84 L344.02 154.85 L344.05 154.87 L344.09 154.88 L344.13 154.89 L344.16 154.91 L344.20 154.92 L344.23 154.94 L344.27 154.95 L344.30 154.97 L344.34 154.98 L344.38 155.00 L344.41 155.01 L344.45 155.03 L344.48 155.04 L344.52 155.05 L344.56 155.07 L344.59 155.08 L344.63 155.10 L344.66 155.11 L344.70 155.12 L344.73 155.14 L344.77 155.15 L344.81 155.17 L344.84 155.18 L344.88 155.19 L344.91 155.21 L344.95 155.22 L344.98 155.23 L345.02 155.25 L345.06 155.26 L345.09 155.27 L345.13 155.29 L345.16 155.30 L345.20 155.31 L345.24 155.33 L345.27 155.34 L345.31 155.35 L345.34 155.37 L345.38 155.38 L345.41 155.39 L345.45 155.41 L345.49 155.42 L345.52 155.43 L345.56 155.44 L345.59 155.46 L345.63 155.47 L345.66 155.48 L345.70 155.50 L345.74 155.51 L345.77 155.52 L345.81 155.53 L345.84 155.55 L345.88 155.56 L345.92 155.57 L345.95 155.58 L345.99 155.60 L346.02 155.61 L346.06 155.62 L346.09 155.63 L346.13 155.64 L346.17 155.66 L346.20 155.67 L346.24 155.68 L346.27 155.69 L346.31 155.70 L346.34 155.72 L346.38 155.73 L346.42 155.74 L346.45 155.75 L346.49 155.76 L346.52 155.78 L346.56 155.79 L346.60 155.80 L346.63 155.81 L346.67 155.82 L346.70 155.83 L346.74 155.84 L346.77 155.86 L346.81 155.87 L346.85 155.88 L346.88 155.89 L346.92 155.90 L346.95 155.91 L346.99 155.92 L347.02 155.93 L347.06 155.95 L347.10 155.96 L347.13 155.97 L347.17 155.98 L347.20 155.99 L347.24 156.00 L347.28 156.01 L347.31 156.02 L347.35 156.03 L347.38 156.04 L347.42 156.05 L347.45 156.07 L347.49 156.08 L347.53 156.09 L347.56 156.10 L347.60 156.11 L347.63 156.12 L347.67 156.13 L347.70 156.14 L347.74 156.15 L347.78 156.16 L347.81 156.17 L347.85 156.18 L347.88 156.19 L347.92 156.20 L347.96 156.21 L347.99 156.22 L348.03 156.23 L348.06 156.24 L348.10 156.25 L348.13 156.26 L348.17 156.27 L348.21 156.28 L348.24 156.29 L348.28 156.30 L348.31 156.31 L348.35 156.32 L348.38 156.33 L348.42 156.34 L348.46 156.35 L348.49 156.36 L348.53 156.37 L348.56 156.38 L348.60 156.39 L348.64 156.40 L348.67 156.41 L348.71 156.42 L348.74 156.43 L348.78 156.44 L348.81 156.44 L348.85 156.45 L348.89 156.46 L348.92 156.47 L348.96 156.48 L348.99 156.49 L349.03 156.50 L349.06 156.51 L349.10 156.52 L349.14 156.53 L349.17 156.54 L349.21 156.55 L349.24 156.55 L349.28 156.56 L349.32 156.57 L349.35 156.58 L349.39 156.59 L349.42 156.60 L349.46 156.61 L349.49 156.62 L349.53 156.62 L349.57 156.63 L349.60 156.64 L349.64 156.65 L349.67 156.66 L349.71 156.67 L349.74 156.68 L349.78 156.68 L349.82 156.69 L349.85 156.70 L349.89 156.71 L349.92 156.72 L349.96 156.73 L350.00 156.73 L350.03 156.74 L350.07 156.75 L350.10 156.76 L350.14 156.77 L350.17 156.78 L350.21 156.78 L350.25 156.79 L350.28 156.80 L350.32 156.81 L350.35 156.82 L350.39 156.82 L350.42 156.83 L350.46 156.84 L350.50 156.85 L350.53 156.86 L350.57 156.86 L350.60 156.87 L350.64 156.88 L350.68 156.89 L350.71 156.89 L350.75 156.90 L350.78 156.91 L350.82 156.92 L350.85 156.93 L350.89 156.93 L350.93 156.94 L350.96 156.95 L351.00 156.96 L351.03 156.96 L351.07 156.97 L351.10 156.98 L351.14 156.99 L351.18 156.99 L351.21 157.00 L351.25 157.01 L351.28 157.02 L351.32 157.02 L351.36 157.03 L351.39 157.04 L351.43 157.04 L351.46 157.05 L351.50 157.06 L351.53 157.07 L351.57 157.07 L351.61 157.08 L351.64 157.09 L351.68 157.09 L351.71 157.10 L351.75 157.11 L351.78 157.11 L351.82 157.12 L351.86 157.13 L351.89 157.14 L351.93 157.14 L351.96 157.15 L352.00 157.16 L352.04 157.16 L352.07 157.17 L352.11 157.18 L352.14 157.18 L352.18 157.19 L352.21 157.20 L352.25 157.20 L352.29 157.21 L352.32 157.22 L352.36 157.22 L352.39 157.23 L352.43 157.24 L352.47 157.24 L352.50 157.25 L352.54 157.26 L352.57 157.26 L352.61 157.27 L352.64 157.27 L352.68 157.28 L352.72 157.29 L352.75 157.29 L352.79 157.30 L352.82 157.31 L352.86 157.31 L352.89 157.32 L352.93 157.32 L352.97 157.33 L353.00 157.34 L353.04 157.34 L353.07 157.35 L353.11 157.36 L353.15 157.36 L353.18 157.37 L353.22 157.37 L353.25 157.38 L353.29 157.39 L353.32 157.39 L353.36 157.40 L353.40 157.40 L353.43 157.41 L353.47 157.42 L353.50 157.42 L353.54 157.43 L353.57 157.43 L353.61 157.44 L353.65 157.44 L353.68 157.45 L353.72 157.46 L353.75 157.46 L353.79 157.47 L353.83 157.47 L353.86 157.48 L353.90 157.48 L353.93 157.49 L353.97 157.50 L354.00 157.50 L354.04 157.51 L354.08 157.51 L354.11 157.52 L354.15 157.52 L354.18 157.53 L354.22 157.53 L354.25 157.54 L354.29 157.55 L354.33 157.55 L354.36 157.56 L354.40 157.56 L354.43 157.57 L354.47 157.57 L354.51 157.58 L354.54 157.58 L354.58 157.59 L354.61 157.59 L354.65 157.60 L354.68 157.60 L354.72 157.61 L354.76 157.61 L354.79 157.62 L354.83 157.62 L354.86 157.63 L354.90 157.63 L354.93 157.64 L354.97 157.64 L355.01 157.65 L355.04 157.65 L355.08 157.66 L355.11 157.67 L355.15 157.67 L355.19 157.67 L355.22 157.68 L355.26 157.68 L355.29 157.69 L355.33 157.69 L355.36 157.70 L355.40 157.70 L355.44 157.71 L355.47 157.71 L355.51 157.72 L355.54 157.72 L355.58 157.73 L355.61 157.73 L355.65 157.74 L355.69 157.74 L355.72 157.75 L355.76 157.75 L355.79 157.76 L355.83 157.76 L355.87 157.77 L355.90 157.77 L355.94 157.78 L355.97 157.78 L356.01 157.78 L356.04 157.79 L356.08 157.79 L356.12 157.80 L356.15 157.80 L356.19 157.81 L356.22 157.81 L356.26 157.82 L356.29 157.82 L356.33 157.83 L356.37 157.83 L356.40 157.83 L356.44 157.84 L356.47 157.84 L356.51 157.85 L356.55 157.85 L356.58 157.86 L356.62 157.86 L356.65 157.86 L356.69 157.87 L356.72 157.87 L356.76 157.88 L356.80 157.88 L356.83 157.89 L356.87 157.89 L356.90 157.89 L356.94 157.90 L356.97 157.90 L357.01 157.91 L357.05 157.91 L357.08 157.92 L357.12 157.92 L357.15 157.92 L357.19 157.93 L357.23 157.93 L357.26 157.94 L357.30 157.94 L357.33 157.94 L357.37 157.95 L357.40 157.95 L357.44 157.96 L357.48 157.96 L357.51 157.96 L357.55 157.97 L357.58 157.97 L357.62 157.98 L357.65 157.98 L357.69 157.98 L357.73 157.99 L357.76 157.99 L357.80 158.00 L357.83 158.00 L357.87 158.00 L357.91 158.01 L357.94 158.01 L357.98 158.01 L358.01 158.02 L358.05 158.02 L358.08 158.03 L358.12 158.03 L358.16 158.03 L358.19 158.04 L358.23 158.04 L358.26 158.04 L358.30 158.05 L358.33 158.05 L358.37 158.06 L358.41 158.06 L358.44 158.06 L358.48 158.07 L358.51 158.07 L358.55 158.07 L358.59 158.08 L358.62 158.08 L358.66 158.08 L358.69 158.09 L358.73 158.09 L358.76 158.09 L358.80 158.10 L358.84 158.10 L358.87 158.11 L358.91 158.11 L358.94 158.11 L358.98 158.12 L359.01 158.12 L359.05 158.12 L359.09 158.13 L359.12 158.13 L359.16 158.13 L359.19 158.14 L359.23 158.14 L359.27 158.14 L359.30 158.15 L359.34 158.15 L359.37 158.15 L359.41 158.16 L359.44 158.16 L359.48 158.16 L359.52 158.17 L359.55 158.17 L359.59 158.17 L359.62 158.18 L359.66 158.18 L359.69 158.18 L359.73 158.19 L359.77 158.19 L359.80 158.19 L359.84 158.20 L359.87 158.20 L359.91 158.20 L359.95 158.20 L359.98 158.21 L360.02 158.21 L360.05 158.21 L360.09 158.22 L360.12 158.22 L360.16 158.22 L360.20 158.23 L360.23 158.23 L360.27 158.23 L360.30 158.24 L360.34 158.24 L360.37 158.24 L360.41 158.24 L360.45 158.25 L360.48 158.25 L360.52 158.25 L360.55 158.26 L360.59 158.26 L360.63 158.26 L360.66 158.27 L360.70 158.27 L360.73 158.27 L360.77 158.27 L360.80 158.28 L360.84 158.28 L360.88 158.28 L360.91 158.29 L360.95 158.29 L360.98 158.29 L361.02 158.29 L361.06 158.30 L361.09 158.30 L361.13 158.30 L361.16 158.31 L361.20 158.31 L361.23 158.31 L361.27 158.31 L361.31 158.32 L361.34 158.32 L361.38 158.32 L361.41 158.33 L361.45 158.33 L361.48 158.33 L361.52 158.33 L361.56 158.34 L361.59 158.34 L361.63 158.34 L361.66 158.34 L361.70 158.35 L361.74 158.35 L361.77 158.35 L361.81 158.35 L361.84 158.36 L361.88 158.36 L361.91 158.36 L361.95 158.37 L361.99 158.37 L362.02 158.37 L362.06 158.37 L362.09 158.38 L362.13 158.38 L362.16 158.38 L362.20 158.38 L362.24 158.39 L362.27 158.39 L362.31 158.39 L362.34 158.39 L362.38 158.40 L362.42 158.40 L362.45 158.40 L362.49 158.40 L362.52 158.41 L362.56 158.41 L362.59 158.41 L362.63 158.41 L362.67 158.42 L362.70 158.42 L362.74 158.42 L362.77 158.42 L362.81 158.43 L362.84 158.43 L362.88 158.43 L362.92 158.43 L362.95 158.44 L362.99 158.44 L363.02 158.44 L363.06 158.44 L363.10 158.44 L363.13 158.45 L363.17 158.45 L363.20 158.45 L363.24 158.45 L363.27 158.46 L363.31 158.46 L363.35 158.46 L363.38 158.46 L363.42 158.47 L363.45 158.47 L363.49 158.47 L363.52 158.47 L363.56 158.47 L363.60 158.48 L363.63 158.48 L363.67 158.48 L363.70 158.48 L363.74 158.49 L363.78 158.49 L363.81 158.49 L363.85 158.49 L363.88 158.49 L363.92 158.50 L363.95 158.50 L363.99 158.50 L364.03 158.50 L364.06 158.51 L364.10 158.51 L364.13 158.51 L364.17 158.51 L364.20 158.51 L364.24 158.52 L364.28 158.52 L364.31 158.52 L364.35 158.52 L364.38 158.52 L364.42 158.53 L364.46 158.53 L364.49 158.53 L364.53 158.53 L364.56 158.54 L364.60 158.54 L364.63 158.54 L364.67 158.54 L364.71 158.54 L364.74 158.55 L364.78 158.55 L364.81 158.55 L364.85 158.55 L364.88 158.55 L364.92 158.56 L364.96 158.56 L364.99 158.56 L365.03 158.56 L365.06 158.56 L365.10 158.57 L365.14 158.57 L365.17 158.57 L365.21 158.57 L365.24 158.57 L365.28 158.58 L365.31 158.58 L365.35 158.58 L365.39 158.58 L365.42 158.58 L365.46 158.58 L365.49 158.59 L365.53 158.59 L365.56 158.59 L365.60 158.59 L365.64 158.59 L365.67 158.60 L365.71 158.60 L365.74 158.60 L365.78 158.60 L365.82 158.60 L365.85 158.61 L365.89 158.61 L365.92 158.61 L365.96 158.61 L365.99 158.61 L366.03 158.61 L366.07 158.62 L366.10 158.62 L366.14 158.62 L366.17 158.62 L366.21 158.62 L366.24 158.63 L366.28 158.63 L366.32 158.63 L366.35 158.63 L366.39 158.63 L366.42 158.63 L366.46 158.64 L366.50 158.64 L366.53 158.64 L366.57 158.64 L366.60 158.64 L366.64 158.64 L366.67 158.65 L366.71 158.65 L366.75 158.65 L366.78 158.65 L366.82 158.65 L366.85 158.65 L366.89 158.66 L366.92 158.66 L366.96 158.66 L367.00 158.66 L367.03 158.66 L367.07 158.66 L367.10 158.67 L367.14 158.67 L367.18 158.67 L367.21 158.67 L367.25 158.67 L367.28 158.67 L367.32 158.68 L367.35 158.68 L367.39 158.68 L367.43 158.68 L367.46 158.68 L367.50 158.68 L367.53 158.69 L367.57 158.69 L367.60 158.69 L367.64 158.69 L367.68 158.69 L367.71 158.69 L367.75 158.70 L367.78 158.70 L367.82 158.70 L367.86 158.70 L367.89 158.70 L367.93 158.70 L367.96 158.70 L368.00 158.71 L368.03 158.71 L368.07 158.71 L368.11 158.71 L368.14 158.71 L368.18 158.71 L368.21 158.72 L368.25 158.72 L368.28 158.72 L368.32 158.72 L368.36 158.72 L368.39 158.72 L368.43 158.72 L368.46 158.73 L368.50 158.73 L368.54 158.73 L368.57 158.73 L368.61 158.73 L368.64 158.73 L368.68 158.73 L368.71 158.74 L368.75 158.74 L368.79 158.74 L368.82 158.74 L368.86 158.74 L368.89 158.74 L368.93 158.74 L368.96 158.75 L369.00 158.75 L369.04 158.75 L369.07 158.75 L369.11 158.75 L369.14 158.75 L369.18 158.75 L369.22 158.76 L369.25 158.76 L369.29 158.76 L369.32 158.76 L369.36 158.76 L369.39 158.76 L369.43 158.76 L369.47 158.76 L369.50 158.77 L369.54 158.77 L369.57 158.77 L369.61 158.77 L369.64 158.77 L369.68 158.77 L369.72 158.77 L369.75 158.78 L369.79 158.78 L369.82 158.78 L369.86 158.78 L369.90 158.78 L369.93 158.78 L369.97 158.78 L370.00 158.78 L370.04 158.79 L370.07 158.79 L370.11 158.79 L370.15 158.79 L370.18 158.79 L370.22 158.79 L370.25 158.79 L370.29 158.79 L370.33 158.80 L370.36 158.80 L370.40 158.80 L370.43 158.80 L370.47 158.80 L370.50 158.80 L370.54 158.80 L370.58 158.80 L370.61 158.81 L370.65 158.81 L370.68 158.81 L370.72 158.81 L370.75 158.81 L370.79 158.81 L370.83 158.81 L370.86 158.81 L370.90 158.82 L370.93 158.82 L370.97 158.82 L371.01 158.82 L371.04 158.82 L371.08 158.82 L371.11 158.82 L371.15 158.82 L371.18 158.83 L371.22 158.83 L371.26 158.83 L371.29 158.83 L371.33 158.83 L371.36 158.83 L371.40 158.83 L371.43 158.83 L371.47 158.83 L371.51 158.84 L371.54 158.84 L371.58 158.84 L371.61 158.84 L371.65 158.84 L371.69 158.84 L371.72 158.84 L371.76 158.84 L371.79 158.84 L371.83 158.85 L371.86 158.85 L371.90 158.85 L371.94 158.85 L371.97 158.85 L372.01 158.85 L372.04 158.85 L372.08 158.85 L372.11 158.85 L372.15 158.86 L372.19 158.86 L372.22 158.86 L372.26 158.86 L372.29 158.86 L372.33 158.86 L372.37 158.86 L372.40 158.86 L372.44 158.86 L372.47 158.86 L372.51 158.87 L372.54 158.87 L372.58 158.87 L372.62 158.87 L372.65 158.87 L372.69 158.87 L372.72 158.87 L372.76 158.87 L372.79 158.87 L372.83 158.88 L372.87 158.88 L372.90 158.88 L372.94 158.88 L372.97 158.88 L373.01 158.88 L373.05 158.88 L373.08 158.88 L373.12 158.88 L373.15 158.88 L373.19 158.89 L373.22 158.89 L373.26 158.89 L373.30 158.89 L373.33 158.89 L373.37 158.89 L373.40 158.89 L373.44 158.89 L373.47 158.89 L373.51 158.89 L373.55 158.90 L373.58 158.90 L373.62 158.90 L373.65 158.90 L373.69 158.90 L373.73 158.90 L373.76 158.90 L373.80 158.90 L373.83 158.90 L373.87 158.90 L373.90 158.90 L373.94 158.91 L373.98 158.91 L374.01 158.91 L374.05 158.91 L374.08 158.91 L374.12 158.91 L374.15 158.91 L374.19 158.91 L374.23 158.91 L374.26 158.91 L374.30 158.91 L374.33 158.92 L374.37 158.92 L374.41 158.92 L374.44 158.92 L374.48 158.92 L374.51 158.92 L374.55 158.92 L374.58 158.92 L374.62 158.92 L374.66 158.92 L374.69 158.92 L374.73 158.93 L374.76 158.93 L374.80 158.93 L374.83 158.93 L374.87 158.93 L374.91 158.93 L374.94 158.93 L374.98 158.93 L375.01 158.93 L375.05 158.93 L375.09 158.93 L375.12 158.94 L375.16 158.94 L375.19 158.94 L375.23 158.94 L375.26 158.94 L375.30 158.94 L375.34 158.94 L375.37 158.94 L375.41 158.94 L375.44 158.94 L375.48 158.94 L375.51 158.94 L375.55 158.95 L375.59 158.95 L375.62 158.95 L375.66 158.95 L375.69 158.95 L375.73 158.95 L375.77 158.95 L375.80 158.95 L375.84 158.95 L375.87 158.95 L375.91 158.95 L375.94 158.95 L375.98 158.95 L376.02 158.96 L376.05 158.96 L376.09 158.96 L376.12 158.96 L376.16 158.96 L376.19 158.96 L376.23 158.96 L376.27 158.96 L376.30 158.96 L376.34 158.96 L376.37 158.96 L376.41 158.96 L376.45 158.96 L376.48 158.97 L376.52 158.97 L376.55 158.97 L376.59 158.97 L376.62 158.97 L376.66 158.97 L376.70 158.97 L376.73 158.97 L376.77 158.97 L376.80 158.97 L376.84 158.97 L376.87 158.97 L376.91 158.97 L376.95 158.98 L376.98 158.98 L377.02 158.98 L377.05 158.98 L377.09 158.98 L377.13 158.98 L377.16 158.98 L377.20 158.98 L377.23 158.98 L377.27 158.98 L377.30 158.98 L377.34 158.98 L377.38 158.98 L377.41 158.98 L377.45 158.99 L377.48 158.99 L377.52 158.99 L377.55 158.99 L377.59 158.99 L377.63 158.99 L377.66 158.99 L377.70 158.99 L377.73 158.99 L377.77 158.99 L377.81 158.99 L377.84 158.99 L377.88 158.99 L377.91 158.99 L377.95 159.00 L377.98 159.00 L378.02 159.00 L378.06 159.00 L378.09 159.00 L378.13 159.00 L378.16 159.00 L378.20 159.00 L378.24 159.00 L378.27 159.00 L378.31 159.00 L378.34 159.00 L378.38 159.00 L378.41 159.00 L378.45 159.00 L378.49 159.01 L378.52 159.01 L378.56 159.01 L378.59 159.01 L378.63 159.01 L378.66 159.01 L378.70 159.01 L378.74 159.01 L378.77 159.01 L378.81 159.01 L378.84 159.01 L378.88 159.01 L378.92 159.01 L378.95 159.01 L378.99 159.01 L379.02 159.01 L379.06 159.02 L379.09 159.02 L379.13 159.02 L379.17 159.02 L379.20 159.02 L379.24 159.02 L379.27 159.02 L379.31 159.02 L379.34 159.02 L379.38 159.02 L379.42 159.02 L379.45 159.02 L379.49 159.02 L379.52 159.02 L379.56 159.02 L379.60 159.02 L379.63 159.03 L379.67 159.03 L379.70 159.03 L379.74 159.03 L379.77 159.03 L379.81 159.03 L379.85 159.03 L379.88 159.03 L379.92 159.03 L379.95 159.03 L379.99 159.03 L380.02 159.03 L380.06 159.03 L380.10 159.03 L380.13 159.03 L380.17 159.03 L380.20 159.03 L380.24 159.04 L380.28 159.04 L380.31 159.04 L380.35 159.04 L380.38 159.04 L380.42 159.04 L380.45 159.04 L380.49 159.04 L380.53 159.04 L380.56 159.04 L380.60 159.04 L380.63 159.04 L380.67 159.04 L380.70 159.04 L380.74 159.04 L380.78 159.04 L380.81 159.04 L380.85 159.05 L380.88 159.05 L380.92 159.05 L380.96 159.05 L380.99 159.05 L381.03 159.05 L381.06 159.05 L381.10 159.05 L381.13 159.05 L381.17 159.05 L381.21 159.05 L381.24 159.05 L381.28 159.05 L381.31 159.05 L381.35 159.05 L381.38 159.05 L381.42 159.05 L381.46 159.05 L381.49 159.05 L381.53 159.06 L381.56 159.06 L381.60 159.06 L381.64 159.06 L381.67 159.06 L381.71 159.06 L381.74 159.06 L381.78 159.06 L381.81 159.06 L381.85 159.06 L381.89 159.06 L381.92 159.06 L381.96 159.06 L381.99 159.06 L382.03 159.06 L382.06 159.06 L382.10 159.06 L382.14 159.06 L382.17 159.06 L382.21 159.06 L382.24 159.07 L382.28 159.07 L382.32 159.07 L382.35 159.07 L382.39 159.07 L382.42 159.07 L382.46 159.07 L382.49 159.07 L382.53 159.07 L382.57 159.07 L382.60 159.07 L382.64 159.07 L382.67 159.07 L382.71 159.07 L382.74 159.07 L382.78 159.07 L382.82 159.07 L382.85 159.07 L382.89 159.07 L382.92 159.07 L382.96 159.08 L383.00 159.08 L383.03 159.08 L383.07 159.08 L383.10 159.08 L383.14 159.08 L383.17 159.08 L383.21 159.08 L383.25 159.08 L383.28 159.08 L383.32 159.08 L383.35 159.08 L383.39 159.08 L383.42 159.08 L383.46 159.08 L383.50 159.08 L383.53 159.08 L383.57 159.08 L383.60 159.08 L383.64 159.08 L383.68 159.08 L383.71 159.08 L383.75 159.09 L383.78 159.09 L383.82 159.09 L383.85 159.09 L383.89 159.09 L383.93 159.09 L383.96 159.09 L384.00 159.09 L384.03 159.09 L384.07 159.09 L384.10 159.09 L384.14 159.09 L384.18 159.09 L384.21 159.09 L384.25 159.09 L384.28 159.09 L384.32 159.09 L384.36 159.09 L384.39 159.09 L384.43 159.09 L384.46 159.09 L384.50 159.09 L384.53 159.09 L384.57 159.10 L384.61 159.10 L384.64 159.10 L384.68 159.10 L384.71 159.10 L384.75 159.10 L384.78 159.10 L384.82 159.10 L384.86 159.10 L384.89 159.10 L384.93 159.10 L384.96 159.10 L385.00 159.10 L385.04 159.10 L385.07 159.10 L385.11 159.10 L385.14 159.10 L385.18 159.10 L385.21 159.10 L385.25 159.10 L385.29 159.10 L385.32 159.10 L385.36 159.10 L385.39 159.10 L385.43 159.11 L385.46 159.11 L385.50 159.11 L385.54 159.11 L385.57 159.11 L385.61 159.11 L385.64 159.11 L385.68 159.11 L385.72 159.11 L385.75 159.11 L385.79 159.11 L385.82 159.11 L385.86 159.11 L385.89 159.11 L385.93 159.11 L385.97 159.11 L386.00 159.11 L386.04 159.11 L386.07 159.11 L386.11 159.11 L386.14 159.11 L386.18 159.11 L386.22 159.11 L386.25 159.11 L386.29 159.11 L386.32 159.11 L386.36 159.12 L386.40 159.12 L386.43 159.12 L386.47 159.12 L386.50 159.12 L386.54 159.12 L386.57 159.12 L386.61 159.12 L386.65 159.12 L386.68 159.12 L386.72 159.12 L386.75 159.12 L386.79 159.12 L386.83 159.12 L386.86 159.12 L386.90 159.12 L386.93 159.12 L386.97 159.12 L387.00 159.12 L387.04 159.12 L387.08 159.12 L387.11 159.12 L387.15 159.12 L387.18 159.12 L387.22 159.12 L387.25 159.12 L387.29 159.12 L387.33 159.12 L387.36 159.13 L387.40 159.13 L387.43 159.13 L387.47 159.13 L387.51 159.13 L387.54 159.13 L387.58 159.13 L387.61 159.13 L387.65 159.13 L387.68 159.13 L387.72 159.13 L387.76 159.13 L387.79 159.13 L387.83 159.13 L387.86 159.13 L387.90 159.13 L387.93 159.13 L387.97 159.13 L388.01 159.13 L388.04 159.13 L388.08 159.13 L388.11 159.13 L388.15 159.13 L388.19 159.13 L388.22 159.13 L388.26 159.13 L388.29 159.13 L388.33 159.13 L388.36 159.13 L388.40 159.13 L388.44 159.14 L388.47 159.14 L388.51 159.14 L388.54 159.14 L388.58 159.14 L388.61 159.14 L388.65 159.14 L388.69 159.14 L388.72 159.14 L388.76 159.14 L388.79 159.14 L388.83 159.14 L388.87 159.14 L388.90 159.14 L388.94 159.14 L388.97 159.14 L389.01 159.14 L389.04 159.14 L389.08 159.14 L389.12 159.14 L389.15 159.14 L389.19 159.14 L389.22 159.14 L389.26 159.14 L389.29 159.14 L389.33 159.14 L389.37 159.14 L389.40 159.14 L389.44 159.14 L389.47 159.14 L389.51 159.14 L389.55 159.14 L389.58 159.15 L389.62 159.15 L389.65 159.15 L389.69 159.15 L389.72 159.15 L389.76 159.15 L389.80 159.15 L389.83 159.15 L389.87 159.15 L389.90 159.15 L389.94 159.15 L389.97 159.15 L390.01 159.15 L390.05 159.15 L390.08 159.15 L390.12 159.15 L390.15 159.15 L390.19 159.15 L390.23 159.15 L390.26 159.15 L390.30 159.15 L390.33 159.15 L390.37 159.15 L390.40 159.15 L390.44 159.15 L390.48 159.15 L390.51 159.15 L390.55 159.15 L390.58 159.15 L390.62 159.15 L390.65 159.15 L390.69 159.15 L390.73 159.15 L390.76 159.15 L390.80 159.15 L390.83 159.16 L390.87 159.16 L390.91 159.16 L390.94 159.16 L390.98 159.16 L391.01 159.16 L391.05 159.16 L391.08 159.16 L391.12 159.16 L391.16 159.16 L391.19 159.16 L391.23 159.16 L391.26 159.16 L391.30 159.16 L391.33 159.16 L391.37 159.16 L391.41 159.16 L391.44 159.16 L391.48 159.16 L391.51 159.16 L391.55 159.16 L391.59 159.16 L391.62 159.16 L391.66 159.16 L391.69 159.16 L391.73 159.16 L391.76 159.16 L391.80 159.16 L391.84 159.16 L391.87 159.16 L391.91 159.16 L391.94 159.16 L391.98 159.16 L392.01 159.16 L392.05 159.16 L392.09 159.16 L392.12 159.16 L392.16 159.16 L392.19 159.17 L392.23 159.17 L392.27 159.17 L392.30 159.17 L392.34 159.17 L392.37 159.17 L392.41 159.17 L392.44 159.17 L392.48 159.17 L392.52 159.17 L392.55 159.17 L392.59 159.17 L392.62 159.17 L392.66 159.17 L392.69 159.17 L392.73 159.17 L392.77 159.17 L392.80 159.17 L392.84 159.17 L392.87 159.17 L392.91 159.17 L392.95 159.17 L392.98 159.17 L393.02 159.17 L393.05 159.17 L393.09 159.17 L393.12 159.17 L393.16 159.17 L393.20 159.17 L393.23 159.17 L393.27 159.17 L393.30 159.17 L393.34 159.17 L393.37 159.17 L393.41 159.17 L393.45 159.17 L393.48 159.17 L393.52 159.17 L393.55 159.17 L393.59 159.17 L393.63 159.17 L393.66 159.18 L393.70 159.18 L393.73 159.18 L393.77 159.18 L393.80 159.18 L393.84 159.18 L393.88 159.18 L393.91 159.18 L393.95 159.18 L393.98 159.18 L394.02 159.18 L394.05 159.18 L394.09 159.18 L394.13 159.18 L394.16 159.18 L394.20 159.18 L394.23 159.18 L394.27 159.18 L394.31 159.18 L394.34 159.18 L394.38 159.18 L394.41 159.18 L394.45 159.18 L394.48 159.18 L394.52 159.18 L394.56 159.18 L394.59 159.18 L394.63 159.18 L394.66 159.18 L394.70 159.18 L394.73 159.18 L394.77 159.18 L394.81 159.18 L394.84 159.18 L394.88 159.18 L394.91 159.18 L394.95 159.18 L394.99 159.18 L395.02 159.18 L395.06 159.18 L395.09 159.18 L395.13 159.18 L395.16 159.18 L395.20 159.18 L395.24 159.18 L395.27 159.18 L395.31 159.19 L395.34 159.19 L395.38 159.19 L395.42 159.19 L395.45 159.19 L395.49 159.19 L395.52 159.19 L395.56 159.19 L395.59 159.19 L395.63 159.19 L395.67 159.19 L395.70 159.19 L395.74 159.19 L395.77 159.19 L395.81 159.19 L395.84 159.19 L395.88 159.19 L395.92 159.19 L395.95 159.19 L395.99 159.19 L396.02 159.19 L396.06 159.19 L396.10 159.19 L396.13 159.19 L396.17 159.19 L396.20 159.19 L396.24 159.19 L396.27 159.19 L396.31 159.19 L396.35 159.19 L396.38 159.19 L396.42 159.19 L396.45 159.19 L396.49 159.19 L396.52 159.19 L396.56 159.19 L396.60 159.19 L396.63 159.19 L396.67 159.19 L396.70 159.19 L396.74 159.19 L396.78 159.19 L396.81 159.19 L396.85 159.19 L396.88 159.19 L396.92 159.19 L396.95 159.19 L396.99 159.19 L397.03 159.19 L397.06 159.19 L397.10 159.19 L397.13 159.20 L397.17 159.20 L397.20 159.20 L397.24 159.20 L397.28 159.20 L397.31 159.20 L397.35 159.20 L397.38 159.20 L397.42 159.20 L397.46 159.20 L397.49 159.20 L397.53 159.20 L397.56 159.20 L397.60 159.20 L397.63 159.20 L397.67 159.20 L397.71 159.20 L397.74 159.20 L397.78 159.20 L397.81 159.20 L397.85 159.20 L397.88 159.20 L397.92 159.20 L397.96 159.20 L397.99 159.20 L398.03 159.20 L398.06 159.20 L398.10 159.20 L398.14 159.20 L398.17 159.20 L398.21 159.20 L398.24 159.20 L398.28 159.20 L398.31 159.20 L398.35 159.20 L398.39 159.20 L398.42 159.20 L398.46 159.20 L398.49 159.20 L398.53 159.20 L398.56 159.20 L398.60 159.20 L398.64 159.20 L398.67 159.20 L398.71 159.20 L398.74 159.20 L398.78 159.20 L398.82 159.20 L398.85 159.20 L398.89 159.20 L398.92 159.20 L398.96 159.20 L398.99 159.20 L399.03 159.20 L399.07 159.20 L399.10 159.20 L399.14 159.20 L399.17 159.21 L399.21 159.21 L399.24 159.21 L399.28 159.21 L399.32 159.21 L399.35 159.21 L399.39 159.21 L399.42 159.21 L399.46 159.21 L399.50 159.21 L399.53 159.21 L399.57 159.21 L399.60 159.21 L399.64 159.21 L399.67 159.21 L399.71 159.21 L399.75 159.21 L399.78 159.21 L399.82 159.21 L399.85 159.21 L399.89 159.21 L399.92 159.21 L399.96 159.21 L400.00 159.21 L400.03 159.21 L400.07 159.21 L400.10 159.21 L400.14 159.21 L400.18 159.21 L400.21 159.21 L400.25 159.21 L400.28 159.21 L400.32 159.21 L400.35 159.21 L400.39 159.21 L400.43 159.21 L400.46 159.21 L400.50 159.21 L400.53 159.21 L400.57 159.21 L400.60 159.21 L400.64 159.21 L400.68 159.21 L400.71 159.21 L400.75 159.21 L400.78 159.21 L400.82 159.21 L400.86 159.21 L400.89 159.21 L400.93 159.21 L400.96 159.21 L401.00 159.21 L401.03 159.21 L401.07 159.21 L401.11 159.21 L401.14 159.21 L401.18 159.21 L401.21 159.21 L401.25 159.21 L401.28 159.21 L401.32 159.21 L401.36 159.21 L401.39 159.21 L401.43 159.21 L401.46 159.21 L401.50 159.22 L401.54 159.22 L401.57 159.22 L401.61 159.22 L401.64 159.22 L401.68 159.22 L401.71 159.22 L401.75 159.22 L401.79 159.22 L401.82 159.22 L401.86 159.22 L401.89 159.22 L401.93 159.22 L401.96 159.22 L402.00 159.22 L402.04 159.22 L402.07 159.22 L402.11 159.22 L402.14 159.22 L402.18 159.22 L402.22 159.22 L402.25 159.22 L402.29 159.22 L402.32 159.22 L402.36 159.22 L402.39 159.22 L402.43 159.22 L402.47 159.22 L402.50 159.22 L402.54 159.22 L402.57 159.22 L402.61 159.22 L402.64 159.22 L402.68 159.22 L402.72 159.22 L402.75 159.22 L402.79 159.22 L402.82 159.22 L402.86 159.22 L402.90 159.22 L402.93 159.22 L402.97 159.22 L403.00 159.22 L403.04 159.22 L403.07 159.22 L403.11 159.22 L403.15 159.22 L403.18 159.22 L403.22 159.22 L403.25 159.22 L403.29 159.22 L403.32 159.22 L403.36 159.22 L403.40 159.22 L403.43 159.22 L403.47 159.22 L403.50 159.22 L403.54 159.22 L403.58 159.22 L403.61 159.22 L403.65 159.22 L403.68 159.22 L403.72 159.22 L403.75 159.22 L403.79 159.22 L403.83 159.22 L403.86 159.22 L403.90 159.22 L403.93 159.22 L403.97 159.22 L404.00 159.22 L404.04 159.22 L404.08 159.22 L404.11 159.22 L404.15 159.22 L404.18 159.23 L404.22 159.23 L404.26 159.23 L404.29 159.23 L404.33 159.23 L404.36 159.23 L404.40 159.23 L404.43 159.23 L404.47 159.23 L404.51 159.23 L404.54 159.23 L404.58 159.23 L404.61 159.23 L404.65 159.23 L404.69 159.23 L404.72 159.23 L404.76 159.23 L404.79 159.23 L404.83 159.23 L404.86 159.23 L404.90 159.23 L404.94 159.23 L404.97 159.23 L405.01 159.23 L405.04 159.23 L405.08 159.23 L405.11 159.23 L405.15 159.23 L405.19 159.23 L405.22 159.23 L405.26 159.23 L405.29 159.23 L405.33 159.23 L405.37 159.23 L405.40 159.23 L405.44 159.23 L405.47 159.23 L405.51 159.23 L405.54 159.23 L405.58 159.23 L405.62 159.23 L405.65 159.23 L405.69 159.23 L405.72 159.23 L405.76 159.23 L405.79 159.23 L405.83 159.23 L405.87 159.23 L405.90 159.23 L405.94 159.23 L405.97 159.23 L406.01 159.23 L406.05 159.23 L406.08 159.23 L406.12 159.23 L406.15 159.23 L406.19 159.23 L406.22 159.23 L406.26 159.23 L406.30 159.23 L406.33 159.23 L406.37 159.23 L406.40 159.23 L406.44 159.23 L406.47 159.23 L406.51 159.23 L406.55 159.23 L406.58 159.23 L406.62 159.23 L406.65 159.23 L406.69 159.23 L406.73 159.23 L406.76 159.23 L406.80 159.23 L406.83 159.23 L406.87 159.23 L406.90 159.23 L406.94 159.23 L406.98 159.23 L407.01 159.23 L407.05 159.23 L407.08 159.23 L407.12 159.23 L407.15 159.23 L407.19 159.23 L407.23 159.23 L407.26 159.23 L407.30 159.23 L407.33 159.23 L407.37 159.24 L407.41 159.24 L407.44 159.24 L407.48 159.24 L407.51 159.24 L407.55 159.24 L407.58 159.24 L407.62 159.24 L407.66 159.24 L407.69 159.24 L407.73 159.24 L407.76 159.24 L407.80 159.24 L407.83 159.24 L407.87 159.24 L407.91 159.24 L407.94 159.24 L407.98 159.24 L408.01 159.24 L408.05 159.24 L408.09 159.24 L408.12 159.24 L408.16 159.24 L408.19 159.24 L408.23 159.24 L408.26 159.24 L408.30 159.24" fill="none" stroke="#2f2fff" stroke-width="1.9" stroke-linejoin="round"/>
</g>
<rect x="48.50" y="3.80" width="172.50" height="159.00" fill="none" stroke="#000" stroke-width="1.3"/>
<path d="M59.28 162.30v-1.4M59.28 4.30v1.4M70.06 162.30v-1.4M70.06 4.30v1.4M80.84 162.30v-1.4M80.84 4.30v1.4M91.62 162.30v-2.0M91.62 4.30v2.0M102.41 162.30v-1.4M102.41 4.30v1.4M113.19 162.30v-1.4M113.19 4.30v1.4M123.97 162.30v-1.4M123.97 4.30v1.4M134.75 162.30v-2.0M134.75 4.30v2.0M145.53 162.30v-1.4M145.53 4.30v1.4M156.31 162.30v-1.4M156.31 4.30v1.4M167.09 162.30v-1.4M167.09 4.30v1.4M177.88 162.30v-2.0M177.88 4.30v2.0M188.66 162.30v-1.4M188.66 4.30v1.4M199.44 162.30v-1.4M199.44 4.30v1.4M210.22 162.30v-1.4M210.22 4.30v1.4M49.00 159.30h2.2M220.50 159.30h-2.2M49.00 144.05h1.4M220.50 144.05h-1.4M49.00 128.80h2.2M220.50 128.80h-2.2M49.00 113.55h1.4M220.50 113.55h-1.4M49.00 98.30h2.2M220.50 98.30h-2.2M49.00 83.05h1.4M220.50 83.05h-1.4M49.00 67.80h2.2M220.50 67.80h-2.2M49.00 52.55h1.4M220.50 52.55h-1.4M49.00 37.30h2.2M220.50 37.30h-2.2M49.00 22.05h1.4M220.50 22.05h-1.4M49.00 6.80h2.2M220.50 6.80h-2.2" stroke="#000" stroke-width="0.9" fill="none"/>
<text transform="translate(50.80,173.7) scale(1.1,1)" font-family="Liberation Sans, Arial, sans-serif" stroke="#000" stroke-width="0.25" font-size="10.6" text-anchor="middle" fill="#000">-4</text>
<text transform="translate(91.62,173.7) scale(1.1,1)" font-family="Liberation Sans, Arial, sans-serif" stroke="#000" stroke-width="0.25" font-size="10.6" text-anchor="middle" fill="#000">-2</text>
<text transform="translate(134.75,173.7) scale(1.1,1)" font-family="Liberation Sans, Arial, sans-serif" stroke="#000" stroke-width="0.25" font-size="10.6" text-anchor="middle" fill="#000">0</text>
<text transform="translate(177.88,173.7) scale(1.1,1)" font-family="Liberation Sans, Arial, sans-serif" stroke="#000" stroke-width="0.25" font-size="10.6" text-anchor="middle" fill="#000">2</text>
<text transform="translate(220.20,173.7) scale(1.1,1)" font-family="Liberation Sans, Arial, sans-serif" stroke="#000" stroke-width="0.25" font-size="10.6" text-anchor="middle" fill="#000">4</text>
<rect x="236.50" y="3.80" width="171.80" height="159.00" fill="none" stroke="#000" stroke-width="1.3"/>
<path d="M247.24 162.30v-1.4M247.24 4.30v1.4M257.98 162.30v-1.4M257.98 4.30v1.4M268.71 162.30v-1.4M268.71 4.30v1.4M279.45 162.30v-2.0M279.45 4.30v2.0M290.19 162.30v-1.4M290.19 4.30v1.4M300.93 162.30v-1.4M300.93 4.30v1.4M311.66 162.30v-1.4M311.66 4.30v1.4M322.40 162.30v-2.0M322.40 4.30v2.0M333.14 162.30v-1.4M333.14 4.30v1.4M343.88 162.30v-1.4M343.88 4.30v1.4M354.61 162.30v-1.4M354.61 4.30v1.4M365.35 162.30v-2.0M365.35 4.30v2.0M376.09 162.30v-1.4M376.09 4.30v1.4M386.83 162.30v-1.4M386.83 4.30v1.4M397.56 162.30v-1.4M397.56 4.30v1.4M237.00 159.30h2.2M407.80 159.30h-2.2M237.00 144.05h1.4M407.80 144.05h-1.4M237.00 128.80h2.2M407.80 128.80h-2.2M237.00 113.55h1.4M407.80 113.55h-1.4M237.00 98.30h2.2M407.80 98.30h-2.2M237.00 83.05h1.4M407.80 83.05h-1.4M237.00 67.80h2.2M407.80 67.80h-2.2M237.00 52.55h1.4M407.80 52.55h-1.4M237.00 37.30h2.2M407.80 37.30h-2.2M237.00 22.05h1.4M407.80 22.05h-1.4M237.00 6.80h2.2M407.80 6.80h-2.2" stroke="#000" stroke-width="0.9" fill="none"/>
<text transform="translate(237.30,173.7) scale(1.1,1)" font-family="Liberation Sans, Arial, sans-serif" stroke="#000" stroke-width="0.25" font-size="10.6" text-anchor="middle" fill="#000">-4</text>
<text transform="translate(279.45,173.7) scale(1.1,1)" font-family="Liberation Sans, Arial, sans-serif" stroke="#000" stroke-width="0.25" font-size="10.6" text-anchor="middle" fill="#000">-2</text>
<text transform="translate(322.40,173.7) scale(1.1,1)" font-family="Liberation Sans, Arial, sans-serif" stroke="#000" stroke-width="0.25" font-size="10.6" text-anchor="middle" fill="#000">0</text>
<text transform="translate(365.35,173.7) scale(1.1,1)" font-family="Liberation Sans, Arial, sans-serif" stroke="#000" stroke-width="0.25" font-size="10.6" text-anchor="middle" fill="#000">2</text>
<text transform="translate(407.50,173.7) scale(1.1,1)" font-family="Liberation Sans, Arial, sans-serif" stroke="#000" stroke-width="0.25" font-size="10.6" text-anchor="middle" fill="#000">4</text>
<text transform="translate(46.8,162.40) scale(1.1,1)" font-family="Liberation Sans, Arial, sans-serif" stroke="#000" stroke-width="0.25" font-size="10.4" text-anchor="end" fill="#000">0.0</text>
<text transform="translate(46.8,131.90) scale(1.1,1)" font-family="Liberation Sans, Arial, sans-serif" stroke="#000" stroke-width="0.25" font-size="10.4" text-anchor="end" fill="#000">0.2</text>
<text transform="translate(46.8,101.40) scale(1.1,1)" font-family="Liberation Sans, Arial, sans-serif" stroke="#000" stroke-width="0.25" font-size="10.4" text-anchor="end" fill="#000">0.4</text>
<text transform="translate(46.8,70.90) scale(1.1,1)" font-family="Liberation Sans, Arial, sans-serif" stroke="#000" stroke-width="0.25" font-size="10.4" text-anchor="end" fill="#000">0.6</text>
<text transform="translate(46.8,40.40) scale(1.1,1)" font-family="Liberation Sans, Arial, sans-serif" stroke="#000" stroke-width="0.25" font-size="10.4" text-anchor="end" fill="#000">0.8</text>
<text transform="translate(46.8,9.90) scale(1.1,1)" font-family="Liberation Sans, Arial, sans-serif" stroke="#000" stroke-width="0.25" font-size="10.4" text-anchor="end" fill="#000">1.0</text>
<text transform="translate(52.0,18.4) scale(0.86,1)" font-family="Liberation Sans, Arial, sans-serif" font-size="14.6" fill="#111">a)</text>
<text transform="translate(239.3,18.4) scale(0.86,1)" font-family="Liberation Sans, Arial, sans-serif" font-size="14.6" fill="#111">b)</text>
<g transform="translate(17.8,130.9) rotate(-90)" font-family="Liberation Serif, Times New Roman, serif" fill="#0a0a0a" stroke="#0a0a0a" stroke-width="0.22">
<text x="0.4" y="0.0" font-size="17.0" font-style="italic">S</text>
<text x="11.0" y="-6.6" font-size="13.2" font-style="italic" textLength="24.0" lengthAdjust="spacing">R/L</text>
<text x="36.4" y="0.8" font-size="16.5">[</text>
<text x="41.2" y="0.0" font-size="15.0" font-style="italic">ω</text>
<text x="50.6" y="0.8" font-size="16.5">]</text>
<text x="55.6" y="0.8" font-size="16.5">/</text>
<text x="61.0" y="0.0" font-size="17.0" font-style="italic">S</text>
<text x="71.5" y="-6.6" font-size="13.2" font-style="italic" textLength="22.5" lengthAdjust="spacing">R/L</text>
<text x="94.4" y="0.8" font-size="16.5" textLength="15.5" lengthAdjust="spacing">[0]</text>
</g>
<g font-family="Liberation Serif, Times New Roman, serif" fill="#0a0a0a" stroke="#0a0a0a" stroke-width="0.22">
<text x="173.40" y="20.00" text-anchor="middle"><tspan font-style="italic" font-size="16.8">γ</tspan><tspan font-size="12.2" dy="2.6">nr</tspan></text>
<rect x="162.80" y="25.55" width="21.20" height="0.9"/>
<text x="173.40" y="40.00" text-anchor="middle"><tspan font-style="italic" font-size="16.8">γ</tspan><tspan font-size="12.2" dy="2.6">r</tspan></text>
<text x="190.30" y="30.10" font-size="16.0" textLength="12.2" lengthAdjust="spacingAndGlyphs">=</text>
<text x="215.40" y="30.10" font-size="16.0" text-anchor="end">0</text>
</g>
<g font-family="Liberation Serif, Times New Roman, serif" fill="#0a0a0a" stroke="#0a0a0a" stroke-width="0.22">
<text x="356.40" y="19.30" text-anchor="middle"><tspan font-style="italic" font-size="15.1">γ</tspan><tspan font-size="10.9" dy="2.3">nr</tspan></text>
<rect x="347.00" y="24.25" width="18.80" height="0.9"/>
<text x="356.40" y="37.60" text-anchor="middle"><tspan font-style="italic" font-size="15.1">γ</tspan><tspan font-size="10.9" dy="2.3">r</tspan></text>
<text x="372.60" y="28.60" font-size="14.4" textLength="10.4" lengthAdjust="spacingAndGlyphs">=</text>
<text x="405.30" y="28.60" font-size="14.4" text-anchor="end">0.1</text>
</g>
<g font-family="Liberation Serif, Times New Roman, serif" fill="#0a0a0a" stroke="#0a0a0a" stroke-width="0.22">
<text x="351.85" y="67.30" text-anchor="middle"><tspan font-style="italic" font-size="14.7">γ</tspan><tspan font-size="10.6" dy="2.2">nr</tspan></text>
<rect x="342.70" y="72.25" width="18.30" height="0.9"/>
<text x="351.85" y="85.60" text-anchor="middle"><tspan font-style="italic" font-size="14.7">γ</tspan><tspan font-size="10.6" dy="2.2">r</tspan></text>
<text x="367.40" y="76.60" font-size="14.0" textLength="8.8" lengthAdjust="spacingAndGlyphs">=</text>
<text x="405.30" y="76.60" font-size="14.0" text-anchor="end">0.01</text>
</g>
<path d="M360.8 49.8h8.2M370.9 49.8h8.2M387.1 49.8h2.7M397.6 49.8h8" stroke="#33ff00" stroke-width="2" fill="none"/>
<path d="M361 93.9h44.5" stroke="#2f2fff" stroke-width="2.1" fill="none"/>
<rect x="46.20" y="187.20" width="363.60" height="293.60" fill="none" stroke="#000" stroke-width="1"/>
<text x="45.00" y="495.0" font-family="Liberation Sans, Arial, sans-serif" stroke="#000" stroke-width="0.25" font-size="11.3" text-anchor="middle" fill="#000">-4</text>
<text x="90.38" y="495.0" font-family="Liberation Sans, Arial, sans-serif" stroke="#000" stroke-width="0.25" font-size="11.3" text-anchor="middle" fill="#000">-3</text>
<text x="135.75" y="495.0" font-family="Liberation Sans, Arial, sans-serif" stroke="#000" stroke-width="0.25" font-size="11.3" text-anchor="middle" fill="#000">-2</text>
<text x="181.12" y="495.0" font-family="Liberation Sans, Arial, sans-serif" stroke="#000" stroke-width="0.25" font-size="11.3" text-anchor="middle" fill="#000">-1</text>
<text x="228.00" y="495.0" font-family="Liberation Sans, Arial, sans-serif" stroke="#000" stroke-width="0.25" font-size="11.3" text-anchor="middle" fill="#000">0</text>
<text x="273.38" y="495.0" font-family="Liberation Sans, Arial, sans-serif" stroke="#000" stroke-width="0.25" font-size="11.3" text-anchor="middle" fill="#000">1</text>
<text x="318.75" y="495.0" font-family="Liberation Sans, Arial, sans-serif" stroke="#000" stroke-width="0.25" font-size="11.3" text-anchor="middle" fill="#000">2</text>
<text x="364.12" y="495.0" font-family="Liberation Sans, Arial, sans-serif" stroke="#000" stroke-width="0.25" font-size="11.3" text-anchor="middle" fill="#000">3</text>
<text x="409.50" y="495.0" font-family="Liberation Sans, Arial, sans-serif" stroke="#000" stroke-width="0.25" font-size="11.3" text-anchor="middle" fill="#000">4</text>
<text x="43.6" y="484.20" font-family="Liberation Sans, Arial, sans-serif" stroke="#000" stroke-width="0.25" font-size="11.3" text-anchor="end" fill="#000">0</text>
<text x="45.6" y="426.50" font-family="Liberation Sans, Arial, sans-serif" stroke="#000" stroke-width="0.25" font-size="11.3" text-anchor="end" fill="#000">0.02</text>
<text x="45.6" y="367.90" font-family="Liberation Sans, Arial, sans-serif" stroke="#000" stroke-width="0.25" font-size="11.3" text-anchor="end" fill="#000">0.04</text>
<text x="45.6" y="309.30" font-family="Liberation Sans, Arial, sans-serif" stroke="#000" stroke-width="0.25" font-size="11.3" text-anchor="end" fill="#000">0.06</text>
<text x="45.6" y="250.70" font-family="Liberation Sans, Arial, sans-serif" stroke="#000" stroke-width="0.25" font-size="11.3" text-anchor="end" fill="#000">0.08</text>
<text x="45.6" y="192.10" font-family="Liberation Sans, Arial, sans-serif" stroke="#000" stroke-width="0.25" font-size="11.3" text-anchor="end" fill="#000">0.1</text>
<text x="51.5" y="201.6" font-family="Liberation Sans, Arial, sans-serif" font-size="12.5" fill="#fff">c)</text>
<g transform="translate(16.6,358) rotate(-90)" font-family="Liberation Serif, Times New Roman, serif" fill="#0a0a0a" stroke="#0a0a0a" stroke-width="0.22">
<text x="0.0" y="0.0" font-size="21.0" font-style="italic">γ</text>
<text x="9.4" y="3.6" font-size="13.5" textLength="11.0" lengthAdjust="spacing">nr</text>
<text transform="translate(26.3,1.2) scale(1.4,1)" font-size="21.5">⁄</text>
<text x="34.6" y="0.0" font-size="21.0" font-style="italic">γ</text>
<text x="44.0" y="3.6" font-size="13.5">r</text>
</g>
<g transform="translate(214.7,507.4)" font-family="Liberation Serif, Times New Roman, serif" fill="#0a0a0a" stroke="#0a0a0a" stroke-width="0.22">
<text x="0.0" y="0.0" font-size="18.5" font-style="italic">ω</text>
<text transform="translate(15.2,2.6) scale(0.95,1)" font-size="22">⁄</text>
<text x="20.3" y="0.0" font-size="21.0" font-style="italic">γ</text>
<text x="30.9" y="3.4" font-size="13.0">r</text>
</g>
<path d="M45.70 480.4H410.30" stroke="#000" stroke-width="1.3" fill="none"/>
<defs><linearGradient id="cbg" x1="0" y1="1" x2="0" y2="0">
<stop offset="0.0000" stop-color="#000000"/>
<stop offset="0.0267" stop-color="#0c0022"/>
<stop offset="0.0500" stop-color="#180064"/>
<stop offset="0.0733" stop-color="#2000b4"/>
<stop offset="0.1000" stop-color="#2800ff"/>
<stop offset="0.1333" stop-color="#3214ff"/>
<stop offset="0.1667" stop-color="#3a24ff"/>
<stop offset="0.2500" stop-color="#422cff"/>
<stop offset="0.3333" stop-color="#562afc"/>
<stop offset="0.3477" stop-color="#5e28fc"/>
<stop offset="0.3767" stop-color="#741cfc"/>
<stop offset="0.4007" stop-color="#9008ff"/>
<stop offset="0.4170" stop-color="#9a00f0"/>
<stop offset="0.4373" stop-color="#a000aa"/>
<stop offset="0.4577" stop-color="#a8005a"/>
<stop offset="0.4780" stop-color="#b00414"/>
<stop offset="0.4967" stop-color="#b40800"/>
<stop offset="0.5833" stop-color="#c81800"/>
<stop offset="0.6667" stop-color="#d83000"/>
<stop offset="0.7500" stop-color="#e65800"/>
<stop offset="0.8333" stop-color="#f08000"/>
<stop offset="0.9167" stop-color="#f0b004"/>
<stop offset="0.9667" stop-color="#eed610"/>
<stop offset="1.0000" stop-color="#ecec18"/>
</linearGradient></defs>
<rect x="357.20" y="191.00" width="14.50" height="240.00" fill="url(#cbg)" stroke="#000" stroke-width="1.5"/>
<path d="M357.20 391.00h3.2M371.70 391.00h-3.2M357.20 351.00h3.2M371.70 351.00h-3.2M357.20 311.00h3.2M371.70 311.00h-3.2M357.20 271.00h3.2M371.70 271.00h-3.2M357.20 231.00h3.2M371.70 231.00h-3.2" stroke="#000" stroke-width="1.3" fill="none"/>
<text x="374.3" y="432.70" font-family="Liberation Sans, Arial, sans-serif" font-size="11.2" fill="#fff">-13.5</text>
<text x="374.3" y="395.00" font-family="Liberation Sans, Arial, sans-serif" font-size="11.2" fill="#fff">-13</text>
<text x="374.3" y="355.00" font-family="Liberation Sans, Arial, sans-serif" font-size="11.2" fill="#fff">-12.5</text>
<text x="374.3" y="315.00" font-family="Liberation Sans, Arial, sans-serif" font-size="11.2" fill="#fff">-12</text>
<text x="374.3" y="275.00" font-family="Liberation Sans, Arial, sans-serif" font-size="11.2" fill="#fff">-11.5</text>
<text x="374.3" y="235.00" font-family="Liberation Sans, Arial, sans-serif" font-size="11.2" fill="#fff">-11</text>
<text x="374.3" y="198.00" font-family="Liberation Sans, Arial, sans-serif" font-size="11.2" fill="#fff">-10.5</text>
</svg>
</body></html>
